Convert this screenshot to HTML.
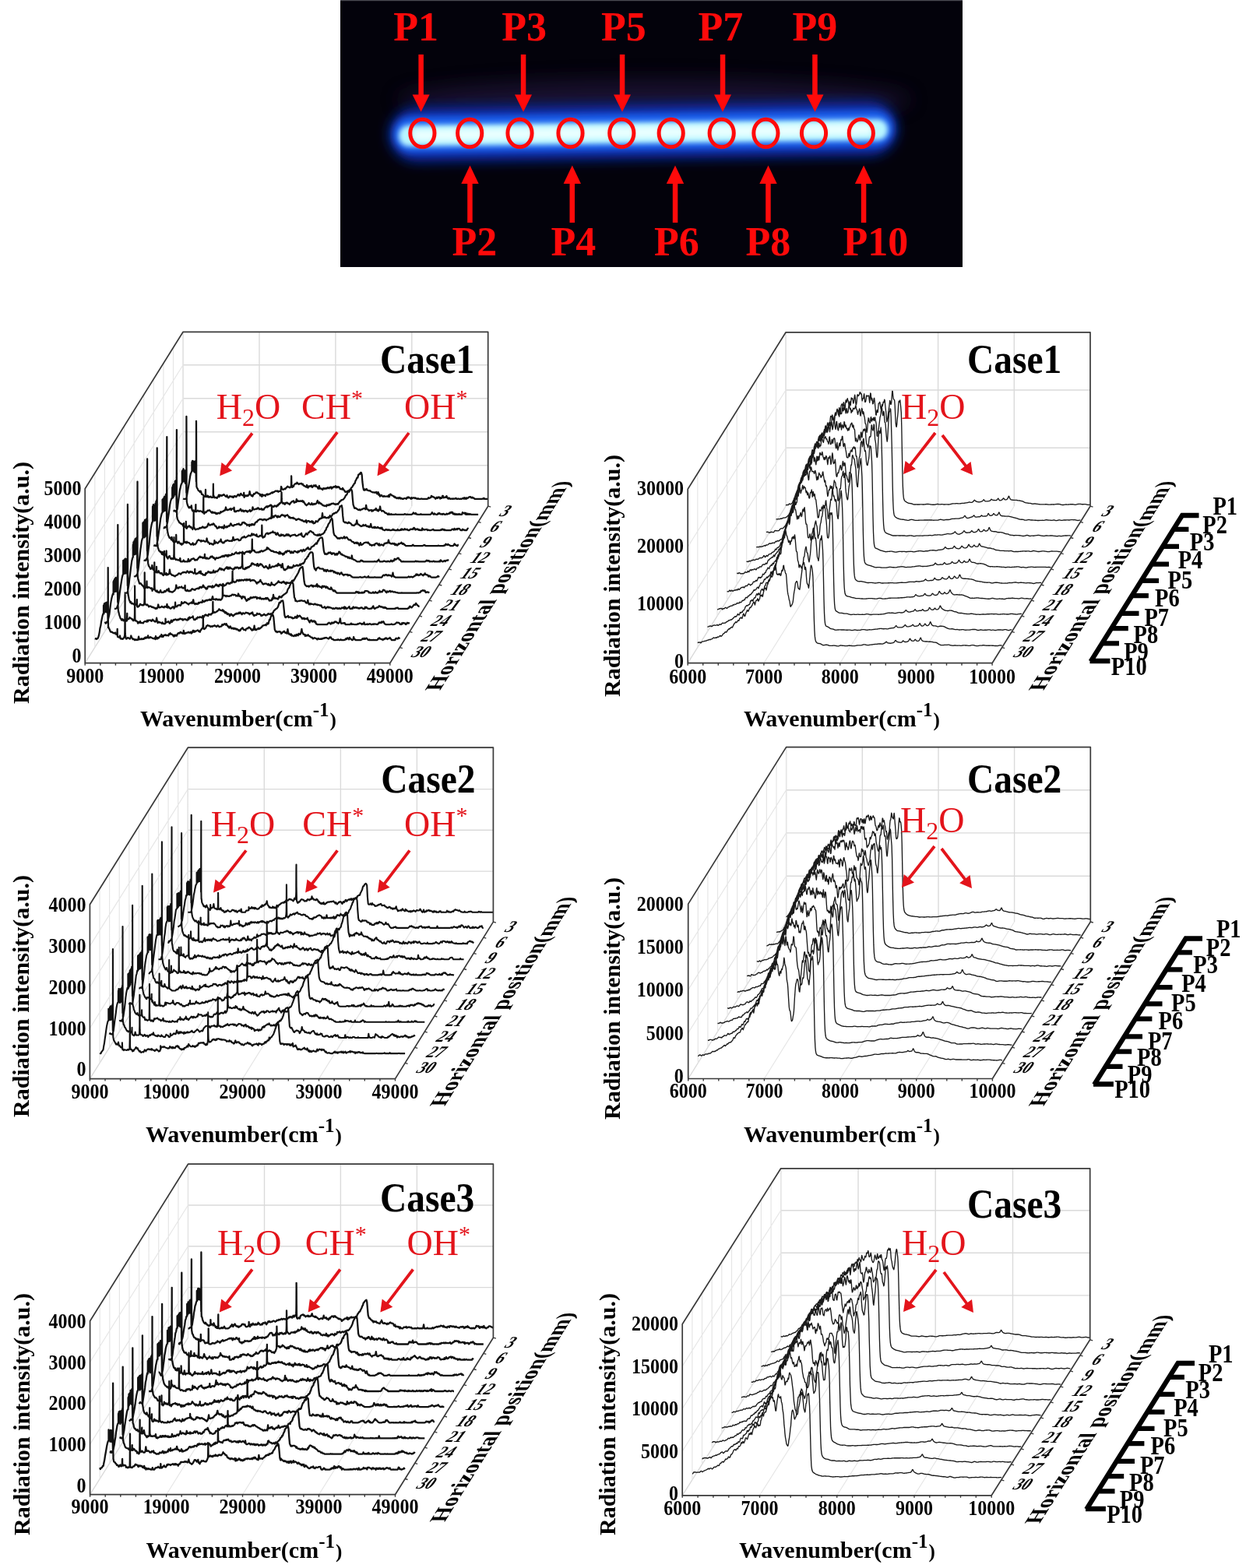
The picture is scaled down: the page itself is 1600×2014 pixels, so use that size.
<!DOCTYPE html><html><head><meta charset="utf-8"><title>Flame spectra</title>
<style>html,body{margin:0;padding:0;background:#fff;}svg{display:block;}text{font-family:"Liberation Serif", "Times New Roman", serif;}</style></head><body>
<svg xmlns="http://www.w3.org/2000/svg" width="1600" height="2014" viewBox="0 0 1600 2014">
<defs><filter id="blur3" x="-20%" y="-50%" width="140%" height="200%"><feGaussianBlur stdDeviation="3"/></filter><filter id="blur5" x="-20%" y="-80%" width="140%" height="260%"><feGaussianBlur stdDeviation="5"/></filter><filter id="blur8" x="-20%" y="-80%" width="140%" height="260%"><feGaussianBlur stdDeviation="8"/></filter><filter id="blur12" x="-30%" y="-200%" width="160%" height="500%"><feGaussianBlur stdDeviation="12"/></filter></defs>
<rect width="1600" height="2014" fill="#fff"/>
<rect x="437" y="0" width="799" height="343" fill="#03020b"/>
<rect x="437" y="0" width="799" height="1.2" fill="#4a4a52"/>
<ellipse cx="840" cy="128" rx="330" ry="26" fill="#2a1a4a" opacity="0.55" filter="url(#blur12)"/>
<g transform="rotate(-0.75 826 170)">
<rect x="500" y="134" width="652" height="70" rx="35" fill="#0c2aa8" filter="url(#blur8)"/>
<rect x="505" y="146" width="642" height="46" rx="23" fill="#1f63f0" filter="url(#blur5)"/>
<rect x="512" y="157" width="628" height="27" rx="13" fill="#b8f6ff" filter="url(#blur3)"/>
<rect x="530" y="163" width="590" height="14" rx="7" fill="#e8ffff" filter="url(#blur3)"/>
</g>
<ellipse cx="542.4" cy="171" rx="15.6" ry="17.8" fill="none" stroke="#ff0a0a" stroke-width="5"/>
<ellipse cx="603.2" cy="171" rx="15.6" ry="17.8" fill="none" stroke="#ff0a0a" stroke-width="5"/>
<ellipse cx="667.5" cy="171" rx="15.6" ry="17.8" fill="none" stroke="#ff0a0a" stroke-width="5"/>
<ellipse cx="732.5" cy="171" rx="15.6" ry="17.8" fill="none" stroke="#ff0a0a" stroke-width="5"/>
<ellipse cx="798.3" cy="171" rx="15.6" ry="17.8" fill="none" stroke="#ff0a0a" stroke-width="5"/>
<ellipse cx="861.7" cy="171" rx="15.6" ry="17.8" fill="none" stroke="#ff0a0a" stroke-width="5"/>
<ellipse cx="926.7" cy="171" rx="15.6" ry="17.8" fill="none" stroke="#ff0a0a" stroke-width="5"/>
<ellipse cx="983.4" cy="171" rx="15.6" ry="17.8" fill="none" stroke="#ff0a0a" stroke-width="5"/>
<ellipse cx="1045" cy="171" rx="15.6" ry="17.8" fill="none" stroke="#ff0a0a" stroke-width="5"/>
<ellipse cx="1105.8" cy="171" rx="15.6" ry="17.8" fill="none" stroke="#ff0a0a" stroke-width="5"/>
<rect x="537.4" y="70" width="6.5" height="54" fill="#ff0a0a"/>
<polygon points="529.6,121.5 551.6,121.5 540.6,143.8" fill="#ff0a0a"/>
<rect x="668.8" y="70" width="6.5" height="54" fill="#ff0a0a"/>
<polygon points="661,121.5 683,121.5 672,143.8" fill="#ff0a0a"/>
<rect x="795.8" y="70" width="6.5" height="54" fill="#ff0a0a"/>
<polygon points="788,121.5 810,121.5 799,143.8" fill="#ff0a0a"/>
<rect x="924.8" y="70" width="6.5" height="54" fill="#ff0a0a"/>
<polygon points="917,121.5 939,121.5 928,143.8" fill="#ff0a0a"/>
<rect x="1043.2" y="70" width="6.5" height="54" fill="#ff0a0a"/>
<polygon points="1035.5,121.5 1057.5,121.5 1046.5,143.8" fill="#ff0a0a"/>
<rect x="600.2" y="232" width="6.5" height="54" fill="#ff0a0a"/>
<polygon points="592.3,236 614.7,236 603.5,212.5" fill="#ff0a0a"/>
<rect x="731.5" y="232" width="6.5" height="54" fill="#ff0a0a"/>
<polygon points="723.6,236 746,236 734.8,212.5" fill="#ff0a0a"/>
<rect x="863.8" y="232" width="6.5" height="54" fill="#ff0a0a"/>
<polygon points="855.8,236 878.2,236 867,212.5" fill="#ff0a0a"/>
<rect x="983.2" y="232" width="6.5" height="54" fill="#ff0a0a"/>
<polygon points="975.3,236 997.7,236 986.5,212.5" fill="#ff0a0a"/>
<rect x="1105.8" y="232" width="6.5" height="54" fill="#ff0a0a"/>
<polygon points="1097.9,236 1120.3,236 1109.1,212.5" fill="#ff0a0a"/>
<text x="534.2" y="51.5" text-anchor="middle" font-size="52" font-weight="bold" fill="#ff0a0a">P1</text>
<text x="673.2" y="51.5" text-anchor="middle" font-size="52" font-weight="bold" fill="#ff0a0a">P3</text>
<text x="800.8" y="51.5" text-anchor="middle" font-size="52" font-weight="bold" fill="#ff0a0a">P5</text>
<text x="925.5" y="51.5" text-anchor="middle" font-size="52" font-weight="bold" fill="#ff0a0a">P7</text>
<text x="1046.5" y="51.5" text-anchor="middle" font-size="52" font-weight="bold" fill="#ff0a0a">P9</text>
<text x="609.5" y="328" text-anchor="middle" font-size="52" font-weight="bold" fill="#ff0a0a">P2</text>
<text x="736.3" y="328" text-anchor="middle" font-size="52" font-weight="bold" fill="#ff0a0a">P4</text>
<text x="869" y="328" text-anchor="middle" font-size="52" font-weight="bold" fill="#ff0a0a">P6</text>
<text x="986.5" y="328" text-anchor="middle" font-size="52" font-weight="bold" fill="#ff0a0a">P8</text>
<text x="1124.3" y="328" text-anchor="middle" font-size="52" font-weight="bold" fill="#ff0a0a">P10</text>
<g>
<path d="M333 650.2V426.3M430.9 650.2V426.3M528.8 650.2V426.3M235.1 597.8H626.7M235.1 554.8H626.7M235.1 511.8H626.7M235.1 468.8H626.7M109.2 851.7l125.9 -201.5M235.1 650.2V426.3" stroke="#dadada" stroke-width="1.4" fill="none"/>
<path d="M235.1 650.2V426.3M222.5 670.4V446.5M209.9 690.5V466.6M197.3 710.7V486.8M184.7 730.8V506.9M172.2 751V527.1M159.6 771.1V547.2M147 791.2V567.4M134.4 811.4V587.5M121.8 831.6V607.7M109.2 799.3l125.9 -201.5M109.2 756.3l125.9 -201.5M109.2 713.3l125.9 -201.5M109.2 670.3l125.9 -201.5M207.1 851.7l125.9 -201.5M305 851.7l125.9 -201.5M402.9 851.7l125.9 -201.5" stroke="#e6e6e6" stroke-width="1.2" fill="none"/>
<path d="M235.1 640.4l0.8 0.4l0.7 0l0.8 0l0.7 0l0.8 0l0.7-1.8l0.8-4.8l0.7-3.9l0.8-4.4l0.7-4.1l0.8-5.2l0.7-4.6l0.8-3.8l0.7-1.4l0.8-1.7l0-11.5l0.3 10.7l0.2-11.8l0.2 11.4l0.1-12l0.3 12.8l0.3-12l0.1 11.4l0.2-10.6l0.3 10.6l0.2-10.1l0.1 10l0.3-11.5l0.3 13.8l0.1-12.3l0.2 12.2l0.3-11.1l0.2 9.5l0.1-10.4l0.3 12.6l0.3-13.7l0.1 13.4l0.2-14.4l0.3 14l0.2-11.9l0 11.7l0.3 12.8l0.1-49.8l0-28.1l0.1 28.1l0.1 49.8l0.2 4.5l0 1.9l0.7 1.8l0.8 1.1l0.7 2l0.8 0.4l0.7 0.3l0.8 1.4l0.7-1.5l0.8 1.6l0.7 2.7l0.8 0.3l0.7 0.1l0.8 1.6l0.7 0.3l0.8 0.5l0.7 0.5l0-0.9l0.2-1.9l0.1-3.6l0.1-2.9l0 1.1l0.1 3.9l0.3 3l0-0.3l0.7 0.5l0.8 1.2l0.7-1.7l0.8 0.5l0.7 1.7l0.8-0.6l0.7 0.3l0.8-0.9l0.7 0.9l0.8 0.5l0.7-0.1l0.8 0.1l0.1-0.3l0.2-3.3l0.1-8.1l0.1-5.6l0 4.2l0.1 8.6l0.1 2.3l0.2-0.5l0.6 1.7l0.7 1.3l0.8-0.1l0.7-0.4l0.8 0.3l0.7 0.8l0.8-1.5l0.7-0.6l0.8-2.1l0.7 2.5l0.8-2.5l0.7 0.9l0.8-0.5l0.7 0.8l0.8-0.4l0.7-0.9l0.8 0.3l0.7-0.8l0.8 1l0.7 0.9l0.8 0.7l0.7 0.3l0.8-1.9l0.7 1.7l0.8 1.5l0.7 0.1l0.8-1.2l0.7-1l0.8 0.6l0.7-0.1l0.8-0.1l0.7 0.9l0.8-0.9l0.7 1.5l0.8-1.3l0.7-0.8l0.8 0.1l0.7 1l0.8 0.1l0.7-1.1l0.8-0.8l0.7-1.2l0.8 0.3l0.7 1.3l0.8 0l0.7-2l0.8-0.8l0.7 1.8l0.8 0l0.7 0.6l0.8 0.1l0.4-0.2l0.3-1.6l0-0.9l0.1-0.3l0-0.5l0.1 0.8l0.1 4.2l0.2 1l0.3-1.1l0.7-1.3l0.8 0.6l0.7-0.7l0.8 0.8l0.7-0.9l0.8 0.7l0.7-1.2l0.8-0.5l0.7-4.1l0.8 3.7l0.7 0.7l0.8 1.2l0.7-0.7l0.8 1.6l0.7-1.9l0.8-1.6l0.7 0.6l0.8-0.9l0.7-0.5l0.8-1.1l0.7 0.6l0.8-0.5l0.7 1l0.8 0.6l0.7 0.2l0.8 0.7l0.7 1.7l0.8-1.6l0.7 1.6l0.8 1.2l0.7-2.7l0.8 1.4l0.7-0.1l0.8-0.6l0.7 0.6l0.8 0.8l0.7-1.9l0.8-0.4l0.7-0.5l0.8 1.1l0.7-0.4l0.8-0.6l0.7 0.2l0.8-0.2l0.7-1.2l0.8 0l0.7-0.9l0.8 1l0.7-1.2l0.8-0.1l0.7 0l0.8-0.9l0.7-0.4l0.8-0.3l0.7 0.3l0.8 0.4l0.7-0.8l0.8 1.4l0.7-0.6l0.8-0.2l0.7-0.3l0.8 0.1l0.7-5.8l0.8 2.2l0.7 1.2l0.8 0.4l0.7-0.1l0.8-0.5l0.7-0.6l0.8 0.6l0.7-1.4l0.8-0.4l0.7-1l0.8-0.7l0.7 0.9l0.8-0.1l0.7 0.7l0.8 0.2l0.7-1l0.6-0.1l0.2-2.2l0.1-2.1l0.1-7.4l0-2.2l0.1 0.9l0.1 7.1l0.2 4.3l0.1-0.7l0.8 2.9l0.7-1.4l0.8 0.4l0.7-2.1l0.8-0.8l0.7-0.7l0.8-0.2l0.7 0.3l0.8-1.7l0.7 1l0.8 0.6l0.7 0.8l0.8-0.9l0.7 0.3l0.8-0.2l0.7-0.5l0.8 0.4l0.7 1.2l0.8-0.7l0.7 1.8l0.8 0.7l0.7-0.2l0.8 0.8l0.7 0.5l0.8 0.4l0.7-2.7l0.8 3.1l0.7 0.4l0.8-2l0.7 0.5l0.8-0.7l0.7-0.3l0.8 0.9l0.7-1.3l0.8 2.4l0.7-0.7l0.8-0.9l0.7-1.1l0.8 0.7l0.7 0.5l0.8-1.4l0.7 1.7l0.8 0.4l0.7 0.4l0.8 1.9l0.7 0.2l0.8-3.7l0.7 3.5l0.8-0.4l0.7 0.7l0.8-0.2l0.7 0.9l0.8 0.5l0.7-1.9l0.8 0.6l0.7-0.5l0.8 0.8l0.7-0.8l0.8-0.1l0.7 0.5l0.8-1.4l0.7 0.6l0.8-0.4l0.7 1l0.8-1.3l0.7-0.2l0.8-0.5l0.7 2.3l0.8-0.4l0.7-1.6l0.8 0.4l0.7-0.9l0.8-0.2l0.7 0.6l0.8-1.4l0.8 2.2l0.7-1.3l0.8 0.1l0.7 0.9l0.8-1l0.7 0.5l0.8 1.1l0.7 1.5l0.8-0.1l0.7 0l0.8 0.6l0.7-1.8l0.8 1.1l0.7 1.4l0.8 0.3l0.7 1.8l0.8 0.4l0.7-0.3l0.8 0.1l0.7-0.8l0.8-0.2l0.7 0l0.8-0.8l0.7-0.5l0.8-0.7l0.7-0.7l0.8-1.7l0.7-0.3l0.8-1.2l0.7-1.5l0.8-0.7l0.7-1.5l0.8-0.3l0.7-3.1l0.8-1.1l0.7-1.8l0.8-1.4l0.7 0.1l0.8-3.8l0.7 0l0.8-1.2l0.7 0.3l0.8-1.9l0.7 0.1l0.8 3.1l0.7 8.9l0.8 6.4l0.7 3.5l0.8 0.9l0.7-1.3l0.8 0.6l0.7 0.2l0.8-1.4l0.7 1.4l0.8 0.5l0.7 0l0.8 0.6l0.7-0.3l0.8 0.1l0.7 0.9l0.8 0.4l0.7 0.3l0.8 0.5l0.7 0.1l0.8 0l0.7 0.2l0.8-0.2l0.7 0.5l0.8-0.7l0.7-0.3l0.8 2.6l0.7-1.1l0.8-1.3l0.7 3.7l0.8-1.1l0.7 2.9l0.8-0.7l0.7-0.7l0.8-0.1l0.7 1.3l0.8 0.3l0.7 0.2l0.8-1l0.7 0.8l0.8-0.1l0.7 0l0.8 0l0.7-0.1l0.8 0l0.7 0.6l0.8-2.2l0.7 2.2l0.8-2.8l0.7-0.6l0.8 0.6l0.7 0.9l0.8 0.3l0.7 0.2l0.8 0.5l0.7 1l0.8-0.5l0.7 1.5l0.8-0.6l0.7 1.2l0.8 0.4l0.7-0.7l0.8-0.3l0.7 1.1l0.8-0.3l0.7-1l0.8 1.6l0.7-0.1l0.8-0.6l0.7 0.9l0.8 0l0.7 0l0.8-0.7l0.7 0l0.8 0.1l0.7 0l0.8 0.6l0.7-1.5l0.8-0.6l0.7 0.9l0.8-1.1l0.7 0.9l0.8 0l0.7 0.4l0.8 1l0.7-1.7l0.8 1.1l0.7-0.7l0.8 0.2l0.7-0.5l0.8 0.3l0.7 0.5l0.8-0.5l0.7 0.8l0.8 0.3l0.7 0.2l0.8-0.7l0.7 0.7l0.8 0l0.7 0l0.8 0l0.7 0l0.8-0.4l0.7 0.4l0.8 0l0.7 0l0.8 0l0.7 0l0.8 0l0.7 0l0.8 0l0.7 0l0.8 0l0.7-0.3l0.8-1.4l0.7 1l0.8-0.6l0.7-0.1l0.8-0.4l0.7-2.1l0.8 1.2l0.7-0.4l0.8 0.6l0.7 0l0.8 0.9l0.7 0.1l0.8 1.4l0.7-0.7l0.8-1.2l0.7 1.1l0.8-0.3l0.7-1.2l0.8 0.6l0.7-0.4l0.8 2l0.7-1.4l0.8 0.7l0.7-0.3l0.8-2.7l0.7 0l0.8 2.5l0.7-0.2l0.8-0.4l0.7-0.5l0.8 0.7l0.7-1.9l0.8 1.6l0.7 1.2l0.8 0.8l0.7-1.2l0.8 0.3l0.7 1l0.8 0l0.7-0.3l0.8 0.3l0.7 0l0.8-0.5l0.7 0.5l0.8-0.3l0.7 0.2l0.8-0.4l0.7-0.5l0.8 1l0.7 0l0.8 0l0.7-0.4l0.8 0.4l0.7 0l0.8 0l0.7-0.1l0.8 0.1l0.7 0l0.8-0.6l0.7 0.1l0.8-0.8l0.7 1.2l0.8-1.4l0.7 1l0.8 0.5l0.7-1.5l0.8 1l0.7-0.7l0.8 0l0.7-1l0.8-0.2l0.7-0.3l0.8 0l0.7 1.2l0.8 0.2l0.7-0.8l0.8 1l0.7-0.4l0.8 0.6l0.7 0.9l0.8 0l0.7 0l0.8 0l0.7 0l0.8 0l0.7 0l0.8 0l0.7 0l0.8 0l0.7 0l0.8 0l0.7 0l0.8 0l0.7-0.3l0.8 0.3l0.7-1l0.8 1l0.7 0l0.8 0l0.7 0l0.8 0l0.7 0l0.8 0M222.5 656.7l0.8-0.3l0.7-0.8l0.8 0.7l0.7-0.1l0.8 1.4l0.7-2.1l0.8-1.8l0.7-6.2l0.8-6l0.7-4.9l0.8-6.7l0.7-2.5l0.8-4l0.7-2.1l0.8-1.2l0-15.1l0.3 14.5l0.3-14l0.1 13.7l0.1-15.4l0.3 12.3l0.3-12.8l0.1 13.7l0.2-14.8l0.3 15.7l0.2-14.7l0.1 13.3l0.3-11.9l0.3 12.5l0.1-11.7l0.2 13.4l0.3-13.6l0.2 13.9l0.1-13.5l0.3 15.3l0.3-16.1l0.1 15.3l0.2-16.2l0.3 17.8l0.2-17.6l0.1 17.5l0.2 11.4l0.1-62.7l0-35.4l0.1 35.4l0.1 62.7l0.2 10.7l0 0.4l0.7 3.5l0.8 2.2l0.7 1.3l0.8 1.3l0.7-1.1l0.8 0.9l0.7-0.5l0.8-2.4l0.7 5.3l0.8 1.8l0.7-0.5l0.8 1.1l0.7-0.2l0.8-0.6l0.7 0.9l0-0.4l0.2-3.5l0.1-4.1l0.1-1l0 2.3l0.1 5.1l0.3 1.5l0 0.3l0.7-0.4l0.8-0.6l0.7-0.7l0.8 0.6l0.7 0.6l0.8-0.2l0.7-0.5l0.8 0.5l0.7 0.1l0.8 0.3l0.7 1.1l0.8 0l0.1 0l0.2-3.8l0.1-9.8l0.1-6.1l0 7.6l0.1 9.4l0.1 3.5l0.2 0.1l0.6 0.9l0.7-2.1l0.8-0.2l0.7 0.7l0.8-1.2l0.7-0.6l0.8-0.9l0.7 0.3l0.8-0.4l0.7-0.3l0.8 1.1l0.7 0.7l0.8 0.9l0.7 0.7l0.8-1.2l0.7 1.3l0.8-0.1l0.7-0.5l0.8 0.8l0.7-0.5l0.8 1.6l0.7-1.1l0.8 1.2l0.7-0.6l0.8-0.8l0.7 0.5l0.8 0.3l0.7-0.1l0.8-2.2l0.7 0.9l0.8-0.7l0.7-0.4l0.8 0.1l0.7-0.9l0.8-0.5l0.7 0.1l0.8-1.3l0.7-3l0.8 3.3l0.7-0.3l0.8 0.8l0.7-0.7l0.8 0.1l0.7-0.2l0.8-1l0.7-0.3l0.8 2l0.7-1.5l0.8-0.2l0.7-0.2l0.8 0.6l0.4 0.3l0.3-1.6l0-0.7l0.1 0.6l0-0.7l0.1 0.8l0.1 3.8l0.2 0.3l0.3-0.5l0.7 1.2l0.8-0.9l0.7 0.5l0.8-0.8l0.7-0.1l0.8-0.3l0.7 0.6l0.8-0.9l0.7 0l0.8-1.8l0.7 1l0.8 1.9l0.7-0.1l0.8-1.1l0.7 1l0.8 0.8l0.7-1.2l0.8 0.1l0.7-0.4l0.8 1l0.7-0.5l0.8 1.4l0.7-1l0.8-0.1l0.7-0.5l0.8-1l0.7 2l0.8-0.6l0.7-0.4l0.8-0.7l0.7-4l0.8 2.8l0.7 0.2l0.8 0.1l0.7-0.4l0.8-0.2l0.7-0.4l0.8 0.5l0.7-1.2l0.8-0.4l0.7 0.4l0.8 1.5l0.7-0.6l0.8 0.3l0.7 0.3l0.8-1.1l0.7 1.7l0.8-0.7l0.7 0.5l0.8 0l0.7-1.8l0.8-0.6l0.7-0.5l0.8-1.1l0.7-0.2l0.8 1.1l0.7-1.4l0.8 0.6l0.7-0.5l0.8-1l0.7 0.3l0.8-1.1l0.7 0.8l0.8 1.3l0.7 0.5l0.8-0.5l0.7 0.6l0.8-1.4l0.7-0.2l0.8 0.1l0.7 1.1l0.8-0.1l0.7-1.7l0.8 0.7l0.7-2l0.8 0.4l0.7-1.7l0.8 0.3l0.7-0.8l0.6-1.1l0.2-1.7l0.1-3.1l0.1-6.5l0-1l0.1 1.1l0.1 6.9l0.2 4.9l0.1-0.1l0.8 0.2l0.7 1.5l0.8-0.7l0.7 0.1l0.8 1.6l0.7-1.9l0.8-0.3l0.7 0.6l0.8-0.8l0.7 1.1l0.8 0l0.7 0.6l0.8 0.9l0.7-1.2l0.8-0.8l0.7-1.1l0.8-0.5l0.7-0.7l0.8 0.4l0.7-0.9l0.8 2.5l0.7-1l0.8 0.3l0.8-0.1l0.7-3.8l0.8 2.9l0.7-1.1l0.8 0.8l0.7-0.2l0.8 0.3l0.7-0.4l0.8-0.3l0.7 0.7l0.8-0.1l0.7-0.8l0.8 1.8l0.7-1l0.8 1.9l0.7 0.7l0.8 1.5l0.7 0.3l0.8 1l0.7-0.6l0.8-1.1l0.7-0.1l0.8-1.4l0.7 1.5l0.8 0.2l0.7 0.5l0.8-0.1l0.7-1.9l0.8 1.2l0.7 0.9l0.8-0.8l0.7-0.6l0.8 1l0.7-0.8l0.8 0l0.7-0.4l0.8-2.3l0.7-1.4l0.8 2.6l0.7 0.9l0.8-1.4l0.7 0.9l0.8 1l0.7-0.3l0.8 0.8l0.7 1.1l0.8 0l0.7 0.9l0.8-0.2l0.7 0.7l0.8-0.4l0.7 0l0.8 0.8l0.7-1.9l0.8 0.5l0.7-0.4l0.8 0.5l0.7-1.3l0.8 0.7l0.7-0.1l0.8-1.3l0.7-0.2l0.8 0.2l0.7-0.5l0.8-0.1l0.7 0.9l0.8 0.2l0.7-0.5l0.8 1l0.7-0.3l0.8-0.6l0.7 0l0.8 0.5l0.7-1.6l0.8-0.6l0.7-1.6l0.8 0l0.7-0.9l0.8-0.9l0.7 0l0.8-0.3l0.7-0.4l0.8-0.9l0.7-0.9l0.8-1.2l0.7-1.8l0.8-0.7l0.7-0.6l0.8-2l0.7-2l0.8-0.7l0.7 1.2l0.8-1.4l0.7-1.5l0.8 0.1l0.7-0.2l0.8 2.6l0.7 9l0.8 7.9l0.7 1.8l0.8 2.6l0.7 0.2l0.8-0.5l0.7 0.5l0.8 0.8l0.7 0.2l0.8 0.7l0.7 0.3l0.8 0.2l0.7-0.8l0.8 1.1l0.7-0.7l0.8-0.3l0.7-0.3l0.8 0l0.7-1l0.8 0.1l0.7-0.2l0.8 0.3l0.7 0.9l0.8-5.4l0.7 3.9l0.8 1.6l0.7 0.2l0.8 0.2l0.7 1.3l0.8-0.6l0.7 0l0.8-0.2l0.7-0.2l0.8 1.8l0.7-1.3l0.8 0.8l0.7-1l0.8-0.4l0.7-0.3l0.8 0.2l0.7-1.8l0.8 1.9l0.7 0.8l0.8-0.9l0.7 1.7l0.8-1.8l0.7 0.4l0.8-4.6l0.7 4.3l0.8 0.7l0.7 1.1l0.8-0.3l0.7-0.3l0.8 0.8l0.7 0.2l0.8 1.3l0.7 0.7l0.8-0.1l0.7 0.1l0.8 0.9l0.7 0.9l0.8 0.1l0.7-1.5l0.8 1.5l0.7 0l0.8 0l0.7-0.8l0.8 0.8l0.7 0l0.8 0l0.7 0l0.8 0l0.7 0l0.8-0.2l0.7-0.3l0.8 0.5l0.7 0l0.8 0l0.7 0l0.8 0l0.7 0l0.8 0l0.7 0l0.8 0l0.7 0l0.8 0l0.7 0l0.8 0l0.7-0.1l0.8-0.6l0.7 0.1l0.8 0.4l0.7 0.2l0.8 0l0.7-0.2l0.8 0.2l0.7 0l0.8 0l0.7 0l0.8 0l0.7-0.1l0.8 0.1l0.7-0.7l0.8-0.3l0.7-1.5l0.8 0.7l0.7 0.7l0.8 0.3l0.7-1.1l0.8 1.5l0.7-0.2l0.8 0.6l0.7-0.1l0.8 0.1l0.7 0l0.8 0l0.7-0.4l0.8-0.3l0.7 0.7l0.8 0l0.7 0l0.8 0l0.7 0l0.8 0l0.7 0l0.8 0l0.7 0l0.8 0l0.7 0l0.8 0l0.7 0l0.8 0l0.7 0l0.8 0l0.7-0.6l0.8-0.5l0.7-1.7l0.8 1.4l0.7 0.4l0.8 0.9l0.7-1.3l0.8 0.6l0.7 0.4l0.8 0.4l0.7 0l0.8-0.1l0.7-1.3l0.8 0.6l0.7-1.1l0.8 0.3l0.7 0.9l0.8 0.4l0.7-0.3l0.8-0.4l0.7 0.9l0.8-0.9l0.7 0l0.8 0.7l0.7 0.3l0.8 0l0.7-0.6l0.8-0.6l0.7 0.9l0.8-0.8l0.8 0.2l0.7-0.1l0.8-1.4l0.7 0.7l0.8-1l0.7-0.5l0.8 1.2l0.7-0.9l0.8 2.3l0.7-0.7l0.8 1.1l0.7-1l0.8 1.2l0.7 0l0.8-0.7l0.7 0.7l0.8-0.4l0.7 0.4l0.8-0.9l0.7 0.9l0.8-0.3l0.7 0.3l0.8 0l0.7 0l0.8-2.7l0.7 0.5l0.8 0.6l0.7-0.3l0.8-0.4l0.7 2.1l0.8-1.7l0.7 1.8l0.8 0l0.7-1.1l0.8 0.5l0.7 0.7l0.8-0.9l0.7 0.6l0.8-0.3l0.7 0.6l0.8 0l0.7 0l0.8 0l0.7 0l0.8 0l0.7 0l0.8 0l0.7 0l0.8 0l0.7 0l0.8 0l0.7 0M209.9 677.9l0.8 0.4l0.7-1.4l0.8 0.8l0.7-0.5l0.8-0.9l0.7-2.5l0.8-3.6l0.7-5.2l0.8-5.1l0.7-5.1l0.8-6.4l0.7-3.9l0.8-2.5l0.7-1.8l0.8-0.1l0-14.1l0.3 13l0.3-14.3l0.1 14.1l0.2-15.7l0.3 16.1l0.2-15.2l0.1 13l0.2-15l0.3 13l0.2-12.9l0.1 15.2l0.3-14.8l0.3 12.6l0.1-13l0.2 11.7l0.3-15.1l0.2 15l0.1-15.9l0.3 16.7l0.3-17.2l0.1 18.1l0.2-15.4l0.3 14.3l0.2-16.7l0.1 19.2l0.2 15.7l0.1-64.2l0.1-36.2l0 36.2l0.1 64.2l0.2 11.3l0-1.1l0.7 4.1l0.8 1.5l0.7 1l0.8 1.8l0.7 0.6l0.8 0l0.7 1.1l0.8 0.3l0.7-0.1l0.8 1.7l0.7 1.2l0.8-0.2l0.7 0.9l0.8 0.3l0.7-1.1l0 1l0.3-1.9l0.1-4.7l0-0.4l0 0.7l0.1 5.3l0.3 2.7l0-1.1l0.7 1.3l0.8-2.4l0.7 0.6l0.8-0.5l0.7-1.2l0.8 1.2l0.7 1l0.8-0.8l0.7 1.3l0.8 0.9l0.7 1.2l0.8-2.3l0.1 0.5l0.2-4.2l0.1-10.3l0.1-8.3l0 6.6l0.1 10.3l0.1 3.6l0.2 2l0.6 0.2l0.7 1.8l0.8 0.4l0.7-0.5l0.8-0.3l0.7-0.2l0.8 0.4l0.7-0.3l0.8-0.6l0.7-0.9l0.8 0.6l0.7-0.7l0.8 0.2l0.7-0.5l0.8-1.1l0.7 0.7l0.8 0.8l0.7-0.4l0.8 0.6l0.7-0.9l0.8 0.2l0.7-0.8l0.8-0.3l0.7-2.3l0.8-1.7l0.7 1.8l0.8 0.5l0.7-0.2l0.8 0l0.7-0.9l0.8 0.1l0.7 0.2l0.8-1.3l0.7 0.2l0.8 1l0.7 1.4l0.8 1l0.7-0.5l0.8 2l0.7 1.1l0.8-0.6l0.7 0.1l0.8-1.8l0.7 1.1l0.8-0.3l0.7 0l0.8-0.2l0.7 1.1l0.8-1.5l0.7 0.5l0.8 1.7l0.5-1.6l0.2-0.8l0 0.8l0.1-1.8l0-0.8l0.1 1l0.1 1.2l0.2 0.3l0.3 0.3l0.7-0.6l0.8 0.5l0.7-1.1l0.8 1l0.7-0.9l0.8-0.7l0.7-0.3l0.8 0.4l0.7-1.4l0.8-1.9l0.7 0.7l0.8 1.7l0.7 0.5l0.8-0.3l0.7 0.6l0.8-1.4l0.7 0l0.8-0.1l0.7-0.1l0.8-0.3l0.7-0.7l0.8 0.5l0.7 0l0.8-1l0.7 1.2l0.8 0.5l0.7 0.3l0.8-1l0.7 0.1l0.8-2.5l0.7 0.4l0.8-0.4l0.7-0.3l0.8 1.5l0.7-0.3l0.8 1.1l0.7 0l0.8 1.7l0.7-0.4l0.8-0.5l0.7 0.5l0.8 1.4l0.7-2.1l0.8 0.4l0.7 0.5l0.8-1.5l0.7 1.2l0.8-1.1l0.7 0.5l0.8 0.7l0.7-0.8l0.8-2.1l0.8-0.6l0.7-0.7l0.8 0.2l0.7-1.5l0.8-0.9l0.7 0l0.8-0.8l0.7-0.4l0.8 0.1l0.7 0.4l0.8-0.2l0.7 0.4l0.8 0.7l0.7-0.7l0.8-0.7l0.7 0.6l0.8-0.5l0.7 0.8l0.8 0.7l0.7-0.9l0.8-0.4l0.7 0.1l0.8-0.6l0.7-0.9l0.8 0.2l0.7-0.7l0.8 0.8l0.5-2.5l0.2-1l0.1-3.4l0.1-5.8l0-3.8l0.1 2.6l0.1 5.7l0.2 6.8l0.2 0.5l0.7-1.3l0.8-0.5l0.7 1.1l0.8-1.7l0.7-0.4l0.8-0.4l0.7 0.9l0.8 1.2l0.7 0.6l0.8-2l0.7 1.4l0.8-0.3l0.7 0.5l0.8-0.9l0.7-1.1l0.8-0.5l0.7-0.7l0.8 0.8l0.7 0.2l0.8-0.3l0.7 1.3l0.8 0.7l0.7-1.5l0.8 0l0.7-0.3l0.8-0.6l0.7 1.1l0.8 0.7l0.7 1.7l0.8-0.9l0.7 1.5l0.8-0.3l0.7 0.3l0.8-0.3l0.7 0.4l0.8-0.7l0.7 1.3l0.8-0.2l0.7 0.6l0.8 0.3l0.7 1.2l0.8-0.1l0.7-0.9l0.8 0l0.7-0.7l0.8 0.2l0.7 0.9l0.8 0l0.7 0.3l0.8 0.8l0.7-0.4l0.8 0.3l0.7 0.9l0.8 0.6l0.7-0.4l0.8 0.5l0.7-1.2l0.8-0.6l0.7 3.1l0.8-1.9l0.7-0.1l0.8-0.3l0.7 0.2l0.8 1.1l0.7-0.4l0.8 0.6l0.7-0.1l0.8-1.3l0.7 2.3l0.8-1.4l0.7 2.4l0.8-0.6l0.7 0.2l0.8-1.2l0.7-1.6l0.8 0.6l0.7 0.3l0.8 0l0.7-1.8l0.8-0.1l0.7-1.8l0.8 0.1l0.7-0.5l0.8-0.6l0.7 0.3l0.8-6.6l0.7 5.8l0.8-0.3l0.7 0.1l0.8-1l0.7 1.2l0.8-0.2l0.7 0.7l0.8-0.3l0.7-0.1l0.8-0.7l0.7 1.1l0.8-1.1l0.7-2.1l0.8 1.7l0.7-0.1l0.8-1.4l0.7-0.8l0.8-1.7l0.7 0.3l0.8-1.1l0.7 0.5l0.8-1l0.7-0.5l0.8 0.5l0.7-1l0.8-0.5l0.7-1.5l0.8-0.6l0.7-1.2l0.8-3.4l0.7-0.1l0.8-0.1l0.7-1.1l0.8 3.9l0.7 9.4l0.8 7l0.7 1.1l0.8 0.2l0.7 0.6l0.8-0.6l0.7 0.7l0.8 0.1l0.7 0.7l0.8-0.3l0.7-1.3l0.8 0.6l0.7 0.7l0.8 0l0.7 0.8l0.8 1.2l0.7 0.7l0.8-0.1l0.7 0.3l0.8 0.3l0.7-0.6l0.8-1.2l0.7 0.3l0.8-1.5l0.7-3.8l0.8 4.3l0.7 1.1l0.8-0.2l0.7 0.6l0.8 1l0.7 0l0.8 1l0.7-0.1l0.8-0.6l0.7 0.1l0.8-1.6l0.7 1.2l0.8 0.1l0.7-0.3l0.8-0.9l0.7 1.5l0.8 0.7l0.7-0.4l0.8-0.1l0.7 1.1l0.8-0.6l0.7 1l0.8-1.6l0.7-2.7l0.8 4.1l0.7 0.4l0.8 0.4l0.7-0.4l0.8-0.4l0.7 1.1l0.8-1.4l0.7 1.1l0.8-0.1l0.7 0.5l0.8-0.6l0.7-0.7l0.8 1.2l0.7 0l0.8 0.3l0.7 0.4l0.8-1l0.7 1l0.8-1.1l0.7 2.4l0.8 0.2l0.7 0.3l0.8 0.5l0.7 0l0.8-0.6l0.7-0.5l0.8 0.7l0.7-0.5l0.8 0.9l0.7-0.4l0.8-0.6l0.7 1l0.8 0l0.7 0l0.8 0l0.7-0.4l0.8 0.1l0.7-1l0.8 1l0.7-0.3l0.8 0.6l0.7 0l0.8 0l0.7 0l0.8 0l0.7-1.2l0.8 1.2l0.7 0l0.8 0l0.7 0l0.8-1.1l0.7 0.9l0.8-1.6l0.7 0.7l0.8 0.6l0.7-0.4l0.8 0.1l0.7-1.1l0.8 0.7l0.7 0.4l0.8-0.2l0.7-0.4l0.8 1.3l0.8 0.1l0.7-0.2l0.8 0.2l0.7-0.9l0.8-0.6l0.7 0.2l0.8 0.1l0.7-0.6l0.8 0.7l0.7-1.8l0.8-0.4l0.7 1.5l0.8 1.2l0.7-1l0.8 0.3l0.7 0.3l0.8-0.7l0.7 0.6l0.8 0.9l0.7-0.7l0.8 0.9l0.7 0l0.8-0.4l0.7 0.4l0.8-2.6l0.7 2l0.8-0.6l0.7 0.4l0.8 0.3l0.7-0.5l0.8-0.1l0.7 0.2l0.8-0.4l0.7 1.3l0.8-0.3l0.7-0.2l0.8 0.5l0.7 0l0.8 0l0.7 0l0.8-0.4l0.7-0.3l0.8-0.3l0.7-0.2l0.8 1.2l0.7 0l0.8 0l0.7 0l0.8 0l0.7 0l0.8 0l0.7 0l0.8 0l0.7 0l0.8 0l0.7 0l0.8-0.9l0.7 0.6l0.8-1.1l0.7-0.1l0.8 1.1l0.7-0.7l0.8 1.1l0.7-0.6l0.8 0.6l0.7 0l0.8 0l0.7 0l0.8 0l0.7 0l0.8 0l0.7 0l0.8-0.1l0.7 0.1l0.8-0.5l0.7-0.9l0.8 0l0.7 0.4l0.8 0.6l0.7-1.8l0.8 0.9l0.7 0.5l0.8-0.7l0.7-0.5l0.8 1.1l0.7-1.3l0.8 0.1l0.7-0.1l0.8 0.6l0.7 1.1l0.8 0.5l0.7-0.2l0.8 0.2l0.7-1.3l0.8 0.9l0.7-0.4l0.8 0.6l0.7 0.2l0.8-0.2l0.7 0.2l0.8 0l0.7-1.4l0.8-1l0.7 0.5M197.3 700.4l0.8 0.5l0.7-0.7l0.8 1l0.7-0.1l0.8 0.1l0.7-4.3l0.8-3.1l0.7-5.8l0.8-5.6l0.7-4.9l0.8-6.6l0.7-5.2l0.8-3.5l0.7-2.9l0.8-1.1l0-16.4l0.3 13.2l0.3-13.8l0.1 16.4l0.2-16.5l0.3 15.2l0.3-15.2l0 15.6l0.3-17.2l0.2 16.8l0.2-15.2l0.1 13.2l0.3-16.4l0.3 15l0.1-13.2l0.2 16.4l0.3-18.4l0.2 14l0.1-13.3l0.3 15.4l0.3-18.9l0.1 17.2l0.2-16.5l0.3 15.8l0.2-14.6l0.1 15.5l0.2 17.9l0.1-69.6l0.1-39.4l0 39.4l0.1 69.6l0.2 10.4l0.1-0.4l0.6 3.2l0.8 4l0.7 1.4l0.8 2.1l0.7-0.1l0.8-0.1l0.7 2.4l0.8-3.2l0.7 4.2l0.8 1l0.7 0.8l0.8 0.1l0.7 0.7l0.8-0.7l0.7-1l0-0.3l0.3-0.6l0.1-6l0-1.3l0.1 1.3l0.1 5.2l0.2 2.1l0-0.3l0.7 0.5l0.8 2.1l0.7-0.6l0.8-1.5l0.7 1.9l0.8 0.3l0.7 0.9l0.8-0.8l0.7 1.9l0.8-1.2l0.7 0.1l0.8-1.3l0.1-0.4l0.3-3.7l0-15.1l0.1-6.2l0 7.5l0.1 12.9l0.1 2.7l0.2 1.4l0.6 0.2l0.7-0.8l0.8 1.3l0.7 0.2l0.8-1.7l0.7 1.3l0.8-0.2l0.7 0.2l0.8 0.5l0.7 0.8l0.8 0.6l0.7 0.7l0.8-0.3l0.7-0.8l0.8-1.1l0.7 2.4l0.8-0.7l0.7-0.2l0.8 0.4l0.7-1l0.8-0.7l0.7-1.7l0.8-1.6l0.7-0.3l0.8-0.8l0.7 0.8l0.8 0.3l0.7 0.1l0.8 1.2l0.7-1.3l0.8 0.7l0.7-0.2l0.8-0.4l0.7 0.2l0.8 0.9l0.7 0.2l0.8-0.1l0.7-0.3l0.8-3.8l0.7 3.4l0.8 2l0.7-0.4l0.8 1l0.7 1.4l0.8-1l0.7 0.1l0.8 0.3l0.7 0.9l0.8-0.6l0.7 1l0.8-1.4l0.5 0l0.2-0.5l0-0.6l0.1-2.9l0.1 0.8l0-0.6l0.1 2.3l0.2 0l0.3 1.5l0.8-1.2l0.7-0.7l0.8 0.7l0.7 0.6l0.8 0l0.7-1l0.8-1.1l0.7-0.3l0.8 0.3l0.7-2.8l0.8 3l0.7 0.6l0.8 1.1l0.7-0.8l0.8 0.8l0.7-1.2l0.8-1l0.7-0.7l0.8 0.6l0.7-0.9l0.8-0.3l0.7 0.2l0.8 0.5l0.7-0.1l0.8 0.4l0.7 0.1l0.8-0.3l0.7-0.3l0.8 0.6l0.7-0.8l0.8-4.4l0.7 3.8l0.8 0.5l0.7-1l0.8 0.2l0.7-0.2l0.8-0.5l0.7 0l0.8-0.1l0.7 0.8l0.8 1l0.7-0.4l0.8-0.1l0.7-0.5l0.8-2l0.7-0.2l0.8-1.2l0.7 0.4l0.8-0.1l0.7-1.4l0.8 1.2l0.7 0.4l0.8-0.3l0.7-0.4l0.8-0.7l0.7-0.1l0.8-1.3l0.7 0l0.8 0.7l0.7-0.3l0.8 0.4l0.7-1.1l0.8-1.9l0.7 1.9l0.8-0.2l0.7-1.1l0.8 0.4l0.7 1l0.8 0.1l0.7 0.6l0.8-1.8l0.7 2.6l0.8 0.3l0.7 0.2l0.8-0.1l0.7-0.6l0.8-0.9l0.7 0.5l0.8-0.2l0.6-0.9l0.1-1.7l0.1-1.8l0.1-7.5l0-1.5l0.1 2.4l0.1 7.1l0.2 4.7l0.2 0.4l0.7 1.3l0.8-1.1l0.7 0.5l0.8-0.7l0.7-2.1l0.8-1.4l0.7-0.6l0.8-0.2l0.7-0.4l0.8 1.5l0.7-0.9l0.8-0.3l0.7 0.2l0.8-0.7l0.7-0.3l0.8-0.2l0.7-0.1l0.8-1.3l0.7 1.5l0.8 0.3l0.7-0.3l0.8 0.2l0.7 2.1l0.8 0.6l0.7-1.1l0.8-1.4l0.7 1.3l0.8 1.9l0.7-0.3l0.8 1.2l0.7-0.3l0.8-1.8l0.7 1.5l0.8-0.7l0.7-0.4l0.8 0.5l0.7 1.2l0.8-0.1l0.7-0.7l0.8 0.3l0.7-1.6l0.8 0.9l0.7-1l0.8 1.4l0.7-1.3l0.8 0.9l0.7 1l0.8 0.8l0.7-1.3l0.8 0l0.7-0.5l0.8 0l0.7-0.1l0.8-0.1l0.7-0.3l0.8-0.1l0.7 1.1l0.8 0.6l0.7-0.3l0.8-0.1l0.7-0.2l0.8-1.1l0.7 0l0.8 0l0.7-0.8l0.8 1l0.7-2l0.8 3.6l0.7 0.4l0.8 0.6l0.7 0.2l0.8-0.9l0.7-1.4l0.8-1l0.7-1.3l0.8 1.1l0.7 0.4l0.8-1.4l0.7-1.4l0.8 0.1l0.7-1.1l0.8-0.9l0.7 0.4l0.8 0.3l0.7 1l0.8 0.4l0.7-0.1l0.8 1.7l0.7 0.9l0.8 0.1l0.7 0.5l0.8 0.2l0.7 0.1l0.8 0.5l0.7-1.3l0.8 1.2l0.7-0.5l0.8-1.1l0.7 1.7l0.8-0.6l0.7-0.9l0.8 0l0.7-0.5l0.8-0.2l0.7-1.1l0.8-0.3l0.7-2l0.8-1l0.7-1l0.8-2.6l0.7-0.5l0.8-1.6l0.7-2.3l0.8-1.1l0.7-0.7l0.8-1.8l0.7-1.9l0.8-1l0.7-1.2l0.8 2.5l0.7 8.7l0.8 7.3l0.7 2.5l0.8 1.4l0.7 0.2l0.8 0.9l0.7 0.7l0.8 1l0.7 0.9l0.8 0l0.7-0.8l0.8 0.9l0.7-0.2l0.8-1l0.7 0.4l0.8-0.3l0.7 0.7l0.8-0.1l0.7-0.8l0.8-1.2l0.7 2.1l0.8-0.1l0.7-1.1l0.8 0l0.7 0l0.8 1.5l0.7 1l0.8 0.6l0.7 0l0.8 0.4l0.7-0.3l0.8 1l0.7 0.9l0.8 0.6l0.7 0.1l0.8 0.2l0.7 1.3l0.8 0.4l0.7-0.7l0.8-0.4l0.7 0.9l0.8-1l0.7 1.5l0.8-0.8l0.7 1.1l0.8 2l0.7-1l0.8-2.4l0.7 2.4l0.8 0.5l0.7-0.9l0.8 0l0.7-0.8l0.8-0.8l0.7-0.4l0.8-0.1l0.7-0.3l0.8-0.1l0.7 0.2l0.8 0.6l0.8-0.9l0.7 1.4l0.8 0.3l0.7 1.7l0.8-0.3l0.7 0l0.8 1.2l0.7-0.6l0.8 0.2l0.7-0.6l0.8-0.1l0.7 0.8l0.8-2l0.7-0.3l0.8-0.1l0.7-0.5l0.8 0.8l0.7 0.8l0.8 1.1l0.7-1.9l0.8 2.3l0.7-0.8l0.8 0.1l0.7-0.7l0.8 0.6l0.7-0.1l0.8 1.1l0.7-1.3l0.8-1.7l0.7 0.2l0.8 0.1l0.7-1l0.8 0.5l0.7-0.3l0.8-0.7l0.7-3.1l0.8 3.8l0.7-0.4l0.8 1.2l0.7 0.1l0.8 0.3l0.7-0.6l0.8-0.2l0.7 0.9l0.8-0.2l0.7-0.5l0.8 2.2l0.7-1.4l0.8 0.1l0.7 1.5l0.8 0.1l0.7-0.8l0.8-1.5l0.7 0.8l0.8-0.8l0.7-0.3l0.8 0l0.7-1.1l0.8 1l0.7 1l0.8-0.7l0.7 0.2l0.8 1.5l0.7-0.1l0.8 1.1l0.7 0.4l0.8 0l0.7 0l0.8 0l0.7 0l0.8 0l0.7 0l0.8 0l0.7 0l0.8 0l0.7 0l0.8-1.2l0.7-0.3l0.8 1.1l0.7 0.4l0.8 0l0.7 0l0.8 0l0.7-0.2l0.8 0.2l0.7 0l0.8 0l0.7 0l0.8 0l0.7 0l0.8 0l0.7-0.1l0.8 0.1l0.7 0l0.8-0.4l0.7-0.4l0.8-0.2l0.7-0.1l0.8 0.9l0.7 0.2l0.8 0l0.7 0l0.8 0l0.7 0l0.8 0l0.7 0l0.8 0l0.7 0l0.8 0l0.7 0l0.8 0l0.7 0l0.8 0l0.7 0l0.8 0l0.7 0l0.8 0l0.7 0l0.8 0l0.7 0l0.8-0.5l0.7 0.1l0.8 0.4l0.7 0l0.8 0l0.7 0l0.8 0l0.7 0l0.8 0l0.7 0l0.8-0.7l0.7 0.3l0.8-0.5l0.7-1.6l0.8 1l0.7-0.4l0.8 0.7l0.7-1.1l0.8 1l0.7 0.1l0.8 0.4l0.7 0.8l0.8 0l0.7 0l0.8 0l0.7 0l0.8-0.4l0.7-1.1l0.8-1.3l0.7 1.6l0.8-0.1l0.7 0.7l0.8 0.2l0.7 0.4l0.8-1.4l0.7-0.3M184.7 719.4l0.8 0.5l0.7-0.3l0.8 0.3l0.7-1.4l0.8-1.1l0.7-1.6l0.8-4.5l0.7-6.1l0.8-5.8l0.7-7.8l0.8-7l0.7-5.7l0.8-4.3l0.7-3.2l0.8-1.5l0-19.2l0.3 14.7l0.3-15.8l0.1 15.8l0.2-17.2l0.3 18l0.3-15l0 17.2l0.3-17.4l0.3 16.2l0.1-16.4l0.1 18.1l0.3-19.9l0.3 18.5l0.1-18.8l0.2 17.6l0.3-19.7l0.2 21.7l0.1-20.9l0.3 19.7l0.3-23.1l0.1 19.1l0.2-17.1l0.3 15.8l0.2-19.7l0.1 20l0.2 27l0.1-72.7l0.1-41l0 41l0.1 72.7l0.2 6.8l0.1 1.8l0.6 4.8l0.8 2.7l0.7 2.2l0.8 0.3l0.7 1.2l0.8-0.5l0.7 1.9l0.8 1.6l0.7-2.9l0.8 3.6l0.7-1.2l0.8 1.1l0.7-0.8l0.8 1.5l0.7-1.1l0 1.3l0.3-1.6l0.1-3.7l0-0.3l0.1-0.3l0.1 6.2l0.2 1.9l0-1.1l0.7 1.1l0.8 1.9l0.7-1.9l0.8-0.9l0.7-0.6l0.8 2.1l0.7 1.2l0.8 0.6l0.7-1.1l0.8 0.4l0.7 0.9l0.8-0.5l0.1-1.7l0.3-4.7l0.1-13.2l0-7.9l0.1 8.7l0.1 13.3l0 3l0.2 0.2l0.6 1.8l0.8 1.3l0.7 0.5l0.8-0.7l0.7 0.6l0.8 0.6l0.7 0l0.8-0.4l0.7 0.9l0.8-3l0.7 4.4l0.8 0l0.7 0l0.8 0l0.7-0.5l0.8-1.5l0.7 2l0.8-0.3l0.7 0.3l0.8 0l0.7 0l0.8 0l0.7 0l0.8-3.5l0.7 3l0.8 0.3l0.7-1.5l0.8 0.3l0.7-1.7l0.8-0.3l0.7 0.1l0.8-0.6l0.7-0.3l0.8 0.5l0.7 1.7l0.8 0.3l0.7-0.6l0.8-0.2l0.7 0.4l0.8-1.2l0.7-0.7l0.8-1.4l0.7-0.2l0.8-1.2l0.7 1.3l0.8 0l0.7-0.4l0.8 0.3l0.7 1.2l0.8-0.4l0.7-0.9l0.5 0.1l0.2-0.5l0.1-1.1l0-1.6l0.1-0.7l0 0.8l0.1 2.2l0.3 2.2l0.2-1.4l0.8 1.5l0.7 0.4l0.8-1.2l0.7 0.8l0.8 0.5l0.7 0l0.8-0.6l0.7-0.4l0.8-1.6l0.7-0.5l0.8 1l0.7-1.1l0.8 0.9l0.7 1.3l0.8-0.5l0.7 1.2l0.8 1.3l0.7-1.3l0.8-1.1l0.7 0.6l0.8 0.1l0.7-0.6l0.8 0.4l0.7-0.8l0.8 0l0.7 0l0.8-0.9l0.7-0.6l0.8 0.8l0.7-1.2l0.8-0.4l0.7 1.4l0.8-0.6l0.7-1.3l0.8 0.3l0.7-0.6l0.8 1.5l0.7-1.3l0.8 1.7l0.7-2.1l0.8 0.9l0.7-0.6l0.8 0.5l0.7-0.7l0.8 0.2l0.7-1.9l0.8 0.8l0.7 0.3l0.8-0.2l0.7-0.4l0.8-1.3l0.7-0.2l0.8-0.8l0.7 1.3l0.8 0.5l0.7-0.4l0.8-0.5l0.7 0.9l0.8-1.6l0.7 0.5l0.8-0.2l0.7 0.4l0.8 0.5l0.7-2l0.8 2.2l0.7-0.6l0.8 1.3l0.7-1.7l0.8-0.6l0.7-0.4l0.8-0.4l0.7 0l0.8 0.4l0.7-0.7l0.8 1l0.7-1.5l0.8 2.4l0.7-2.3l0.8 0.8l0.6-0.8l0.1-2.2l0.1-3.2l0.1-7.5l0.1-2.3l0 1.1l0.1 7.4l0.2 4.6l0.2 0.7l0.7 0.2l0.8 0.7l0.7-0.4l0.8 1.8l0.7 0.5l0.8 0.3l0.7 0.2l0.8-0.4l0.7 0l0.8 0.4l0.7-0.6l0.8-0.7l0.7 0.8l0.8-1.1l0.7-0.8l0.8 0l0.7 1.1l0.8-0.2l0.7-0.7l0.8 0l0.7-0.9l0.8 0l0.7-0.5l0.8-0.7l0.7-2.2l0.8 2.1l0.7-1.3l0.8 1.2l0.7 0.5l0.8 0.5l0.7 0.7l0.8 0.9l0.7-0.2l0.8 0.2l0.7-0.1l0.8 1.1l0.7-0.1l0.8 0.4l0.7 0.2l0.8-0.4l0.7 0.2l0.8 0.7l0.7 0.2l0.8 0.1l0.7 1.1l0.8-2.5l0.7 2.6l0.8-1.8l0.7 1.7l0.8-0.1l0.7 0.1l0.8 1.4l0.7-1.9l0.8 1l0.7-1.6l0.8-1.1l0.7-0.7l0.8 1.3l0.7-1.7l0.8-0.6l0.7 0.7l0.8-0.2l0.7-0.3l0.8 1l0.7 1.6l0.8 0.2l0.7-1.9l0.8 1.4l0.7 0.4l0.8-0.1l0.7-1.9l0.8-0.4l0.7 0.2l0.8 0.4l0.7 0.9l0.8-0.3l0.7 0.8l0.8-1.9l0.7 1.1l0.8-0.7l0.7-0.8l0.8-0.3l0.7-0.8l0.8 0.7l0.7 1.3l0.8-0.7l0.7-1.9l0.8 0.4l0.7 1.5l0.8-1.2l0.7-0.2l0.8-1.2l0.7-0.8l0.8 0.3l0.7-1.5l0.8 2.2l0.7-0.3l0.8 0.7l0.7-0.1l0.8-1.6l0.7-1.4l0.8-0.3l0.7-0.5l0.8-0.7l0.7 0.1l0.8-1.6l0.7-0.6l0.8-0.3l0.7-1.3l0.8 1.2l0.7-1.7l0.8-2.5l0.7 0.1l0.8-2.2l0.7-0.6l0.8-0.6l0.7-0.5l0.8 0l0.7-0.2l0.8 2.2l0.7 7.5l0.8 7.2l0.7 2.7l0.8 1.9l0.7-0.2l0.8-0.6l0.7 0.9l0.8-0.6l0.8-0.3l0.7-1.5l0.8 0.7l0.7-0.4l0.8-0.6l0.7 1.6l0.8-0.5l0.7 1.5l0.8-1.5l0.7 0.4l0.8-0.3l0.7 0.3l0.8 1.9l0.7-1l0.8 0.9l0.7-1.6l0.8 1.5l0.7-1.5l0.8-0.2l0.7-2.2l0.8 0.4l0.7 0.9l0.8 1.6l0.7 0.9l0.8-0.6l0.7 1.1l0.8 0.2l0.7 0.4l0.8 0.1l0.7 0.5l0.8 0.9l0.7-0.3l0.8 0.4l0.7-0.1l0.8 1.6l0.7-0.4l0.8-0.7l0.7 1.7l0.8-0.2l0.7-0.3l0.8 0.9l0.7-4.1l0.8 4.4l0.7 0.3l0.8 0.6l0.7 0l0.8 0.7l0.7 0.1l0.8 0.7l0.7 0.6l0.8 0.4l0.7 0.1l0.8 0l0.7 0l0.8 0l0.7 0l0.8-1.2l0.7-0.6l0.8 1l0.7-0.5l0.8 0.9l0.7 0.4l0.8 0l0.7 0l0.8 0l0.7 0l0.8 0l0.7 0l0.8 0l0.7 0l0.8 0l0.7 0l0.8 0l0.7 0l0.8 0l0.7 0l0.8 0l0.7 0l0.8 0l0.7 0l0.8-0.5l0.7 0.5l0.8 0l0.7 0l0.8 0l0.7-1.3l0.8 0l0.7-1.4l0.8 1.5l0.7 1.2l0.8 0l0.7 0l0.8 0l0.7 0l0.8 0l0.7-0.6l0.8-0.4l0.7 0.4l0.8 0l0.7 0.6l0.8 0l0.7-0.2l0.8 0.1l0.7-0.7l0.8 0.5l0.7 0.3l0.8 0l0.7-0.4l0.8-1.3l0.7 1.2l0.8 0.5l0.7-1.3l0.8 0.2l0.7 0.2l0.8-2.6l0.7-0.1l0.8 1.1l0.7-0.5l0.8-0.5l0.7-1.1l0.8-0.1l0.7 0.1l0.8 1.9l0.7 0.3l0.8 0.3l0.7 1.3l0.8 0.8l0.7 0l0.8 0l0.7-0.3l0.8 0.3l0.7 0l0.8-0.1l0.7 0.1l0.8 0l0.7 0l0.8 0l0.7 0l0.8 0l0.7 0l0.8 0l0.7 0l0.8 0l0.7 0l0.8 0l0.7 0l0.8 0l0.7 0l0.8 0l0.7 0l0.8-0.7l0.7 0l0.8 0.7l0.7-0.2l0.8-0.3l0.7 0.5l0.8 0l0.7 0l0.8 0l0.7 0l0.8 0l0.7 0l0.8 0l0.7 0l0.8 0l0.7 0l0.8 0l0.7-0.4l0.8-0.5l0.7-0.9l0.8 1l0.7-0.6l0.8 0.7l0.7-0.6l0.8 1.3l0.7 0l0.8-0.4l0.7 0.2l0.8 0.1l0.7 0.1l0.8-0.6l0.7-0.2l0.8 0.8l0.7-0.2l0.8 0.2l0.7 0l0.8 0l0.7 0l0.8 0l0.7 0l0.8 0l0.7-0.8l0.8 0.8l0.7-2l0.8 0.7l0.7 0.8l0.8 0.5l0.7 0l0.8-0.7l0.7-0.3l0.8-0.3l0.7 1l0.8-0.9l0.7-0.4l0.8-0.1l0.7 0.1l0.8-0.5l0.7-0.2M172.2 740.9l0.7-0.5l0.8 0l0.7-0.5l0.8-1.3l0.7 0.8l0.8-3.8l0.7-3.4l0.8-6.5l0.7-6.3l0.8-7l0.7-6.7l0.8-5.4l0.7-5l0.8-3.3l0.7-1.2l0-19.1l0.3 16.4l0.3-15.4l0.2 14.1l0.1-16.1l0.3 19.5l0.3-18.5l0 18.6l0.3-19.2l0.3 19.2l0.2-21.2l0.1 16.8l0.3-18.2l0.2 21.5l0.1-19.7l0.2 17.8l0.3-18.3l0.3 18.6l0-16.5l0.3 17l0.3-19.7l0.1 19.5l0.2-21.6l0.3 21.2l0.3-19.7l0 19.2l0.2 20.9l0.1-75.7l0.1-42.7l0 42.7l0.1 75.7l0.2 9.3l0.1 0.4l0.7 5.9l0.7 3.3l0.8 1.1l0.7 0.9l0.8 2.1l0.7-0.9l0.8 0.4l0.7-4.4l0.8 4.6l0.7 1.1l0.8 0.5l0.7 1.3l0.8 0.2l0.7 0.2l0.7 1.4l0.1-1.2l0.2-1.3l0.1-3.3l0-1.7l0.1 2.7l0.1 2.6l0.2 1.8l0-0.4l0.8 0.9l0.7-0.3l0.8-1.9l0.7 2.1l0.8 0.2l0.7 1.1l0.8-0.3l0.7-0.4l0.8 1.5l0.7 0.8l0.8 0.9l0.7-1.1l0.1-1.5l0.3-5.5l0.1-15.4l0-7.7l0.1 8.7l0.1 14.8l0.1 4.5l0.1 0.4l0.6 1.2l0.8 0.5l0.7-1.9l0.8 2.5l0.7-1.3l0.8 0.7l0.7-0.5l0.8-0.6l0.7-5.2l0.8 5.1l0.7 0.8l0.8 0l0.7 1.3l0.8 0l0.7 0l0.8 0.8l0.7 0l0.8 0.7l0.7-1.1l0.8-0.2l0.7-0.4l0.8-0.4l0.7-0.2l0.8-1.6l0.7-0.1l0.8 0.1l0.7 0.8l0.8 0.3l0.7-1.2l0.8-0.5l0.7-0.6l0.8-0.3l0.7 0.4l0.8-0.5l0.7 0.2l0.8 0l0.7 0.7l0.8-0.9l0.7-1.4l0.8 0.5l0.7 0.6l0.8 1.2l0.7-0.8l0.8-1.1l0.7 1l0.8 0.1l0.7-0.7l0.8 1l0.7 0.5l0.8 0.8l0.7-0.6l0.5-0.2l0.2-1.4l0.1 0.7l0-3.2l0.1-1.1l0 1.9l0.1 2.8l0.3 0.2l0.2 0.3l0.8 1.3l0.7-0.5l0.8-0.4l0.7 0.3l0.8-0.8l0.7-1l0.8-0.8l0.7 2.3l0.8-2.8l0.7 3.1l0.8 0.5l0.7-0.2l0.8 1.5l0.7-0.4l0.8 0.6l0.7-0.8l0.8 0.8l0.7-2.9l0.8 0.9l0.7-1l0.8-0.1l0.7-1.6l0.8 0.8l0.7 0.5l0.8-0.7l0.7 1.5l0.8-0.4l0.7-0.8l0.8 0.7l0.7-0.5l0.8-2.5l0.7 2.8l0.8-0.5l0.7 0.4l0.8-1.7l0.7 0.2l0.8 0.2l0.7-0.5l0.8-1.1l0.7-0.6l0.8-1.1l0.7-1l0.8 0.8l0.7 1.3l0.8-1.3l0.7 0.8l0.8 0.4l0.7 0.2l0.8 0.6l0.7-1.4l0.8-0.8l0.7-0.3l0.8-1.4l0.7-0.2l0.8 2.3l0.7-2.1l0.8 2.1l0.7-0.2l0.8-1.9l0.7 0.9l0.8 0.6l0.7 0.4l0.8 0.3l0.7 0.1l0.8 0.6l0.7-1.4l0.8 0.5l0.7-2l0.8 0.6l0.7 0.5l0.8-1.2l0.7 0.6l0.8-0.3l0.7 1.6l0.8-0.6l0.7-0.6l0.8 0.6l0.7-1.4l0.8-0.5l0.6-1.2l0.1-2.1l0.1-1.9l0.1-7.9l0.1-2.4l0 4.3l0.1 7.3l0.3 4.4l0.1 1.6l0.7 0.7l0.8 0l0.7 0.5l0.8-0.1l0.7-1.9l0.8 1l0.7-1.4l0.8 0.7l0.7-1.3l0.8 0.2l0.7 0.2l0.8-1.6l0.7-0.1l0.8-0.3l0.7-2.6l0.8-0.7l0.7 1.3l0.8-0.7l0.7 0.7l0.8 0.9l0.7-0.2l0.8 0.2l0.7 0l0.8 1.1l0.7-2.5l0.8 0.2l0.7 2.9l0.8-1.1l0.7-0.3l0.8-1.6l0.7 1l0.8-0.6l0.7 0.9l0.8 1.4l0.7 0.4l0.8 1.5l0.7 0l0.8-0.2l0.7-1.2l0.8-0.3l0.7 1.3l0.8 0.6l0.7 1.2l0.8 0.3l0.7-1.2l0.8-3.9l0.7 4l0.8-0.1l0.7-0.4l0.8-1l0.7-0.6l0.8 0.6l0.7 0l0.8-0.6l0.7 0.3l0.8-0.5l0.7-0.9l0.8 0.1l0.7 0.9l0.8-2.4l0.7-0.9l0.8 2.4l0.7-0.6l0.8-0.2l0.7 0.5l0.8 2.8l0.7-1.6l0.8-3.1l0.7 5.1l0.8 1.2l0.7 1.8l0.8-0.7l0.7 0.7l0.8-1.2l0.8-0.3l0.7-0.3l0.8-2.6l0.7-0.6l0.8 2.4l0.7-1.1l0.8 0.9l0.7-1l0.8 1.2l0.7-0.9l0.8 0.4l0.7-1.2l0.8-1.9l0.7 1.3l0.8 0l0.7-0.5l0.8-0.1l0.7-0.9l0.8-0.1l0.7 1l0.8-0.5l0.7 0.3l0.8-0.3l0.7-1.6l0.8 1.5l0.7-1.3l0.8-0.7l0.7 0.1l0.8-0.9l0.7 0.4l0.8-1.3l0.7-1l0.8-2.8l0.7-0.4l0.8-0.6l0.7-1.3l0.8-1.6l0.7 0.2l0.8-2.6l0.7-0.9l0.8-0.9l0.7-1.2l0.8 0.1l0.7-0.1l0.8 0.3l0.7 1.5l0.8 10.2l0.7 6.5l0.8 2.9l0.7-0.2l0.8 2.2l0.7-1.7l0.8-1l0.7-0.8l0.8-0.1l0.7-0.4l0.8 1l0.7 0.7l0.8 0l0.7 0.1l0.8 0.1l0.7 0l0.8-0.1l0.7 0.4l0.8 2.2l0.7 0.3l0.8-1.6l0.7 1.4l0.8 0.9l0.7-2.1l0.8-0.1l0.7 1l0.8 0.8l0.7 0l0.8 0l0.7-1l0.8 1.2l0.7-1.1l0.8 0l0.7 0.6l0.8 0.1l0.7 1.9l0.8-1.2l0.7 0.3l0.8 1.4l0.7-0.3l0.8 0.1l0.7 1.3l0.8-1.3l0.7 0.6l0.8 0.4l0.7 1.2l0.8-1.1l0.7-1.1l0.8-0.4l0.7 1.8l0.8 0.9l0.7-0.2l0.8 1.3l0.7-0.8l0.8-0.4l0.7-0.1l0.8 0.4l0.7-0.1l0.8-0.3l0.7 1.6l0.8-1l0.7 0.5l0.8-0.3l0.7 0.4l0.8 0.4l0.7 1.2l0.8 0.1l0.7 0.7l0.8 0.1l0.7 0l0.8 0l0.7 0l0.8 0l0.7 0l0.8 0l0.7 0l0.8 0l0.7 0l0.8 0l0.7-0.1l0.8-0.5l0.7 0.6l0.8 0l0.7 0l0.8 0l0.7 0l0.8-0.3l0.7 0l0.8-0.7l0.7 0.7l0.8 0.3l0.7 0l0.8-0.2l0.7 0.2l0.8-1.4l0.7 1.4l0.8 0l0.7 0l0.8 0l0.7 0l0.8 0l0.7 0l0.8 0l0.7 0l0.8 0l0.7-0.3l0.8 0.3l0.7 0l0.8 0l0.7 0l0.8 0l0.7 0l0.8 0l0.7 0l0.8 0l0.7 0l0.8 0l0.7 0l0.8-1l0.7-1.3l0.8-0.5l0.7-0.1l0.8 0.7l0.7-0.8l0.8-0.4l0.7 0.1l0.8 1l0.7 0.2l0.8-1l0.7 0.8l0.8-0.5l0.7 0.5l0.8-0.2l0.7 0.8l0.8 0.9l0.7-1.1l0.8-3.9l0.7 4.1l0.8 1l0.7-0.1l0.8 0.8l0.7 0l0.8 0l0.7 0l0.8 0l0.7 0l0.8 0l0.7 0l0.8 0l0.7 0l0.8 0l0.7 0l0.8 0l0.7 0l0.8 0l0.7 0l0.8 0l0.7 0l0.8 0l0.7 0l0.8 0l0.7 0l0.8-0.2l0.7-0.9l0.8 0.4l0.7 0.7l0.8-0.4l0.7-0.5l0.8 0.6l0.7-0.3l0.8 0.6l0.7-0.7l0.8-0.2l0.7-0.9l0.8-0.1l0.7-0.6l0.8-1.6l0.7 1.3l0.8-1.1l0.7 0.8l0.8 0.7l0.7-0.6l0.8 0.2l0.7-1.1l0.8-0.7l0.7 0.8l0.8 0.7l0.7 0.3l0.8 0.5l0.7-1.3l0.8 0.2l0.7-1.7l0.8 1.6l0.7 0.1l0.8 0.3l0.7-0.1l0.8 0.8l0.7 1.4l0.8-1.1l0.7 0.9l0.8-0.3l0.7 1.2l0.8 0.3l0.7 0l0.8 0l0.7 0l0.8 0l0.7 0l0.8 0l0.7 0l0.8 0l0.7-0.3l0.8-0.3l0.7-1l0.8 0.1l0.8 1.5M159.6 761.7l0.7 0l0.8 0l0.7 0l0.8 0l0.7-0.2l0.8-2.5l0.7-4l0.8-5.1l0.7-6.6l0.8-6l0.7-5.9l0.8-6.2l0.7-5l0.8-3.3l0.7-1.5l0-15.8l0.3 13l0.3-16.2l0.2 15.9l0.1-15.5l0.3 15.1l0.3-14.7l0 13.2l0.3-16.1l0.3 18l0.2-16.5l0.1 16.5l0.3-19.8l0.3 18.9l0-19.4l0.2 18.2l0.3-15.9l0.3 17.2l0-20.1l0.3 18.8l0.3-16.7l0.1 17.4l0.2-18.9l0.3 18l0.3-20.3l0 22.6l0.2 17.7l0.1-71.1l0.1-40.2l0 40.2l0.1 71.1l0.2 11.2l0.1 0.2l0.7 3.3l0.7 2.2l0.8 2.8l0.7-0.1l0.8-0.5l0.7 0.9l0.8 1.4l0.7 0.2l0.8 1.3l0.7 0.5l0.8 2.1l0.7 0.4l0.8-0.8l0.7-0.2l0.7-0.5l0.1 0.1l0.2-2.9l0.1-3.3l0-0.9l0.1-0.9l0.1 5.3l0.2 2.5l0-1l0.8 1.8l0.7-1l0.8 0.2l0.7 0.2l0.8 0.4l0.7 1l0.8 0l0.7-0.6l0.8 3.6l0.7-1.9l0.8 0.2l0.7-1.8l0.1 0.6l0.3-6.3l0.1-16.8l0-10.6l0.1 10.6l0.1 18.2l0.1 3.4l0.1 1.7l0.6 2.2l0.8 0.8l0.7 0.6l0.8-1.4l0.7 2.2l0.8-0.4l0.7 0.9l0.8 0l0.7-1.2l0.8-1.8l0.7 2.2l0.8 0.8l0.7-0.3l0.8 0.2l0.7-0.5l0.8 0l0.7-1.5l0.8 1.1l0.7-0.4l0.8-1.3l0.7-1.2l0.8 1.2l0.7 0.2l0.8-2.8l0.7 4.1l0.8-0.5l0.7 0.8l0.8-0.2l0.7 0.4l0.8 0.3l0.7-0.3l0.8-0.8l0.7-0.3l0.8-0.5l0.7-1.2l0.8-1.3l0.7-4.8l0.8 3.2l0.7 0.9l0.8-0.6l0.7 0.6l0.8-1.6l0.7 0.4l0.8 0.1l0.7-0.2l0.8-0.9l0.7 1.3l0.8 0.7l0.7-0.4l0.8 0.5l0.7-0.8l0.5-0.6l0.2-1.9l0.1 0l0-0.4l0.1 1.4l0 1l0.1 3.4l0.3 0.9l0.2 0l0.8 0.2l0.7 0.5l0.8-1.6l0.7 0.8l0.8 0.9l0.7-0.4l0.8 0.3l0.7-0.9l0.8 0.3l0.7-1.3l0.8-1l0.7 0.1l0.8 0.6l0.7 0.4l0.8 0l0.7 0.5l0.8-1.3l0.7-0.1l0.8-0.4l0.7-0.3l0.8-0.4l0.7 0.9l0.8-0.3l0.7-1.9l0.8 0.5l0.7-0.8l0.8 1.2l0.7-1l0.8 0.1l0.7-2.5l0.8 0.9l0.7 2l0.8 0.2l0.7 0l0.8 1.9l0.7-0.9l0.8 0.5l0.7-2.5l0.8-0.5l0.7 0l0.8 0.4l0.7-0.5l0.8 0.4l0.7 0l0.8 1.1l0.7-2.3l0.8 2l0.7-0.1l0.8-0.6l0.7-1.3l0.8-0.1l0.7-1.5l0.8 0.2l0.7 1.4l0.8-0.6l0.7 1.5l0.8-0.1l0.7-2.2l0.8 0.4l0.7-0.7l0.8 1.2l0.7 0.2l0.8-0.5l0.7-1.6l0.8 1.2l0.7 1.4l0.8-0.6l0.7-0.4l0.8-0.1l0.7-1.9l0.8 0.1l0.7-1l0.8 0l0.7 1.2l0.8-0.5l0.7 0.4l0.8-1.4l0.7 0l0.8 0.4l0.6-2.1l0.1-1.9l0.1-0.5l0.1-6.6l0.1-4l0 1.6l0.1 8l0.3 4.1l0.1 0.2l0.7-0.4l0.8 0.1l0.7 0.8l0.8-0.5l0.7-0.1l0.8-0.9l0.7-1.4l0.8 0.2l0.7 0.2l0.8 0.9l0.7-1.7l0.8 1l0.7 0.1l0.8-1.1l0.7 0.8l0.8-0.7l0.7 0.2l0.8 0.7l0.7-0.7l0.8-0.6l0.7 0.2l0.8 0.8l0.8-1.3l0.7 1.3l0.8-1.1l0.7 0.8l0.8-0.7l0.7 0.5l0.8-0.8l0.7 2.3l0.8-0.6l0.7-0.5l0.8-0.2l0.7 0.4l0.8-0.3l0.7 0l0.8 0.6l0.7 0.6l0.8 0.9l0.7 1.3l0.8 1.1l0.7-1.6l0.8-0.3l0.7 0.4l0.8-1.3l0.7-0.4l0.8-1.7l0.7 2.3l0.8 0.5l0.7 1.1l0.8 1.4l0.7 0.4l0.8-0.6l0.7 0.1l0.8-0.5l0.7 0.1l0.8 0l0.7 0.2l0.8 1.2l0.7 0.3l0.8-1.3l0.7 1.5l0.8-0.3l0.7 0.9l0.8-0.8l0.7-3.1l0.8 2.1l0.7 0.5l0.8 0l0.7 0.6l0.8 0.4l0.7-0.7l0.8-0.8l0.7-0.8l0.8-0.2l0.7-1l0.8-0.6l0.7-1.4l0.8 1.7l0.7-0.2l0.8 0.4l0.7 0.2l0.8 0.5l0.7-1.2l0.8 0.4l0.7-1l0.8-0.3l0.7 1.8l0.8-0.4l0.7 1.6l0.8 0.4l0.7-2.2l0.8 0.8l0.7-0.5l0.8 0.7l0.7-0.1l0.8 0.1l0.7-0.6l0.8-0.5l0.7 0l0.8-2.1l0.7 1.1l0.8-1.6l0.7 0.6l0.8-1.7l0.7-0.7l0.8-1.7l0.7-1.4l0.8-0.9l0.7-1.4l0.8-1.4l0.7-1.2l0.8-2.2l0.7-1.6l0.8-1.8l0.7-0.5l0.8-0.3l0.7-0.8l0.8-0.3l0.7 3l0.8 8.9l0.7 6.9l0.8 3.6l0.7 1.2l0.8 0.6l0.7 1l0.8 0l0.7-0.5l0.8-0.1l0.7 1.1l0.8-1.1l0.7 0l0.8-0.3l0.7-0.7l0.8 0.2l0.7 1.6l0.8-1.2l0.7 1.3l0.8-1l0.7 0.2l0.8 0l0.7 0.5l0.8-1.9l0.7-1.2l0.8 3.6l0.7-1.6l0.8 1.1l0.7-0.3l0.8 1.1l0.7-0.2l0.8 0l0.7 1.6l0.8-2.7l0.7 0.6l0.8 0.5l0.7-1.1l0.8 0.4l0.7 0.3l0.8 1.7l0.7-1.7l0.8 1.2l0.7-0.5l0.8 1.9l0.7-0.1l0.8 0.7l0.7 0.1l0.8 0.2l0.7-2.4l0.8 1.4l0.7 1.5l0.8 0.5l0.7 1.3l0.8-1l0.7 1.1l0.8-0.6l0.7 1.7l0.8 0.4l0.7 0.9l0.8 0l0.7 0l0.8 0l0.7 0l0.8 0l0.7 0l0.8 0l0.7 0l0.8 0l0.7 0l0.8 0l0.7 0l0.8 0l0.7 0l0.8 0l0.7 0l0.8 0l0.7 0l0.8 0l0.7 0l0.8 0l0.7 0l0.8 0l0.7 0l0.8 0l0.7 0l0.8 0l0.7 0l0.8 0l0.7 0l0.8-0.1l0.7-0.2l0.8-1.5l0.7 0.2l0.8 0.9l0.7-0.7l0.8 1.4l0.7-1l0.8 1l0.7-0.4l0.8 0.1l0.7 0.3l0.8-1l0.7 1l0.8 0l0.7-1l0.8 0.3l0.7-1.8l0.8 0l0.7-0.2l0.8 0.1l0.7 0l0.8 0.5l0.7 0.3l0.8 1.5l0.7-0.6l0.8 0.7l0.7 0l0.8 0.2l0.7 0l0.8-0.4l0.7-0.9l0.8 1.3l0.7 0l0.8-0.3l0.7-1.1l0.8 0.7l0.7 0.7l0.8-0.5l0.7 0.4l0.8-1.1l0.7-0.1l0.8-1.7l0.7 1.9l0.8-0.6l0.7 0.2l0.8 0.2l0.7-0.7l0.8-1.9l0.7-0.2l0.8 0.5l0.7 0.2l0.8 1.4l0.7 0.7l0.8 0.8l0.7-1.9l0.8 0.8l0.7 0.2l0.8-0.7l0.7-0.5l0.8-0.2l0.7 1.3l0.8-0.5l0.7 0.2l0.8-0.4l0.7 0.7l0.8 0.1l0.7 0.3l0.8-0.4l0.7 0.3l0.8 0.4l0.7 0.2l0.8 0.1l0.7 0l0.8 0.5l0.8 0l0.7 0l0.8 0l0.7 0l0.8 0l0.7-0.4l0.8 0.4l0.7 0l0.8 0l0.7 0l0.8 0l0.7 0l0.8 0l0.7 0l0.8 0l0.7 0l0.8 0l0.7 0l0.8 0l0.7 0l0.8 0l0.7 0l0.8 0l0.7 0l0.8 0l0.7 0l0.8 0l0.7 0l0.8 0l0.7 0l0.8 0l0.7-0.4l0.8 0.1l0.7 0.1l0.8 0.1l0.7-0.8l0.8 0.2l0.7-0.4l0.8-1.7l0.7 0.3l0.8-0.4l0.7-0.7l0.8 0.4l0.7 0.5l0.8-0.6l0.7 0.6l0.8 2l0.7-0.1l0.8-0.2l0.7-0.4l0.8 0.4l0.7 0.2l0.8 0.7M147 781.8l0.7 0l0.8 0l0.7-0.3l0.8-0.4l0.7-2.4l0.8-1.7l0.7-3.9l0.8-5.3l0.7-6.1l0.8-5.4l0.7-4.6l0.8-5.3l0.7-4.3l0.8-3.4l0.7-1.4l0-17.4l0.3 14.4l0.3-13.1l0.2 15.9l0.1-17.8l0.3 15l0.3-15.2l0 14.9l0.3-14.6l0.3 15.3l0.2-16.9l0.1 18.9l0.3-18.1l0.3 15.3l0-16.4l0.3 18.4l0.3-15.1l0.2 13.2l0-15.4l0.3 17.8l0.3-18.3l0.1 17.1l0.2-14.8l0.3 13.8l0.3-15.2l0 14.3l0.3 18.9l0.1-66.7l0-37.7l0.1 37.7l0.1 66.7l0.1 8.5l0.1 1.5l0.7 3.6l0.7 4l0.8 2.1l0.7 2l0.8-1l0.7 2.2l0.8 0.3l0.7-0.5l0.8 0.7l0.7 0.2l0.8 1l0.7 0.3l0.8-0.5l0.7-0.5l0.8 0.8l0 0.3l0.2-2.2l0.1-3.6l0.1-1.2l0 2.3l0.1 4.1l0.2 2.6l0-0.2l0.8 0.7l0.7-1.1l0.8 0.1l0.7-1.1l0.8-1.8l0.7 0.3l0.8 1l0.7 0l0.8 0.4l0.7-0.8l0.8 0.5l0.7-1.3l0.1-0.9l0.3-6.4l0.1-21.4l0-11.7l0.1 12.7l0.1 18.6l0.1 4.8l0.1 3.1l0.6 1.7l0.8 0.1l0.7 0.8l0.8-0.9l0.7 0.9l0.8 0.6l0.7 1.5l0.8-0.8l0.7 0.1l0.8-0.2l0.7 0.6l0.8 0.8l0.7 0.1l0.8-0.4l0.7 1l0.8 0.1l0.7 0l0.8 1.1l0.7-0.9l0.8 0.9l0.7-0.4l0.8-1.5l0.7-3.4l0.8 3.5l0.7 0.4l0.8-0.4l0.7 0.2l0.8-0.6l0.7-0.7l0.8 0.3l0.7 0.8l0.8-0.1l0.7 0.5l0.8-1.6l0.7 0.3l0.8 0.2l0.7 0.5l0.8-3.8l0.7 4.6l0.8-1.6l0.7 0.4l0.8 1.7l0.7-0.1l0.8 0.8l0.7-0.6l0.8-0.2l0.7-1.2l0.8-0.4l0.7-0.1l0.8 2.3l0.7-1.5l0.5-0.3l0.2-2.3l0.1-0.3l0-1.6l0.1-1.3l0-0.6l0.1 4l0.3 0.4l0.2 1.1l0.8-0.4l0.7 0.4l0.8-1.5l0.7 0l0.8-0.3l0.7-0.2l0.8 0.2l0.7 0.5l0.8-1.2l0.7-3.5l0.8 1.5l0.7 0.4l0.8-0.8l0.7 0l0.8-1.1l0.7 0.6l0.8-0.2l0.7 0.6l0.8 0.5l0.7 0.8l0.8 0.2l0.7 0.8l0.8-1.4l0.7-0.1l0.8-0.5l0.7-0.2l0.8-0.9l0.7 1.6l0.8-1.7l0.7-3l0.8 4.6l0.7 0.6l0.8 0.7l0.7-1.2l0.8 0.3l0.7 0.6l0.8-0.5l0.7 0.4l0.8-2l0.7 1l0.8-0.8l0.7-0.3l0.8-0.3l0.7 0.5l0.8 0l0.7-2.8l0.8 1.2l0.7 0.6l0.8 0l0.7-1.4l0.8 0.4l0.8-0.8l0.7-0.4l0.8 0.8l0.7-0.8l0.8-0.2l0.7 0.1l0.8-0.8l0.7 1l0.8-0.6l0.7 0.5l0.8-1.9l0.7-2.7l0.8 3.7l0.7 0.1l0.8-0.1l0.7-0.1l0.8 0.8l0.7-1.3l0.8 0.9l0.7-0.5l0.8 1l0.7-0.7l0.8 0.5l0.7-0.7l0.8 1l0.7-0.1l0.8-0.8l0.7-0.8l0.6-1.6l0.2-2.4l0-3.7l0.1-7.4l0.1-2.8l0 2.9l0.1 7.2l0.3 2.8l0.1 1.2l0.8-0.3l0.7 0.2l0.8-0.3l0.7 0.7l0.8 0.7l0.7-1.1l0.8 0.2l0.7 0.5l0.8-0.1l0.7 0.1l0.8 0l0.7-0.6l0.8-0.1l0.7 0l0.8-1.2l0.7-0.3l0.8 0.3l0.7 0.6l0.8-0.8l0.7 0.3l0.8 0.1l0.7 1.5l0.8-0.4l0.7 0.1l0.8 0.3l0.7-3.1l0.8 1.9l0.7 1.5l0.8-0.5l0.7 1.2l0.8-0.2l0.7 2.5l0.8-1.6l0.7-1.3l0.8 0.8l0.7 0.6l0.8-0.9l0.7 2.7l0.8 0.8l0.7 2l0.8-1.4l0.7 0.4l0.8-2l0.7 0.8l0.8 0.1l0.7-1.7l0.8-1.1l0.7 1.3l0.8-1l0.7 0.5l0.8-0.4l0.7-0.7l0.8 0.7l0.7-0.7l0.8 0.4l0.7-0.6l0.8 0.5l0.7 2l0.8-1.6l0.7 0.4l0.8 0.1l0.7 0.9l0.8-1.6l0.7 1.6l0.8-0.3l0.7 1l0.8-0.7l0.7 0.2l0.8 0.5l0.7-0.7l0.8 0.4l0.7-0.1l0.8-1.3l0.7 1.6l0.8-1.5l0.7-0.1l0.8 1.7l0.7 0.1l0.8 1.9l0.7-0.2l0.8-0.4l0.7 0.4l0.8-0.2l0.7-2.7l0.8 1l0.7-5.6l0.8 4.4l0.7 0.3l0.8-0.8l0.7 0.9l0.8 0.1l0.7-0.2l0.8 0.3l0.7 0.7l0.8-1.8l0.7-1.7l0.8 1.2l0.7-0.9l0.8 0.6l0.7 0.4l0.8-2l0.7-0.1l0.8-1l0.7-0.6l0.8-0.5l0.7-0.5l0.8-0.3l0.7-1.1l0.8-0.2l0.7-2.4l0.8-2.1l0.7-1.1l0.8-0.7l0.7-2.3l0.8-1.6l0.7-2.2l0.8 0.1l0.7-1.2l0.8 0.8l0.7 2l0.8 10l0.7 7l0.8 1.2l0.7 3.3l0.8-0.5l0.7 0.9l0.8 0.2l0.7-0.2l0.8-0.3l0.7-0.3l0.8 0.3l0.7-0.5l0.8 0.1l0.7-0.4l0.8 0.4l0.7 0l0.8 0.6l0.7-0.1l0.8-0.5l0.7 0.6l0.8 1.3l0.7 0.8l0.8 0.3l0.7-0.6l0.8-3.1l0.7 3.9l0.8 1.4l0.7-0.9l0.8 1l0.7-1.2l0.8 0.7l0.7 0.1l0.8 0.1l0.7 0.1l0.8 0.5l0.7-0.3l0.8-0.8l0.7 0.5l0.8 0.7l0.7-0.2l0.8 0l0.7 0.8l0.8-0.5l0.7 0.2l0.8 0.3l0.7 0.8l0.8-0.6l0.7 0l0.8 2.1l0.7 0.7l0.8 0l0.7 0l0.8-0.3l0.7-0.7l0.8 1.7l0.7 0.5l0.8-0.9l0.7-0.7l0.8-0.5l0.7 0.9l0.8-0.7l0.7 0.9l0.8-0.3l0.7 0.5l0.8 0l0.7 0.3l0.8 0.8l0.7 0l0.8-0.6l0.7 0.6l0.8 0l0.7-0.5l0.8-0.6l0.7 0.2l0.8 0.9l0.7-0.7l0.8 0.7l0.7 0l0.8-0.8l0.7 0.8l0.8 0l0.7-0.1l0.8-1.2l0.7 0.6l0.8-0.4l0.7-0.5l0.8 1.6l0.7-2.4l0.8 2.2l0.7-1.4l0.8 1.6l0.7-0.2l0.8-0.5l0.7-0.6l0.8-0.7l0.7-0.7l0.8 2.7l0.7 0l0.8 0l0.7 0l0.8-1.1l0.7 1l0.8-2.2l0.7 0.9l0.8 0.5l0.7-0.6l0.8-0.3l0.7 0.8l0.8-0.5l0.7 0.3l0.8 0.8l0.8-0.4l0.7 0.6l0.8-0.8l0.7 0.4l0.8-0.9l0.7 0.1l0.8 0.2l0.7 1l0.8 0.2l0.7 0l0.8 0l0.7-2.1l0.8 1.3l0.7-1.3l0.8 0.6l0.7 1.1l0.8 0.3l0.7 0.1l0.8 0l0.7 0l0.8 0l0.7-0.4l0.8 0.2l0.7-0.7l0.8-1.7l0.7-0.8l0.8 2.6l0.7 0.8l0.8 0l0.7-1l0.8-0.2l0.7 0l0.8-0.6l0.7 0.2l0.8-0.6l0.7-1.4l0.8 0.4l0.7 0.7l0.8 0.3l0.7-0.4l0.8 0.5l0.7 0l0.8 1l0.7-0.8l0.8 0.9l0.7-0.8l0.8 0.9l0.7-0.3l0.8 1.2l0.7 0l0.8 0l0.7 0l0.8 0l0.7 0l0.8 0l0.7 0l0.8 0l0.7 0l0.8 0l0.7 0l0.8 0l0.7 0l0.8-0.2l0.7 0.2l0.8-1.1l0.7 0.4l0.8-0.3l0.7-0.3l0.8 1.3l0.7 0l0.8 0l0.7 0l0.8 0l0.7 0l0.8 0l0.7 0l0.8 0l0.7 0l0.8 0l0.7 0l0.8 0l0.7 0l0.8 0l0.7 0l0.8 0l0.7-1l0.8 0.2l0.7-1.8l0.8-0.6l0.7 1.2l0.8 0.6l0.7-0.1l0.8-1.1l0.7-0.7l0.8-1.1l0.7-0.8l0.8 0.3l0.7 0.1l0.8-2.2l0.7 1.6l0.8 0.2l0.7 1.2l0.8 0.2l0.7 1l0.8 0M134.4 800.3l0.7-0.6l0.8 1l0.7-1.4l0.8-0.7l0.7-0.1l0.8-3l0.7-3l0.8-3.4l0.7-5.5l0.8-6.5l0.7-4.7l0.8-4.2l0.7-2.7l0.8-2.8l0.7 0.7l0-16.2l0.3 13.8l0.3-15.3l0.2 13.2l0.1-12.8l0.3 14.3l0.3-16.5l0 15.3l0.3-15.3l0.3 15.5l0.2-13.5l0.1 13.9l0.3-17.2l0.3 16.7l0-17.4l0.3 14.9l0.3-14.5l0.2 17.4l0.1-17.1l0.3 14l0.2-13.4l0.1 14l0.2-13.7l0.3 14.4l0.3-17.8l0 18.8l0.3 14.8l0.1-63.7l0-36l0.1 36l0.1 63.7l0.1 7.9l0.1 1l0.7 4l0.7 3l0.8 2.2l0.7 2.4l0.8 0.7l0.7 1.8l0.8-1.5l0.7 0.1l0.8 2l0.7-1l0.8-0.2l0.7 0.1l0.8 1.2l0.7 0.2l0.8-0.2l0-1.5l0.2-2.8l0.1-3l0.1-2.2l0 1.2l0.1 5l0.2 1.2l0.1-0.5l0.7 0.5l0.7-0.2l0.8-0.5l0.7-1.6l0.8 1.2l0.7-0.1l0.8 0.5l0.7 1.2l0.8-0.4l0.7 1.9l0.8-0.5l0.7-1l0.2-1.1l0.2-7.4l0.1-23l0-11.6l0.1 12.9l0.1 23.6l0.1 5.1l0.1 1.9l0.6 1.3l0.8-0.1l0.7 0.5l0.8 0.5l0.7 2.3l0.8-1.8l0.7 0.7l0.8 0.2l0.7-1.8l0.8 2.1l0.7 0l0.8 0l0.7-0.1l0.8 0.4l0.7-1.5l0.8-0.6l0.7-0.1l0.8-0.1l0.7 0.2l0.8 0.4l0.7-2l0.8 1.5l0.7-1.5l0.8 0l0.7 0l0.8-0.2l0.7 0.1l0.8 1.2l0.7-0.5l0.8-1.6l0.7 0.6l0.8 1.2l0.7 0l0.8 1l0.7 0l0.8-0.5l0.7-4.4l0.8 4.1l0.7 2.5l0.8-1.6l0.7 0.2l0.8 0.8l0.7-0.2l0.8 0.4l0.7 0l0.8 1.2l0.7-1.6l0.8 1.2l0.7 0.6l0.8 0.2l0.7-0.5l0.5 0.2l0.3-1l0-1.1l0.1-2.4l0-2l0.1 1.5l0.1 2.4l0.2 0.5l0.3-0.5l0.7 0.9l0.8-0.3l0.7-0.2l0.8-0.8l0.7 1.2l0.8 1.4l0.7-0.3l0.8-2.1l0.7-1.7l0.8 2.4l0.7-0.8l0.8-1.5l0.7-0.7l0.8 0.6l0.7-0.8l0.8-0.4l0.7 0.2l0.8 1l0.7-0.6l0.8 0.4l0.7-1l0.8 0.6l0.7-0.7l0.8-0.9l0.7 0.7l0.8 0.1l0.7 0.4l0.8-0.4l0.7 1.5l0.8-1.2l0.7-0.2l0.8 0.3l0.7-0.5l0.8 0.6l0.7 0.6l0.8 0.3l0.7-0.1l0.8-2.6l0.7 1.6l0.8-2.9l0.7 1.6l0.8-0.9l0.7 0l0.8-0.3l0.7-0.1l0.8-1.4l0.7 2.6l0.8 1.9l0.7 0.1l0.8-0.1l0.7-1l0.8-0.9l0.7 0.6l0.8-2l0.7 0.2l0.8 0.4l0.7-0.1l0.8-1l0.7 0.5l0.8 0.2l0.7 0.5l0.8-1.4l0.7-1.1l0.8 2.3l0.7-1l0.8-1.6l0.7-0.8l0.8-0.4l0.7 1.1l0.8-0.1l0.7 0.2l0.8 0.5l0.7-2.3l0.8 0l0.7 0.6l0.8-0.4l0.7 0.5l0.8-1.3l0.7 0l0.6-1.3l0.2-1.1l0.1-2.7l0-7.4l0.1-2.9l0 2.9l0.1 6l0.3 5.1l0.1 0.4l0.8-1.2l0.7 0.8l0.8-0.2l0.7-0.1l0.8-0.6l0.7-0.7l0.8 0l0.7-1.1l0.8-0.5l0.7-1.3l0.8 1.2l0.7 0l0.8 0.4l0.7 0.3l0.8 0.2l0.7-1.1l0.8 2.1l0.7-1l0.8 1.4l0.7 1.6l0.8-1.4l0.7 1.5l0.8-0.4l0.7 2.1l0.8-0.9l0.7 0l0.8 0.9l0.7 2l0.8-0.8l0.7-1.8l0.8 0.2l0.7 1.3l0.8 0l0.7 1.3l0.8-1.5l0.7 0l0.8-0.7l0.7-0.9l0.8 0.4l0.7-1l0.8 0.8l0.7-0.9l0.8 0.5l0.7-1.3l0.8 1l0.7-1.3l0.8 0.7l0.7 1.1l0.8 0.9l0.7-1.5l0.8-0.4l0.7 0.4l0.8 0.7l0.7-0.4l0.8-0.7l0.7-0.6l0.8 0.4l0.7 0.3l0.8-0.2l0.7 0.9l0.8-0.2l0.7 1.3l0.8-1.1l0.7 0.2l0.8-1.1l0.7 0.6l0.8-1.4l0.7 3.2l0.8 0.1l0.7 1.5l0.8-1.1l0.7-0.2l0.8 0.3l0.7-0.2l0.8-2.3l0.7 0.9l0.8 0.1l0.7 0.1l0.8-0.6l0.7 0.7l0.8 0.6l0.7 1.6l0.8-1l0.7 0.6l0.8-0.7l0.7-0.5l0.8-0.7l0.7 0.9l0.8 0.3l0.7 0.5l0.8-0.8l0.7-0.2l0.8 0.1l0.7-1.5l0.8 0.6l0.7 0l0.8 0.5l0.7-0.9l0.8 0.9l0.7-0.2l0.8-1.7l0.7 0.2l0.8-2l0.7-1.3l0.8-0.5l0.7-0.8l0.8-0.7l0.7-0.3l0.8-0.6l0.7-0.9l0.8-1.5l0.7-2.3l0.8-2.8l0.7 0.5l0.8-0.5l0.7-1.7l0.8-0.5l0.7 0.2l0.8-0.4l0.7 3.7l0.8 8l0.7 7l0.8 2.7l0.7 0.3l0.8-0.8l0.7-0.5l0.8 0.4l0.7-1.2l0.8 2.1l0.7-0.5l0.8 0.1l0.7 0l0.8-0.1l0.7 1l0.8-0.4l0.7 1.1l0.8-0.2l0.7-0.1l0.8-0.5l0.7-1.3l0.8 1.2l0.7-1.1l0.8 1.5l0.7-3.3l0.8 1.9l0.7-1l0.8-0.1l0.7-0.6l0.8 1l0.7 0.8l0.8 0.7l0.7 1.7l0.8-0.7l0.7 0.5l0.8-0.9l0.7 1.6l0.8-1l0.7 0.4l0.8 0.1l0.7 0.1l0.8-1.4l0.7 2.4l0.8 0.7l0.7 1.6l0.8 1.2l0.7-2l0.8-0.8l0.7-0.1l0.8 1.9l0.7 0.1l0.8-1.1l0.7 0.8l0.8-0.9l0.7 1.9l0.8-0.8l0.7 2.8l0.8 0.2l0.7 0.5l0.8 0l0.8 0l0.7 0l0.8 0l0.7 0l0.8 0l0.7 0l0.8 0l0.7 0l0.8 0l0.7 0l0.8 0l0.7 0l0.8 0l0.7 0l0.8 0l0.7 0l0.8-1.4l0.7 0.1l0.8-1.1l0.7 0.9l0.8 0.2l0.7 0.9l0.8-1.3l0.7-0.8l0.8 1l0.7 0l0.8-1.2l0.7 0.4l0.8-1.3l0.7 0.5l0.8-0.4l0.7 0.7l0.8 0.9l0.7-0.2l0.8 1l0.7-1.2l0.8-0.3l0.7-5.1l0.8 4.5l0.7 2.1l0.8-0.4l0.7 0l0.8-0.2l0.7 0.4l0.8-0.6l0.7 0.1l0.8 1.8l0.7 0l0.8 0l0.7 0l0.8 0l0.7 0l0.8 0l0.7 0l0.8 0l0.7-0.5l0.8-0.9l0.7 1.4l0.8-0.1l0.7-0.2l0.8 0.2l0.7 0.1l0.8 0l0.7 0l0.8 0l0.7 0l0.8 0l0.7-0.8l0.8 0.5l0.7-0.5l0.8-0.6l0.7-0.2l0.8 0.4l0.7 0l0.8 1.2l0.7-0.8l0.8 0.5l0.7-0.6l0.8-1.7l0.7 2.6l0.8 0l0.7 0l0.8-0.3l0.7 0.3l0.8-0.5l0.7 0.5l0.8-0.2l0.7-0.4l0.8-0.2l0.7 0.3l0.8 0.5l0.7 0l0.8 0l0.7-0.4l0.8-0.1l0.7 0.5l0.8-0.7l0.7 0.2l0.8 0.1l0.7 0.4l0.8-0.1l0.7 0.1l0.8-0.6l0.7-1.2l0.8-0.8l0.7 0.7l0.8-0.5l0.7 0.5l0.8-1.7l0.7 1.2l0.8-0.4l0.7-1l0.8 1.2l0.7 1.7l0.8 0.5l0.7 0.4l0.8 0l0.7 0l0.8 0l0.7 0l0.8 0l0.7 0l0.8 0l0.7 0l0.8-0.1l0.7-0.6l0.8 0.7l0.7 0l0.8 0l0.7 0l0.8-0.1l0.7-0.5l0.8-0.3l0.7-1l0.8-0.6l0.7 0.1l0.8 0.5l0.7-0.4l0.8 0.4l0.7 0.8l0.8 1.1l0.7-0.3l0.8 0.3l0.7-1.8l0.8 1l0.7-1.2l0.8 0.2l0.7 0.3l0.8-0.1l0.7 1.4l0.8 0.2l0.7-1.2l0.8-1l0.7 0.9l0.8-0.5l0.7 0.2l0.8 0.3M121.8 820.1l0.7 0.3l0.8-0.2l0.7 0.8l0.8-0.9l0.7 0l0.8-1.9l0.7-2.3l0.8-4.3l0.7-5l0.8-2.8l0.7-5l0.8-3.7l0.7-3.7l0.8-2.8l0.7-0.7l0-10.1l0.3 10.6l0.3-11.8l0.2 9.2l0.1-10.3l0.3 11.1l0.3-11.7l0 10.5l0.3-9l0.3 8.9l0.2-10.3l0.1 9.3l0.3-8.7l0.3 9.2l0-10.7l0.3 12.1l0.3-12.2l0.2 12.4l0.1-11.2l0.3 8.7l0.3-9.4l0 10.3l0.2-11.5l0.3 10.9l0.3-11l0 12.5l0.3 14.8l0.1-45.2l0-26.2l0.1 26.2l0.1 46.3l0.1 4.6l0.1-1.5l0.7 2.2l0.7 1.1l0.8 2l0.7 1.6l0.8-0.1l0.7 0.5l0.8-0.1l0.7 1l0.8-0.1l0.7 0.7l0.8-0.4l0.7-0.6l0.8 2l0.7 0.4l0.8 0.4l0-1.4l0.2-0.6l0.1-3.7l0.1-1.8l0 1.8l0.1 5l0.2 3.3l0.1-0.4l0.7 0.8l0.7 0.2l0.8 0.3l0.7-2.3l0.8 3.9l0.7-0.4l0.8 0.8l0.7-0.5l0.8 0.5l0.7-0.9l0.8-1.1l0.7-1.8l0.2-1.5l0.2-9l0.1-27.2l0.1-15.5l0 15.2l0.1 28.1l0.1 6.8l0.2 2l0.6 4l0.7 0.7l0.8-0.6l0.7-0.8l0.8-0.1l0.7 0.7l0.8 0.3l0.7 0.5l0.8-1.5l0.7-2.6l0.8 2.4l0.7 0.9l0.8 1.3l0.7-0.5l0.8 0.2l0.7 1.3l0.8 0l0.7-0.8l0.8 0.8l0.7-0.4l0.8 0.3l0.7-0.5l0.8-3.9l0.7 3.7l0.8-0.4l0.7 0l0.8 0.3l0.7-1.1l0.8 1.1l0.7-0.2l0.8-0.8l0.7 0.6l0.8-1.3l0.7-0.8l0.8 1.1l0.7-1.3l0.8 0.8l0.7-0.1l0.8-2.8l0.7 2.9l0.8 0.2l0.7-0.6l0.8-0.7l0.7 0.6l0.8 0.1l0.7 0.6l0.8 0.4l0.7 0.1l0.8 0.4l0.7-1l0.8 0.6l0.4 1.2l0.3-1.4l0-0.2l0.1-1.2l0-1.2l0.1 0l0.1 1.8l0.2 1.7l0.3-0.4l0.7-1.3l0.8 1.5l0.7-1.5l0.8 0.6l0.7-0.7l0.8-1.4l0.7-0.4l0.8 0.5l0.7-2.6l0.8 2.9l0.7-1.6l0.8 1.6l0.7-1.7l0.8-0.5l0.7 0.2l0.8-0.6l0.7 1l0.8-0.4l0.7 0.3l0.8-0.2l0.7 0.6l0.8-2.4l0.7 0.4l0.8-1.3l0.7 1.3l0.8-0.1l0.7 0.3l0.8 0.7l0.7 1.1l0.8 1l0.7-1.9l0.8 1.3l0.7-1.4l0.8 0.3l0.7 0.8l0.8-1.7l0.7-1.1l0.8-0.8l0.7 0.1l0.8 0.3l0.7-1.5l0.8-0.1l0.7 0.7l0.8 0.8l0.7-0.2l0.8 0.7l0.7-4l0.8 3.8l0.7 0.4l0.8-1.2l0.7 0.4l0.8-0.7l0.7 0l0.8 0l0.7-0.9l0.8 0.8l0.7 0.3l0.8-0.5l0.7-0.6l0.8 1.9l0.7-2l0.8 0.9l0.7-2.6l0.8-0.1l0.7 2.1l0.8-1.4l0.7 0.9l0.8-0.8l0.7-0.2l0.8-0.5l0.7-0.5l0.8 0.4l0.7 1.3l0.8-0.5l0.7 1.1l0.8-2.2l0.7-0.5l0.8-1.7l0.7 0.1l0.6-1.3l0.2-1.4l0.1-2.5l0.1-7.4l0-3l0.1 2.7l0.1 6.4l0.2 5.5l0.1 0.6l0.8 1.1l0.7-0.3l0.8-1l0.7-0.3l0.8-2.4l0.7-0.2l0.8-1l0.7 0.8l0.8 0l0.7 0.3l0.8 0l0.7 1.1l0.8-0.5l0.7-0.3l0.8 0.7l0.7-1l0.8 0.1l0.7-0.2l0.8-0.7l0.7 0.7l0.8 0.1l0.7 1l0.8-0.3l0.7-1.2l0.8 0l0.7 0.9l0.8 0.9l0.7-0.4l0.8-0.1l0.7-0.4l0.8 0.1l0.7-2.3l0.8 0.1l0.7 0.5l0.8-1l0.7-0.6l0.8 0.4l0.7 0.9l0.8-1.4l0.7 1.9l0.8 0.5l0.7 1.4l0.8-0.3l0.7 2l0.8-1.1l0.7-1.1l0.8 2l0.7 1l0.8-0.8l0.7 0.3l0.8 0.8l0.7-1l0.8 1.2l0.7-0.7l0.8 0.1l0.7 1.2l0.8-0.8l0.7 0.9l0.8 0.1l0.7 1.3l0.8-0.8l0.7 1.1l0.8-0.5l0.7-1.8l0.8-0.2l0.7-1.2l0.8-0.2l0.7 1.6l0.8 1l0.7 0l0.8 0l0.7 0.7l0.8-1.9l0.7-0.3l0.8-0.7l0.7 0.5l0.8-1.3l0.7-0.4l0.8 0.9l0.7 0.1l0.8 1.5l0.7 0.3l0.8 1.4l0.7-1.3l0.8 0.8l0.7-1.2l0.8-4.5l0.7 5.3l0.8-1.1l0.7 1.5l0.8-0.6l0.7-0.5l0.8-0.5l0.7-1l0.8 1.3l0.7-1l0.8 0.2l0.7-0.9l0.8-0.3l0.7-1l0.8-1l0.7-0.7l0.8 0.1l0.7-0.2l0.8-0.2l0.7-0.7l0.8 1l0.7-1.3l0.8-1.8l0.7 1.3l0.8-0.3l0.7-2.8l0.8-2.8l0.7 0.4l0.8-3.2l0.7-1.6l0.8-0.3l0.7-0.9l0.8 0.1l0.7 2.6l0.8 8.5l0.7 7.4l0.8 1.7l0.7 1.1l0.8-0.5l0.7 1.2l0.8-0.3l0.8-0.5l0.7 0.2l0.8-0.4l0.7 0.7l0.8-0.1l0.7 2.2l0.8-0.6l0.7-0.6l0.8-1.2l0.7 0.2l0.8-1l0.7 1.6l0.8 0.5l0.7-0.5l0.8 1.1l0.7 0.3l0.8-5.6l0.7 3.4l0.8 3l0.7 0.2l0.8-0.4l0.7 1.4l0.8-1.2l0.7 2.1l0.8-0.6l0.7 0.7l0.8 0.4l0.7 0.1l0.8-1.4l0.7 0.5l0.8 0.5l0.7-1.8l0.8 1l0.7-1l0.8 1.2l0.7-2.3l0.8 0.4l0.7 0.6l0.8-0.5l0.7-2.2l0.8-4.3l0.7 4.1l0.8 1.2l0.7 1.5l0.8 0.1l0.7 0.1l0.8 2.1l0.7-1.5l0.8 1.1l0.7 0l0.8-0.7l0.7-0.6l0.8 1.3l0.7 0.3l0.8 0.2l0.7 1l0.8 0.5l0.7 0l0.8 0.2l0.7 1.5l0.8 0l0.7-0.7l0.8-0.5l0.7 0.5l0.8 0.4l0.7 0.1l0.8 1l0.7 0.3l0.8-1.4l0.7 0.2l0.8 0.8l0.7 0l0.8-0.5l0.7 0.5l0.8 0l0.7-1l0.8 0.4l0.7-0.4l0.8-0.5l0.7 0.3l0.8-0.7l0.7 0.2l0.8-0.3l0.7 0.5l0.8 0.2l0.7 0.5l0.8 0.3l0.7-0.4l0.8-1.6l0.7 0.6l0.8-0.7l0.7 1.6l0.8 1l0.7 0.1l0.8-0.1l0.7 1.1l0.8 0l0.7 0l0.8 0l0.7 0l0.8-0.4l0.7 0.4l0.8-0.6l0.7 0l0.8 0.6l0.7 0l0.8 0l0.7-0.8l0.8 0.8l0.7 0l0.8 0l0.7-0.1l0.8 0.1l0.7-0.1l0.8 0l0.7-1.1l0.8-0.7l0.7 1l0.8-1.6l0.7-0.3l0.8 1.1l0.7 1l0.8-2.6l0.7 1.5l0.8 0.4l0.7 0.5l0.8 0.9l0.7 0l0.8-0.5l0.7-3.5l0.8 2.4l0.7 0.6l0.8 1l0.7-0.2l0.8 0.2l0.7 0l0.8 0l0.7 0l0.8 0l0.7 0l0.8 0l0.7 0l0.8-0.3l0.7-0.3l0.8-1.2l0.7 0.5l0.8 0l0.7-1.2l0.8 1.2l0.7 0l0.8-0.9l0.7-0.3l0.8 0.8l0.7 0.9l0.8 0.7l0.7 0.1l0.8-0.7l0.7 0.7l0.8 0l0.7 0l0.8 0l0.7 0l0.8 0l0.7-0.3l0.8 0.3l0.7 0l0.8 0l0.7 0l0.8 0l0.7 0l0.8-0.6l0.7-1.3l0.8 0.3l0.7-1.3l0.8 1.3l0.7 0l0.8 0.6l0.7-0.1l0.8 0.1l0.7 1l0.8-1.1l0.7 0.2l0.8-1l0.7 0.5l0.8-1.4l0.7 0.3l0.8 1.1l0.7 0.4l0.8-1l0.7-0.1l0.8 0.1l0.7-1.1l0.8 1l0.7 0.9l0.8 1.2l0.7 0l0.8 0l0.7 0l0.8 0l0.7-0.2l0.8 0.2l0.7-1.9l0.8-0.4l0.7 0.4l0.8 0.4l0.7-0.3l0.8-1.4l0.7 0.6l0.8 1.2" stroke="#111" stroke-width="2.25" fill="none" stroke-linejoin="round"/>
<polyline points="500.8,851.7 109.2,851.7 109.2,627.8 235.1,426.3 626.7,426.3 626.7,650.2 500.8,851.7" stroke="#3a3a3a" stroke-width="1.7" fill="none" stroke-linejoin="round"/>
<path d="M109.2 851.7v3M128.8 851.7v3M148.4 851.7v3M167.9 851.7v3M187.5 851.7v3M207.1 851.7v3M226.7 851.7v3M246.3 851.7v3M265.8 851.7v3M285.4 851.7v3M305 851.7v3M324.6 851.7v3M344.2 851.7v3M363.7 851.7v3M383.3 851.7v3M402.9 851.7v3M422.5 851.7v3M442.1 851.7v3M461.6 851.7v3M481.2 851.7v3M500.8 851.7v3M626.7 650.2l3.5 1M614.1 670.4l3.5 1M601.5 690.5l3.5 1M588.9 710.7l3.5 1M576.3 730.8l3.5 1M563.8 751l3.5 1M551.2 771.1l3.5 1M538.6 791.2l3.5 1M526 811.4l3.5 1M513.4 831.6l3.5 1" stroke="#3a3a3a" stroke-width="1.4" fill="none"/>
<text transform="translate(104.5 851.3) scale(1 1.14)" text-anchor="end" font-size="24" font-weight="bold">0</text>
<text transform="translate(104.5 808.3) scale(1 1.14)" text-anchor="end" font-size="24" font-weight="bold">1000</text>
<text transform="translate(104.5 765.3) scale(1 1.14)" text-anchor="end" font-size="24" font-weight="bold">2000</text>
<text transform="translate(104.5 722.3) scale(1 1.14)" text-anchor="end" font-size="24" font-weight="bold">3000</text>
<text transform="translate(104.5 679.3) scale(1 1.14)" text-anchor="end" font-size="24" font-weight="bold">4000</text>
<text transform="translate(104.5 636.3) scale(1 1.14)" text-anchor="end" font-size="24" font-weight="bold">5000</text>
<text transform="translate(109.2 876.5) scale(1 1.14)" text-anchor="middle" font-size="24" font-weight="bold">9000</text>
<text transform="translate(207.1 876.5) scale(1 1.14)" text-anchor="middle" font-size="24" font-weight="bold">19000</text>
<text transform="translate(305 876.5) scale(1 1.14)" text-anchor="middle" font-size="24" font-weight="bold">29000</text>
<text transform="translate(402.9 876.5) scale(1 1.14)" text-anchor="middle" font-size="24" font-weight="bold">39000</text>
<text transform="translate(500.8 876.5) scale(1 1.14)" text-anchor="middle" font-size="24" font-weight="bold">49000</text>
<text transform="matrix(0.95 0 -0.720 0.950 639.2 662.7)" font-size="22" font-weight="bold">3</text>
<text transform="matrix(0.95 0 -0.720 0.950 626.6 682.9)" font-size="22" font-weight="bold">6</text>
<text transform="matrix(0.95 0 -0.720 0.950 614 703)" font-size="22" font-weight="bold">9</text>
<text transform="matrix(0.95 0 -0.720 0.950 601.4 723.2)" font-size="22" font-weight="bold">12</text>
<text transform="matrix(0.95 0 -0.720 0.950 588.8 743.3)" font-size="22" font-weight="bold">15</text>
<text transform="matrix(0.95 0 -0.720 0.950 576.2 763.5)" font-size="22" font-weight="bold">18</text>
<text transform="matrix(0.95 0 -0.720 0.950 563.7 783.6)" font-size="22" font-weight="bold">21</text>
<text transform="matrix(0.95 0 -0.720 0.950 551.1 803.8)" font-size="22" font-weight="bold">24</text>
<text transform="matrix(0.95 0 -0.720 0.950 538.5 823.9)" font-size="22" font-weight="bold">27</text>
<text transform="matrix(0.95 0 -0.720 0.950 525.9 844.1)" font-size="22" font-weight="bold">30</text>
<text x="180" y="933" font-size="30" font-weight="bold">Wavenumber(cm<tspan dy="-13" font-size="25">-1</tspan><tspan dy="13" dx="1" font-size="25">)</tspan></text>
<text transform="translate(37 904) rotate(-90)" font-size="30" font-weight="bold">Radiation intensity(a.u.)</text>
<text transform="matrix(0.530 -0.848 1 0 565 887)" font-size="30" font-weight="bold">Horizontal position(mm)</text>
<text transform="translate(488 479) scale(1 1.09)" font-size="47.5" font-weight="bold">Case1</text>
<text x="277.8" y="537.6" font-size="46" fill="#e3141b">H<tspan font-size="32" dy="9">2</tspan><tspan dy="-9">O</tspan></text>
<text x="387" y="537.6" font-size="46" fill="#e3141b">CH<tspan font-size="30" dy="-17">*</tspan></text>
<text x="519" y="537.6" font-size="46" fill="#e3141b">OH<tspan font-size="30" dy="-17">*</tspan></text>
<line x1="323.9" y1="556.5" x2="290.1" y2="600.9" stroke="#e3141b" stroke-width="3.8"/><polygon points="282.2,611.2 284.5,594.1 298.1,604.4" fill="#e3141b"/>
<line x1="433.1" y1="555.1" x2="399.3" y2="600" stroke="#e3141b" stroke-width="3.8"/><polygon points="391.5,610.4 393.7,593.3 407.3,603.5" fill="#e3141b"/>
<line x1="525" y1="556" x2="492.2" y2="600.7" stroke="#e3141b" stroke-width="3.8"/><polygon points="484.5,611.2 486.5,594.1 500.2,604.1" fill="#e3141b"/>

</g>
<g>
<path d="M339.3 1184.1V960.2M437.4 1184.1V960.2M535.4 1184.1V960.2M241.3 1119.1H633.4M241.3 1066.3H633.4M241.3 1013.6H633.4M241.3 960.9H633.4M115.4 1385.6l125.9 -201.5M241.3 1184.1V960.2" stroke="#dadada" stroke-width="1.4" fill="none"/>
<path d="M241.3 1184.1V960.2M228.7 1204.2V980.3M216.1 1224.4V1000.5M203.5 1244.5V1020.6M190.9 1264.7V1040.8M178.4 1284.8V1060.9M165.8 1305V1081.1M153.2 1325.1V1101.2M140.6 1345.3V1121.4M128 1365.4V1141.5M115.4 1320.6l125.9 -201.5M115.4 1267.8l125.9 -201.5M115.4 1215.1l125.9 -201.5M115.4 1162.4l125.9 -201.5M213.4 1385.6l125.9 -201.5M311.5 1385.6l125.9 -201.5M409.5 1385.6l125.9 -201.5" stroke="#e6e6e6" stroke-width="1.2" fill="none"/>
<path d="M241.3 1171.8l0.8 0l0.7 0l0.8 0l0.7 0l0.8-0.3l0.7-1.6l0.8-4.1l0.7-4l0.8-6.3l0.7-6l0.8-3.6l0.7-3.8l0.8-3.9l0.7-2.1l0.8-1.1l0-14.2l0.3 13.2l0.3-13.5l0.1 10.8l0.2-11.1l0.2 13.3l0.3-12.6l0.1 11.5l0.2-13.6l0.3 13.8l0.2-14.7l0.1 14.2l0.3-14.4l0.3 14l0.1-13.7l0.2 14l0.3-12.9l0.2 11.5l0.1-14.5l0.3 14.1l0.3-13.3l0.1 15.2l0.2-14.7l0.3 12.8l0.2-14.9l0.1 16.8l0.2 13.8l0.1-58.2l0.1-32.9l0 32.9l0.1 58.2l0.2 9l0.1-0.7l0.6 4.9l0.8 1.8l0.7 1.2l0.8 2.1l0.7-0.7l0.8 0.3l0.7 1.7l0.8-0.6l0.7-2.3l0.8 2.4l0.7 0.5l0.8 2.3l0.7-0.1l0.8-0.2l0.7 1.6l0-0.1l0.3-2.4l0.1-3.8l0-0.7l0.1 1.1l0.1 3l0.2 1.2l0-1.7l0.7 0.4l0.8 0l0.7-0.1l0.8-1.2l0.8-3.7l0.7 4.9l0.8 0.7l0.7 0.6l0.8-0.4l0.7 0.9l0.8 0.4l0.7-1.3l0.1-0.6l0.3-4.9l0.1-10.4l0-4.3l0.1 6l0.1 9.5l0.1 3.7l0.1 1.7l0.6 0l0.8 0.7l0.7-1.3l0.8-0.9l0.7 2.5l0.8-0.1l0.7 1.5l0.8-0.2l0.7-0.2l0.8 2.2l0.7-0.4l0.8 0.2l0.7-1.4l0.8 0.7l0.7-1l0.8-0.9l0.7 0.7l0.8 0.6l0.7 0.5l0.8 0.3l0.7-0.4l0.8-0.2l0.7-1.1l0.8-0.8l0.7 0.3l0.8 0.5l0.7-0.3l0.8 1.3l0.7 0.4l0.8-1.3l0.7 0.8l0.8 1.5l0.7-0.7l0.8-0.7l0.8-0.5l0.7-0.6l0.8 0.9l0.7 0.4l0.8-3l0.7 4.2l0.8 0l0.7 0l0.8 0l0.7 0l0.8 0l0.7 0l0.8-1.6l0.7-0.8l0.8 0.3l0.7-0.2l0.8-0.3l0.4-0.5l0.3 0.4l0-1.2l0.1-1.1l0-1.8l0.1 0.2l0.1 2.1l0.2-0.3l0.3 0.3l0.7-0.4l0.8-0.3l0.7 0.3l0.8-1.9l0.7 0.8l0.8 1.1l0.7-1.2l0.8 0.1l0.7 1.6l0.8-1.5l0.7 0.5l0.8 0.9l0.7 0.4l0.8 0l0.7-0.5l0.8 0.2l0.7-1l0.8-1l0.7-0.3l0.8-1.3l0.7 1.3l0.8-2.7l0.7 1.2l0.8 0l0.7-0.6l0.8-1l0.8 0.2l0.7-1.4l0.8-0.3l0.7-3.2l0.8 4.5l0.7 1.2l0.8 0.8l0.7 1.8l0.8-0.8l0.7 1.2l0.8 0l0.7 0.3l0.8-0.4l0.7-1.5l0.8 1.8l0.7-1.1l0.8 0.6l0.7 0.7l0.8-1.1l0.7 0.8l0.8-3.4l0.7 1.7l0.8 0.3l0.7-2.1l0.8-0.1l0.7-0.9l0.8-0.2l0.7-0.9l0.8-0.5l0.7-0.4l0.8-0.4l0.7 0.2l0.8 0.3l0.7-1.5l0.8 0.6l0.7-1.4l0.8-1.4l0.7 0.9l0.8-0.1l0.7-0.1l0.8-0.9l0.7-0.8l0.8-0.4l0.8 0.9l0.7-0.4l0.8 0.3l0.7 0.9l0.8 0l0.7 1.2l0.8-1.3l0.7-2.4l0.8 1.4l0.7-1.5l0.6-3.5l0.2-5.2l0-8l0.1-20.8l0.1-5.7l0 5.6l0.1 22.7l0.3 14.2l0.1 3.7l0.8 2.6l0.7 0.6l0.8-1.5l0.7 0.4l0.8-0.6l0.7-1.2l0.8-1l0.7-0.9l0.8 0.1l0.7 0.4l0.8 0l0.7 0.3l0.8 1.5l0.7-0.1l0.8 0.2l0.7-0.7l0.8 0.6l0.7-2l0.8-0.3l0.7 0.7l0.8-0.2l0.7 0.7l0.8-1.5l0.7 0.4l0.8-0.4l0.7-3.5l0.8 3.1l0.7-0.5l0.8 1.7l0.7 0l0.8-0.2l0.8 0.8l0.7 0l0.8-1.6l0.7 0.8l0.8 0.9l0.7 2.2l0.8-0.7l0.7 1.7l0.8 0.9l0.7-0.9l0.8 1.6l0.7-0.5l0.8-0.8l0.7 1.1l0.8-1.9l0.7 2.5l0.8-0.5l0.7 0.3l0.8-1.4l0.7 0.1l0.8-1l0.7-0.5l0.8 0.2l0.7-0.3l0.8 0.3l0.7-0.4l0.8-0.2l0.7 0.3l0.8-0.7l0.7 0.4l0.8-0.2l0.7-0.5l0.8 1.4l0.7-0.1l0.8 1.8l0.7-1.5l0.8 1.3l0.7 1.2l0.8-0.9l0.7-0.7l0.8-1.3l0.7 0.3l0.8-0.8l0.8 0.3l0.7 0.1l0.8 1.8l0.7 0.5l0.8-1.9l0.7-1.1l0.8 1.3l0.7-0.9l0.8-1.8l0.7-0.6l0.8 1.9l0.7-0.2l0.8-1.4l0.7-0.5l0.8 0.1l0.7-0.8l0.8 0.8l0.7-0.3l0.8-1.3l0.7 2l0.8-1.5l0.7 0.7l0.8-1.3l0.7 0.6l0.8-0.1l0.7-1.1l0.8 0.1l0.7-0.8l0.8 0.5l0.7-2.4l0.8 0l0.7-1.1l0.8 0.3l0.7-0.4l0.8-2.8l0.7-0.9l0.8-1.8l0.7-1.3l0.8-3.5l0.7-1.3l0.8-0.1l0.7-1.9l0.8-0.4l0.7-0.8l0.8 0.6l0.8 1.9l0.7 14.6l0.8 8.6l0.7 1.3l0.8 0l0.7 0l0.8-1.4l0.7 0.8l0.8 0.9l0.7-2l0.8 1.1l0.7 0.8l0.8 0l0.7 0.7l0.8 1.2l0.7-0.4l0.8 0.2l0.7-0.2l0.8-0.9l0.7 0.3l0.8-1.1l0.7-0.1l0.8 0.2l0.7-0.8l0.8-0.2l0.7 1.4l0.8 1l0.7-0.6l0.8 0.2l0.7 0.1l0.8-0.3l0.7 1.6l0.8 0.3l0.7-0.1l0.8 1.1l0.7 0.7l0.8-0.4l0.7-0.1l0.8-1.1l0.7 0.4l0.8 0.1l0.7 1.5l0.8 0.1l0.8-0.4l0.7 1.3l0.8-0.3l0.7-0.9l0.8 0.8l0.7-0.1l0.8-1.3l0.7-1.6l0.8 3.4l0.7 0.7l0.8 1.9l0.7-1l0.8 0.5l0.7-0.2l0.8-0.2l0.7-0.7l0.8 0.9l0.7-1.4l0.8-0.9l0.7 1.5l0.8 0.6l0.7 0.3l0.8 0.6l0.7-2.5l0.8 1.6l0.7-0.5l0.8 1.3l0.7 0.1l0.8 0.3l0.7 0.4l0.8-0.4l0.7-0.7l0.8 1.5l0.7-0.7l0.8-0.6l0.7 0.6l0.8-0.9l0.7-0.5l0.8 0.8l0.7 0l0.8 0.8l0.7-0.8l0.8-1.1l0.8 0.4l0.7 0l0.8 0.1l0.7 0l0.8-0.4l0.7-1.6l0.8 1.1l0.7 1.4l0.8 1.2l0.7 0.6l0.8-1.2l0.7-2.1l0.8 3.1l0.7 0l0.8-1.1l0.7 0.4l0.8-1.5l0.7 0.7l0.8-0.7l0.7 0l0.8-0.6l0.7 1.3l0.8 0.1l0.7-0.7l0.8 0.7l0.7 0.5l0.8-0.1l0.7 1.2l0.8-0.2l0.7-1.7l0.8 1.2l0.7 0.1l0.8-0.8l0.7 1.4l0.8-0.4l0.7 0.4l0.8-0.2l0.7 0l0.8-1.3l0.7 0.4l0.8-0.4l0.7 1.5l0.8 0l0.7 0l0.8-0.2l0.8 0.2l0.7 0l0.8 0l0.7-0.1l0.8 0.1l0.7-0.2l0.8-2l0.7 1.1l0.8 0.8l0.7-0.9l0.8 0.9l0.7 0.3l0.8-0.4l0.7 0.4l0.8-0.7l0.7-0.4l0.8-0.4l0.7 0.6l0.8-1.6l0.7-0.3l0.8-0.8l0.7 0.5l0.8 0.2l0.7 0l0.8 0.4l0.7 0.4l0.8 0.2l0.7-0.8l0.8 1l0.7 0.4l0.8 0.8l0.7 0.1l0.8 0.1l0.7 0.2l0.8 0.1l0.7 0l0.8-1.2l0.7 1l0.8 0.1l0.7 0.1l0.8 0l0.7 0l0.8-0.4l0.8-0.5l0.7 0.3l0.8-0.4l0.7-0.2l0.8 0.4l0.7-0.1l0.8 0.9l0.7 0l0.8 0l0.7 0l0.8 0l0.7 0l0.8 0l0.7 0l0.8 0l0.7 0l0.8-0.1l0.7-0.8l0.8 0l0.7 0.7l0.8 0.2l0.7-0.8l0.8 0.5l0.7 0.2l0.8 0.1l0.7 0l0.8 0l0.7 0l0.8 0l0.7 0l0.8 0l0.7 0l0.8 0l0.7 0l0.8 0l0.7 0l0.8 0l0.7 0l0.8 0l0.7 0l0.8 0l0.7 0l0.8 0M228.7 1190.7l0.8-0.9l0.7-0.4l0.8-0.5l0.7-0.4l0.8-1.5l0.7-2.9l0.8-2.2l0.7-5.4l0.8-5.7l0.7-4.7l0.8-4.6l0.7-5.1l0.8-2.7l0.7-3.8l0.8 0.2l0-15.7l0.3 11l0.3-12.1l0.1 15.4l0.2-15.8l0.3 15.4l0.3-16.3l0 14.7l0.2-13.2l0.3 15.3l0.2-16.3l0.1 14.5l0.3-13.4l0.3 15.7l0.1-16.8l0.2 17l0.3-16.8l0.2 15.9l0.1-15.9l0.3 15.4l0.3-18.2l0.1 16.6l0.2-15.2l0.3 13.9l0.2-16.2l0.1 16.2l0.2 14.6l0.1-72.1l0.1-40.8l0 40.8l0.1 72.1l0.2 10.7l0.1 0.3l0.6 5.2l0.8 2.8l0.7 1.2l0.8 1.7l0.7 0.2l0.8 1.5l0.7-0.8l0.8 0l0.7 1.6l0.8 0.9l0.7-0.1l0.8-1.3l0.8 1l0.7 0.2l0.7 0.6l0.1 1.7l0.2-2.9l0.1-5.8l0 0.4l0.1 2l0.1 4l0.2 1.1l0-0.5l0.8 2.3l0.7-1.2l0.8 0.3l0.7 0.9l0.8-2.2l0.7 2.5l0.8 0l0.7-0.5l0.8-0.3l0.7 1.1l0.8 0.4l0.7-0.9l0.1 0.8l0.3-4.4l0.1-12.3l0-4.8l0.1 5.6l0.1 10.9l0.1 1.9l0.1 1.1l0.6 0.3l0.8 0.3l0.7-1.3l0.8-0.2l0.7 0.6l0.8-0.4l0.7-0.1l0.8 0.5l0.7-0.7l0.8 0.8l0.7 0.7l0.8 1l0.7 1.4l0.8 0.9l0.7-0.3l0.8 1.3l0.7-0.6l0.8-0.2l0.7 0.6l0.8-0.4l0.7-2.3l0.8 0.5l0.7-0.2l0.8-0.3l0.7 0.6l0.8 1.5l0.8-1.4l0.7 2l0.8-1l0.7-0.7l0.8-0.5l0.7 0l0.8 1.2l0.7-1l0.8-0.1l0.7 0.8l0.8-1.1l0.7-6.3l0.8 5.7l0.7-0.3l0.8 0.4l0.7-0.9l0.8-0.9l0.7 0.2l0.8 0.3l0.7-0.6l0.8-0.3l0.7 0.1l0.8 0.2l0.7-0.6l0.8 0.8l0.4-0.4l0.3-1.3l0-0.9l0.1-0.9l0-0.4l0.1 1.2l0.1 2.1l0.2 1.7l0.3 1.2l0.7-1.6l0.8 1.1l0.7-0.5l0.8 1.6l0.7-0.7l0.8 1.3l0.7-0.8l0.8-0.3l0.7-0.1l0.8-1l0.7-2.5l0.8 1.5l0.7 0.9l0.8-0.6l0.7-1.8l0.8 1.7l0.8 0l0.7-2.4l0.8 0.6l0.7-1.5l0.8 1.4l0.7-0.6l0.8-0.3l0.7 0.2l0.8 0.7l0.7-1l0.8 0.2l0.7 0.2l0.8 0.7l0.7-0.1l0.8-1.3l0.7 1.5l0.8-0.2l0.7-1.2l0.8 0.1l0.7-0.5l0.8-0.7l0.7 1.3l0.8-1.5l0.7 1.3l0.8-0.6l0.7 0.5l0.8 1l0.7-0.5l0.8 1.1l0.7-0.4l0.8-1.5l0.7 1l0.8 0.6l0.7-1.5l0.8-0.2l0.7-0.3l0.8-0.6l0.7 0.1l0.8 0.7l0.7-1.3l0.8-0.1l0.7-0.7l0.8 0.5l0.7-1.4l0.8-0.7l0.8 0.1l0.7-1.5l0.8 0.7l0.7 1.1l0.8-1.7l0.7 0l0.8 1.5l0.7-1l0.8 1l0.7 0.4l0.8-0.8l0.7 0.1l0.8 0.7l0.7-1.1l0.8-0.3l0.7 0.5l0.8-0.9l0.7-0.8l0.6-3.3l0.2-4.3l0.1-9.1l0.1-19l0-5.7l0.1 6.4l0.1 19.5l0.2 12.7l0.1 2l0.8 0.9l0.7 0.8l0.8-1.6l0.7 0.1l0.8-1.3l0.7-1.5l0.8 0.8l0.7 0.3l0.8-0.8l0.7-0.6l0.8-0.3l0.7-0.5l0.8 1.4l0.7-1.3l0.8 0.1l0.7-1.1l0.8 0l0.7-0.7l0.8 1.9l0.7 0.1l0.8 0.2l0.7 0l0.8 0.3l0.8 1l0.7-0.1l0.8 0.4l0.7-0.2l0.8-0.9l0.7 0.3l0.8 0.2l0.7-0.1l0.8 1.6l0.7 0.5l0.8-0.3l0.7 0.5l0.8 0.5l0.7 1.1l0.8 0.6l0.7 0.6l0.8 0.1l0.7 0.1l0.8 0l0.7 0.8l0.8-1.5l0.7 0.8l0.8-1.9l0.7-0.1l0.8 0.4l0.7-0.5l0.8-0.1l0.7-0.9l0.8-0.7l0.7 0l0.8-0.5l0.7-0.6l0.8 0.3l0.7 0.4l0.8 0.3l0.7 0.5l0.8 2.4l0.7-1l0.8 0.3l0.7 1.4l0.8-1.8l0.7 0.9l0.8 0.5l0.8-0.7l0.7-3.5l0.8 3.9l0.7-0.4l0.8 0.5l0.7-0.2l0.8-0.3l0.7 0.5l0.8-0.8l0.7 0.9l0.8-1l0.7 0.5l0.8 0.4l0.7-2.1l0.8 2.5l0.7 0.1l0.8-2.1l0.7 0.9l0.8-2.1l0.7-1.3l0.8 0.7l0.7-0.6l0.8 0.5l0.7 0.5l0.8-1.4l0.7-1.2l0.8 1.5l0.7-0.1l0.8 0.9l0.7-0.9l0.8 1.7l0.7 0l0.8-2.3l0.7 1.3l0.8-0.4l0.7-3.1l0.8 1l0.7-0.3l0.8-0.5l0.7-2.2l0.8-1.7l0.7-0.5l0.8-1.7l0.8-2.9l0.7-1l0.8-2.9l0.7-0.7l0.8-2.9l0.7-0.7l0.8-0.3l0.7-1.7l0.8 0.3l0.7 0.1l0.8 3.1l0.7 12.1l0.8 10.1l0.7 3.1l0.8 0.2l0.7 0.6l0.8 0.9l0.7-0.4l0.8 0.3l0.7-1.9l0.8 1l0.7 0l0.8-0.6l0.7 0.2l0.8 0.3l0.7-0.4l0.8 0.5l0.7 1.5l0.8 0.5l0.7-0.3l0.8 0.5l0.7 0.6l0.8 1.6l0.7-1.4l0.8 0.7l0.7 1.4l0.8 0.3l0.7-0.5l0.8 0.3l0.7 0.2l0.8-1.9l0.7 0.2l0.8-0.1l0.7-1.3l0.8 1.3l0.8-1.4l0.7 1.2l0.8-1l0.7-1.4l0.8 0.7l0.7 0.4l0.8 0l0.7 0.1l0.8 1.2l0.7 0.1l0.8 1.1l0.7 0.4l0.8-0.6l0.7-0.4l0.8-2l0.7 1.3l0.8 1.2l0.7-0.3l0.8-0.3l0.7 1.4l0.8 1.1l0.7 1.4l0.8 0.7l0.7 0.6l0.8 0l0.7 0l0.8-0.3l0.7 0.3l0.8-1.1l0.7-0.1l0.8 0.3l0.7-0.7l0.8 1.6l0.7-0.3l0.8 0.3l0.7 0l0.8 0l0.7 0l0.8 0l0.7 0l0.8 0l0.7 0l0.8 0l0.8 0l0.7 0l0.8 0l0.7 0l0.8 0l0.7 0l0.8 0l0.7 0l0.8 0l0.7 0l0.8-0.5l0.7-0.6l0.8-1.3l0.7 0.2l0.8 0.5l0.7-1l0.8 1.2l0.7-0.2l0.8 0.1l0.7 1.1l0.8-0.4l0.7 0.6l0.8 0.3l0.7-0.2l0.8-0.6l0.7 0.8l0.8-0.6l0.7 0.6l0.8-1.7l0.7-0.3l0.8-0.2l0.7-0.1l0.8-0.1l0.7 1.6l0.8 0.5l0.7-0.6l0.8 0.4l0.7-0.7l0.8 1.2l0.7-0.1l0.8-1.1l0.7 0l0.8 0.7l0.8-1l0.7 0.8l0.8-1.1l0.7 1.3l0.8 0.5l0.7 0l0.8 0l0.7 0l0.8 0l0.7 0l0.8 0l0.7 0l0.8 0l0.7 0l0.8 0l0.7 0l0.8-2.4l0.7 2.4l0.8 0l0.7 0l0.8 0l0.7 0l0.8 0l0.7 0l0.8 0l0.7 0l0.8-0.2l0.7 0.2l0.8 0l0.7 0l0.8 0l0.7 0l0.8 0l0.7 0l0.8 0l0.7 0l0.8 0l0.7 0l0.8 0l0.7-0.3l0.8-0.6l0.7 0.9l0.8-0.5l0.8 0l0.7-1.1l0.8-0.1l0.7 0.5l0.8 0.5l0.7 0.1l0.8-0.4l0.7 1l0.8-1l0.7 0.2l0.8-1.4l0.7-0.3l0.8 1.4l0.7-0.6l0.8-1.9l0.7 0.1l0.8 0.2l0.7 0.8l0.8 1.4l0.7 0.7l0.8-0.8l0.7-0.3l0.8-0.3l0.7 1l0.8 0.5l0.7-1.1l0.8-1.1l0.7 0.4l0.8 1.6l0.7 0.5l0.8-0.1l0.7 0.1l0.8-0.5l0.7 0.5l0.8-1.5l0.7 1.4l0.8-0.4l0.7 0.3l0.8-0.9l0.7 0l0.8 0.5l0.7 0.6l0.8 0l0.7 0l0.8-0.8l0.8 0l0.7-1.5l0.8 0.5l0.7-0.2l0.8-0.7l0.7 2.1l0.8 0.6l0.7 0M216.1 1211.7l0.8-2.9l0.7 0.7l0.8-1.3l0.7-0.6l0.8-1.1l0.7-1.4l0.8-4.6l0.7-4.4l0.8-5.3l0.7-7.2l0.8-4.1l0.7-4.7l0.8-5.9l0.7-1.3l0.8-1.1l0-18.4l0.3 14.1l0.3-12.7l0.1 16.5l0.2-17.4l0.3 15.2l0.3-16.7l0 17.8l0.3-17.5l0.3 15.5l0.1-12.9l0.1 13.5l0.3-14.9l0.3 14.2l0.1-16l0.2 16.3l0.3-15.4l0.2 15.4l0.1-15.4l0.3 14l0.3-17.2l0.1 17.7l0.2-16.3l0.3 17.5l0.2-19l0.1 17.1l0.2 19.2l0.1-70.7l0.1-39.9l0 39.9l0.1 70.7l0.2 10.5l0.1-0.4l0.6 4.8l0.8 2.2l0.7 2l0.8 1.9l0.8-0.9l0.7 1.3l0.8-0.1l0.7 1.4l0.8-0.5l0.7 0.9l0.8 0.8l0.7-0.2l0.8 1.4l0.7-0.9l0.7-0.2l0.1-0.8l0.2-0.8l0.1-4.9l0-1.8l0.1 1.4l0.1 4.2l0.2 2.5l0-0.5l0.8 1.8l0.7 1.4l0.8 0.5l0.7-3l0.8 3l0.7 0.3l0.8-0.8l0.7 1.3l0.8-1l0.7 0.1l0.8 0.4l0.7 0.2l0.1-1.1l0.3-3.7l0.1-13.1l0-7.3l0.1 7.5l0.1 12.8l0.1 3.6l0.1 1.8l0.6 1.3l0.8-0.3l0.7 0.1l0.8-0.6l0.7 1.1l0.8 0l0.7-0.8l0.8-1.7l0.7 0l0.8-3l0.7 4.4l0.8-1.1l0.7-0.9l0.8-0.3l0.7 1.1l0.8-1.3l0.7 0.9l0.8-0.9l0.8 1.3l0.7-1.2l0.8-0.3l0.7 2.1l0.8-1.6l0.7-1.2l0.8-0.6l0.7 1.2l0.8 0.4l0.7-0.2l0.8 0.6l0.7 0.1l0.8 1.2l0.7 0.2l0.8-0.1l0.7-0.4l0.8 0l0.7-0.1l0.8-0.7l0.7-0.5l0.8 0.1l0.7-0.3l0.8-0.3l0.7-0.5l0.8 1.2l0.7 0.2l0.8 0l0.7-0.9l0.8 1.1l0.7-0.8l0.8-0.2l0.7 0.4l0.8 0.2l0.5 0l0.2 0.1l0-1.2l0.1-1.2l0-0.4l0.1 1l0.1 3l0.2 1.9l0.3-1.2l0.7-1l0.8-0.1l0.7-1.2l0.8-0.2l0.7 0.4l0.8 0.6l0.7-0.6l0.8 0.9l0.8-0.2l0.7-0.8l0.8-1.3l0.7 1.7l0.8 0.1l0.7-0.1l0.8 0.7l0.7 0.3l0.8-0.1l0.7-0.1l0.8-1.6l0.7 1.3l0.8-1.1l0.7-1.8l0.8 0.8l0.7-1.3l0.8 0.2l0.7 1.9l0.8-0.2l0.7 1.9l0.8-0.9l0.7 0.1l0.8-4.9l0.7 4.5l0.8-1l0.7 1.5l0.8-1l0.7 0.2l0.8 1.4l0.7-1.7l0.8-0.5l0.7-0.4l0.8-0.5l0.7-1.4l0.8 0.9l0.7 0.2l0.8-0.4l0.7-0.8l0.8-3.3l0.7 3l0.8-0.9l0.7-0.1l0.8-0.6l0.8 0.1l0.7-0.2l0.8-1.6l0.7-0.1l0.8 0.2l0.7-0.5l0.8 0.3l0.7-0.3l0.8 0.5l0.7 0.7l0.8 0.5l0.7-0.6l0.8-4.3l0.7 2.4l0.8 0.9l0.7-1.4l0.8 1l0.7-1.2l0.8 0.9l0.7-0.8l0.8 1.5l0.7-0.7l0.8 0.9l0.7-0.6l0.8 0.4l0.7-0.4l0.8 0l0.7-1.6l0.6-1.9l0.2-5.9l0.1-4.4l0.1-14.1l0-5l0.1 5.8l0.1 14.9l0.2 10.1l0.1-0.5l0.8 1.9l0.7-0.5l0.8 1.6l0.7 0.4l0.8-1.5l0.7-1l0.8 0.5l0.7 0l0.8-0.1l0.7 0.2l0.8-0.6l0.7-0.5l0.8-0.1l0.7-0.5l0.8 0.3l0.8-0.7l0.7-0.7l0.8 1.1l0.7-0.4l0.8 1.4l0.7 0l0.8 1.3l0.7-1.8l0.8 1.6l0.7-0.4l0.8 0.9l0.7 1.4l0.8-0.7l0.7-1l0.8-0.1l0.7-0.3l0.8-0.5l0.7 0.1l0.8-1l0.7 0.2l0.8 1.6l0.7-1.4l0.8 0.2l0.7 0.3l0.8-0.5l0.7 3.1l0.8-2.7l0.7 2.3l0.8-0.7l0.7 1.2l0.8-1.4l0.7-1.7l0.8 2.3l0.7 0.1l0.8 0.2l0.7 0.6l0.8-0.3l0.7 0.6l0.8-0.2l0.7 2l0.8-1.1l0.7 0.7l0.8-0.5l0.8-0.3l0.7 0.5l0.8-0.4l0.7-0.4l0.8 0.1l0.7-0.2l0.8-0.9l0.7 0.6l0.8-0.1l0.7-0.6l0.8-1.4l0.7 0.6l0.8 0.1l0.7-0.4l0.8-0.6l0.7 0.2l0.8 1.8l0.7 0.1l0.8-1.1l0.7 0.1l0.8-0.7l0.7 0.6l0.8-0.2l0.7 0l0.8 1.4l0.7-0.8l0.8 0l0.7-1.1l0.8 1.8l0.7-0.2l0.8-0.3l0.7-0.9l0.8 2.1l0.7 0.9l0.8-0.6l0.7 0.2l0.8-0.5l0.7 0.3l0.8-0.1l0.7 2l0.8-3.2l0.7-2.3l0.8-0.3l0.8-0.7l0.7-1.6l0.8-1.3l0.7-1.1l0.8 1.3l0.7-1.8l0.8-1l0.7-0.6l0.8-3.8l0.7-1.5l0.8-2.9l0.7-3.1l0.8-3.8l0.7-0.6l0.8-1.8l0.7-0.8l0.8-0.8l0.7 0.6l0.8 1.6l0.7 13.1l0.8 10l0.7 2.9l0.8 3.1l0.7-2.6l0.8 1.3l0.7 0.1l0.8-0.6l0.7 0.6l0.8-0.7l0.7-0.9l0.8 1.6l0.7-2.5l0.8-0.8l0.7 0.7l0.8-1.3l0.7 1.3l0.8-0.1l0.7 0.3l0.8 1.7l0.7-1.3l0.8 0.7l0.7-0.3l0.8-2.8l0.8 2.6l0.7 1.2l0.8 0.5l0.7 1.1l0.8 0l0.7-0.1l0.8-0.1l0.7 0.5l0.8 0.3l0.7-0.6l0.8 1.5l0.7-0.2l0.8 1.3l0.7-0.3l0.8 1l0.7-0.4l0.8 1l0.7 1.6l0.8-1.6l0.7 1.3l0.8 0.3l0.7-0.4l0.8-1.9l0.7-0.3l0.8-1.4l0.7 0l0.8 2.7l0.7-0.1l0.8 0.5l0.7 1l0.8 0.2l0.7 0.9l0.8-0.6l0.7 1.3l0.8 1l0.7 0.1l0.8 0.5l0.7-0.7l0.8-1l0.7 1.6l0.8 0.4l0.7 0l0.8-0.7l0.7-1.8l0.8-0.7l0.8 0.3l0.7-0.1l0.8 1.3l0.7-0.7l0.8-1.3l0.7 0.5l0.8 0.3l0.7-1.6l0.8 0.4l0.7 1l0.8 1.3l0.7-0.5l0.8 0.2l0.7-0.9l0.8 0.7l0.7 0.2l0.8-0.5l0.7 0.4l0.8 0l0.7 0.9l0.8 1l0.7-1l0.8 0.8l0.7 0.4l0.8 0.1l0.7-1.2l0.8-1.5l0.7 2l0.8 0.7l0.7-1.2l0.8-0.2l0.7 0.9l0.8-0.1l0.7 0.6l0.8-1.4l0.7-1.2l0.8 0.9l0.7-0.1l0.8 0.2l0.7 1.3l0.8-1.6l0.7 0.2l0.8 0.4l0.8-1.7l0.7 2l0.8-1.7l0.7 0l0.8 0l0.7 1l0.8-0.5l0.7 1.2l0.8-0.2l0.7-0.8l0.8-0.7l0.7 1.1l0.8 0.9l0.7 0.7l0.8 0l0.7 0l0.8 0l0.7-0.3l0.8-0.3l0.7 0l0.8 0.1l0.7 0.3l0.8 0.2l0.7-0.1l0.8-1.4l0.7 1.5l0.8 0l0.7 0l0.8 0l0.7 0l0.8-0.1l0.7 0.1l0.8 0l0.7 0l0.8-0.7l0.7 0.3l0.8-0.1l0.7-0.4l0.8-0.9l0.7-0.3l0.8 0.9l0.7 0.5l0.8 0.1l0.8 0.6l0.7 0l0.8-1l0.7-0.4l0.8-1.3l0.7 0.7l0.8 0.5l0.7-1.7l0.8-0.1l0.7-0.1l0.8 0.2l0.7 0.5l0.8 0.9l0.7-0.7l0.8 0.7l0.7-1.1l0.8 0.9l0.7-0.6l0.8 1.4l0.7-1.2l0.8 0.9l0.7 0.3l0.8-1.8l0.7 0.5l0.8 1.2l0.7 0.4l0.8 0.3l0.7 0l0.8 0.4l0.7 0.2l0.8-0.9l0.7 0.8l0.8 0.1l0.7 0l0.8 0l0.7 0l0.8 0l0.7 0l0.8 0l0.7 0l0.8 0l0.7 0l0.8-0.9l0.8 0.9l0.7-0.2l0.8-0.1l0.7 0.3l0.8 0l0.7-0.5l0.8 0.5l0.7-2l0.8-0.4l0.7-0.3l0.8-0.5l0.7-0.4l0.8 1.1l0.7-0.2l0.8 0.6l0.7-0.4l0.8 1.2l0.7 0.7M203.5 1232.2l0.8 0l0.7 0l0.8 0l0.7 0l0.8-2.6l0.7-2.1l0.8-4.8l0.7-5l0.8-7.4l0.7-6.6l0.8-5.2l0.7-7.1l0.8-5.3l0.7-2l0.8-1.3l0-17.8l0.3 17.1l0.3-15.3l0.1 15.2l0.2-18.3l0.3 15.9l0.3-15.4l0 16l0.3-13.4l0.3 16.6l0.2-17.9l0.1 15.2l0.2-16.3l0.3 15.4l0.1-15.9l0.2 18.8l0.3-18.1l0.3 18.5l0-17.9l0.3 16.7l0.3-20.8l0.1 17.5l0.2-14.5l0.3 16.7l0.3-19.9l0 16.6l0.2 17.1l0.1-84.6l0.1-47.8l0 47.8l0.1 84.6l0.2 16.4l0.1 0.5l0.7 4.2l0.7 4.2l0.8 1.7l0.7 0.6l0.8 0l0.7 1l0.8 0.8l0.7 0.8l0.8-5.2l0.7 4.9l0.8 1.2l0.7 0.4l0.8 0.5l0.7 0.8l0.8-0.9l0 0.3l0.2-2.8l0.1-4l0-3.4l0.1 3.1l0.1 3.2l0.2 2.8l0 1.4l0.8-0.7l0.7 0.7l0.8 0.7l0.7-2.4l0.8 3.4l0.7 0.2l0.8 0.9l0.7-1.5l0.8-0.4l0.7-0.6l0.8 0.2l0.7-0.1l0.2-0.8l0.2-5l0.1-13.4l0-7.6l0.1 7.8l0.1 14.1l0.1 4l0.1 3.6l0.6 0l0.8 1.6l0.7-0.5l0.8-0.6l0.7 0.7l0.8 0.1l0.7-0.4l0.8-1.9l0.8 0.8l0.7-3.2l0.8 1.5l0.7 1.5l0.8-1.1l0.7-0.6l0.8-0.6l0.7-0.7l0.8 1.5l0.7-0.6l0.8 0.2l0.7 0l0.8 0.6l0.7 0.3l0.8-1.3l0.7 0.8l0.8 0.8l0.7 0.2l0.8-0.9l0.7 0.8l0.8 0.8l0.7-0.4l0.8 1.3l0.7-1.4l0.8 0.5l0.7 0.6l0.8 0.9l0.7-1.2l0.8 0.2l0.7 1.2l0.8-0.9l0.7 0.7l0.8-1.7l0.7-0.2l0.8-0.3l0.7 0.6l0.8-0.3l0.7 0.4l0.8-0.2l0.7-0.1l0.8-0.5l0.7 0.9l0.8-0.7l0.5 0.7l0.2-1.1l0 0.4l0.1-0.4l0.1-1.9l0 1.8l0.1-1.9l0.2 1.6l0.3 0.9l0.8-0.3l0.7-0.5l0.8-0.9l0.7-0.7l0.8 0.2l0.7-1.2l0.8 1.2l0.7-1.1l0.8-0.8l0.7 0.4l0.8 0.4l0.7 1.4l0.8-1.3l0.7 0.1l0.8-0.8l0.7 0.2l0.8-0.8l0.7-0.3l0.8 0.9l0.7 0.5l0.8-0.3l0.7-0.1l0.8-1.1l0.7-0.5l0.8-0.2l0.7 0.5l0.8-0.6l0.7-0.8l0.8 0.2l0.7 1l0.8-5.8l0.7 5l0.8-0.5l0.7 0.3l0.8-0.8l0.7 1.2l0.8 0.3l0.7-1.2l0.8-0.1l0.7-1.6l0.8 1.7l0.7-0.7l0.8 0.8l0.8-1.7l0.7 1.1l0.8-0.4l0.7-2.6l0.8 2.1l0.7-1.3l0.8 0l0.7-0.9l0.8-0.7l0.7 0l0.8-1l0.7 0.3l0.8 1.1l0.7 0.9l0.8-0.2l0.7 0.1l0.8-0.4l0.7-0.1l0.8-1.7l0.7-0.3l0.8-1.8l0.7 1.8l0.8 0.1l0.7 0.8l0.8 0.6l0.7 0.5l0.8-1.3l0.7-1.7l0.8 0.2l0.7-0.3l0.8-1l0.7 0.5l0.8 0.5l0.7-1.5l0.8 0.3l0.7-2.2l0.6-1l0.2-3.7l0.1-5.6l0.1-12.1l0-4.5l0.1 5.3l0.1 15l0.2 8.4l0.1 1.3l0.8 0.9l0.7 0.6l0.8 1.6l0.7 1.4l0.8 0.2l0.8-1.1l0.7 1.7l0.8-1.5l0.7 0l0.8-0.6l0.7-1.8l0.8 0.5l0.7-2.3l0.8 0.2l0.7-0.8l0.8-1.1l0.7 0.5l0.8-1.7l0.7 2l0.8-0.6l0.7 0.5l0.8 1.5l0.7 0.1l0.8 0.5l0.7-1.9l0.8 2.4l0.7 1.6l0.8-0.5l0.7-0.1l0.8 0.3l0.7-1.5l0.8 0.2l0.7 0.4l0.8-1l0.7 1l0.8-1.4l0.7 0.9l0.8-0.2l0.7 0.3l0.8-2.2l0.7 0.8l0.8 0.3l0.7 0.6l0.8 1.2l0.7-2.6l0.8-2.8l0.7 3.5l0.8 0.2l0.8 0.1l0.7-1.1l0.8 2.1l0.7 0.2l0.8 0.4l0.7 0.3l0.8 1.5l0.7-0.3l0.8 0.7l0.7-0.8l0.8-0.6l0.7 0.1l0.8-1.4l0.7 1.1l0.8 0.9l0.7 1.4l0.8-1.4l0.7 0.5l0.8-1.3l0.7 1.1l0.8 1.3l0.7-0.4l0.8-1.8l0.7 0.1l0.8-0.2l0.7-0.8l0.8 1.5l0.7 1.2l0.8 0.1l0.7 0l0.8-1l0.7-0.6l0.8 0.7l0.7-0.3l0.8 0.6l0.7 0l0.8 0.4l0.7-0.7l0.8 0.2l0.7 1.7l0.8-0.3l0.7 0.9l0.8 0.8l0.7 0.4l0.8-2.2l0.8 0.6l0.7-0.7l0.8-0.3l0.7-0.7l0.8 0.2l0.7-1.8l0.8 0l0.7-0.6l0.8-1l0.7-0.7l0.8-0.9l0.7-0.6l0.8-0.4l0.7-1.2l0.8-1.1l0.7 0.1l0.8-2l0.7-1.2l0.8-1.6l0.7-3l0.8-3.1l0.7-2.3l0.8-3l0.7-0.4l0.8-2.6l0.7-0.2l0.8 3.1l0.7 12.9l0.8 9.5l0.7 3.3l0.8 2.5l0.7-1.4l0.8-0.1l0.7 0.6l0.8-0.7l0.7-0.9l0.8 2.6l0.7-0.4l0.8-0.8l0.7 0.5l0.8-0.1l0.7 1.2l0.8-1.6l0.8-0.8l0.7 1.2l0.8 0.5l0.7 0l0.8 1.1l0.7-0.4l0.8 1.3l0.7 0.3l0.8-3.3l0.7 2.3l0.8-0.3l0.7 0.4l0.8-0.8l0.7-0.2l0.8-0.1l0.7-0.3l0.8-0.5l0.7-0.3l0.8 0.3l0.7-1.3l0.8 2.6l0.7 0.1l0.8 0.1l0.7 1.6l0.8-1l0.7 1.4l0.8 0l0.7-1.1l0.8-0.4l0.7 1.7l0.8-1l0.7-2.1l0.8 1.9l0.7 1.7l0.8 1.1l0.7-1.7l0.8 1.3l0.7 0.5l0.8 0.8l0.7-0.4l0.8 0.5l0.7 1.7l0.8 0.2l0.8-0.1l0.7-0.2l0.8-0.1l0.7 0.6l0.8-1.2l0.7-0.6l0.8-0.9l0.7 2l0.8-1l0.7 1.3l0.8-0.2l0.7 0.3l0.8-0.2l0.7-0.4l0.8 1.6l0.7 0l0.8 0l0.7 0l0.8 0l0.7 0l0.8 0l0.7 0l0.8-0.3l0.7 0l0.8 0.2l0.7-1.1l0.8 0.8l0.7-0.9l0.8-0.3l0.7-1l0.8-0.5l0.7-0.2l0.8 1l0.7-0.6l0.8 0.4l0.7-1.4l0.8-1.1l0.7 2.2l0.8 0.2l0.7 0l0.8-0.3l0.7-1.2l0.8 1.5l0.8-1.8l0.7-0.1l0.8-0.1l0.7-0.1l0.8 0.6l0.7 0.9l0.8-0.9l0.7 1.2l0.8-1.1l0.7 1.5l0.8-0.5l0.7-0.9l0.8 0.9l0.7 1.3l0.8 0.2l0.7 0.9l0.8-0.9l0.7 0.6l0.8-0.6l0.7-0.1l0.8 1.2l0.7-0.7l0.8 1.1l0.7-2.1l0.8 0.5l0.7 0.9l0.8-0.2l0.7 0.9l0.8-1l0.7 0.4l0.8 0.2l0.7 0l0.8 0.4l0.7-0.4l0.8-0.1l0.7-4.9l0.8 4.2l0.7-0.3l0.8 0.1l0.7 1.4l0.8 0l0.7 0l0.8 0l0.7-0.4l0.8 0l0.8-1.7l0.7-0.6l0.8 1.2l0.7-0.4l0.8-1.6l0.7 0.9l0.8 1.4l0.7-0.1l0.8-0.1l0.7 1.4l0.8 0l0.7 0l0.8 0l0.7-0.5l0.8 0.3l0.7-0.9l0.8 0.4l0.7-0.2l0.8 0.6l0.7-0.2l0.8 0.5l0.7 0l0.8-0.1l0.7-0.5l0.8 0.6l0.7 0l0.8 0l0.7 0l0.8 0l0.7 0l0.8-1l0.7 0.8l0.8-0.3l0.7-0.1l0.8 0.6l0.7 0l0.8 0l0.7 0l0.8 0l0.7 0l0.8 0l0.7 0l0.8 0l0.8-0.5l0.7-1.1l0.8-0.3l0.7-0.2l0.8-0.4l0.7 0.3l0.8 0.9l0.7 1.3l0.8 0l0.7 0l0.8 0l0.7 0l0.8 0l0.7 0l0.8 0l0.7 0l0.8 0l0.7 0l0.8 0l0.7-1.2l0.8 1.2l0.7 0l0.8 0l0.7 0l0.8 0l0.7 0M190.9 1249.8l0.8 0.5l0.7-1.1l0.8-0.7l0.7-0.2l0.8-1.4l0.7-2.8l0.8-5.3l0.7-6.7l0.8-6.2l0.8-6.5l0.7-5.6l0.8-6.2l0.7-3.5l0.8-3.3l0.7 0.1l0-18.5l0.3 18.5l0.3-19.1l0.2 16.8l0.1-13.2l0.3 13.6l0.3-16.8l0 18.2l0.3-15.1l0.3 15.3l0.2-15.8l0.1 15.5l0.3-16.5l0.3 15.5l0-18.5l0.2 17.9l0.3-15.5l0.3 16.5l0-20.3l0.3 20l0.3-20.7l0.1 22.3l0.2-22.2l0.3 19.5l0.3-20l0 16.9l0.3 19.3l0-85.1l0.1-48l0 48l0.1 85.1l0.2 14.4l0.1 1l0.7 5.9l0.7 2.8l0.8 2.5l0.7 1.5l0.8 1.3l0.7 1.6l0.8-1.7l0.7-0.8l0.8 3.6l0.7 1.1l0.8 0.4l0.7-0.6l0.8 1.5l0.7 0.9l0.8-0.4l0-1.3l0.2-2l0.1-3.5l0.1-2.1l0 1.4l0.1 3l0.2 2.7l0 0.4l0.8 0.9l0.7-0.4l0.8-1l0.7-2.1l0.8 1.5l0.7-0.2l0.8 1l0.7 0l0.8 1.4l0.7 0.9l0.8-0.6l0.7 0.2l0.2-2.6l0.2-3.8l0.1-17.1l0.1-9.4l0 9.4l0.1 15.5l0.1 2.6l0.2 1.6l0.6 2.4l0.7-0.5l0.8 1.6l0.7-0.7l0.8 0.3l0.7 0.1l0.8 0.1l0.7-2.3l0.8 0.9l0.7 2.2l0.8-1.2l0.7 1l0.8-1.2l0.7 0.6l0.8-1.4l0.7 0.8l0.8 0.1l0.7 1.2l0.8 0.1l0.7 0.6l0.8 0.4l0.7-0.8l0.8 1.3l0.7-3l0.8 1.3l0.7 0.9l0.8-0.4l0.7-0.3l0.8 0.5l0.7-0.3l0.8-0.3l0.7 0.1l0.8-0.3l0.7 0.7l0.8-0.5l0.7 1.1l0.8-0.1l0.7-0.6l0.8 1.6l0.7 0.3l0.8-0.2l0.7-0.4l0.8 0.8l0.8 0l0.7 0l0.8 0l0.7-0.2l0.8 0l0.7-1.6l0.8-0.4l0.7-2.5l0.5 1.1l0.2-1.3l0.1-0.2l0-2.9l0.1-0.5l0 0.3l0.1 0.9l0.3 2.3l0.2 0.2l0.8-0.7l0.7 0.8l0.8-0.2l0.7-0.4l0.8-0.6l0.7-0.2l0.8-1.5l0.7 0l0.8-1.8l0.7-1.1l0.8 2.5l0.7-1l0.8 0.8l0.7 0.5l0.8 0.5l0.7-0.8l0.8-0.7l0.7-0.1l0.8-0.1l0.7 0.4l0.8-1.6l0.7-0.8l0.8 0.4l0.7-0.1l0.8 1.5l0.7-1.4l0.8 0.4l0.7 0.8l0.8 0.7l0.7 0.5l0.8 0.6l0.7 0.9l0.8 0l0.7 0.7l0.8 2l0.8-1.6l0.7 1.7l0.8-0.9l0.7-0.2l0.8-0.3l0.7 1.2l0.8-0.9l0.7-0.7l0.8-0.5l0.7-1.3l0.8-5l0.7 2l0.8-1l0.7-0.2l0.8 0.1l0.7-0.6l0.8-1l0.7-0.5l0.8-1l0.7-0.3l0.8 1.3l0.7 0.3l0.8 1.1l0.7-1.1l0.8 0.1l0.7 1.2l0.8-3l0.7-1.8l0.8 2.9l0.7-0.7l0.8-0.7l0.7 0.6l0.8 0.6l0.7-1l0.8 1.2l0.7 0.3l0.8 1.3l0.7-1.9l0.8 1.8l0.7-1.2l0.8-2.3l0.7 0.8l0.8-0.7l0.8-0.2l0.5-1.9l0.2-2l0.1-6.8l0.1-15l0-4l0.1 4.8l0.1 14.6l0.2 9.7l0.2-1l0.7 1.5l0.8-1.2l0.7-0.5l0.8-0.2l0.7-0.4l0.8 0.7l0.7-0.1l0.8 0.1l0.7 0.6l0.8-0.2l0.7-0.3l0.8-0.2l0.7 1.7l0.8 0l0.7 2.4l0.8-2.6l0.7 0.7l0.8-1.5l0.7-1l0.8 0.9l0.7 0.3l0.8-1.9l0.7 0.5l0.8-0.6l0.7-2.4l0.8 0.7l0.7 0.4l0.8 0l0.7 0.9l0.8 1.4l0.7 0.3l0.8 1.9l0.7 0.3l0.8-0.1l0.7 1.7l0.8-1.2l0.7-0.3l0.8-0.4l0.7 0.2l0.8 1.2l0.8 0.5l0.7-1.6l0.8 1.4l0.7 0.3l0.8-0.1l0.7-1.7l0.8-0.2l0.7 1.2l0.8-1.2l0.7 0.6l0.8-0.9l0.7 0.4l0.8-0.6l0.7 0.1l0.8 1.3l0.7-1.7l0.8 0.8l0.7 0.2l0.8 0.5l0.7 0.7l0.8 1.4l0.7 0.5l0.8-0.9l0.7 0.8l0.8 0.4l0.7-0.6l0.8 0l0.7 0.8l0.8-0.2l0.7 0.4l0.8 0l0.7-0.8l0.8 0.5l0.7-0.7l0.8-1.2l0.7-0.1l0.8-1.4l0.7 1.7l0.8-1.2l0.7-0.2l0.8 0.5l0.7-0.2l0.8 0.2l0.8 1.3l0.7-0.3l0.8 1.1l0.7-1.7l0.8-0.4l0.7 1.3l0.8 0.4l0.7 0.4l0.8-1.2l0.7 0.9l0.8-0.1l0.7-0.1l0.8-1.3l0.7-1.1l0.8-0.5l0.7 1l0.8-0.4l0.7-0.5l0.8-0.8l0.7-0.2l0.8-1.2l0.7-1.7l0.8-0.6l0.7-1.8l0.8 0.2l0.7-2.3l0.8-2.4l0.7-1.6l0.8-1.2l0.7-1.3l0.8-2l0.7-2.7l0.8-0.9l0.7 0.7l0.8-1.4l0.7-0.7l0.8 3.2l0.7 11.8l0.8 9.8l0.7 3.5l0.8 1.1l0.7-1.2l0.8-0.1l0.7 0.6l0.8-1.6l0.8-0.8l0.7 2.2l0.8 0.6l0.7 1.1l0.8-0.5l0.7 0.1l0.8 0.6l0.7-0.6l0.8 0.1l0.7-0.7l0.8 1.1l0.7 1.1l0.8-0.1l0.7-1.7l0.8-1.9l0.7 0.1l0.8 0.2l0.7 0.1l0.8 0.2l0.7 0.5l0.8-0.5l0.7-0.2l0.8-0.4l0.7-0.2l0.8 0.3l0.7 0.8l0.8 0.6l0.7 0.2l0.8 1.8l0.7-1.1l0.8 2l0.7-0.7l0.8-0.9l0.7 1.8l0.8-0.4l0.7 0.5l0.8 0.9l0.7 0.6l0.8-1.1l0.7-1.8l0.8 1.5l0.7 0.7l0.8 1.6l0.8 0.6l0.7-0.3l0.8 0.1l0.7-0.5l0.8 1l0.7 0.7l0.8-1.4l0.7 0.7l0.8 0.2l0.7 0.8l0.8-0.6l0.7 1.6l0.8-1.2l0.7 0.1l0.8 0.3l0.7-0.8l0.8 1.3l0.7 0.1l0.8 0.2l0.7-1l0.8-0.2l0.7-0.3l0.8 0.7l0.7-0.3l0.8 1.1l0.7 0l0.8 0l0.7 0l0.8 0l0.7 0l0.8 0l0.7 0l0.8 0l0.7 0l0.8 0l0.7-0.6l0.8 0.3l0.7-0.6l0.8 0.5l0.7-0.8l0.8 1.2l0.7-0.8l0.8-0.2l0.8-4.8l0.7 4.5l0.8 1l0.7 0.3l0.8 0l0.7 0l0.8 0l0.7 0l0.8 0l0.7 0l0.8 0l0.7 0l0.8-0.6l0.7 0.4l0.8 0l0.7-2.6l0.8 0.3l0.7-1.8l0.8 0.9l0.7 0.6l0.8 0.5l0.7 0.5l0.8-0.1l0.7-0.2l0.8 0l0.7 0.1l0.8-0.1l0.7-2l0.8 2.3l0.7-1.2l0.8 1.9l0.7 0.1l0.8-0.3l0.7 0.9l0.8-0.3l0.7-0.6l0.8-0.4l0.7-0.3l0.8 0.6l0.7 0.1l0.8-0.4l0.7 0.9l0.8-1.4l0.8-0.9l0.7 1.6l0.8 0.7l0.7-0.4l0.8 0.7l0.7 0.5l0.8-0.6l0.7-0.1l0.8 0.7l0.7-1.1l0.8 1.1l0.7 0l0.8 0l0.7-1l0.8 1l0.7 0l0.8 0l0.7 0l0.8 0l0.7 0l0.8 0l0.7 0l0.8 0l0.7 0l0.8-0.8l0.7 0.4l0.8-0.1l0.7-0.6l0.8 0.8l0.7 0l0.8-0.5l0.7-1.7l0.8 0.1l0.7 0.1l0.8 0.8l0.7-0.3l0.8 0.7l0.7 0.7l0.8 0.4l0.7 0l0.8 0l0.7 0l0.8 0l0.7 0l0.8 0l0.8 0l0.7-1l0.8 0l0.7 0.1l0.8 0.3l0.7 0.3l0.8-0.1l0.7-0.3l0.8-0.9l0.7 1.2l0.8 0.1l0.7 0.3l0.8-1.8l0.7 1.2l0.8-1.7l0.7-0.5l0.8-0.3l0.7 0.9l0.8-0.9l0.7 1l0.8 0.9l0.7 0.4l0.8 0.8l0.7-0.2l0.8-0.1l0.7 0.3l0.8-1.2l0.7 0.3l0.8 0.6l0.7 0l0.8-0.1l0.7 0.4l0.8-0.2l0.7 0.2M178.4 1269.7l0.7-0.2l0.8-0.9l0.7-0.2l0.8 0.5l0.7-0.6l0.8-2.3l0.7-4.1l0.8-6.3l0.7-5.7l0.8-8.3l0.7-5.6l0.8-4.4l0.7-4.1l0.8-2.3l0.7-1.9l0-19.7l0.3 17.4l0.3-17.4l0.2 19.3l0.1-18.7l0.3 15.2l0.3-16.4l0 15.6l0.3-18l0.3 17.5l0.2-14.3l0.1 14.8l0.3-17.2l0.3 18.9l0-20.3l0.3 16.2l0.3-15.4l0.2 18.6l0-17.1l0.3 17.7l0.3-19.2l0.1 16.8l0.2-16.4l0.3 17.4l0.3-19.2l0 19.5l0.3 20.4l0.1-74.6l0-42.2l0.1 42.2l0.1 74.6l0.1 7.9l0.1 0.5l0.7 5.1l0.7 3.2l0.8 0.8l0.7 0.7l0.8 2.6l0.7 1.5l0.8 0.8l0.7-1.2l0.8 0.3l0.7 1.4l0.8-0.9l0.7 1.5l0.8-0.2l0.7-1.1l0.8 2l0 1.8l0.2-2.7l0.1-3l0.1-0.6l0 1.5l0.1 4.2l0.2 1.2l0.1-1.1l0.7 0.4l0.7 1.5l0.8-0.1l0.7 0.1l0.8-3.5l0.8 3.2l0.7 0.2l0.8 1.2l0.7-0.1l0.8 1.3l0.7-0.3l0.8-0.6l0.1-1.1l0.2-5.6l0.1-19l0.1-10.1l0 10.2l0.1 18.5l0.1 5.5l0.2 2.7l0.6 0.2l0.7 0.8l0.8 0.4l0.7 0.7l0.8 0.5l0.7 0l0.8 0l0.7 0l0.8 0l0.7 0l0.8-0.2l0.7-1.4l0.8-0.1l0.7 0.3l0.8-0.7l0.7-1.3l0.8-0.9l0.7 0.5l0.8-2.1l0.7 0.8l0.8 2.4l0.7-1.3l0.8-2.9l0.7 2.5l0.8 0.5l0.7 0.7l0.8-1.5l0.7 0.9l0.8-1.5l0.7 2.3l0.8-0.9l0.7 0.8l0.8-0.5l0.7-0.2l0.8-0.2l0.8 1.3l0.7 0.4l0.8 0.1l0.7-3.5l0.8 3.9l0.7-1.2l0.8 1l0.7 0.7l0.8-0.5l0.7 1.6l0.8-1.1l0.7 0.2l0.8-1l0.7 0.1l0.8 1.2l0.7-0.9l0.5 0.1l0.2-1.8l0.1 0l0-1.9l0.1-1.1l0 0.4l0.1 1l0.3 1.6l0.2-1.4l0.8 0.9l0.7-0.6l0.8-0.2l0.7-0.7l0.8-0.4l0.7-0.9l0.8-0.7l0.7 1.8l0.8-2.3l0.7 2.3l0.8 0.3l0.7-0.2l0.8 0.3l0.7 0.5l0.8-0.5l0.7-0.2l0.8-0.9l0.7 0.2l0.8-0.3l0.7-0.2l0.8-0.1l0.7-2l0.8 0.2l0.7-0.3l0.8 0.8l0.8-0.6l0.7 0.3l0.8 1.5l0.7 0.5l0.8 0.4l0.7-1.3l0.8-0.4l0.7 0.2l0.8-0.3l0.7 0.6l0.8 0.6l0.7-1l0.8 0.5l0.7-1.5l0.8-0.2l0.7 0.7l0.8-1.8l0.7-0.4l0.8 0.5l0.7 1.1l0.8-0.8l0.7-3l0.8 1l0.7-0.7l0.8 1.4l0.7 0.5l0.8-0.7l0.7-1.5l0.8 0.5l0.7 0.6l0.8 0.2l0.7 1.3l0.8-2.2l0.7 0.7l0.8 0.2l0.7-0.4l0.8 0.7l0.7-2.7l0.8 1.7l0.7 0.7l0.8-1.5l0.7 1.1l0.8-0.3l0.8-0.9l0.7 1.2l0.8-1.1l0.7 0.3l0.8-0.7l0.7-1l0.8 1.5l0.7-1.9l0.8 0.7l0.7 0l0.8 1l0.6-4l0.1-3.6l0.1-5.4l0.1-15l0-6.1l0.1 4l0.1 14.6l0.2 9.4l0.2-0.2l0.7 1.1l0.8-0.5l0.7-0.1l0.8 0l0.7 0.5l0.8 2l0.7-1.2l0.8 0.6l0.7-1.3l0.8-0.8l0.7 0.7l0.8 1.4l0.7-1.2l0.8 0.9l0.7 0.2l0.8-1.3l0.7 1.3l0.8 0.5l0.7-0.5l0.8-0.5l0.7 0.6l0.8 0.1l0.7 0l0.8 1.8l0.7-0.9l0.8-3.2l0.7 3.4l0.8-1l0.7 0.7l0.8-0.7l0.7 0l0.8-0.5l0.8 0.2l0.7 0.7l0.8 0.3l0.7 0.6l0.8-0.3l0.7 0.8l0.8-0.3l0.7 1.8l0.8 0.9l0.7 0.4l0.8 0.6l0.7-0.8l0.8-1.3l0.7-0.5l0.8-1.9l0.7 2.9l0.8 0.8l0.7-0.3l0.8 0.4l0.7-1.5l0.8 1.6l0.7-0.3l0.8-0.6l0.7-0.1l0.8-0.6l0.7-0.3l0.8 0l0.7-0.1l0.8-0.8l0.7 0.1l0.8-2.9l0.7 2.6l0.8 0.6l0.7 2l0.8-1.3l0.7 1.5l0.8 2l0.7-0.9l0.8 1.8l0.7-2.3l0.8-0.9l0.7-0.1l0.8 1.3l0.8-1l0.7 1.6l0.8-0.4l0.7-1.2l0.8-1.3l0.7 0.8l0.8-0.6l0.7-1l0.8-1.1l0.7-1.2l0.8-1.3l0.7 0.9l0.8-0.9l0.7 1.7l0.8-0.5l0.7-0.4l0.8 0.1l0.7 0.5l0.8-1.1l0.7 1.8l0.8 0.6l0.7-0.5l0.8 0.4l0.7-1.8l0.8 0.5l0.7-1.2l0.8-1.8l0.7 0.4l0.8-1.7l0.7-0.3l0.8-0.2l0.7-2.1l0.8-1.5l0.7-1.6l0.8-2l0.7-1.8l0.8-1.5l0.7-2.3l0.8-1.9l0.7-0.8l0.8-2l0.7 0.2l0.8-0.1l0.8-1.3l0.7 1.2l0.8 13.5l0.7 7.7l0.8 2.8l0.7 1.3l0.8 1.2l0.7 0.4l0.8 0.1l0.7 0.2l0.8 0.6l0.7-0.1l0.8 0.3l0.7 1.3l0.8 0.4l0.7 0.5l0.8-0.9l0.7 0.3l0.8 1.1l0.7-0.7l0.8 0.2l0.7 0l0.8-0.5l0.7 1l0.8-3.1l0.7 3.1l0.8 0.5l0.7 0.3l0.8 0.4l0.7 0l0.8 0.5l0.7-1l0.8-0.1l0.7 1.1l0.8 0.1l0.7-0.7l0.8-0.6l0.7 1l0.8-2.1l0.7 1l0.8-0.2l0.7 1.1l0.8 0.9l0.8 0.2l0.7 0.8l0.8 0.7l0.7 0.2l0.8 0.3l0.7 0l0.8-0.1l0.7 0.2l0.8-0.5l0.7 0.3l0.8 0.2l0.7 0.1l0.8 0.1l0.7 0.9l0.8 0.6l0.7 0.7l0.8-0.7l0.7 1l0.8-0.1l0.7-1.6l0.8-0.1l0.7-0.1l0.8-0.8l0.7-0.4l0.8-0.1l0.7 0.2l0.8 0.5l0.7 0.4l0.8-0.8l0.7 0.4l0.8-0.7l0.7 0.3l0.8 0.3l0.7-1l0.8 0l0.7 0.9l0.8 0.6l0.7 2.1l0.8 0l0.7-1.2l0.8 0.3l0.7-0.8l0.8 0.7l0.7-0.4l0.8-0.4l0.8-0.5l0.7 1.2l0.8 0.1l0.7 0.2l0.8 0.5l0.7 1.1l0.8 0.1l0.7 0l0.8 0l0.7 0l0.8-1.9l0.7 1.8l0.8-0.8l0.7-0.5l0.8 0.1l0.7 1.3l0.8-0.1l0.7-0.9l0.8-1.1l0.7 0.4l0.8 0l0.7-0.8l0.8 0.4l0.7-1.3l0.8-0.6l0.7 0.8l0.8 0.5l0.7-0.2l0.8 0l0.7 1.2l0.8-0.2l0.7 1.6l0.8 0.3l0.7 0l0.8-0.8l0.7 0.4l0.8-0.3l0.7-0.7l0.8-0.5l0.7 0.3l0.8 0.9l0.7 0.1l0.8-0.6l0.8 0.7l0.7-0.8l0.8 0.1l0.7 0l0.8-0.9l0.7 2.1l0.8 0l0.7 0l0.8-0.2l0.7-0.1l0.8 0.3l0.7-0.3l0.8 0.3l0.7 0l0.8 0l0.7-0.4l0.8 0.2l0.7 0.1l0.8 0.1l0.7 0l0.8 0l0.7 0l0.8 0l0.7 0l0.8 0l0.7 0l0.8-1l0.7 0.2l0.8-0.9l0.7 0l0.8 0.5l0.7-1.4l0.8-0.1l0.7 0.1l0.8 0.9l0.7 0.4l0.8 0.1l0.7 0.7l0.8 0.4l0.7 0l0.8 0.1l0.7-0.2l0.8 0.2l0.8-0.2l0.7-0.2l0.8 0.2l0.7 0.2l0.8 0l0.7 0l0.8 0l0.7-0.2l0.8-0.4l0.7 0.2l0.8-0.6l0.7-0.6l0.8-0.3l0.7-0.5l0.8 0.2l0.7 2.2l0.8-0.8l0.7 0l0.8 0.6l0.7 0.2l0.8 0l0.7 0l0.8 0l0.7-0.2l0.8-0.3l0.7 0.1l0.8-0.3l0.7-0.8l0.8-0.6l0.7 0.9l0.8 0.7l0.7-0.1l0.8 0.6l0.7 0l0.8-0.5l0.7-0.1l0.8 0.6l0.7 0l0.8-0.6l0.7 0.6l0.8-0.5l0.7-1.2l0.8-0.2l0.7 1.2M165.8 1290.4l0.7-2.1l0.8 0.1l0.7-0.2l0.8 1.4l0.7 0.1l0.8-0.9l0.7-4.9l0.8-5.3l0.7-6l0.8-7.3l0.7-5.3l0.8-7l0.7-2l0.8-4.5l0.7 0.3l0-18.9l0.3 15.8l0.3-16.7l0.2 18.4l0.1-16l0.3 15.9l0.3-18.6l0 18.3l0.3-17.7l0.3 15l0.2-17l0.1 18.4l0.3-15.2l0.3 15.8l0-16.6l0.3 16l0.3-20.2l0.2 18.2l0.1-16l0.2 14.6l0.3-16.9l0.1 16.6l0.2-16.1l0.3 19.2l0.3-22.3l0 19.4l0.3 18.2l0.1-77.2l0-43.5l0.1 43.5l0.1 77.2l0.1 10.3l0.1 1.1l0.7 4l0.7 3.1l0.8 1.6l0.7 2.3l0.8 0.1l0.7 1.7l0.8 0.5l0.7-2l0.8 0.1l0.7-0.1l0.8 1.1l0.8 0.3l0.7-0.2l0.8 0.7l0.7 0.8l0 0.1l0.2-2l0.1-4.3l0.1-0.8l0 2l0.1 4.1l0.3 1.9l0 1.8l0.7-1.4l0.8 3l0.7 0.1l0.8 2.4l0.7-3.7l0.8 4.6l0.7-1.3l0.8 1.5l0.7-0.4l0.8 0.1l0.7 0l0.8 0l0.1-0.5l0.2-7.3l0.1-21.5l0.1-11.7l0 10.3l0.1 20.7l0.1 5.6l0.2 1.3l0.6 3.6l0.7-0.1l0.8-0.3l0.7 0l0.8 0.3l0.7 0.8l0.8-0.6l0.7-0.1l0.8-1.5l0.7-3l0.8 3.2l0.7-2.8l0.8 0.2l0.7 0.3l0.8 0.1l0.7 0.4l0.8 0.2l0.7 0.3l0.8-0.7l0.7-0.2l0.8-0.4l0.7 0.1l0.8-3.1l0.7 2.9l0.8 1.6l0.7 0l0.8 0.8l0.8-1.3l0.7-0.8l0.8-0.3l0.7 0.1l0.8 0.4l0.7-0.3l0.8 1.1l0.7 0.6l0.8 0.7l0.7-1l0.8 1l0.7 1.1l0.8 1l0.7-0.9l0.8 0.3l0.7 0.6l0.8-0.7l0.7-0.5l0.8-0.5l0.7-0.2l0.8 0.3l0.7 0.3l0.8-2.6l0.7 0.4l0.5-0.7l0.2 0.5l0.1-3.5l0.1-0.4l0 1.6l0.1 0.9l0.3 0.8l0.2 1.4l0.8-0.3l0.7-0.3l0.8 0.5l0.7-0.8l0.8-0.1l0.7 0.8l0.8-0.1l0.7-0.6l0.8-1.9l0.7-0.9l0.8 2l0.7 0.4l0.8-0.6l0.7 0.8l0.8 0.6l0.7-0.1l0.8-0.7l0.8 0.2l0.7-0.3l0.8-1.2l0.7 1l0.8-0.3l0.7 0.4l0.8-0.8l0.7 0.3l0.8-1.6l0.7 0.7l0.8-0.6l0.7 1.1l0.8-1l0.7-1.1l0.8 0.7l0.7-0.4l0.8-0.8l0.7 0.7l0.8-0.5l0.7-0.2l0.8-1.5l0.7 0.6l0.8-0.2l0.7 0.2l0.8 0.2l0.7 1.3l0.8-1l0.7-1.2l0.8-0.7l0.7-1.6l0.8 2.4l0.7-1.5l0.8 0.1l0.7 0.5l0.8 1.2l0.7 0.2l0.8 1.7l0.7-1l0.8 0.5l0.7-0.6l0.8-1.3l0.7-2.1l0.8 0.2l0.8 0.6l0.7-1.4l0.8-4.8l0.7 5l0.8-0.7l0.7 0.9l0.8-0.4l0.7 0.8l0.8 1.1l0.7-1.1l0.8-0.6l0.7 0.4l0.8-1.9l0.7 0.3l0.8-1.9l0.7 0.7l0.8-0.3l0.7-1.5l0.8-1.2l0.6-0.5l0.1-5.2l0.1-5.2l0.1-17.4l0.1-5.7l0 6.4l0.1 16.1l0.2 11.6l0.2-0.2l0.7 2.4l0.8-0.2l0.7-0.5l0.8-0.1l0.7-0.2l0.8-0.4l0.7-0.7l0.8-0.1l0.7 0.7l0.8 0.1l0.7-1.4l0.8 3.5l0.7-2.1l0.8-0.2l0.7 0.7l0.8-0.8l0.7 0.1l0.8-0.9l0.7 0.4l0.8-0.4l0.7 1.4l0.8-0.6l0.8 1.7l0.7-0.8l0.8-0.2l0.7-0.7l0.8 2.6l0.7-1.1l0.8 0.7l0.7-0.1l0.8 1.1l0.7-1.9l0.8 2.6l0.7-0.2l0.8 0.1l0.7 0.3l0.8 0.3l0.7-1.5l0.8-1.1l0.7 0.4l0.8-0.9l0.7 1.6l0.8-0.5l0.7-0.2l0.8-0.1l0.7-1.1l0.8-3.4l0.7 3l0.8 0.3l0.7-0.4l0.8 0l0.7 0.1l0.8 0.6l0.7 0.7l0.8 1.5l0.7-0.9l0.8 1.5l0.7-0.6l0.8 0.7l0.7-0.2l0.8 1l0.7-0.5l0.8 0.2l0.7-0.1l0.8-0.7l0.7-1l0.8-0.6l0.8 1.3l0.7 0.1l0.8-0.7l0.7 0l0.8-0.7l0.7-0.1l0.8 0.2l0.7-0.6l0.8 0.3l0.7-0.5l0.8 0.1l0.7-0.4l0.8 0.5l0.7-0.6l0.8 1l0.7-1l0.8 1.3l0.7 0.4l0.8-2.7l0.7 0.2l0.8 2.9l0.7-0.6l0.8 0.9l0.7 0.3l0.8 0.5l0.7 0.8l0.8 0.4l0.7-1.3l0.8-0.3l0.7-0.7l0.8-1.1l0.7 0.8l0.8-0.4l0.7 0.2l0.8-0.8l0.7-0.7l0.8-2.5l0.7-0.6l0.8-0.5l0.7-1.5l0.8-2.1l0.7-1.3l0.8-1.1l0.8-2.1l0.7-2.6l0.8-2.2l0.7-1.6l0.8-2.1l0.7-2.7l0.8-0.4l0.7-0.2l0.8-1.2l0.7 4.5l0.8 13.5l0.7 8.5l0.8 3.5l0.7 0.4l0.8 0.4l0.7-1.3l0.8 0.4l0.7 0.5l0.8 1.5l0.7 0.1l0.8 0l0.7 0l0.8 0.9l0.7 0.9l0.8-1.1l0.7 0.6l0.8 0.5l0.7-0.2l0.8 0.3l0.7 1.4l0.8-1.6l0.7 0.1l0.8-1.1l0.7-1.5l0.8-1l0.7 0.6l0.8 0.8l0.7-0.9l0.8 0.5l0.7-0.6l0.8 2.1l0.7-0.9l0.8 0.8l0.8 1.4l0.7-0.9l0.8 0.2l0.7 2.8l0.8-0.6l0.7 0.6l0.8-0.6l0.7-1.6l0.8 2.1l0.7 0.3l0.8 0.4l0.7 0.8l0.8-0.4l0.7-0.9l0.8-0.7l0.7 0.6l0.8-1.4l0.7 3l0.8 1.9l0.7 0.3l0.8 0.2l0.7 0.3l0.8 0l0.7 0l0.8 0l0.7 0l0.8 0l0.7 0l0.8 0l0.7 0l0.8 0l0.7-0.1l0.8-0.5l0.7-0.2l0.8 0.2l0.7 0.6l0.8-0.6l0.7 0.5l0.8-0.3l0.7 0l0.8 0l0.7-1.4l0.8 0.7l0.8 1.1l0.7-1.9l0.8 1.2l0.7 0.7l0.8 0l0.7 0l0.8 0l0.7 0l0.8-1l0.7 0.8l0.8-1l0.7 0.3l0.8-0.6l0.7 1.4l0.8-2.3l0.7 0.8l0.8-0.8l0.7 0l0.8-1.7l0.7 1.1l0.8 1.9l0.7 0l0.8 1.1l0.7-0.9l0.8 0.9l0.7 0l0.8 0l0.7 0l0.8 0l0.7-0.2l0.8 0.2l0.7-1.6l0.8 1.5l0.7-0.4l0.8 0.4l0.7-0.6l0.8 0.7l0.7 0l0.8 0l0.7 0l0.8 0l0.7 0l0.8 0l0.7 0l0.8 0l0.8 0l0.7 0l0.8 0l0.7 0l0.8 0l0.7 0l0.8 0l0.7-0.1l0.8-1.1l0.7 0l0.8 1.2l0.7 0l0.8-1.1l0.7-0.9l0.8 1.2l0.7-0.9l0.8-4.2l0.7 5.8l0.8 0.1l0.7-0.7l0.8 0.6l0.7-0.8l0.8-1.9l0.7 0.4l0.8 1.7l0.7 0.7l0.8 0l0.7 0l0.8 0l0.7 0l0.8-0.1l0.7 0.1l0.8-0.1l0.7 0.1l0.8-1l0.7 1l0.8-1.2l0.7 0.8l0.8 0.4l0.7-0.6l0.8 0.6l0.7 0l0.8 0l0.8 0l0.7 0l0.8 0l0.7 0l0.8-0.9l0.7 0.2l0.8 0l0.7-0.7l0.8 1.4l0.7-0.6l0.8-1.5l0.7 0.4l0.8-0.1l0.7-0.4l0.8 1l0.7 0l0.8 0.4l0.7-1.7l0.8 0.6l0.7-0.5l0.8-0.9l0.7-0.4l0.8 0.5l0.7-1.4l0.8 0.9l0.7-0.4l0.8 0.8l0.7 0l0.8-0.4l0.7 1.4l0.8 0.2l0.7-0.6l0.8 1.5l0.7-0.4l0.8 1.1l0.7 0.5l0.8 0l0.7 0l0.8-0.3l0.7 0.3l0.8-0.6l0.7-1l0.8 0.9l0.8-0.5l0.7-0.5l0.8 1.6l0.7 0.1l0.8-0.7l0.7-0.2l0.8-0.3l0.7-1.5l0.8 0.5M153.2 1311.4l0.7-0.4l0.8 0.5l0.7-0.8l0.8 0.9l0.7-1.4l0.8-2.1l0.7-2.6l0.8-5.6l0.7-4.8l0.8-6.9l0.7-7l0.8-5.8l0.7-3.6l0.8-3.3l0.7 1.7l0-19.2l0.3 17.2l0.3-17.7l0.2 18.3l0.1-16.7l0.3 13.1l0.3-15.7l0 15.8l0.3-14.7l0.3 16.1l0.2-19.8l0.1 18.5l0.3-19.2l0.3 18.5l0-18.9l0.3 16.6l0.3-17.3l0.2 15.9l0.1-16.7l0.3 17.6l0.3-17.9l0 14.6l0.2-16.9l0.3 19.6l0.3-20l0 21l0.3 17.3l0.1-74.6l0-42.2l0.1 42.2l0.1 74.6l0.1 9.9l0.1 1l0.7 2.8l0.7 3.3l0.8 1.8l0.8 2.5l0.7 0.4l0.8 1.4l0.7 0l0.8-1.7l0.7 2.5l0.8 0.8l0.7-0.9l0.8 0.3l0.7 0.3l0.8 0.3l0.7 0.2l0.2-1.6l0.1-4.4l0.1-1.1l0 0.7l0.1 4l0.3 1.9l0 0.8l0.7 0.8l0.8 1.2l0.7 0.1l0.8-0.6l0.7 3.7l0.8 0.2l0.7-0.9l0.8 0.7l0.7 0.9l0.8-0.5l0.7-0.1l0.8-0.8l0.1-1l0.2-9.8l0.1-21.5l0.1-13.2l0 14.2l0.1 22.5l0.1 5.5l0.2 3.5l0.6 0.6l0.7 1.2l0.8-1.1l0.7 1l0.8-0.8l0.7 1.5l0.8-1.8l0.7-2.1l0.8 0.9l0.7-0.9l0.8-0.1l0.7 0.3l0.8-1l0.7 1.1l0.8 0.3l0.7 1l0.8-0.2l0.8 0.2l0.7 1.5l0.8-0.9l0.7 0.3l0.8-0.6l0.7-2.2l0.8 3.7l0.7-0.4l0.8 0.3l0.7-0.2l0.8 1l0.7-0.5l0.8-0.1l0.7 0.6l0.8 0.1l0.7 0.4l0.8-1.1l0.7 1l0.8 0.1l0.7 0l0.8-1.3l0.7-0.5l0.8 1l0.7 0.1l0.8 0.1l0.7 0.5l0.8-0.6l0.7-0.1l0.8-0.4l0.7 1.1l0.8-2.6l0.7-0.9l0.8-0.1l0.7 0l0.5-0.3l0.2-1.1l0.1-0.2l0-1.1l0.1 0.4l0 2.1l0.1 0l0.3 1l0.2 0l0.8-1.2l0.7-0.2l0.8 1.3l0.7-0.3l0.8 0.6l0.7-0.8l0.8-1.2l0.7 0.2l0.8-2.6l0.8 3.4l0.7-0.8l0.8 0.4l0.7 1.4l0.8-0.5l0.7-1.3l0.8-0.9l0.7-0.3l0.8-1.4l0.7 0.7l0.8-0.6l0.7 1.7l0.8-1.7l0.7 0l0.8 1l0.7 0.1l0.8-0.2l0.7-0.7l0.8-0.9l0.7 0.5l0.8-3.3l0.7 0.8l0.8 0.4l0.7 0l0.8-0.3l0.7 0.3l0.8 0.1l0.7 1.7l0.8-0.3l0.7-0.1l0.8-0.7l0.7-0.1l0.8 0.8l0.7-0.3l0.8-1.8l0.7 1.5l0.8-0.4l0.7 0.9l0.8 0.3l0.7 0.7l0.8-0.1l0.7 0.8l0.8-0.8l0.8 0.7l0.7-0.2l0.8-0.4l0.7-1.7l0.8-1.2l0.7-0.4l0.8 0.5l0.7-0.7l0.8-0.5l0.7-1.5l0.8 2l0.7 1l0.8-1.9l0.7 1.3l0.8-0.5l0.7-1l0.8-0.4l0.7 0.3l0.8-0.5l0.7 1.1l0.8-0.2l0.7-0.4l0.8-1.5l0.7-1l0.8 2.4l0.7-1.3l0.8-0.9l0.6-3.5l0.1-5l0.1-6.1l0.1-16l0.1-5.4l0 3.6l0.1 16.6l0.3 10l0.1-1.7l0.7 2.4l0.8 0.9l0.7-0.3l0.8-0.5l0.7 1.1l0.8 0.1l0.7 0.2l0.8-0.5l0.7-0.4l0.8-0.4l0.7 0.9l0.8-0.1l0.7-2.6l0.8 2.1l0.8-1.1l0.7 1.9l0.8 0.6l0.7 0.5l0.8 0.6l0.7-1.1l0.8 1.9l0.7-0.9l0.8 0.8l0.7-1.1l0.8-0.7l0.7-2.7l0.8 3.8l0.7-0.6l0.8 0.9l0.7 0.4l0.8 0.6l0.7 0.3l0.8 0.6l0.7-0.1l0.8 1.5l0.7-0.3l0.8 0.9l0.7-0.3l0.8 0.5l0.7 0.7l0.8-1.7l0.7-0.2l0.8 1.2l0.7 1l0.8-1l0.7-1.5l0.8 2.2l0.7 1.1l0.8 0.3l0.7 1.5l0.8-0.5l0.7-0.7l0.8-0.9l0.7-1.3l0.8-0.2l0.7-0.6l0.8-1.1l0.8 0.2l0.7-0.4l0.8 0.6l0.7-1l0.8 2.3l0.7-1.1l0.8-0.4l0.7 0.4l0.8-1.7l0.7 0.1l0.8 0.2l0.7 0.4l0.8 1.2l0.7 0.1l0.8-0.4l0.7-0.8l0.8 0.1l0.7-0.1l0.8-0.7l0.7 1.1l0.8-0.5l0.7 0.3l0.8-0.2l0.7 0.1l0.8 1.4l0.7-2.5l0.8 0l0.7-1.5l0.8-0.7l0.7-1.2l0.8 3.2l0.7 0.6l0.8 0.9l0.7 1.2l0.8-1.6l0.7-1.2l0.8 1.4l0.7-2l0.8 0.1l0.7 1.8l0.8 0.4l0.7-0.3l0.8 0.5l0.7-0.2l0.8-1.3l0.8-2.1l0.7-1.1l0.8-1.5l0.7 0.3l0.8-0.3l0.7-1.2l0.8-1.7l0.7-2.1l0.8-1.8l0.7-2l0.8-2.4l0.7-2l0.8-1.8l0.7-3.3l0.8-0.7l0.7-1.3l0.8-0.1l0.7 3.8l0.8 12.6l0.7 9.3l0.8 2.8l0.7 0.2l0.8 0.9l0.7 0.1l0.8 1.4l0.7-0.6l0.8-1.1l0.7-0.3l0.8-0.1l0.7 0.7l0.8-1.3l0.7-0.7l0.8 0.4l0.7-0.3l0.8 1l0.7 1.2l0.8 1l0.7 1.1l0.8-0.5l0.7-0.2l0.8 1.1l0.7-0.8l0.8 0.4l0.8 0.2l0.7-1.5l0.8 1.6l0.7-1.3l0.8-1l0.7 1.6l0.8-0.7l0.7 1.4l0.8 0.6l0.7 1.3l0.8-0.5l0.7 1l0.8-1.4l0.7 1.1l0.8-0.1l0.7-0.2l0.8-0.3l0.7 1.4l0.8-1.6l0.7 0.6l0.8 1l0.7-0.7l0.8 0.3l0.7-0.7l0.8-1.9l0.7 1.9l0.8 0.6l0.7 1.3l0.8-0.3l0.7-0.2l0.8-0.1l0.7 1l0.8 0.1l0.7 0.3l0.8 0.6l0.7 0.8l0.8 0.6l0.7-0.5l0.8 1.3l0.7 0l0.8 0l0.7 0l0.8 0l0.8 0l0.7 0l0.8-0.8l0.7 0.8l0.8-0.3l0.7 0.3l0.8-0.2l0.7-0.3l0.8 0.3l0.7-0.4l0.8-0.1l0.7-1.7l0.8 1.5l0.7-0.8l0.8 0l0.7 0.4l0.8-0.3l0.7 0.2l0.8 0.9l0.7 0l0.8-0.6l0.7-0.6l0.8 1.7l0.7 0l0.8 0l0.7 0l0.8 0l0.7 0l0.8-2.2l0.7 2.2l0.8 0l0.7 0l0.8-0.3l0.7 0.3l0.8 0l0.7 0l0.8 0l0.7 0l0.8-1.2l0.7 0.3l0.8-0.8l0.7-0.7l0.8 0.1l0.8 0.7l0.7 1.6l0.8-1l0.7 0.7l0.8 0.3l0.7-0.1l0.8 0.1l0.7 0l0.8 0l0.7 0l0.8 0l0.7 0l0.8 0l0.7 0l0.8 0l0.7 0l0.8 0l0.7 0l0.8 0l0.7 0l0.8 0l0.7 0l0.8 0l0.7 0l0.8 0l0.7 0l0.8 0l0.7 0l0.8 0l0.7 0l0.8 0l0.7 0l0.8 0l0.7 0l0.8 0l0.7 0l0.8 0l0.7 0l0.8-0.6l0.7 0.6l0.8 0l0.7 0l0.8 0l0.7-0.2l0.8 0.2l0.8 0l0.7 0l0.8 0l0.7-0.1l0.8 0.1l0.7 0l0.8 0l0.7 0l0.8 0l0.7 0l0.8-0.4l0.7 0.1l0.8 0.3l0.7-1.2l0.8-1.1l0.7 2.3l0.8-0.3l0.7 0.3l0.8-0.8l0.7 0.8l0.8 0l0.7 0l0.8 0l0.7 0l0.8 0l0.7 0l0.8 0l0.7 0l0.8 0l0.7-0.4l0.8 0.4l0.7-1.1l0.8 1.1l0.7 0l0.8 0l0.7 0l0.8 0l0.7-1.2l0.8 0.9l0.7 0.3l0.8-0.2l0.7-0.1l0.8-1.2l0.8-0.1l0.7 1.2l0.8-0.7l0.7 1.1l0.8 0l0.7 0l0.8 0l0.7 0l0.8 0l0.7 0l0.8 0l0.7 0l0.8 0l0.7 0l0.8 0l0.7 0l0.8 0M140.6 1328.6l0.7-1.4l0.8 0.5l0.7 0.8l0.8-0.2l0.7 0.4l0.8-2.3l0.7-2.7l0.8-6.3l0.7-6.1l0.8-5.2l0.7-5.1l0.8-6.8l0.7-3.8l0.8-2.7l0.7-0.3l0.1-14.9l0.2 13.3l0.3-15.8l0.2 14.7l0.1-11.6l0.3 14.4l0.3-17.2l0 17.2l0.3-14.7l0.3 13l0.2-13.6l0.1 15.9l0.3-17.9l0.3 15.1l0.1-14.7l0.2 14.4l0.3-14.5l0.2 16.3l0.1-17.1l0.3 15.9l0.3-17l0.1 15.3l0.2-15.6l0.3 13.2l0.2-15.6l0 19.1l0.3 16.3l0.1-71.1l0-40.2l0.1 40.2l0.1 71.1l0.2 9.8l0 0.2l0.7 4.7l0.8 0.6l0.7 2.8l0.8 0.5l0.7 1.7l0.8 1.4l0.7 1.2l0.8-0.2l0.7 1.3l0.8-0.8l0.7 0.3l0.8-1.7l0.7 1.9l0.8 0.2l0.7 1.5l0-0.2l0.3 0.2l0-4l0.1-3l0 2.2l0.1 4.7l0.3 1.9l0 0.5l0.7 0.1l0.8 0.4l0.7 0.8l0.8-1.2l0.7-3.5l0.8 3.5l0.7 0.6l0.8-0.3l0.7 0.2l0.8 0.2l0.7-0.4l0.8-1.1l0.1-1.9l0.3-9.1l0-25l0.1-14.4l0 14.5l0.1 24.1l0.1 5.9l0.2 3.5l0.6 2.8l0.7 0.6l0.8 0l0.7-0.1l0.8 1.7l0.7-0.1l0.8-0.8l0.7-1.2l0.8 0.9l0.8 1.2l0.7-0.6l0.8 0.1l0.7-0.4l0.8 2l0.7-0.8l0.8-1.2l0.7-0.8l0.8 0.8l0.7-1l0.8-0.8l0.7 0.1l0.8 0.8l0.7-2.8l0.8 2.8l0.7 0.4l0.8 0.7l0.7 0.4l0.8-0.4l0.7 0.8l0.8 0.2l0.7-1.7l0.8 0.9l0.7-0.2l0.8 0.7l0.7 0.4l0.8-0.1l0.7-1.8l0.8 1.4l0.7 0.2l0.8 0.6l0.7 0.4l0.8-0.3l0.7 0.2l0.8-1.5l0.7-1.6l0.8 0.5l0.7 0.4l0.8 0.2l0.7 1.7l0.8 0.4l0.7 0l0.5-0.8l0.3-1l0-1.3l0.1-1.3l0 0.2l0.1-0.2l0.1 1.6l0.2 1.1l0.3-1l0.7 0.6l0.8-0.3l0.7-0.7l0.8-0.9l0.7-0.6l0.8 0.6l0.7-0.4l0.8 0.7l0.7-1.5l0.8-3.3l0.7 1.8l0.8 1.9l0.7 0.3l0.8-2.2l0.7 1.8l0.8-0.6l0.7-1.4l0.8 1.3l0.7-0.2l0.8 0.6l0.7-0.5l0.8 1.6l0.7-2.2l0.8 1.5l0.7 0l0.8-1.2l0.7 0.5l0.8-1.2l0.7 1.2l0.8-0.8l0.7 0.6l0.8-0.5l0.7-0.1l0.8-0.8l0.7-0.4l0.8-0.7l0.7 1.7l0.8 0.2l0.7 0.4l0.8-0.2l0.7-1l0.8-0.6l0.8-0.7l0.7-0.4l0.8-1l0.7 0.7l0.8 0.5l0.7 0.9l0.8 1.2l0.7-0.6l0.8-0.5l0.7-0.1l0.8-0.8l0.7 1l0.8-1.8l0.7-1.7l0.8-1.1l0.7-0.5l0.8-1.1l0.7-0.5l0.8 0l0.7-0.1l0.8 0.6l0.7-0.5l0.8 1.1l0.7-0.7l0.8 1.6l0.7-0.5l0.8-1.4l0.7-0.2l0.8 0.1l0.7-0.1l0.8 0.1l0.7-0.9l0.8 1.4l0.7-0.3l0.8 0.9l0.7-1l0.8 1.1l0.6-3.9l0.1-3.8l0.1-5.9l0.1-15.9l0.1-6.5l0 6.4l0.1 15.9l0.3 10.7l0.1 1.5l0.7 0.3l0.8 0.1l0.7-0.3l0.8 1.8l0.7-0.6l0.8-0.2l0.8 0.4l0.7 0.2l0.8-1l0.7-0.6l0.8 0.4l0.7-1.1l0.8-0.6l0.7 0.6l0.8-1.2l0.7-0.6l0.8 1.6l0.7 0.5l0.8-0.3l0.7-0.9l0.8-0.2l0.7 0l0.8 0l0.7 0.1l0.8-0.6l0.7 0.8l0.8 0.8l0.7-1.3l0.8 0.7l0.7 0.3l0.8 1.3l0.7-1.3l0.8 0.1l0.7-0.9l0.8-0.9l0.7 0.2l0.8 0.1l0.7 0.2l0.8 0.2l0.7 1.7l0.8-0.6l0.7 0.2l0.8 0.9l0.7 0.5l0.8-1.8l0.7 0.3l0.8-0.9l0.7 2.8l0.8-0.9l0.8 0l0.7 0.2l0.8 1.7l0.7-0.7l0.8 1.5l0.7-0.2l0.8-0.7l0.7 2.3l0.8-1.7l0.7 0.6l0.8 0.8l0.7 0l0.8 2.7l0.7-0.8l0.8-0.5l0.7 0.3l0.8-0.5l0.7-0.6l0.8 1.4l0.7 0.4l0.8-1.7l0.7 0.9l0.8 0.2l0.7-1l0.8 0.2l0.7-2.6l0.8-1.2l0.7 0.9l0.8-1.6l0.7 1.3l0.8-2l0.7-0.2l0.8-0.7l0.7-0.1l0.8-1l0.7 0.5l0.8-0.3l0.7-1.2l0.8 1.8l0.7 0.4l0.8 1l0.7-0.9l0.8 0.5l0.8 0.2l0.7-0.4l0.8-0.8l0.7 1.1l0.8-0.8l0.7 1.1l0.8-2.6l0.7-0.1l0.8-1.3l0.7-1l0.8 0.3l0.7-0.6l0.8-1.4l0.7 0.5l0.8-0.6l0.7-1.9l0.8-0.2l0.7-2.2l0.8-1.6l0.7-3l0.8-2.7l0.7-1.8l0.8-2l0.7-0.4l0.8-0.2l0.7-0.7l0.8 0.4l0.7 2.8l0.8 11.5l0.7 9.5l0.8 1.6l0.7 0.7l0.8-0.8l0.7 0.8l0.8 2.1l0.7 1l0.8 1.8l0.7 0.5l0.8-1l0.7-0.6l0.8-0.6l0.7-0.4l0.8 0.5l0.8 0l0.7 0.5l0.8 0.6l0.7 2.2l0.8-1l0.7-1.8l0.8-1l0.7-4.4l0.8 3.5l0.7 0.7l0.8 0.6l0.7 0l0.8 2.1l0.7 0.1l0.8-0.5l0.7 0.9l0.8 0.1l0.7 0.2l0.8-0.1l0.7-0.6l0.8 1.3l0.7 0.2l0.8-0.8l0.7-1l0.8-0.7l0.7-0.5l0.8-0.4l0.7-0.1l0.8 1.5l0.7 1.4l0.8 1.3l0.7-0.6l0.8 1.4l0.7-1.7l0.8 1.9l0.7 0l0.8-0.3l0.7 0l0.8-0.2l0.7-1.3l0.8 0.8l0.7-0.3l0.8 2.6l0.7 0.4l0.8 0.3l0.8 0.3l0.7 0l0.8-0.5l0.7-0.8l0.8 0.4l0.7-0.3l0.8 0.2l0.7 0.7l0.8 0.8l0.7 0l0.8-0.3l0.7-0.1l0.8-0.9l0.7 0.9l0.8 0.6l0.7-0.7l0.8-1.3l0.7 0l0.8-0.7l0.7-0.4l0.8 2l0.7-0.9l0.8 0.4l0.7-1.1l0.8 1.4l0.7 1.8l0.8-0.3l0.7 0.1l0.8 0.4l0.7 0.1l0.8 0l0.7 0l0.8 0l0.7 0l0.8 0l0.7 0l0.8-3.7l0.7 3.7l0.8 0l0.7-1.1l0.8-0.2l0.7 0.4l0.8 0.9l0.8-0.5l0.7 0.5l0.8-0.6l0.7 0.6l0.8 0l0.7 0l0.8-1.1l0.7 0.1l0.8 0l0.7 0.3l0.8 0.6l0.7 0.1l0.8 0l0.7 0l0.8 0l0.7-0.9l0.8 0.9l0.7 0l0.8 0l0.7 0l0.8 0l0.7 0l0.8 0l0.7 0l0.8 0l0.7 0l0.8 0l0.7 0l0.8 0l0.7 0l0.8 0l0.7 0l0.8 0l0.7-5.1l0.8 4.4l0.7 0.2l0.8 0.5l0.7 0l0.8 0l0.7 0l0.8-0.7l0.7 0l0.8 0l0.8 0.4l0.7-2.3l0.8-2.2l0.7 0.9l0.8 0.1l0.7 0.8l0.8 0.5l0.7 1.2l0.8 0.1l0.7 0.5l0.8 0.3l0.7-0.6l0.8 1l0.7-1.9l0.8 0.9l0.7-0.1l0.8 0.5l0.7 0.3l0.8 0.3l0.7 0l0.8 0l0.7 0l0.8 0l0.7-1.3l0.8 0.5l0.7-1.1l0.8-0.2l0.7-0.8l0.8-0.7l0.7-0.5l0.8-0.7l0.7-0.2l0.8 0.7l0.7 1.5l0.8-1.2l0.7 1.8l0.8 0.2l0.7-1.2l0.8 1.7l0.7 1.1l0.8-1.7l0.7 0.7l0.8 0.7l0.8 0l0.7-0.7l0.8 0l0.7-0.4l0.8 0l0.7 0.7l0.8-0.7l0.7 0.2l0.8-0.7l0.7-0.8l0.8-0.1l0.7 1.8l0.8-0.8l0.7 0.8l0.8 0.1l0.7 1.3l0.8-1.1l0.7 0.4l0.8 0.4l0.7-0.9l0.8 0.3l0.7-0.8l0.8 0.2l0.7-0.7l0.8 0l0.7-1l0.8 1.3M128 1352.9l0.7 0.2l0.8 0l0.7-1.7l0.8-1.1l0.7-0.9l0.8-1.1l0.7-4.4l0.8-4.1l0.8-6.1l0.7-4.6l0.8-6l0.7-4.7l0.8-3.9l0.7-2.7l0.8-1.2l0-14.7l0.3 11.5l0.3-10.9l0.1 12.5l0.1-12.7l0.3 12.1l0.3-12.9l0.1 12.9l0.2-14.7l0.3 16.6l0.2-16.8l0.1 14.9l0.3-16.1l0.3 17.6l0.1-15.1l0.2 14.9l0.3-16.9l0.2 16l0.1-15.7l0.3 16.4l0.3-17.9l0.1 16l0.2-14.9l0.3 14.1l0.2-16.9l0.1 16.5l0.2 17.1l0.1-66.7l0-37.7l0.1 37.7l0.1 66.7l0.2 8.8l0-0.4l0.7 4l0.8 1.2l0.7 1.4l0.8 1.6l0.7 1.3l0.8-0.9l0.7 1.3l0.8-0.4l0.7-2.8l0.8 4.6l0.7-0.3l0.8 1.1l0.7 1.3l0.8 0.2l0.7 0.1l0 0.5l0.3-2.7l0.1-1.4l0-2.8l0.1 2.8l0.1 2.8l0.2 3.4l0-1.6l0.7 1.6l0.8 1l0.7-1.1l0.8 0.4l0.7 0l0.8 0.2l0.7 0.2l0.8-0.2l0.7-0.9l0.8 0.9l0.7-0.3l0.8-1.4l0.1 0.1l0.3-12.4l0.1-29.4l0-17l0.1 18l0.1 29.6l0 7.5l0.2 2.2l0.6 2.4l0.8 0.1l0.7 0.2l0.8 2.2l0.7-1.3l0.8 0.6l0.7-1.7l0.8-0.3l0.7-1.2l0.8-1.5l0.7 0.3l0.8 1.6l0.7-0.7l0.8 2.3l0.7 0.8l0.8 1.3l0.7-0.8l0.8 1.6l0.7 0.4l0.8-0.5l0.7-0.1l0.8-0.4l0.7 0.6l0.8-1.5l0.7-1.6l0.8 0.8l0.7 1.1l0.8-1.4l0.7-0.7l0.8-0.4l0.7-0.5l0.8 0.4l0.7 0.5l0.8-0.6l0.7 0.1l0.8 0.9l0.7-1.6l0.8 1.1l0.7 0.7l0.8-0.1l0.7 0l0.8 1.2l0.7-0.4l0.8-0.8l0.8-1.2l0.7 0.9l0.8 0.7l0.7 0.4l0.8 1.1l0.7-1.1l0.8 0.3l0.4-1.1l0.3-1.2l0 0.7l0.1-3.3l0-1.6l0.1 1l0.1 2l0.2 0.6l0.3-1.2l0.7-0.5l0.8-0.7l0.7 0.3l0.8 0.4l0.7-1l0.8 0.4l0.7 0.8l0.8 0.2l0.7 0.3l0.8 0.2l0.7 0.4l0.8 0.3l0.7-0.8l0.8 0.3l0.7-2.3l0.8 1l0.7 0.7l0.8-0.6l0.7 1.3l0.8-1.6l0.7 1.4l0.8-0.6l0.7 0.6l0.8-0.2l0.7-1.6l0.8-0.9l0.7 0.6l0.8-1l0.7 1.8l0.8-0.9l0.7 2.1l0.8 0.7l0.7 0.7l0.8-0.3l0.8 1.2l0.7-1.1l0.8 0.7l0.7-1l0.8 0.8l0.7-2.1l0.8 0l0.7 0.1l0.8-0.7l0.7-1l0.8-0.8l0.7 1.3l0.8-3.6l0.7 1.1l0.8 1l0.7 0.7l0.8 0.5l0.7-0.1l0.8 0l0.7-1.2l0.8 1l0.7 0.1l0.8-0.5l0.7 1.4l0.8-1.5l0.7-0.1l0.8 0.3l0.7-1.7l0.8 0.6l0.7-2.8l0.8 0.6l0.7-0.9l0.8 0.3l0.7-0.5l0.8-0.1l0.7 0.2l0.8 0.4l0.7-0.8l0.8 0.3l0.7 1.7l0.8 0.2l0.7 1.1l0.8-1.5l0.8 1.4l0.7-0.9l0.6-3.1l0.2-4.5l0-8.1l0.1-17.3l0.1-7.9l0 6.4l0.1 16.9l0.3 10.4l0.1 1l0.8 2.9l0.7 0.6l0.8-0.5l0.7 0l0.8-0.8l0.7-1.2l0.8-1l0.7 0.5l0.8-1l0.7 0.6l0.8 0.8l0.7 0.2l0.8-1.5l0.7 0.9l0.8-1.3l0.7 0.2l0.8-0.4l0.7 0.3l0.8 0.5l0.7-0.3l0.8 0.9l0.7-0.7l0.8 0.9l0.7-0.1l0.8-0.3l0.7 0.3l0.8 0.2l0.7-0.2l0.8 0.6l0.7 0.1l0.8 1.5l0.7-0.6l0.8 0.2l0.7 0l0.8 0.4l0.7-1.7l0.8 1.1l0.7 0.6l0.8-0.5l0.7 1.7l0.8 0.3l0.8 0.3l0.7 1l0.8-0.3l0.7-2l0.8-1.9l0.7 2.5l0.8 0.6l0.7-0.9l0.8-0.3l0.7 0.4l0.8-0.3l0.7 1.6l0.8 0.2l0.7 0l0.8 1.7l0.7-0.4l0.8-0.4l0.7 1.1l0.8 0.2l0.7-0.1l0.8-1.4l0.7-0.4l0.8 0l0.7 0.1l0.8-0.9l0.7-0.9l0.8 1.6l0.7 0.3l0.8-0.9l0.7 1.4l0.8-0.5l0.7 0.9l0.8 0.9l0.7 0.9l0.8-1.6l0.7 0.5l0.8-0.8l0.7-0.3l0.8 0.1l0.7 0l0.8-1l0.7 0.6l0.8 1.3l0.8 0.5l0.7-2.7l0.8 0.4l0.7 0.5l0.8-0.3l0.7 0.3l0.8 1.2l0.7-1.1l0.8 0.2l0.7-0.5l0.8-0.2l0.7-1.6l0.8-0.7l0.7 1.3l0.8-1.8l0.7 0.1l0.8-1.6l0.7 0.2l0.8 0l0.7-3.9l0.8 2l0.7-1.4l0.8-0.9l0.7-0.2l0.8-1.4l0.7-1.1l0.8-0.9l0.7-2.1l0.8-2l0.7-2.2l0.8-2.2l0.7-2.5l0.8-1l0.7-1.1l0.8-1.2l0.7 2.1l0.8 11.6l0.7 9.5l0.8 3.2l0.7 0.5l0.8-0.9l0.7 0.1l0.8 0.3l0.8-0.2l0.7 1.7l0.8-1.2l0.7 0.1l0.8-0.1l0.7 0.1l0.8 1l0.7-1.3l0.8 0.8l0.7-0.1l0.8-0.6l0.7 1.6l0.8 0.5l0.7-1.7l0.8 0.3l0.7 1l0.8-2.7l0.7 4.6l0.8-0.4l0.7-0.5l0.8 0.1l0.7-1.2l0.8 1.9l0.7 1.2l0.8 2.2l0.7 0.4l0.8-1l0.7 0.8l0.8-0.6l0.7 0.4l0.8 0.8l0.7-0.9l0.8 0.1l0.7-0.4l0.8-0.9l0.7-0.2l0.8-0.7l0.7 2l0.8-0.4l0.7 0.4l0.8 0.9l0.7-2.1l0.8 2l0.8 2l0.7-1.4l0.8 2l0.7-0.1l0.8-1.3l0.7 1.6l0.8-0.8l0.7-0.2l0.8-0.8l0.7 0.5l0.8 0.5l0.7 0.2l0.8-0.3l0.7 0.5l0.8-1.1l0.7-2l0.8 2l0.7-1.2l0.8-0.1l0.7-0.9l0.8 0.4l0.7 0.2l0.8 1l0.7-1.4l0.8 0.9l0.7 0.2l0.8-0.8l0.7 1.1l0.8 1.2l0.7 1.1l0.8-0.8l0.7 1.6l0.8 0.5l0.7-0.2l0.8 0l0.7-0.4l0.8 0.6l0.7 0l0.8 0.4l0.7 0l0.8 0l0.7 0l0.8-0.6l0.7-0.9l0.8 0.3l0.8-1.4l0.7 0.7l0.8 1.1l0.7-0.8l0.8-0.1l0.7 1.4l0.8-1.1l0.7-0.4l0.8 0.2l0.7 0.2l0.8-0.6l0.7-0.6l0.8 1.5l0.7 0l0.8-1.3l0.7 1.8l0.8-0.7l0.7-0.5l0.8-0.7l0.7 1.9l0.8 0.1l0.7-0.8l0.8-0.3l0.7 0l0.8-0.5l0.7 0.3l0.8-1.4l0.7 1.7l0.8-1.1l0.7 0l0.8 0.5l0.7 0.1l0.8 0.6l0.7-0.3l0.8-0.2l0.7 1.9l0.8-1.6l0.7 0.1l0.8 0.8l0.7-0.8l0.8-0.6l0.7 0.7l0.8-0.7l0.8 1l0.7 0.5l0.8-0.7l0.7 0.2l0.8 0.6l0.7-1.2l0.8 1.4l0.7 0.2l0.8 0.1l0.7 0l0.8 0l0.7 0l0.8 0l0.7 0l0.8 0l0.7 0l0.8 0l0.7 0l0.8 0l0.7 0l0.8 0l0.7 0l0.8 0l0.7 0l0.8 0l0.7 0l0.8 0l0.7 0l0.8-0.2l0.7 0l0.8 0.2l0.7 0l0.8 0l0.7 0l0.8 0l0.7 0l0.8 0l0.7 0l0.8 0l0.7 0l0.8-0.2l0.7 0.2l0.8-0.8l0.8 0.8l0.7 0l0.8 0l0.7 0l0.8 0l0.7 0l0.8 0l0.7 0l0.8-1.1l0.7 1.1l0.8 0l0.7 0l0.8 0l0.7 0l0.8 0l0.7 0l0.8 0l0.7 0l0.8 0l0.7 0l0.8 0l0.7 0l0.8 0l0.7-0.2l0.8 0l0.7 0.2l0.8 0l0.7 0l0.8 0l0.7 0l0.8 0l0.7 0l0.8 0l0.7 0l0.8 0" stroke="#111" stroke-width="2.1" fill="none" stroke-linejoin="round"/>
<polyline points="507.5,1385.6 115.4,1385.6 115.4,1161.7 241.3,960.2 633.4,960.2 633.4,1184.1 507.5,1385.6" stroke="#3a3a3a" stroke-width="1.7" fill="none" stroke-linejoin="round"/>
<path d="M115.4 1385.6v3M135 1385.6v3M154.6 1385.6v3M174.2 1385.6v3M193.8 1385.6v3M213.4 1385.6v3M233 1385.6v3M252.6 1385.6v3M272.2 1385.6v3M291.8 1385.6v3M311.5 1385.6v3M331.1 1385.6v3M350.7 1385.6v3M370.3 1385.6v3M389.9 1385.6v3M409.5 1385.6v3M429.1 1385.6v3M448.7 1385.6v3M468.3 1385.6v3M487.9 1385.6v3M507.5 1385.6v3M633.4 1184.1l3.5 1M620.8 1204.2l3.5 1M608.2 1224.4l3.5 1M595.6 1244.5l3.5 1M583 1264.7l3.5 1M570.5 1284.8l3.5 1M557.9 1305l3.5 1M545.3 1325.1l3.5 1M532.7 1345.3l3.5 1M520.1 1365.4l3.5 1" stroke="#3a3a3a" stroke-width="1.4" fill="none"/>
<text transform="translate(110.4 1382.3) scale(1 1.14)" text-anchor="end" font-size="24" font-weight="bold">0</text>
<text transform="translate(110.4 1329.6) scale(1 1.14)" text-anchor="end" font-size="24" font-weight="bold">1000</text>
<text transform="translate(110.4 1276.8) scale(1 1.14)" text-anchor="end" font-size="24" font-weight="bold">2000</text>
<text transform="translate(110.4 1224.1) scale(1 1.14)" text-anchor="end" font-size="24" font-weight="bold">3000</text>
<text transform="translate(110.4 1171.4) scale(1 1.14)" text-anchor="end" font-size="24" font-weight="bold">4000</text>
<text transform="translate(115.4 1410.6) scale(1 1.14)" text-anchor="middle" font-size="24" font-weight="bold">9000</text>
<text transform="translate(213.4 1410.6) scale(1 1.14)" text-anchor="middle" font-size="24" font-weight="bold">19000</text>
<text transform="translate(311.5 1410.6) scale(1 1.14)" text-anchor="middle" font-size="24" font-weight="bold">29000</text>
<text transform="translate(409.5 1410.6) scale(1 1.14)" text-anchor="middle" font-size="24" font-weight="bold">39000</text>
<text transform="translate(507.5 1410.6) scale(1 1.14)" text-anchor="middle" font-size="24" font-weight="bold">49000</text>
<text transform="matrix(0.95 0 -0.720 0.950 645.9 1196.6)" font-size="22" font-weight="bold">3</text>
<text transform="matrix(0.95 0 -0.720 0.950 633.3 1216.8)" font-size="22" font-weight="bold">6</text>
<text transform="matrix(0.95 0 -0.720 0.950 620.7 1236.9)" font-size="22" font-weight="bold">9</text>
<text transform="matrix(0.95 0 -0.720 0.950 608.1 1257)" font-size="22" font-weight="bold">12</text>
<text transform="matrix(0.95 0 -0.720 0.950 595.5 1277.2)" font-size="22" font-weight="bold">15</text>
<text transform="matrix(0.95 0 -0.720 0.950 583 1297.3)" font-size="22" font-weight="bold">18</text>
<text transform="matrix(0.95 0 -0.720 0.950 570.4 1317.5)" font-size="22" font-weight="bold">21</text>
<text transform="matrix(0.95 0 -0.720 0.950 557.8 1337.6)" font-size="22" font-weight="bold">24</text>
<text transform="matrix(0.95 0 -0.720 0.950 545.2 1357.8)" font-size="22" font-weight="bold">27</text>
<text transform="matrix(0.95 0 -0.720 0.950 532.6 1377.9)" font-size="22" font-weight="bold">30</text>
<text x="187" y="1466.5" font-size="30" font-weight="bold">Wavenumber(cm<tspan dy="-13" font-size="25">-1</tspan><tspan dy="13" dx="1" font-size="25">)</tspan></text>
<text transform="translate(37 1435) rotate(-90)" font-size="30" font-weight="bold">Radiation intensity(a.u.)</text>
<text transform="matrix(0.530 -0.848 1 0 571 1421)" font-size="30" font-weight="bold">Horizontal position(mm)</text>
<text transform="translate(489.2 1017.5) scale(1 1.09)" font-size="47.5" font-weight="bold">Case2</text>
<text x="270.7" y="1074" font-size="46" fill="#e3141b">H<tspan font-size="32" dy="9">2</tspan><tspan dy="-9">O</tspan></text>
<text x="388.3" y="1074" font-size="46" fill="#e3141b">CH<tspan font-size="30" dy="-17">*</tspan></text>
<text x="519" y="1074" font-size="46" fill="#e3141b">OH<tspan font-size="30" dy="-17">*</tspan></text>
<line x1="316" y1="1092.3" x2="282" y2="1136.2" stroke="#e3141b" stroke-width="3.8"/><polygon points="274,1146.5 276.5,1129.4 289.9,1139.8" fill="#e3141b"/>
<line x1="433.3" y1="1092.3" x2="400" y2="1136.2" stroke="#e3141b" stroke-width="3.8"/><polygon points="392.1,1146.5 394.4,1129.4 407.9,1139.7" fill="#e3141b"/>
<line x1="526" y1="1092.3" x2="492.8" y2="1136.1" stroke="#e3141b" stroke-width="3.8"/><polygon points="484.9,1146.5 487.2,1129.4 500.7,1139.7" fill="#e3141b"/>

</g>
<g>
<path d="M339.5 1718.2V1495.2M437.4 1718.2V1495.2M535.4 1718.2V1495.2M241.5 1653.6H633.4M241.5 1600.8H633.4M241.5 1548H633.4M241.5 1495.2H633.4M115.6 1919.7l125.9 -201.5M241.5 1718.2V1495.2" stroke="#dadada" stroke-width="1.4" fill="none"/>
<path d="M241.5 1718.2V1495.2M228.9 1738.4V1515.4M216.3 1758.5V1535.5M203.7 1778.7V1555.7M191.1 1798.8V1575.8M178.6 1819V1596M166 1839.1V1616.1M153.4 1859.2V1636.2M140.8 1879.4V1656.4M128.2 1899.5V1676.5M115.6 1855.1l125.9 -201.5M115.6 1802.3l125.9 -201.5M115.6 1749.5l125.9 -201.5M115.6 1696.7l125.9 -201.5M213.6 1919.7l125.9 -201.5M311.5 1919.7l125.9 -201.5M409.5 1919.7l125.9 -201.5" stroke="#e6e6e6" stroke-width="1.2" fill="none"/>
<path d="M241.5 1706.4l0.8 0l0.7 0l0.8-1l0.7-0.7l0.8 0.7l0.7-1.4l0.8-2.7l0.7-4.7l0.8-4.4l0.7-5.8l0.8-4.1l0.7-4.9l0.8-1.9l0.7-2.9l0.8-1.9l0-12.7l0.3 13l0.3-13.2l0.1 11.4l0.1-11.7l0.3 12.2l0.3-14.5l0.1 13.6l0.2-13.8l0.3 13.3l0.2-11.4l0.1 12l0.3-12.1l0.3 10.6l0.1-12.2l0.2 12.5l0.3-10.7l0.2 12.5l0.1-13.1l0.3 12.1l0.3-12.7l0.1 12.6l0.2-12.6l0.3 13.8l0.2-13.7l0.1 13l0.2 15.8l0.1-48.8l0-27.5l0.1 27.5l0.1 48.8l0.2 6.5l0-0.8l0.7 1.8l0.8 3.5l0.7 1.4l0.8 1.8l0.7 0.4l0.8 0.9l0.7-1.5l0.8 1.8l0.7 0.1l0.8 1.4l0.7 0.1l0.8 0.9l0.7 0.2l0.8-1.4l0.7-0.2l0 0.4l0.3-1.6l0.1-4.1l0-1.2l0.1 0.6l0 3.1l0.3 3.1l0-2.1l0.7 1.6l0.8-0.7l0.7 0.7l0.8 1.1l0.7-3.2l0.8 2.6l0.7 1l0.8 1.9l0.7-1.1l0.8 2.1l0.7-1.6l0.8 1.8l0.1-0.7l0.3-2.9l0-8.9l0.1-5.1l0 5.1l0.1 8.9l0.1 2.3l0.2 1l0.6 0.6l0.7 0.1l0.8 0l0.7-0.7l0.8-0.6l0.7 1l0.8-1l0.7 0.9l0.8-0.9l0.7-1.4l0.8 1.9l0.7 0.8l0.8 0l0.8 0l0.7 0l0.8 0l0.7-0.4l0.8-0.4l0.7-0.5l0.8-0.8l0.7-1.3l0.8 0.4l0.7-2.2l0.8 0.8l0.7 2l0.8-2.3l0.7 0.5l0.8-1.7l0.7 1.3l0.8 1.5l0.7-0.1l0.8 0.6l0.7-0.3l0.8 1.2l0.7-0.9l0.8 0.5l0.7-0.7l0.8-0.7l0.7 0l0.8-1.9l0.7 0.2l0.8-0.7l0.7 0.7l0.8 0.4l0.7-0.6l0.8 2.2l0.7 1l0.8 0.1l0.7-0.4l0.8-0.1l0.7-0.4l0.5-1.4l0.2 0l0.1-1.3l0-2.8l0.1 0.4l0 0.6l0.1 3.1l0.3-0.1l0.2 1l0.8 1.1l0.7-2.6l0.8-0.6l0.7 1.5l0.8-1.3l0.7-1.2l0.8 1.5l0.7 0.2l0.8 0.1l0.7-1.1l0.8 1.1l0.7-0.1l0.8-1l0.7 0.5l0.8-2.2l0.7 1.2l0.8 0.2l0.7 1.3l0.8 0.1l0.7 0l0.8-1.1l0.7 0.9l0.8-1.9l0.7-0.4l0.8 0.5l0.8-0.5l0.7-0.7l0.8 1.8l0.7 1l0.8-1.2l0.7-1.4l0.8-1.4l0.7 1l0.8-1.2l0.7 0.8l0.8 0.5l0.7-0.5l0.8-0.2l0.7 0.1l0.8-0.9l0.7-0.3l0.8 0.2l0.7 0.3l0.8 0.8l0.7-0.7l0.8-0.3l0.7-1.2l0.8 0.2l0.7 0.2l0.8-1l0.7-0.1l0.8 0.5l0.7-0.6l0.8-0.4l0.7-0.7l0.8 1.1l0.7-0.2l0.8-0.6l0.7 0l0.8 0.5l0.7-0.3l0.8 0.4l0.7-0.8l0.8 0.5l0.7-0.2l0.8-1l0.7-0.6l0.8-1l0.7 0.9l0.8-1l0.7-0.2l0.8 0.7l0.7 0.7l0.8-1.7l0.7-1.1l0.8 1.8l0.7-0.9l0.8-1.3l0.7 0.8l0.6-2.8l0.2-4.6l0.1-8.7l0.1-20.2l0-6.1l0.1 7.8l0.1 19.9l0.2 15.4l0.1 1.6l0.8 1.2l0.7-0.3l0.8-0.9l0.7 0.4l0.8 0.7l0.7-2.7l0.8-1.4l0.7-0.2l0.8-0.4l0.8-0.3l0.7-0.2l0.8 1.4l0.7-0.4l0.8 0.8l0.7 1.1l0.8-0.8l0.7 0l0.8-0.7l0.7 1l0.8-1l0.7 1.4l0.8-0.2l0.7-0.7l0.8 0.3l0.7-1.6l0.8-1.7l0.7 2.9l0.8 0.5l0.7-0.1l0.8 0.8l0.7 0.4l0.8-1.2l0.7 1.2l0.8 0l0.7 1l0.8 0.4l0.7 0.9l0.8 0.5l0.7-0.6l0.8-0.2l0.7-0.3l0.8-0.1l0.7-0.1l0.8 0.9l0.7-1.4l0.8-3.1l0.7 3l0.8 0.1l0.7 0l0.8-0.7l0.7 2.1l0.8-0.3l0.7-0.2l0.8 1.5l0.7-0.7l0.8-1.8l0.7 0.9l0.8-1.8l0.7-0.4l0.8-1l0.7 0.4l0.8-0.2l0.7 1.2l0.8-1.6l0.7 0.9l0.8-0.7l0.7 1.5l0.8 0.2l0.7 0.6l0.8 0.1l0.7 1.1l0.8 0.4l0.7-0.6l0.8 0.6l0.7 0.1l0.8 0.8l0.8 1.7l0.7-1.3l0.8-0.3l0.7 0l0.8-1l0.7-0.7l0.8 0l0.7-0.3l0.8 0.4l0.7-1.7l0.8 2.8l0.7-0.1l0.8-1.9l0.7 1.1l0.8-1.6l0.7 0l0.8-0.9l0.7 1.1l0.8-0.1l0.7-0.5l0.8 0.1l0.7 0.6l0.8 0.4l0.7-0.4l0.8-0.7l0.7 0.9l0.8-3.3l0.7-1.5l0.8-1l0.7-1.1l0.8-1.3l0.7 0l0.8-2.1l0.7-1.2l0.8-1.6l0.7-2.2l0.8-1l0.7-3l0.8-0.7l0.7-1.1l0.8-0.9l0.7-0.6l0.8-0.6l0.7 2.6l0.8 9.4l0.7 7.8l0.8 2.3l0.7 1.5l0.8-0.1l0.7 1.3l0.8 0.8l0.7 0.3l0.8 1.2l0.7-0.3l0.8 2.1l0.7-1.3l0.8 0.2l0.7 0.6l0.8-0.5l0.7 0l0.8 1.6l0.7 0.1l0.8 0l0.7 0.4l0.8 0.2l0.8 0.3l0.7-1.7l0.8-0.8l0.7-1.8l0.8 2.3l0.7 1.5l0.8 0l0.7 0.4l0.8-0.9l0.7 0.7l0.8 0.1l0.7 0.5l0.8 0.6l0.7-1.3l0.8 0.8l0.7-0.1l0.8-0.8l0.7-0.8l0.8-0.3l0.7 0.8l0.8 0.3l0.7 0l0.8 0.2l0.7 0.6l0.8 2l0.7 0.7l0.8-1.6l0.7 2.5l0.8 0l0.7-0.3l0.8 0.1l0.7 0.7l0.8-0.6l0.7 1.1l0.8 1.4l0.7-1.9l0.8 1.6l0.7-0.3l0.8 0.6l0.7 0l0.8-0.9l0.7-0.9l0.8 0.1l0.7 0.1l0.8 0.1l0.7-1l0.8 1.7l0.7-0.7l0.8 0.3l0.7-0.6l0.8-0.1l0.7 0.2l0.8 0.6l0.7-0.3l0.8-0.1l0.7 1.5l0.8 0l0.7 0l0.8 0l0.7 0l0.8-0.5l0.7 0.5l0.8-0.3l0.7 0.3l0.8-0.4l0.8-0.5l0.7 0.7l0.8 0.2l0.7-0.3l0.8 0.2l0.7-0.2l0.8 0.3l0.7-0.2l0.8 0.2l0.7-0.9l0.8-4.1l0.7 4.6l0.8 0.4l0.7 0l0.8 0l0.7 0l0.8-1l0.7 1l0.8 0l0.7 0l0.8 0l0.7 0l0.8 0l0.7 0l0.8 0l0.7-1.1l0.8 0.4l0.7 0.6l0.8-1.1l0.7 0l0.8-0.4l0.7-0.2l0.8-0.8l0.7 0.2l0.8 0.6l0.7-0.9l0.8 0l0.7 0.2l0.8-0.4l0.7-0.9l0.8 0.4l0.7 0.1l0.8 0l0.7 1.1l0.8-1.4l0.7 1.6l0.8-0.2l0.7 0.5l0.8 0.2l0.7-0.4l0.8 0.9l0.7-1.2l0.8-0.6l0.7 0.2l0.8 1l0.7-1.6l0.8 0.1l0.7-0.2l0.8 0.7l0.7 0.3l0.8-0.6l0.7 0.5l0.8-0.3l0.7 0.8l0.8 0.3l0.8-1l0.7 0.5l0.8 0.5l0.7 0.2l0.8 0.3l0.7 0.1l0.8 0.2l0.7-1l0.8-0.2l0.7-0.2l0.8 0.5l0.7-0.5l0.8-0.3l0.7 0.4l0.8 1.7l0.7-1.3l0.8 0.7l0.7-1.3l0.8 0.3l0.7 0.2l0.8-1.4l0.7 1.7l0.8-0.5l0.7 0.9l0.8 0.4l0.7 0.3l0.8 0.3l0.7-0.5l0.8 0.6l0.7-0.5l0.8-0.3l0.7 0.8l0.8 0l0.7-0.8l0.8-0.5l0.7-2l0.8-0.3l0.7 0.7l0.8 0.2l0.7-0.5l0.8 2.1l0.7 0.5l0.8-1.6l0.7 0.1l0.8 0.6l0.7-0.9l0.8 1.2l0.7-1.4l0.8-0.8l0.7 2.4l0.8-0.3l0.7 0.6l0.8 0.5l0.7-0.7l0.8-0.3l0.7-0.1l0.8-1.3l0.7-0.4l0.8-0.1l0.7 0.4l0.8 0.3l0.7 0.4l0.8 0.4l0.7 0.5l0.8-1.1M228.9 1725.6l0.8 0.1l0.7 0.8l0.8-2l0.7-0.2l0.8 0.5l0.7-3.6l0.8-2.1l0.7-3.2l0.8-5.3l0.7-4.6l0.8-4.1l0.7-5.7l0.8-2.4l0.7-3l0.8-0.3l0-15.6l0.3 14.5l0.3-14.9l0.1 13.9l0.2-14.1l0.3 12.6l0.2-14.4l0.1 15.1l0.2-13.7l0.3 11.4l0.2-11.1l0.1 12.2l0.3-14.3l0.3 13.6l0.1-12.6l0.2 11.4l0.3-14.4l0.2 16.5l0.1-14.7l0.3 13.9l0.3-14.4l0.1 12.4l0.2-12.4l0.3 15l0.2-17.9l0.1 17.5l0.2 16.4l0.1-54.2l0.1-30.7l0 30.7l0.1 54.2l0.2 6.4l0.1 0.4l0.6 3.8l0.8 1l0.7 2l0.8 1.7l0.7 0.5l0.8 0.1l0.7 1.4l0.8 0.5l0.7-0.8l0.8 1.3l0.7-0.6l0.8 0.5l0.7 0.3l0.8 0.6l0.7 0.7l0 0.7l0.3-3.5l0.1-2.8l0-2.7l0.1 3.4l0.1 1.4l0.2 3.5l0-1.9l0.7 1.2l0.8-0.2l0.7 0.2l0.8 0l0.7 0.5l0.8 2.2l0.7 1.1l0.8-0.2l0.7-0.6l0.8 0.3l0.7-0.2l0.8-0.1l0.1 0.3l0.3-4.1l0.1-8.5l0-5.7l0.1 4.6l0.1 10.7l0 2.8l0.2 0.6l0.6 1.2l0.8-0.1l0.7 0.2l0.8-0.1l0.7-0.7l0.8-0.3l0.7-0.6l0.8 0.7l0.7-0.2l0.8 0.4l0.7-0.3l0.8-1.1l0.7 0l0.8-0.2l0.7-1.7l0.8 0.9l0.7 0l0.8 0.3l0.7 1.1l0.8-0.4l0.7-1.6l0.8 0l0.7-0.9l0.8-0.7l0.7 1.3l0.8 0.1l0.7-0.7l0.8-0.1l0.7-0.3l0.8-0.4l0.7-0.2l0.8-0.3l0.7-0.7l0.8-0.3l0.7 0l0.8-0.8l0.7 0.8l0.8-0.7l0.7-0.1l0.8 1.6l0.7 1l0.8-2.4l0.7 1.1l0.8-0.1l0.7 0.4l0.8-0.6l0.7-1.5l0.8-0.1l0.7 1.5l0.8 0.4l0.7 0.8l0.5-0.4l0.2 0.5l0.1-0.9l0-0.9l0.1-0.1l0 0.9l0.1 1.5l0.3 2l0.2 0l0.8 0.8l0.7 0.4l0.8-0.7l0.7 1.6l0.8-1.7l0.7 0.2l0.8 0.3l0.7-1.5l0.8-0.9l0.7 0.9l0.8-0.1l0.7-0.2l0.8-0.3l0.8 0.7l0.7 0.1l0.8-0.5l0.7 0.4l0.8-0.6l0.7 0.2l0.8-0.9l0.7-0.7l0.8-1.1l0.7-0.7l0.8 0.8l0.7-2.7l0.8 0.4l0.7 2.4l0.8-1.6l0.7 0.8l0.8 0.1l0.7-2.6l0.8 2.1l0.7-0.4l0.8-0.2l0.7 0.1l0.8-0.3l0.7-0.2l0.8 1l0.7-1.1l0.8 0.3l0.7 0.1l0.8 0.2l0.7 0.7l0.8-1.5l0.7-0.2l0.8 0.4l0.7-1l0.8-0.1l0.7-1.2l0.8-1.2l0.7-0.9l0.8-1.1l0.7-0.2l0.8 0l0.7-0.1l0.8 1.8l0.7 1.8l0.8-0.3l0.7-0.9l0.8 1l0.7-1.5l0.8-1.2l0.7-1.6l0.8 1.4l0.7 0.1l0.8 1l0.7 0.5l0.8 0l0.7-2.1l0.8 0.7l0.7-0.3l0.8-0.6l0.7 1.5l0.8-0.3l0.7 0.7l0.8-0.7l0.7-0.7l0.8 1.1l0.8-0.5l0.5-3.5l0.2-2.3l0.1-5.2l0.1-14.4l0-4l0.1 4.1l0.1 12.7l0.2 9.3l0.2 0.3l0.7 1.9l0.8 0.1l0.7 1.3l0.8 0.3l0.7-0.2l0.8-0.7l0.7-1.2l0.8 0.1l0.7 0l0.8 0.2l0.7-0.5l0.8 0.6l0.7-1.2l0.8 1.2l0.7-0.6l0.8-1.1l0.7 0.3l0.8-1.1l0.7-1.4l0.8 1.6l0.7-0.8l0.8-0.3l0.7-0.3l0.8-0.5l0.7-3.2l0.8 2.4l0.7 0.2l0.8-0.8l0.7 1.8l0.8 0l0.7-1.6l0.8 1.7l0.7 1.4l0.8-1l0.7 1.9l0.8 0.6l0.7 0l0.8 0.4l0.7 0.5l0.8-0.5l0.7-1l0.8 0.4l0.7 1.8l0.8-0.9l0.7 1.2l0.8-0.5l0.7-1.4l0.8-0.1l0.7 0.6l0.8 1.1l0.7-1.3l0.8 0.5l0.7-1l0.8 0.7l0.7 1.1l0.8 0l0.7 0.1l0.8 2l0.7-0.1l0.8 0.4l0.7 0.5l0.8-1.1l0.8 0l0.7 0.7l0.8-0.3l0.7 0.7l0.8-2.6l0.7 1.9l0.8 1.6l0.7-1.6l0.8 1.8l0.7-0.7l0.8-0.9l0.7-0.1l0.8-1.1l0.7 0.4l0.8-0.8l0.7 0.2l0.8 0.9l0.7 0.1l0.8 0.9l0.7-2.4l0.8 1l0.7-0.3l0.8-0.4l0.7-2.5l0.8 0.2l0.7 0.4l0.8-0.3l0.7-0.8l0.8 1l0.7 0.6l0.8-0.6l0.7-0.5l0.8-0.4l0.7 0.2l0.8 0.8l0.7-0.9l0.8-0.1l0.7-1l0.8 0.9l0.7-0.9l0.8-0.9l0.7 0.4l0.8 0l0.7-1l0.8-0.6l0.7-1.4l0.8-1l0.7-1.1l0.8-1.7l0.7-1.7l0.8-2.9l0.7-1.6l0.8-1.4l0.7-2.3l0.8-1.1l0.7 0.4l0.8-0.7l0.7 3.2l0.8 9.7l0.7 8.9l0.8 2.9l0.7 0.5l0.8 0.9l0.7 0.2l0.8-0.4l0.8 0.2l0.7 0.9l0.8 0.4l0.7 0.7l0.8 0l0.7-0.5l0.8 2.2l0.7-0.8l0.8-0.5l0.7-1.2l0.8 0.6l0.7-1.5l0.8-0.1l0.7 1.4l0.8 1.4l0.7 0.6l0.8-1.4l0.7-2.3l0.8 3.3l0.7-1.4l0.8 0.3l0.7 1.8l0.8-0.1l0.7-0.7l0.8 0l0.7-0.5l0.8 1.4l0.7-0.6l0.8-0.6l0.7-1l0.8 0.4l0.7 0l0.8 1.2l0.7-0.6l0.8 0.8l0.7 0.8l0.8-0.7l0.7-1.7l0.8 1.2l0.7 1.3l0.8-0.3l0.7-0.4l0.8-0.2l0.7 0.6l0.8 1l0.7 3l0.8-1.4l0.7 0.7l0.8 0.7l0.7-0.4l0.8-0.9l0.7-0.2l0.8 0.2l0.7-0.4l0.8 1.5l0.7 0.5l0.8 0.2l0.7 0.5l0.8 0.1l0.7-1l0.8 1.3l0.7 0l0.8 0l0.7 0l0.8 0l0.8 0l0.7 0l0.8 0l0.7 0l0.8 0l0.7 0l0.8 0l0.7 0l0.8 0l0.7 0l0.8 0l0.7 0l0.8 0l0.7 0l0.8 0l0.7-1.1l0.8-1.9l0.7 0.5l0.8-0.6l0.7 1.1l0.8-0.2l0.7-0.4l0.8-2.2l0.7 3.2l0.8-0.8l0.7-0.2l0.8 0.2l0.7-0.4l0.8 0l0.7 0.6l0.8 1.2l0.7 0.6l0.8 0.4l0.7 0l0.8 0l0.7 0l0.8 0l0.7 0l0.8 0l0.7 0l0.8 0l0.7 0l0.8 0l0.7 0l0.8 0l0.7 0l0.8 0l0.7-1l0.8 0.8l0.7-0.2l0.8-1.2l0.7 0.6l0.8-0.6l0.7 1.5l0.8-1.1l0.7 0.2l0.8 1l0.7 0l0.8 0l0.7 0l0.8 0l0.7-0.2l0.8 0.2l0.7 0l0.8 0l0.8 0l0.7-0.1l0.8 0.1l0.7-0.8l0.8-0.2l0.7 0.7l0.8-1.3l0.7-0.1l0.8 0.2l0.7 0.3l0.8-0.8l0.7 0.4l0.8 0.5l0.7-0.9l0.8 0.6l0.7-0.2l0.8 0.3l0.7-0.1l0.8 0l0.7 0.1l0.8-0.4l0.7-0.7l0.8 1.8l0.7-0.1l0.8-0.3l0.7-1l0.8-0.7l0.7 0.3l0.8-1.2l0.7-0.8l0.8 0.8l0.7-0.2l0.8-0.5l0.7 0.4l0.8 0.4l0.7-0.5l0.8 2l0.7-1.3l0.8 1.1l0.7 0.2l0.8-0.1l0.7-0.1l0.8-0.4l0.7 0l0.8 0.8l0.7-0.8l0.8 2.2l0.7-1.6l0.8 0.7l0.7 0.1l0.8-0.4l0.7-0.1l0.8 0.3l0.7 1.3l0.8-0.4l0.7-1.1l0.8-0.4l0.7-0.5l0.8 0.6l0.7-0.6l0.8-0.7l0.7 1.4l0.8 0l0.7 1.8l0.8-0.7l0.8 0.2l0.7 0.5l0.8 0l0.7 0l0.8 0l0.7 0l0.8 0l0.7 0l0.8 0l0.7 0l0.8 0l0.7 0l0.8 0l0.7 0M216.3 1746.3l0.8-0.3l0.7 0l0.8 0.6l0.7 0.1l0.8-1.6l0.7-1.1l0.8-4.5l0.7-6l0.8-4.5l0.7-6l0.8-5.1l0.7-5.5l0.8-2.1l0.7-3.9l0.8-0.8l0-15.1l0.3 12.4l0.3-12.9l0.1 13.5l0.2-12.5l0.3 11.8l0.3-14.1l0 14.3l0.3-11.7l0.2 11.5l0.2-14.6l0.1 14l0.3-14.9l0.3 14.1l0.1-15.1l0.2 16.2l0.3-14.2l0.2 16l0.1-18.4l0.3 16.3l0.3-15.9l0.1 17.6l0.2-17.5l0.3 16.4l0.2-16.5l0.1 18.1l0.2 17.5l0.1-55.7l0.1-31.5l0 31.5l0.1 55.7l0.2 5.3l0.1 0.5l0.6 3.9l0.8 2.7l0.7 1l0.8 2l0.7-0.1l0.8 0.6l0.7-0.7l0.8 1.8l0.7 1.2l0.8 0.2l0.7 0.3l0.8 1.8l0.7-0.6l0.8 0.5l0.7-1.4l0 0.8l0.3-2.2l0.1-2.7l0-1.5l0.1 0.2l0.1 5.5l0.2 0.8l0-1.3l0.8 0.9l0.7-0.1l0.8 0.6l0.7-0.1l0.8-3.9l0.7 4.2l0.8-1.1l0.7 0.1l0.8 0.3l0.7 0.6l0.8 1.6l0.7-1.1l0.1-1.3l0.3-4.7l0.1-10.9l0-5.4l0.1 6l0.1 12l0.1 2.8l0.1 1.4l0.6 2.1l0.8-0.7l0.7-0.9l0.8 0.6l0.7 0.7l0.8 0.3l0.7-1l0.8-1.4l0.7-2.9l0.8 2.5l0.7 1.5l0.8 0.1l0.7 1.2l0.8 1.3l0.7-1.5l0.8 0l0.7-0.4l0.8-1.8l0.7 1.4l0.8 0.3l0.7 0.8l0.8 0.4l0.7-1.8l0.8 2.2l0.7-1.7l0.8-0.5l0.7 0l0.8-0.1l0.7 1.1l0.8-0.7l0.7 0.1l0.8 0.6l0.7-0.8l0.8-0.9l0.7-0.7l0.8-0.4l0.7-3.6l0.8 2.1l0.7 0.9l0.8 0.2l0.7 1.4l0.8-0.4l0.7 0.5l0.8-0.3l0.7 0.8l0.8-0.3l0.7-0.2l0.8 0.6l0.7 0l0.8 0.2l0.7 0.8l0.5 0.1l0.3-0.8l0 0.1l0.1-1.3l0-0.2l0.1 0.7l0.1 2l0.2 1.8l0.3 0l0.7 0.2l0.8 0l0.7-0.4l0.8-0.8l0.7-0.8l0.8 1.2l0.7-0.2l0.8-2.5l0.7 0.5l0.8-0.8l0.7 0.3l0.8-0.7l0.7 0.8l0.8 0.6l0.7-1.3l0.8 0l0.7 0.2l0.8-2.4l0.7 2l0.8-2.3l0.7 0.2l0.8-0.7l0.7-0.3l0.8 0.9l0.7-0.6l0.8 0.7l0.7 0.3l0.8-0.1l0.7 0.5l0.8-1l0.7-1.1l0.8 0.8l0.7 0.8l0.8 0.6l0.7-0.5l0.8 1.5l0.7-0.4l0.8-0.1l0.7 0.2l0.8-1.3l0.7 0.1l0.8-1.4l0.7-0.3l0.8 0.2l0.7-2.1l0.8 1.1l0.7 0.6l0.8 0.1l0.7-0.6l0.8-0.4l0.7-1.5l0.8-0.7l0.7-0.7l0.8 0.4l0.7-0.7l0.8 0.6l0.7 0.7l0.8-0.7l0.7-0.5l0.8 0.1l0.7-1.4l0.8 1.5l0.7-2.8l0.8 2.4l0.8 1l0.7 0.1l0.8-1.1l0.7-0.1l0.8 1l0.7-0.3l0.8 1.4l0.7 0.6l0.8 0l0.7-0.6l0.8 0.8l0.7 0.7l0.8-1.8l0.7-0.5l0.8-2.3l0.6-1.5l0.1-3.1l0.1-6.2l0.1-12.7l0-6.3l0.1 4l0.1 13.2l0.2 8l0.2 0.1l0.7 0.3l0.8 0.2l0.7-0.5l0.8 1.3l0.7 0.6l0.8-1.3l0.7 0.2l0.8-0.1l0.7-1.9l0.8 0.8l0.7 0.1l0.8 1l0.7 1l0.8 0.5l0.7-0.2l0.8 1.3l0.7-1.4l0.8 1l0.7-1.5l0.8 1.6l0.7-2.4l0.8-0.2l0.7-0.8l0.8 1.1l0.7-0.6l0.8 0l0.7 0.7l0.8 0.4l0.7 0.9l0.8-0.6l0.7 1.2l0.8 0.1l0.7 0.5l0.8-0.6l0.7 0.4l0.8-0.3l0.7 0.6l0.8 0.9l0.7 0.9l0.8-1.7l0.7 0.9l0.8 1.8l0.7 0l0.8-0.7l0.7 1.7l0.8-0.4l0.7-1.3l0.8 2.1l0.8-0.3l0.7-0.1l0.8 0.4l0.7-0.1l0.8-0.7l0.7-1.6l0.8 1.2l0.7-2l0.8 1.7l0.7-0.7l0.8-0.2l0.7 0.6l0.8-1.3l0.7 0.6l0.8 0.3l0.7 0.9l0.8-0.6l0.7-0.7l0.8-0.4l0.7 0.5l0.8-0.7l0.7 0.9l0.8-1.3l0.7-0.3l0.8-0.7l0.7-0.3l0.8-0.5l0.7 0.1l0.8 1.1l0.7-1l0.8 1.2l0.7 0.8l0.8-1.1l0.7 2.3l0.8-1.7l0.7-0.9l0.8-0.2l0.7-3.4l0.8 3.6l0.7 0.2l0.8-1.1l0.7-0.3l0.8-1.1l0.7-0.9l0.8 0l0.7 0.2l0.8-0.7l0.7 1l0.8 1.2l0.7-0.2l0.8-0.1l0.7-0.2l0.8-0.9l0.7-1.8l0.8-0.3l0.7 1.4l0.8-1.2l0.7-0.4l0.8-0.4l0.7-0.6l0.8-1.2l0.7-1.7l0.8-2.7l0.7-1.6l0.8 0.5l0.7-2.8l0.8-1.5l0.8-0.5l0.7-0.5l0.8-2.4l0.7 0.5l0.8 2.1l0.7 10.7l0.8 6.8l0.7 3.2l0.8 0l0.7 1.2l0.8-0.2l0.7 1.4l0.8-0.6l0.7 0.1l0.8-0.3l0.7 0.4l0.8-0.5l0.7 0.4l0.8 0.2l0.7 1.5l0.8-0.8l0.7-0.2l0.8 2.6l0.7-0.8l0.8 1.8l0.7-0.9l0.8 0.5l0.7-0.3l0.8 0.1l0.7 0.5l0.8-1.6l0.7 1.4l0.8-1l0.7-0.2l0.8-0.6l0.7 0.4l0.8 0.4l0.7-0.7l0.8 0l0.7-0.5l0.8 1.3l0.7-0.5l0.8-0.7l0.7 2l0.8 0.7l0.7 0.5l0.8 1l0.7-1.1l0.8-0.4l0.7 0.1l0.8-0.6l0.7 0.1l0.8-0.4l0.7-4.1l0.8 4.5l0.7 1.3l0.8-0.1l0.7 0.2l0.8-0.5l0.7-0.8l0.8 0.1l0.7-0.3l0.8-0.3l0.7 1l0.8 0.7l0.8 0l0.7 1.9l0.8 1.3l0.7-0.8l0.8 0.8l0.7 0.2l0.8-0.7l0.7 0.8l0.8-0.7l0.7 1.3l0.8-1.2l0.7 1.5l0.8-0.5l0.7-0.3l0.8-0.3l0.7 1.2l0.8 0.1l0.7 0.1l0.8 0l0.7 0l0.8 0l0.7 0l0.8 0l0.7 0l0.8 0l0.7-0.4l0.8-1l0.7-0.1l0.8 0.3l0.7 0.6l0.8 0.4l0.7 0l0.8-1.1l0.7 1l0.8-0.3l0.7-2.1l0.8 2.1l0.7 0.6l0.8-0.6l0.7 0.6l0.8-1l0.7-0.9l0.8-0.4l0.7 1.5l0.8-0.2l0.7 0l0.8 0.8l0.7-0.3l0.8-2.6l0.7 0.8l0.8-0.7l0.7-0.8l0.8-0.6l0.7-0.1l0.8-1.1l0.7 0.9l0.8 1.1l0.7 0.4l0.8 0.9l0.7 0.6l0.8-0.5l0.7-0.6l0.8-0.8l0.7-0.4l0.8 0.7l0.8 1.3l0.7-0.2l0.8 0.8l0.7-0.7l0.8 0.4l0.7 0.5l0.8 0l0.7 0.8l0.8 0.4l0.7-0.8l0.8 0.5l0.7-0.1l0.8-1.5l0.7 1.2l0.8-0.9l0.7-1.8l0.8 1.1l0.7-1.3l0.8 2.1l0.7-0.2l0.8-1.3l0.7-0.1l0.8 0.4l0.7 0.8l0.8-0.7l0.7 0.6l0.8-0.2l0.7 0l0.8-1.2l0.7-0.2l0.8 0.6l0.7 0l0.8 1.1l0.7 1.3l0.8 0.3l0.7-0.4l0.8 0l0.7-0.2l0.8 0.2l0.7-0.1l0.8-1.6l0.7 1.5l0.8-0.8l0.7-1.9l0.8 1.5l0.7 0.6l0.8-0.8l0.7 0.2l0.8-1.4l0.7 0l0.8-0.4l0.7-0.3l0.8 1.7l0.7-1.4l0.8 0l0.7 0.7l0.8 1.1l0.7-0.8l0.8 1l0.7 0.6l0.8-0.1l0.7 0.4l0.8-0.3l0.7 1.3l0.8-0.6l0.8-0.6l0.7 0.9l0.8-0.7l0.7 1l0.8 0l0.7 0l0.8-0.4l0.7 0.4l0.8 0l0.7-0.9l0.8 0.9l0.7 0l0.8-0.7l0.7 0.1l0.8 0.6l0.7 0l0.8-0.2l0.7 0.1l0.8 0.1l0.7 0l0.8 0l0.7 0l0.8 0l0.7-1.6l0.8 0.2l0.7-0.3M203.7 1762.9l0.8-0.3l0.7 1l0.8 1.6l0.7 1.6l0.8-0.4l0.7-3.3l0.8-3.3l0.7-6.1l0.8-5.5l0.7-6.9l0.8-4l0.7-4.8l0.8-3.4l0.7-2.3l0.8-1.2l0-16.7l0.3 15.1l0.3-14.5l0.1 14.1l0.2-15.2l0.3 14.6l0.3-17.6l0 16l0.3-15.6l0.3 13.6l0.1-13.2l0.1 13.9l0.3-15l0.3 17.7l0.1-17l0.2 15.6l0.3-16.2l0.2 16.1l0.1-17.6l0.3 16.1l0.3-15.9l0.1 17.7l0.2-15.6l0.3 14.4l0.2-15.5l0.1 13.6l0.2 23.3l0.1-56.2l0.1-31.8l0 31.8l0.1 56.2l0.2 5.1l0.1 0.8l0.6 2.9l0.8 3.8l0.7 2.2l0.8 0.9l0.8-0.6l0.7 2.9l0.8-0.7l0.7 1.3l0.8-2.9l0.7 2.3l0.8 1l0.7 0.7l0.8 0.2l0.7 2l0.7-0.9l0.1 0.4l0.2-2.7l0.1-2.6l0-3.5l0.1 1.9l0.1 2.4l0.2 3.8l0 0.5l0.8 0.4l0.7 1.2l0.8 0.7l0.7-0.5l0.8-4.3l0.7 4l0.8 1.1l0.7-1.5l0.8-0.2l0.7 0.4l0.8-0.1l0.7-0.7l0.1 0.5l0.3-6l0.1-12.1l0-8.2l0.1 8.2l0.1 12.7l0.1 3.4l0.1 1l0.6 1.8l0.8-1.1l0.7 1.3l0.8 0.9l0.7 0.7l0.8 0.2l0.7-1.4l0.8-0.2l0.7-1.7l0.8-1.5l0.7 2.4l0.8-0.3l0.7 0l0.8-0.1l0.7 1.1l0.8-1.1l0.7 0.1l0.8 0.5l0.7 0.2l0.8-0.4l0.7 0.4l0.8-0.2l0.7-2.4l0.8 3l0.7-0.1l0.8-0.2l0.7-1l0.8 0.5l0.7-1.1l0.8 1.6l0.7-1.7l0.8-0.2l0.7-1l0.8 2.3l0.7 1.1l0.8-1.6l0.7 0.2l0.8-4.5l0.7 3.8l0.8 1.4l0.8-0.5l0.7-0.6l0.8 0.1l0.7 0.5l0.8-0.1l0.7-0.4l0.8 1l0.7 0.6l0.8-0.2l0.7 0.5l0.8 0l0.4 0.8l0.3-1.1l0-0.8l0.1-1.4l0-1.4l0.1 0.5l0.1 2.7l0.2 1.5l0.3-0.3l0.7-0.4l0.8-0.6l0.7-0.2l0.8-1.3l0.7 0.2l0.8-0.7l0.7-0.1l0.8 1.1l0.7-1l0.8-0.3l0.7-1.1l0.8-1.3l0.7 0.6l0.8-1l0.7 1.2l0.8-1.2l0.7 2.3l0.8-1.5l0.7 1.6l0.8-1.7l0.7 0.9l0.8-0.9l0.7 0.1l0.8 0.4l0.7 0.7l0.8 0.8l0.7 0.4l0.8 0.9l0.7-1.9l0.8-0.2l0.7 0.1l0.8 0l0.7 0l0.8-0.8l0.7-0.5l0.8 2.1l0.7-1.1l0.8-0.1l0.7-0.6l0.8 0.4l0.7-0.4l0.8 0.9l0.7-1.4l0.8 0.2l0.7-0.5l0.8-1.9l0.7-2.6l0.8 1.6l0.7 0.4l0.8-0.9l0.7 0.4l0.8-0.9l0.8-0.7l0.7 0.6l0.8 0.7l0.7-0.2l0.8 1.5l0.7-2.1l0.8 1.8l0.7-0.8l0.8 1.7l0.7 0.1l0.8-2.7l0.7 1.4l0.8 1.3l0.7-1.2l0.8-1l0.7-0.3l0.8-1.2l0.7 0l0.8 1.6l0.7-1.1l0.8 0.4l0.7-0.3l0.8-2.2l0.7 0l0.8 0.8l0.7-0.7l0.8-0.7l0.6-1.8l0.1-3.2l0.1-4.6l0.1-12.5l0.1-3.9l0 3.4l0.1 11.8l0.2 6.8l0.2 0l0.7 2.2l0.8 0.8l0.7-1.1l0.8 1.3l0.7-0.1l0.8-0.2l0.7-0.8l0.8-0.8l0.7 0.3l0.8 0.4l0.7-0.4l0.8-0.7l0.7 0.8l0.8-1.1l0.7 1.2l0.8-0.6l0.7-0.5l0.8 0.1l0.7-1.2l0.8 1.2l0.7 0l0.8-0.3l0.7 0.8l0.8-0.8l0.7-0.1l0.8 1.5l0.7 0.1l0.8 0.7l0.7-0.8l0.8 1l0.7 0.7l0.8 0.2l0.7-0.2l0.8-0.3l0.7-0.4l0.8-0.4l0.8 1.9l0.7-2.5l0.8 1.6l0.7 0.1l0.8 1.1l0.7-1l0.8 0.2l0.7 2.3l0.8-2.5l0.7 0.4l0.8-2.3l0.7 2.3l0.8-1l0.7 1.1l0.8 0.2l0.7-0.1l0.8-1.4l0.7 1.4l0.8-1.5l0.7 2l0.8-0.9l0.7 0.7l0.8-0.4l0.7-0.7l0.8 0.3l0.7 0.2l0.8 0.5l0.7 1.7l0.8-0.1l0.7 0.3l0.8-2.2l0.7 2.7l0.8 0.1l0.7-1.1l0.8 0.2l0.7 0.9l0.8 0.3l0.7 0.4l0.8 0.4l0.7 0.4l0.8 1l0.7-0.7l0.8 0.5l0.7-0.5l0.8-0.6l0.7-1.4l0.8 0.2l0.7 0.6l0.8-0.7l0.7-1.9l0.8 0.1l0.7 1.1l0.8-0.6l0.7 0.3l0.8-0.5l0.7-0.3l0.8 0.2l0.7-0.5l0.8-0.8l0.7-0.7l0.8-0.2l0.7 0.6l0.8 0.4l0.7-0.6l0.8 0.2l0.8 0.1l0.7-0.7l0.8-1.9l0.7-0.6l0.8-0.5l0.7-2.3l0.8-1.2l0.7-1.5l0.8-2.3l0.7-0.9l0.8-0.7l0.7-1.7l0.8-2.7l0.7-1.5l0.8-2.4l0.7-0.8l0.8-0.2l0.7-0.7l0.8 3.4l0.7 10.2l0.8 8.9l0.7 3.4l0.8-0.1l0.7 1.3l0.8-0.9l0.7 0.4l0.8-1.7l0.7-0.3l0.8 0.2l0.7 0.7l0.8 0.2l0.7-1l0.8 1l0.7-2.5l0.8 1.7l0.7 0.4l0.8 0.4l0.7 0.3l0.8 0.5l0.7 0.2l0.8 1.2l0.7-0.1l0.8-0.6l0.7-2.7l0.8 3.7l0.7 0.2l0.8 0.4l0.7-0.5l0.8 1l0.7-0.2l0.8-0.5l0.7 1.1l0.8 0.1l0.7-0.7l0.8 0.5l0.7-1.2l0.8-0.2l0.7-0.3l0.8 0.6l0.7 0.8l0.8 0.2l0.7 1.1l0.8-0.4l0.7-0.4l0.8 0.5l0.8 1.6l0.7 1.7l0.8-1.1l0.7-1.5l0.8 3.3l0.7 0.8l0.8 1.1l0.7-0.6l0.8 1l0.7 0l0.8 0l0.7 0l0.8 0l0.7 0l0.8-0.1l0.7 0.1l0.8 0l0.7 0l0.8-0.9l0.7 0l0.8-0.1l0.7-1l0.8-0.7l0.7 0.6l0.8-1.2l0.7 0.4l0.8-0.2l0.7-0.2l0.8 1l0.7 0.2l0.8 0.4l0.7 0.6l0.8 1.1l0.7 0l0.8 0l0.7 0l0.8 0l0.7 0l0.8-0.2l0.7-0.4l0.8 0.1l0.7-0.7l0.8 0.4l0.7 0.8l0.8 0l0.7 0l0.8 0l0.7 0l0.8 0l0.7 0l0.8 0l0.7 0l0.8 0l0.7 0l0.8 0l0.7 0l0.8 0l0.7 0l0.8 0l0.7 0l0.8 0l0.7 0l0.8 0l0.7 0l0.8 0l0.8 0l0.7 0l0.8 0l0.7 0l0.8 0l0.7 0l0.8 0l0.7 0l0.8 0l0.7 0l0.8-0.6l0.7 0.6l0.8 0l0.7 0l0.8 0l0.7 0l0.8 0l0.7 0l0.8 0l0.7 0l0.8 0l0.7 0l0.8 0l0.7 0l0.8 0l0.7 0l0.8-1.2l0.7 0l0.8 1.2l0.7 0l0.8-0.6l0.7 0.6l0.8-0.7l0.7 0.2l0.8 0.1l0.7-0.8l0.8 0.4l0.7-0.1l0.8-1l0.7-0.5l0.8 0.4l0.7-1.1l0.8 1.6l0.7-1.9l0.8 0.7l0.7 0.1l0.8 0.6l0.7-0.3l0.8 0.6l0.7-1.1l0.8 0l0.7 0.5l0.8 1.1l0.7-1.1l0.8-2.4l0.7 1l0.8 0.1l0.7-1.1l0.8 1.2l0.7 0.8l0.8-0.2l0.7 0.9l0.8-0.2l0.7 1.2l0.8 0.6l0.8 0.4l0.7-0.7l0.8 0.3l0.7 0.4l0.8 0l0.7 0l0.8 0l0.7 0l0.8 0l0.7 0l0.8 0l0.7 0l0.8 0l0.7 0l0.8 0l0.7 0l0.8 0l0.7 0l0.8 0l0.7 0l0.8 0l0.7-0.7l0.8 0.7l0.7-1.3l0.8 0.3l0.7 0.4l0.8-0.8l0.7 0.9l0.8 0l0.7-0.4l0.8-0.6l0.7 0.1l0.8-0.4l0.7-0.1l0.8-0.6l0.7 0.3l0.8 1.5l0.7-0.7l0.8 0.9l0.7-0.5M191.1 1787l0.8 0l0.7 0l0.8 0l0.7 0l0.8-1.7l0.7-2.4l0.8-3.7l0.7-4.4l0.8-5.2l0.7-5.6l0.8-5l0.7-5l0.8-3.7l0.8-3.9l0.7-0.4l0-19.6l0.3 14.2l0.3-14.6l0.2 14.6l0.1-13.3l0.3 14.4l0.3-17l0 14.9l0.3-12.9l0.3 14.1l0.2-14l0.1 14.6l0.3-15.2l0.2 13.4l0.1-15.5l0.2 13.7l0.3-15.7l0.3 17.1l0-15.5l0.3 14.3l0.3-14.5l0.1 13.4l0.2-14.1l0.3 16.1l0.3-18l0 18.7l0.2 22.6l0.1-55.7l0.1-31.5l0 31.5l0.1 55.7l0.2 4.3l0.1-0.6l0.7 5.4l0.7 2.9l0.8 3.1l0.7 0.9l0.8 1.5l0.7 0.2l0.8 1l0.7 0.7l0.8-0.4l0.7 0.9l0.8 1.2l0.7-0.5l0.8 1.2l0.7-0.6l0.8-1.6l0.2-2.2l0.1-4.5l0-1.8l0.1-0.2l0.1 4.8l0.2 1.4l0-0.6l0.8-0.2l0.7 1.6l0.8 0.8l0.7-0.1l0.8-1l0.7 1.6l0.8 0.8l0.7 0.2l0.8 0.6l0.7 0l0.8 0.2l0.7 0l0.1 0.3l0.3-5.2l0.1-13.8l0-7.1l0.1 7.2l0.1 14.1l0.1 2.6l0.1 2.7l0.6 0.3l0.8 1.5l0.7-0.2l0.8-0.5l0.7 0.4l0.8 0.4l0.7 0.7l0.8 0l0.7-0.3l0.8 0.1l0.7 0.6l0.8-2.3l0.7 0.6l0.8-1.1l0.7 0.6l0.8-0.9l0.7 0.2l0.8 0.3l0.7 1.3l0.8-0.7l0.7-0.2l0.8 0.2l0.7-5.3l0.8 3.1l0.7 0l0.8-1.9l0.8 0.5l0.7 1.1l0.8 0.5l0.7 0.6l0.8 0.9l0.7-1.4l0.8-1.6l0.7-0.4l0.8-0.3l0.7-0.7l0.8-0.4l0.7-0.2l0.8 2.3l0.7 0.1l0.8 1.1l0.7-0.6l0.8 1.1l0.7-1.3l0.8 0l0.7 0.5l0.8-0.9l0.7-0.4l0.8 0.5l0.7-1.2l0.8-0.1l0.4-0.2l0.3-0.6l0-0.2l0.1-2.5l0 0.2l0.1 1.1l0.1 2.7l0.2 0.6l0.3 0.2l0.7 0l0.8-1.3l0.7 0.1l0.8-0.6l0.7 0.1l0.8 0.4l0.7 0.4l0.8-1.3l0.7-1.6l0.8-5.1l0.7 5.1l0.8-2.2l0.7 1.6l0.8 1.1l0.7-0.8l0.8-0.1l0.7 0l0.8-1.1l0.7 1.1l0.8-0.3l0.7 1.2l0.8-0.8l0.7 1.1l0.8-0.3l0.7-1l0.8 2l0.7-1.7l0.8 0.3l0.7-0.6l0.8-0.3l0.7 0.7l0.8 0.6l0.7 0.4l0.8 1l0.7 2.1l0.8 0l0.7-0.5l0.8 1.1l0.8-0.6l0.7-0.1l0.8-0.9l0.7-0.5l0.8 0.5l0.7 0l0.8-1.7l0.7-1l0.8 0.9l0.7-0.5l0.8-1l0.7 0l0.8-0.9l0.7 0.8l0.8 0.5l0.7 0.2l0.8-0.9l0.7-0.2l0.8 0.2l0.7 0.1l0.8-2.2l0.7 1.4l0.8-0.6l0.7-1.8l0.8-2.3l0.7 1l0.8 2.2l0.7-2.3l0.8 0.3l0.7-0.3l0.8 0.1l0.7 0.1l0.8-1.5l0.7 0.4l0.8 1.4l0.7-0.7l0.8-0.5l0.7 0l0.8 0.1l0.7-1.8l0.8 0.2l0.6-1.4l0.1-2.6l0.1-4.7l0.1-9.1l0.1-3.8l0 3.5l0.1 9.4l0.3 7.3l0.1-0.5l0.7 2.9l0.8-0.5l0.7-1.5l0.8 1.1l0.7-0.2l0.8 0.7l0.7 0.2l0.8 0l0.7-0.2l0.8-1.1l0.7 1.4l0.8 1.1l0.7-0.6l0.8 0.8l0.7 0.1l0.8 0.8l0.7-1.4l0.8 0.1l0.7-0.7l0.8-0.3l0.7-0.2l0.8-0.2l0.8 0.4l0.7-1.3l0.8-0.4l0.7-1.3l0.8 1.9l0.7-0.6l0.8 0.7l0.7 0l0.8 1.1l0.7-1.2l0.8 0.3l0.7-0.3l0.8 0.6l0.7 0l0.8 0.4l0.7 0.1l0.8 1.4l0.7 0.1l0.8 0.2l0.7 0.9l0.8-0.4l0.7-0.7l0.8-0.3l0.7-0.6l0.8-5.4l0.7 5.7l0.8-2.4l0.7 1.7l0.8 1.1l0.7 0.9l0.8-1.2l0.7 0l0.8 0.6l0.7-1.1l0.8 1.1l0.7 0.4l0.8-1.3l0.7 0.2l0.8 1.2l0.7 0.3l0.8 0.5l0.7-0.1l0.8 0.5l0.7 0.3l0.8-1.6l0.7 0.9l0.8-0.6l0.7 0.4l0.8-0.6l0.7-0.6l0.8-0.5l0.7-1.1l0.8 1.4l0.7-0.4l0.8-1.6l0.7 1.3l0.8 0.3l0.7-0.7l0.8 0.1l0.7 0.8l0.8-0.1l0.7 1.2l0.8-1.5l0.7-2.1l0.8 2.8l0.7-0.5l0.8 1.5l0.8-2.1l0.7 1.3l0.8-0.7l0.7 0.4l0.8 0.4l0.7-1l0.8-0.9l0.7-1.2l0.8 0l0.7 0.2l0.8-0.9l0.7-0.2l0.8 0.3l0.7 0.1l0.8-1.3l0.7-0.4l0.8 0.1l0.7-0.6l0.8-0.3l0.7-1.6l0.8-1.7l0.7-0.3l0.8-2.4l0.7-1.4l0.8-3l0.7-1.6l0.8-0.3l0.7-1.4l0.8-1.3l0.7 0.2l0.8 1.4l0.7 9.8l0.8 7.3l0.7 1.9l0.8 1.7l0.7-0.8l0.8-1.7l0.7 1.5l0.8-0.6l0.7 1.5l0.8 0.4l0.7-0.2l0.8-0.9l0.7 2.2l0.8 1.6l0.7-0.6l0.8-0.5l0.7-0.1l0.8-0.2l0.7-0.1l0.8 1.1l0.7 0.6l0.8 0.1l0.7-1l0.8 2.1l0.7 1.4l0.8-1.5l0.7 0.9l0.8-1.6l0.7 2.3l0.8-1.1l0.7 1.1l0.8-0.7l0.7 2.2l0.8 0.8l0.8 0.6l0.7 2.1l0.8-1.4l0.7 0.8l0.8-0.3l0.7 0.9l0.8-0.5l0.7-1.1l0.8-1.4l0.7 0.1l0.8-0.3l0.7 0.3l0.8-1.2l0.7-2.2l0.8 2.2l0.7 0.9l0.8 0.4l0.7 1.8l0.8 0.6l0.7 0l0.8-0.2l0.7 0.4l0.8-0.4l0.7 0.4l0.8 0.9l0.7-1l0.8 0.6l0.7 0.3l0.8 0.9l0.7-1.1l0.8 1.2l0.7-0.9l0.8 0.9l0.7 0l0.8 0l0.7 0l0.8 0l0.7 0l0.8 0l0.7 0l0.8 0l0.7 0l0.8 0l0.7 0l0.8 0l0.7 0l0.8 0l0.7 0l0.8 0l0.7 0l0.8 0l0.7 0l0.8 0l0.7 0l0.8-0.2l0.7 0.2l0.8-0.6l0.7-0.3l0.8-2.2l0.7-0.4l0.8-0.8l0.7-0.2l0.8 1.2l0.7 0.3l0.8 0.7l0.8 0.6l0.7 0.3l0.8 0l0.7 1.4l0.8 0l0.7 0l0.8 0l0.7 0l0.8 0l0.7 0l0.8 0l0.7 0l0.8 0l0.7 0l0.8 0l0.7 0l0.8 0l0.7 0l0.8 0l0.7 0l0.8 0l0.7 0l0.8 0l0.7-0.9l0.8-0.7l0.7 1l0.8-0.7l0.7 0.5l0.8 0.2l0.7-0.4l0.8 0.4l0.7 0.6l0.8-1.2l0.7 0.9l0.8 0.1l0.7-0.3l0.8 0.5l0.7 0l0.8-1.1l0.7 1.1l0.8-0.7l0.7 0.3l0.8 0.4l0.7 0l0.8-0.3l0.7-0.8l0.8 1.1l0.7-0.5l0.8 0.5l0.7 0l0.8 0l0.7 0l0.8-1l0.7 0.6l0.8 0.4l0.7-0.6l0.8 0.2l0.7-0.6l0.8 1l0.7 0l0.8-0.9l0.7 0.9l0.8 0l0.7-0.9l0.8 0.9l0.8-0.8l0.7-0.4l0.8 0.2l0.7 0.8l0.8 0.2l0.7-1.1l0.8 1.1l0.7-0.2l0.8-0.5l0.7-0.1l0.8-1.1l0.7 0.9l0.8-1.7l0.7 2.6l0.8-0.8l0.7-1.1l0.8 0.7l0.7 0.2l0.8 1.1l0.7 0l0.8-0.1l0.7 0.1l0.8 0l0.7 0l0.8 0l0.7 0l0.8 0l0.7 0l0.8 0l0.7 0l0.8-0.1l0.7 0.1l0.8 0l0.7 0l0.8-0.3l0.7-0.6l0.8 0.5l0.7-0.2l0.8 0.6l0.7 0l0.8 0l0.7 0l0.8-0.8l0.7 0.5l0.8 0l0.7 0.3l0.8 0l0.7-0.5l0.8-0.2l0.7 0.2l0.8 0.5l0.7 0M178.6 1803.1l0.7-1l0.8-1.1l0.7 0.7l0.8 0.7l0.7 0.5l0.8-0.7l0.7-4.8l0.8-5.2l0.7-4.4l0.8-5.1l0.7-6.9l0.8-3.5l0.7-4.5l0.8-4.1l0.7 0.8l0-16.4l0.3 13.7l0.3-14.2l0.2 14l0.1-15.1l0.3 15.2l0.3-16.1l0 14.3l0.3-14.7l0.3 15.6l0.2-14.9l0.1 14.9l0.3-16l0.3 18.5l0-16.9l0.3 15.7l0.2-15.8l0.3 13.6l0-15.8l0.3 15.6l0.3-17.7l0.1 16.9l0.2-15.4l0.3 17.2l0.3-20.5l0 16.9l0.3 23.4l0.1-56.8l0-32.6l0 32.6l0.1 57.8l0.2 5.2l0.1-0.7l0.7 4.6l0.7 1.8l0.8 1.2l0.7 1.3l0.8 0.5l0.7-0.2l0.8 1.2l0.7 0.6l0.8 2.2l0.7 0l0.8 0.1l0.7 0.4l0.8 0.1l0.7-0.6l0.8-1.3l0 1.7l0.2-2.8l0.1-2.7l0.1-1.7l0 2.2l0.1 4.8l0.2 2.5l0 2.5l0.8-0.2l0.7 1l0.8-0.7l0.7-3.9l0.8 1.8l0.7 0.8l0.8-1.1l0.7 1.4l0.8-0.1l0.7 0.6l0.8-1.9l0.7 0.5l0.2-1.1l0.2-4.9l0.1-14.1l0-8.3l0.1 8.8l0.1 15.6l0.1 3.5l0.1 3l0.6 0l0.8-0.6l0.7 1.9l0.8-2.2l0.7 0.1l0.8-1.2l0.7 0.1l0.8-0.4l0.7 0l0.8-0.8l0.7 1.5l0.8 0l0.7-0.5l0.8 1.7l0.8-0.1l0.7-1.1l0.8 0.2l0.7 0.8l0.8 1l0.7 1.6l0.8-2.4l0.7 1.4l0.8 0.5l0.7-1.5l0.8 0.9l0.7 0l0.8-1.7l0.7 0.1l0.8-1l0.7 0.6l0.8-0.7l0.7-0.9l0.8 1.9l0.7-1.3l0.8 0.6l0.7 0l0.8-0.4l0.7-1.2l0.8-1.7l0.7 0.9l0.8 1l0.7 0.7l0.8 1.2l0.7-0.3l0.8 1.6l0.7-1.6l0.8 0.7l0.7 0.6l0.8 0.4l0.7-1.4l0.8 0.5l0.4-1.1l0.3-1.1l0 0.5l0.1-2.2l0 0.6l0.1-1.1l0.1 2.9l0.2 1.4l0.3-0.2l0.7 1l0.8 0.3l0.7-1.2l0.8 0.4l0.7 0.4l0.8-1.2l0.7-0.1l0.8-1.8l0.7 0.2l0.8 1.1l0.7 0.9l0.8-1.1l0.7 1l0.8-0.5l0.7-0.3l0.8-1.1l0.7 0.8l0.8-0.7l0.7 0.9l0.8-1.2l0.7-0.8l0.8 0.3l0.7-1.5l0.8-1.9l0.7 2.6l0.8-0.8l0.8-0.5l0.7 1.4l0.8-0.3l0.7-1.5l0.8-0.1l0.7 2.3l0.8-1.5l0.7 0.1l0.8-1.8l0.7 1l0.8 0l0.7 0.7l0.8-0.7l0.7 0.1l0.8-0.7l0.7-1.7l0.8 0.4l0.7-1.1l0.8 1.3l0.7-2.7l0.8 1.9l0.7 0.3l0.8 0.1l0.7 0.6l0.8 0.6l0.7-1.6l0.8 1.2l0.7-0.3l0.8 1.5l0.7-0.2l0.8 0.5l0.7-0.4l0.8-0.8l0.7-1.1l0.8-1.7l0.7 0.9l0.8-0.6l0.7-3.6l0.8 5.1l0.7-0.6l0.8 1.2l0.7-1.7l0.8-1.2l0.7 1.2l0.8-2l0.7-0.5l0.8-0.5l0.7 2.3l0.8-1.7l0.7-0.7l0.8-0.1l0.7 2l0.8-0.9l0.6-1.6l0.1-1.3l0.1-4.6l0.1-8.7l0.1-3.7l0 3.5l0.1 9.1l0.3 7l0.1 0.1l0.7 0.7l0.8 1.2l0.7-1.9l0.8-0.4l0.7-1l0.8 1.4l0.7-1.5l0.8-1.3l0.7-0.1l0.8 0.2l0.8-2.1l0.7-2l0.8 0.4l0.7 0.4l0.8 0.9l0.7-0.2l0.8 0.9l0.7 0.7l0.8-1.1l0.7 1.2l0.8-0.5l0.7-0.1l0.8 1l0.7-0.6l0.8-0.2l0.7-1.5l0.8-0.3l0.7 0.9l0.8 0.7l0.7 0.2l0.8 1.5l0.7-0.7l0.8 1.6l0.7 0.7l0.8-0.3l0.7 0.9l0.8-1.1l0.7 1.2l0.8-0.9l0.7 0.1l0.8-0.2l0.7 1.3l0.8 1.3l0.7-2.2l0.8 0.4l0.7 1l0.8 0l0.7 2.3l0.8-0.8l0.7 0l0.8-1.2l0.7 0.7l0.8-1.2l0.7-0.9l0.8 0.7l0.7 0.1l0.8-0.4l0.7-0.4l0.8 1.4l0.7-0.3l0.8 0.7l0.7-0.2l0.8-1.5l0.7-0.5l0.8 0.8l0.7-0.6l0.8-0.8l0.7 1.3l0.8 0.9l0.7-0.5l0.8 0.9l0.7-0.3l0.8 0.2l0.7-0.8l0.8 1.7l0.8-1.7l0.7 2l0.8-2.3l0.7 0.5l0.8 0l0.7 0.3l0.8 1.6l0.7 0.3l0.8-0.6l0.7 0l0.8 0.5l0.7 0.7l0.8-0.8l0.7-0.6l0.8 0.6l0.7-1.5l0.8 0.8l0.7-0.7l0.8 0l0.7 0.6l0.8-0.5l0.7-0.3l0.8 1.1l0.7 0l0.8-2.5l0.7 0.4l0.8-1.1l0.7-0.6l0.8-1.4l0.7 0.2l0.8-1.2l0.7-2.3l0.8-1.5l0.7-2.9l0.8-1.2l0.7-1.4l0.8-0.5l0.7-3.3l0.8-0.5l0.7-2l0.8-1.5l0.7-1.1l0.8-1.7l0.7 0.4l0.8 4.1l0.7 8.6l0.8 7.5l0.7 3.1l0.8-0.1l0.7 1.4l0.8 0.3l0.7 1l0.8 0.5l0.7-0.1l0.8 1.2l0.7 0.7l0.8-0.4l0.7-0.8l0.8-0.4l0.7-1.3l0.8 0.6l0.7 0l0.8 0.6l0.7 0.9l0.8 1.4l0.8 0.9l0.7 0.3l0.8-0.3l0.7 0l0.8-2.6l0.7 1.1l0.8 1.8l0.7 0.5l0.8 0.1l0.7 0l0.8 0l0.7 3l0.8-1.8l0.7 1.6l0.8-1l0.7 0.9l0.8-0.6l0.7-0.8l0.8-0.5l0.7 0.4l0.8 0.4l0.7-0.5l0.8 0.9l0.7 0.1l0.8 0.7l0.7-0.3l0.8 1.1l0.7-0.3l0.8 0.2l0.7-3.9l0.8 2.8l0.7-1l0.8 1.3l0.7-1l0.8-0.8l0.7 0.5l0.8-1.4l0.7 1.6l0.8-0.2l0.7-0.3l0.8 0.5l0.7-1.9l0.8 0.5l0.7 0l0.8 0.2l0.7 2l0.8-0.5l0.7 2.7l0.8-1.3l0.7 0.7l0.8-0.2l0.7 1l0.8-1.3l0.7-0.1l0.8 0.9l0.7 0.4l0.8 0.8l0.7-0.1l0.8 1l0.7 0.2l0.8 0l0.7 0l0.8 0l0.7 0l0.8 0l0.8 0l0.7 0l0.8 0l0.7-0.1l0.8-0.3l0.7 0l0.8-0.2l0.7-0.5l0.8-0.1l0.7-1.6l0.8-2.3l0.7 1.9l0.8 0.8l0.7 0.8l0.8-1.7l0.7-0.2l0.8 1.5l0.7-1.6l0.8 1.8l0.7-0.6l0.8 0.9l0.7-1.6l0.8 0.4l0.7 1.1l0.8-0.8l0.7-0.5l0.8 0.8l0.7-1.5l0.8 0.2l0.7 0.8l0.8 1.1l0.7-1.3l0.8 1.1l0.7 1.4l0.8-0.2l0.7 0.4l0.8 0.1l0.7 0l0.8 0l0.7 0l0.8 0l0.7 0l0.8 0l0.7 0l0.8-0.5l0.7 0.5l0.8-0.1l0.7 0.1l0.8-0.2l0.7 0.2l0.8-0.5l0.7-0.1l0.8-0.6l0.7 0.7l0.8 0.5l0.7 0l0.8-0.1l0.7-0.2l0.8 0l0.7-0.1l0.8 0.3l0.7-0.8l0.8 0.1l0.7-0.1l0.8-0.7l0.8 0.5l0.7-0.2l0.8-1.1l0.7 1.8l0.8 0.6l0.7-0.6l0.8-0.8l0.7 0.3l0.8-1.2l0.7 1.8l0.8 0.5l0.7-0.8l0.8 0l0.7 0.3l0.8-0.3l0.7-0.5l0.8 0.4l0.7 0l0.8 0.9l0.7-1.3l0.8-0.7l0.7 1.6l0.8 0.1l0.7 0.3l0.8 0l0.7 0l0.8 0l0.7 0l0.8 0l0.7 0l0.8 0l0.7 0l0.8 0l0.7 0l0.8 0l0.7 0l0.8 0l0.7 0l0.8 0l0.7-0.8l0.8 0l0.7 0l0.8-0.7l0.7 0.2l0.8-1l0.7 0.5l0.8 0.2l0.7 0.9l0.8 0.2l0.7-0.7l0.8-0.3l0.7 0.2l0.8-0.4l0.7-0.1l0.8-0.7l0.7-0.2l0.8 1.6l0.7 0.3l0.8 0.7l0.7 0l0.8 0.1l0.7-0.6l0.8 0.5l0.7-0.3l0.8 0.4l0.7 0M166 1825.5l0.7-1l0.8-0.5l0.7-1.1l0.8 1l0.7 0l0.8-2.6l0.7-4.2l0.8-4l0.7-3.9l0.8-4.9l0.7-5.2l0.8-5.5l0.7-3.5l0.8-3.5l0.7-0.8l0-16.1l0.3 13.5l0.3-14.2l0.2 14.1l0.1-14l0.3 14l0.3-15l0 16.2l0.3-16.8l0.3 17.2l0.2-17l0.1 17.8l0.3-17.9l0.3 14.5l0-15.4l0.3 17.6l0.3-16.3l0.2 14.7l0-16.4l0.3 14.4l0.3-13.9l0.1 14.1l0.2-15.3l0.3 15.2l0.3-16.2l0 16.7l0.3 21.2l0.1-55.7l0-31.5l0.1 31.5l0.1 55.7l0.1 2.6l0.1 0l0.7 4.8l0.7 3l0.8 2l0.7 0.6l0.8 0l0.7 1.3l0.8-2.4l0.7 2.2l0.8 1.3l0.7 1.6l0.8-0.8l0.7 2.2l0.8-0.5l0.7 0.8l0.8 1l0-0.5l0.2-1.7l0.1-2.8l0.1-0.7l0 0.9l0.1 5l0.2 1.2l0.1 1.2l0.7 1l0.7 0.2l0.8-1.6l0.7-1.6l0.8 1.9l0.7-0.8l0.8 1.4l0.7-0.7l0.8 0.3l0.7 0.4l0.8 1.1l0.7-1.6l0.2-0.3l0.2-5.5l0.1-15.9l0.1-9.5l0 8.6l0.1 14.7l0.1 4.8l0.2 3.9l0.6-0.5l0.7 1l0.8 0.9l0.7-0.5l0.8-0.4l0.7 0.6l0.8 0.6l0.7 0l0.8-0.3l0.7 0.3l0.8 0l0.7 0l0.8 0l0.7-1.5l0.8 0.8l0.7 0.4l0.8 0.2l0.7-1.1l0.8-0.2l0.7 0.1l0.8 0.2l0.7-0.4l0.8-1.1l0.7-1.3l0.8-0.4l0.7-1.3l0.8 2.7l0.7 0.3l0.8 0.4l0.7-1.3l0.8 0.6l0.7-0.2l0.8 0.3l0.7-1l0.8 1.4l0.7 0.2l0.8 1l0.7-0.7l0.8-2.7l0.7 2.1l0.8-0.8l0.7 0.7l0.8-1.8l0.7 0.4l0.8-1.1l0.7-0.3l0.8 0.2l0.7-0.8l0.8 0l0.7-0.1l0.8 0l0.5-0.8l0.2 0.6l0-3l0.1-1.4l0-0.8l0.1 1.2l0.1 2.5l0.2 0.7l0.3 1.2l0.7-0.9l0.8 2l0.7 0.1l0.8-0.1l0.7 1.2l0.8-0.4l0.7 0l0.8-0.3l0.7-0.9l0.8-1.8l0.7 1.1l0.8-1.1l0.8 0.4l0.7 0.8l0.8-0.3l0.7 1l0.8-0.7l0.7 0.2l0.8-0.7l0.7 0.6l0.8 0.7l0.7 0.5l0.8-0.1l0.7 0.9l0.8 0.7l0.7-0.2l0.8 1.4l0.7 0l0.8-1.5l0.7-1.9l0.8-4.7l0.7 4.3l0.8 0.2l0.7 0.1l0.8-0.5l0.7-0.2l0.8 0.1l0.7-0.8l0.8-0.2l0.7-1.1l0.8-0.8l0.7-0.6l0.8-1l0.7 0.3l0.8-2.5l0.7-2.8l0.8 4l0.7-0.4l0.8 1.5l0.7-0.3l0.8-0.5l0.7 0.9l0.8-0.8l0.7 2.2l0.8 0.8l0.7-1.7l0.8 2.3l0.7 0l0.8 0.9l0.7-1.8l0.8 0.4l0.7-0.9l0.8-0.3l0.7-1.9l0.8 2.1l0.7 0.9l0.8-0.3l0.7 0.2l0.8-0.8l0.7-0.2l0.8-0.4l0.7 0.5l0.8-1.1l0.7-0.6l0.8-0.3l0.7-0.5l0.8 0.1l0.8-0.8l0.7-0.4l0.6-1.5l0.2-3l0-3.2l0.1-9.7l0.1-2.4l0 3.2l0.1 8.4l0.3 4l0.1 1.2l0.8 0.6l0.7-1.2l0.8 0l0.7-1.7l0.8 0.5l0.7-1.2l0.8-0.7l0.7-1.1l0.8 0.2l0.7-0.2l0.8-0.2l0.7 0.5l0.8-0.4l0.7-0.5l0.8 0.6l0.7-1.5l0.8 0.8l0.7-0.1l0.8 0l0.7 1l0.8-0.9l0.7 1l0.8 0.9l0.7 0.8l0.8-2.2l0.7 1.9l0.8 2l0.7 0l0.8 0l0.7 1.3l0.8 0.2l0.7-0.2l0.8 0.9l0.7-1l0.8 0.7l0.7-0.1l0.8 0.2l0.7-0.2l0.8 0.7l0.7 0.2l0.8 0.2l0.7 0.5l0.8 0l0.7-1l0.8-0.5l0.7 0.4l0.8-0.5l0.7 1.1l0.8 1.1l0.7 0.5l0.8 0.5l0.7-0.1l0.8-0.2l0.7-1.3l0.8 0l0.7 0.5l0.8 2.8l0.7-0.7l0.8-1.2l0.7 0.8l0.8 0l0.8-0.9l0.7 2.1l0.8 0.4l0.7 0.4l0.8-1.4l0.7-0.2l0.8 0.3l0.7-1.5l0.8 1.9l0.7 1.4l0.8-0.6l0.7 0.5l0.8-1.6l0.7 0.8l0.8-1.4l0.7-1.2l0.8-1.2l0.7-0.6l0.8 0.4l0.7-0.5l0.8 0.5l0.7 0.4l0.8-1.1l0.7 1.6l0.8-1.5l0.7-1.2l0.8 1.1l0.7-0.1l0.8 1.3l0.7-0.5l0.8-0.3l0.7-0.4l0.8-0.4l0.7 0.4l0.8-0.2l0.7 0.2l0.8 1.3l0.7-1.2l0.8 0l0.7-0.4l0.8-0.4l0.7-1.1l0.8-1.8l0.7 0.7l0.8-1l0.7 0.7l0.8-0.9l0.7-2.7l0.8-2.1l0.7-2.1l0.8-0.4l0.7-1.2l0.8-2.4l0.7 0.4l0.8-0.1l0.7-1.3l0.8-1.8l0.7 0l0.8 1.3l0.7 9.7l0.8 8.1l0.7 3.6l0.8-0.1l0.7 0.3l0.8 0.3l0.7-1l0.8-1.1l0.8 1.1l0.7 0.3l0.8-0.1l0.7 0.7l0.8-0.3l0.7-1l0.8 1.1l0.7-1l0.8 0.1l0.7 0.2l0.8 0.7l0.7 0.9l0.8-0.8l0.7 1.4l0.8 0l0.7-1.7l0.8-2.2l0.7 3.9l0.8-1l0.7 0.3l0.8 0l0.7-0.1l0.8 0.1l0.7-0.6l0.8 1.4l0.7-1.2l0.8 0.6l0.7 0.2l0.8 1.7l0.7 0.8l0.8 0.7l0.7-1.7l0.8 1.1l0.7 0.1l0.8 0l0.7 0.3l0.8 0.3l0.7 0.2l0.8 1.3l0.7-0.1l0.8-1.8l0.7 1.9l0.8-1.5l0.7-1.1l0.8-0.6l0.7-0.3l0.8 1l0.7-1l0.8 1.8l0.7 1.2l0.8-0.3l0.7 1.6l0.8 1.6l0.7-0.8l0.8-0.3l0.7-0.2l0.8 1.4l0.7-0.5l0.8 0.5l0.7-1l0.8 0.8l0.7 0.8l0.8-0.3l0.7 0l0.8-1.6l0.8 0.1l0.7-0.1l0.8 1.9l0.7 0l0.8 0l0.7 0l0.8 0l0.7 0l0.8 0l0.7 0l0.8 0l0.7 0l0.8-0.1l0.7-0.7l0.8 0.2l0.7-0.7l0.8-0.7l0.7 0.2l0.8-0.3l0.7-0.5l0.8 0.8l0.7-0.7l0.8 1.6l0.7 0.9l0.8 0l0.7 0l0.8-1.2l0.7 0l0.8-0.7l0.7-0.8l0.8 0.2l0.7 2.1l0.8-0.8l0.7 1.2l0.8 0l0.7 0l0.8 0l0.7-0.9l0.8-1l0.7-0.9l0.8-1.7l0.7-0.2l0.8 1.6l0.7 0l0.8 0.8l0.7 1l0.8 0.7l0.7 0.3l0.8 0.3l0.7 0l0.8 0l0.7 0l0.8 0l0.7-0.3l0.8-0.3l0.7 0.1l0.8-0.5l0.7 0.5l0.8-0.8l0.7-1.8l0.8 0.6l0.7-0.8l0.8 1l0.7 0.9l0.8 0.8l0.8 0.6l0.7 0l0.8 0l0.7 0l0.8-0.2l0.7 0.1l0.8 0.1l0.7-0.1l0.8 0.1l0.7 0l0.8 0l0.7-0.2l0.8 0.2l0.7 0l0.8 0l0.7 0l0.8 0l0.7-0.1l0.8-0.8l0.7 0.9l0.8 0l0.7 0l0.8 0l0.7 0l0.8 0l0.7-1.2l0.8 1.2l0.7 0l0.8-0.4l0.7 0.4l0.8 0l0.7 0l0.8 0l0.7 0l0.8 0l0.7 0l0.8 0l0.7 0l0.8-1l0.7 0.9l0.8-1.1l0.7-0.4l0.8-0.1l0.7 0.2l0.8-1.2l0.7 2l0.8-0.1l0.7 0.4l0.8 0.4l0.7 0l0.8 0l0.7 0l0.8 0l0.7 0l0.8 0l0.7 0l0.8 0l0.7 0l0.8 0l0.7 0l0.8 0l0.7-0.1l0.8-0.6l0.7-1l0.8 0.4l0.8 0.3l0.7-0.5l0.8 0.4l0.7 1.1l0.8-1.4l0.7 0.4l0.8-1.1l0.7-0.8l0.8 0.4l0.7-0.6l0.8 0.9l0.7 1.1l0.8-0.2M153.4 1846.9l0.7-0.1l0.8-0.5l0.7 1.1l0.8 0l0.7 0l0.8-2.2l0.7-3.8l0.8-4.1l0.7-5.7l0.8-5.3l0.7-4.6l0.8-4.5l0.7-4.3l0.8-2.3l0.7-0.7l0-14.8l0.3 12.7l0.3-14.1l0.2 11.1l0.1-14.2l0.3 14.4l0.3-14.7l0 13l0.3-13.6l0.3 12.8l0.2-12l0.1 11.7l0.3-12.8l0.3 12.6l0-16.2l0.3 15l0.3-12.5l0.2 15.2l0.1-18.1l0.3 17.3l0.2-15.3l0.1 13.5l0.2-16.7l0.3 16l0.3-13.1l0 15.3l0.3 19.1l0.1-57.5l0-32.6l0.1 32.6l0.1 57.8l0.1 5.9l0.1 0.1l0.7 2l0.7 3.4l0.8 1.8l0.7-0.2l0.8 1.3l0.7 1.1l0.8-0.1l0.7-0.9l0.8 2.3l0.7-0.2l0.8 0.4l0.7 0.5l0.8 1.7l0.7-0.3l0.8 0.8l0-1.2l0.2-2.2l0.1-3.8l0.1-0.5l0 0.8l0.1 4.7l0.2 0.5l0.1 1.7l0.7-0.3l0.8-0.9l0.7-3l0.8 4.8l0.7 1.2l0.8 0.6l0.7 1.5l0.8 0.9l0.7-1.7l0.8 0l0.7 0.6l0.8-1.4l0.1-0.8l0.2-7.1l0.1-15.6l0.1-11.9l0 10.1l0.1 18.2l0.1 4l0.2 1.6l0.6 1.5l0.7 1.2l0.8-0.2l0.7-0.2l0.8 0.5l0.7-0.4l0.8-0.5l0.7 0.5l0.8 0.4l0.7-2.8l0.8 4.7l0.7-0.8l0.8 1.3l0.7-1l0.8 0.1l0.7-0.6l0.8 0l0.7-1.6l0.8 1.2l0.7 0.4l0.8-1.8l0.7 1.2l0.8-1.2l0.7 1.2l0.8-1.1l0.7 1.2l0.8-1.5l0.7 1.2l0.8-0.2l0.7 0.7l0.8-1.2l0.7 1.5l0.8 0.2l0.7-0.8l0.8 0.6l0.7-0.8l0.8 0.5l0.7-3.7l0.8 2l0.7 1.4l0.8-0.2l0.7-1.2l0.8-0.1l0.7 1l0.8-0.5l0.7-1.2l0.8-0.6l0.7 0.4l0.8 1l0.7-1.7l0.8-0.9l0.5 0.1l0.2-0.4l0-0.9l0.1-1.6l0.1-0.3l0 0.3l0.1 0.9l0.2 0.7l0.3 1l0.8 0.6l0.7-0.9l0.8-0.4l0.7 0.2l0.8 0.7l0.7 0.4l0.8-0.3l0.7 1l0.8-0.3l0.7-4.1l0.8 2.9l0.7-0.1l0.8-0.3l0.7 0.3l0.8 0.7l0.7-2l0.8 1.9l0.7-0.8l0.8 0.1l0.7 0.1l0.8 0.1l0.7-1.3l0.8-1l0.7-0.1l0.8 1.7l0.7-1.5l0.8-0.2l0.7 0.2l0.8 1.5l0.7 1.3l0.8-0.7l0.7-0.3l0.8-0.1l0.7 1.4l0.8-0.4l0.7 0.3l0.8-0.8l0.7-1.6l0.8 0.6l0.7-1.7l0.8-1.5l0.7-0.4l0.8-0.6l0.7 0.1l0.8 0.2l0.7-2l0.8 1.8l0.7 2.5l0.8 0.1l0.7 2.7l0.8-1l0.7 0.6l0.8 0.7l0.7 0.2l0.8 0.2l0.7-0.2l0.8-0.6l0.7 0.1l0.8-1.2l0.7-2.1l0.8 0.2l0.7 0.2l0.8-1.4l0.7-1.5l0.8 1.5l0.8-0.2l0.7-1.2l0.8-1l0.7 0.1l0.8 0l0.7-1.6l0.8 0.7l0.7 0.3l0.8-0.1l0.7-1.2l0.8-1l0.7-0.5l0.8 0.1l0.7 1.1l0.6-2.4l0.2-0.9l0-4l0.1-9.8l0.1-3l0 3.4l0.1 9.7l0.3 6.8l0.1-0.3l0.8 0.6l0.7-1.2l0.8 1.1l0.7-0.3l0.8 0.3l0.7-0.8l0.8-0.3l0.7 0.6l0.8-0.8l0.7-0.6l0.8-0.5l0.7-2.2l0.8-0.1l0.7 0.2l0.8-0.8l0.7 1.5l0.8-0.8l0.7-0.4l0.8-0.4l0.7 0l0.8 0.4l0.7-0.3l0.8 0.7l0.7 0.1l0.8-1l0.7 0l0.8 3l0.7-0.4l0.8 1.1l0.7 0.5l0.8-0.6l0.7 0l0.8 0.8l0.7-0.5l0.8 1.3l0.7 0l0.8 0l0.7 0.4l0.8-0.3l0.7-0.7l0.8-0.2l0.7-1.1l0.8 1.3l0.7-1.2l0.8 0l0.7 0.6l0.8 0.7l0.7 0.8l0.8 0.1l0.8 0.6l0.7 0.7l0.8 0.3l0.7 0.4l0.8 0.3l0.7 1l0.8 0l0.7 0.4l0.8 0l0.7 1.2l0.8 0.1l0.7 0.3l0.8-1.2l0.7 0.6l0.8 0.4l0.7-0.8l0.8-0.5l0.7 1.2l0.8-7.1l0.7 4.8l0.8-0.9l0.7-0.1l0.8 0.3l0.7-1.3l0.8 0.4l0.7-0.8l0.8 2.4l0.7-0.2l0.8-0.3l0.7 1.4l0.8-0.9l0.7-0.5l0.8-1l0.7-0.2l0.8 0.8l0.7-0.6l0.8-2.7l0.7 1.9l0.8 1.3l0.7 0l0.8-0.9l0.7-0.3l0.8-0.2l0.7-0.4l0.8 0.5l0.7-0.9l0.8-0.1l0.7-0.4l0.8 0.6l0.7 0.6l0.8-1.2l0.7 0.6l0.8-1.2l0.7-1.8l0.8-0.4l0.7-0.6l0.8 1.1l0.7-2.7l0.8-0.2l0.7-1.1l0.8-1.5l0.7-2.7l0.8-1l0.7-2.1l0.8-0.5l0.8-1.4l0.7-2.4l0.8-0.6l0.7-1.5l0.8 1.1l0.7 2.4l0.8 9.4l0.7 7.6l0.8 2.6l0.7 0.9l0.8-0.5l0.7 0.7l0.8 0.5l0.7 0.1l0.8 0.5l0.7-0.1l0.8-0.3l0.7-0.5l0.8 0.6l0.7 0.4l0.8-0.4l0.7-1.3l0.8 0.5l0.7-0.6l0.8 0.3l0.7 0.9l0.8 0.2l0.7 0.4l0.8 1.6l0.7-0.6l0.8-0.8l0.7-0.5l0.8 0.9l0.7 0.3l0.8 1.7l0.7 0.1l0.8 0.1l0.7 1.3l0.8 0.4l0.7 0.4l0.8 0.1l0.7 0.5l0.8-1.1l0.7-0.6l0.8 0.7l0.7 0.4l0.8 0.7l0.7-0.6l0.8 1.6l0.7-2.1l0.8 1.5l0.7 1.1l0.8-0.7l0.7-0.1l0.8-1l0.7 1.7l0.8 1.2l0.7-1l0.8 1.1l0.7 0.7l0.8 0.2l0.7 0.6l0.8 0.7l0.7-0.6l0.8-1.2l0.8-2l0.7 0l0.8 0.4l0.7-0.4l0.8-0.7l0.7 0.2l0.8 0.8l0.7 0.4l0.8-0.5l0.7-0.4l0.8 0.1l0.7-0.4l0.8 1.2l0.7 0.2l0.8-0.4l0.7 1.1l0.8 1l0.7 0.2l0.8 0.4l0.7-1l0.8 1.4l0.7 0.3l0.8-1.1l0.7 1.1l0.8-0.8l0.7 0.8l0.8-0.7l0.7 0.2l0.8-0.2l0.7-0.8l0.8 1.5l0.7-0.8l0.8 0.7l0.7-0.4l0.8-0.1l0.7-0.8l0.8-3.3l0.7 2.5l0.8-0.3l0.7 2l0.8-1.1l0.7 0.1l0.8 0.3l0.7 0.5l0.8 0.1l0.7 0.3l0.8-0.9l0.7 0.6l0.8 0l0.7-0.4l0.8-0.3l0.7 1.3l0.8-0.2l0.7 0.2l0.8 0l0.7 0l0.8 0l0.7 0l0.8 0l0.7 0l0.8 0l0.7 0l0.8 0l0.7 0l0.8-0.6l0.8 0.6l0.7 0l0.8-0.3l0.7 0.3l0.8 0l0.7 0l0.8 0l0.7 0l0.8-0.6l0.7 0.6l0.8 0l0.7-0.5l0.8 0.5l0.7-3l0.8 2.7l0.7 0.3l0.8 0l0.7 0l0.8 0l0.7 0l0.8 0l0.7 0l0.8 0l0.7 0l0.8 0l0.7 0l0.8 0l0.7 0l0.8 0l0.7 0l0.8 0l0.7 0l0.8 0l0.7 0l0.8 0l0.7 0l0.8-0.1l0.7-0.1l0.8 0.2l0.7 0l0.8-0.4l0.7 0.4l0.8-0.3l0.7-0.1l0.8 0.3l0.7-1.5l0.8-1l0.7 1.5l0.8-0.2l0.7-0.1l0.8-0.5l0.7-0.3l0.8 1.5l0.7 0.4l0.8-0.7l0.7 0.9l0.8-0.6l0.7-1l0.8 1.7l0.7-0.5l0.8 0l0.7 0.5l0.8 0l0.7 0l0.8 0l0.8-0.8l0.7-0.6l0.8 1.1l0.7 0.3l0.8-0.8l0.7 0.8l0.8-0.9l0.7 0.5l0.8-0.3l0.7 0.7l0.8-0.2l0.7-0.5l0.8-0.3l0.7 0l0.8-0.1l0.7 0.2l0.8 0.9l0.7-0.4l0.8 0.4l0.7 0l0.8 0l0.7 0l0.8 0l0.7 0l0.8 0l0.7 0l0.8 0M140.8 1865.2l0.7 0.2l0.8-1.3l0.7 1.9l0.8-1.5l0.7 0.9l0.8-2.4l0.7-3.6l0.8-3.8l0.7-5.1l0.8-4.5l0.7-6.3l0.8-4.4l0.7-4.3l0.8-2.4l0.7-0.4l0-12.3l0.3 11.4l0.3-13.6l0.2 12.4l0.1-12.9l0.3 13.1l0.3-13.1l0 12.1l0.3-12.6l0.3 15.2l0.2-13l0.1 14.2l0.3-13.9l0.3 12.6l0-15.1l0.3 13.5l0.3-14.1l0.2 13.9l0.1-11.4l0.3 12.2l0.3-15.5l0 14.2l0.2-14.2l0.3 15l0.3-17.4l0 16.8l0.3 17.1l0.1-55.7l0-31.5l0.1 31.5l0.1 55.7l0.1 7.8l0.1-1.4l0.7 4.1l0.7 1.4l0.8 2.4l0.8 2l0.7 0.4l0.8 0.5l0.7 0.3l0.8 0.1l0.7 0l0.8 1.5l0.7-0.7l0.8 0.1l0.7 0.2l0.8 1l0.7-0.4l0 0.2l0.2-0.3l0.1-4.1l0.1-1.8l0 2.8l0.1 2.5l0.3 1.5l0-1.2l0.7 0.9l0.8-1.8l0.7 0.4l0.8 1l0.7 1.3l0.8 0.1l0.7 0l0.8 2.9l0.7-1.2l0.8 1.3l0.7 0.8l0.8-1l0.1-2.4l0.2-7.1l0.1-22.2l0.1-11.1l0 11.5l0.1 19l0.1 4.9l0.2 3.9l0.6 1.1l0.7 0.9l0.8-1.3l0.7 0.3l0.8 1.3l0.7 0.4l0.8 0.1l0.7-0.1l0.8-1.6l0.7-5.5l0.8 5.2l0.7 0.2l0.8-0.4l0.7 0l0.8 0.4l0.7 0.6l0.8 1.1l0.7-0.5l0.8 0.5l0.7-1.6l0.8 0.2l0.7 0.7l0.8-1.5l0.7 2.7l0.8-0.2l0.7 0.6l0.8 0.4l0.7 0.7l0.8 0l0.7-0.1l0.8-0.4l0.7 0.5l0.8-1.4l0.7-0.8l0.8 0.9l0.7-0.3l0.8 0l0.7-1.4l0.8-0.9l0.8 2.5l0.7 0.3l0.8-1.9l0.7 0.1l0.8 1.1l0.7-0.3l0.8-0.4l0.7-1.4l0.8 0.9l0.7-3.3l0.8 1.6l0.7-0.6l0.5 1.3l0.2-1.5l0.1 0.4l0-0.9l0.1-1.4l0 0.7l0.1 2.7l0.3-0.2l0.2-0.4l0.8 0l0.7 0.2l0.8-1.3l0.7 0.4l0.8-0.5l0.7-0.1l0.8-0.9l0.7 0.8l0.8 0l0.7-3.8l0.8 3.5l0.7 0.9l0.8-0.2l0.7 0.8l0.8 1.3l0.7-1.1l0.8 0.6l0.7-2.3l0.8 3.3l0.7-1.4l0.8 1l0.7-0.5l0.8 0l0.7-0.6l0.8 0.1l0.7-1.3l0.8 0.5l0.7-0.7l0.8-0.9l0.7-0.6l0.8-1.6l0.7-0.4l0.8 0.2l0.7 0.9l0.8-1l0.7 0.3l0.8 0.1l0.7-0.9l0.8 0.5l0.7-1.2l0.8-0.2l0.7 0.3l0.8-0.2l0.7 0.7l0.8-2l0.7-1.1l0.8 1.3l0.7-1.4l0.8-0.1l0.7 0.7l0.8-0.2l0.8-0.3l0.7-0.1l0.8 0.6l0.7 0.2l0.8-0.4l0.7 0.5l0.8-1.4l0.7 1.7l0.8-0.7l0.7-0.4l0.8 0l0.7-1.3l0.8 1.3l0.7-0.8l0.8 1.7l0.7-0.2l0.8 2.4l0.7-0.9l0.8-0.1l0.7-1.1l0.8 0.2l0.7-1.5l0.8-0.6l0.7 1.3l0.8-2.3l0.7 1.2l0.8-0.5l0.7 0.2l0.6-1.6l0.2-1.6l0.1-3.1l0.1-9.2l0-3.2l0.1 2.5l0.1 7l0.2 6.2l0.1 0.1l0.8 1.1l0.7-0.1l0.8 0.3l0.7 0.6l0.8-0.3l0.7 0.5l0.8 0.4l0.7-1.8l0.8-1.1l0.7-0.4l0.8 0.2l0.7 0l0.8-0.9l0.7 0.7l0.8-1l0.7 0.4l0.8-0.7l0.7 1.7l0.8 0.5l0.7 0.5l0.8-0.9l0.7 0.6l0.8 1.3l0.7-0.5l0.8 0.2l0.7-0.6l0.8 0l0.7-0.4l0.8 0.4l0.7 0.6l0.8 0.6l0.7-1.2l0.8 0.4l0.7 1l0.8-1.9l0.8 1.2l0.7-1.4l0.8 0.9l0.7 0.7l0.8-0.3l0.7-0.4l0.8-0.6l0.7 0.5l0.8 0.5l0.7 1l0.8-2.6l0.7 3.9l0.8 0.9l0.7 0l0.8-0.4l0.7-0.3l0.8-0.7l0.7 0.3l0.8 0.9l0.7 0.6l0.8-1.2l0.7 0.3l0.8 0.8l0.7-0.4l0.8-0.5l0.7 1.1l0.8-0.9l0.7 1.5l0.8-1l0.7 0.7l0.8-1l0.7 0.2l0.8 0.2l0.7 1.4l0.8-0.7l0.7 0.1l0.8-0.3l0.7-0.7l0.8 1l0.7-0.7l0.8 1.2l0.7-0.8l0.8-0.4l0.7 0.4l0.8 0.8l0.7-1.2l0.8 0.4l0.7-1.4l0.8 0.2l0.7-3.9l0.8-0.3l0.7 1.8l0.8 0.1l0.7 0.4l0.8 0.5l0.7-0.1l0.8 1.2l0.7-0.6l0.8 0l0.7-0.6l0.8 1.3l0.7-0.2l0.8-1.8l0.7 1l0.8-0.3l0.7-1.3l0.8-0.5l0.8-0.8l0.7-0.8l0.8-0.5l0.7-2.1l0.8-0.7l0.7-0.5l0.8-2.1l0.7 0.2l0.8-2.6l0.7-1.5l0.8-1.4l0.7-2.9l0.8-0.7l0.7-0.8l0.8-1.2l0.7 0.3l0.8-1.3l0.7 3.1l0.8 11.2l0.7 7.9l0.8 1.9l0.7 1.4l0.8-0.6l0.7 0.7l0.8-0.7l0.7-0.1l0.8 0.1l0.7 0.1l0.8 0.5l0.7 0.1l0.8 2.1l0.7-1.2l0.8 1.6l0.7 0.5l0.8 0.2l0.7-0.2l0.8 0.6l0.7 0.6l0.8-0.5l0.7-0.3l0.8 0.6l0.7-1.2l0.8 1.2l0.7-0.5l0.8 0.8l0.7-0.4l0.8-0.3l0.7 0.5l0.8 0.5l0.7-0.3l0.8-2.1l0.7 0.7l0.8-2.4l0.7-1l0.8-0.7l0.7 0.6l0.8 0l0.7 0.4l0.8 1.3l0.7-0.2l0.8-0.1l0.7 1.3l0.8-0.4l0.7 1.3l0.8 0.6l0.8 0.3l0.7 0.7l0.8 0.9l0.7 1.1l0.8 0l0.7 0l0.8 0.3l0.7 1.1l0.8 0.3l0.7-0.4l0.8 1.2l0.7-0.1l0.8 0.2l0.7 0.5l0.8 0.3l0.7 0l0.8 0l0.7 0l0.8 0l0.7 0l0.8 0l0.7 0l0.8 0l0.7 0l0.8-0.4l0.7 0.4l0.8 0l0.7-0.1l0.8 0.1l0.7 0l0.8 0l0.7 0l0.8 0l0.7 0l0.8 0l0.7 0l0.8 0l0.7 0l0.8 0l0.7 0l0.8 0l0.7 0l0.8 0l0.7-0.2l0.8 0l0.7-0.6l0.8-1.2l0.7 0l0.8-2l0.7 1.5l0.8-1.1l0.7-1.2l0.8-0.4l0.7 0.3l0.8 0.6l0.7-1.7l0.8 0.8l0.7-0.4l0.8 1.4l0.7 0.8l0.8-0.8l0.7 0.6l0.8-0.3l0.7 0.8l0.8-1.4l0.8 1.7l0.7-0.2l0.8 0.3l0.7 1.6l0.8-1l0.7 1.1l0.8 1l0.7 0l0.8 0l0.7 0l0.8 0l0.7 0l0.8 0l0.7 0l0.8-0.2l0.7-2l0.8 1.9l0.7-0.2l0.8 0.5l0.7-0.5l0.8 0.5l0.7-0.2l0.8-0.7l0.7 0.9l0.8-1.6l0.7 1.4l0.8 0.2l0.7 0l0.8 0l0.7 0l0.8-0.2l0.7-1.1l0.8 0.1l0.7 1l0.8 0l0.7 0.2l0.8-0.9l0.7 0l0.8 0.6l0.7 0.2l0.8-1.5l0.7 0.6l0.8 0.4l0.7 0.2l0.8 0.4l0.7 0l0.8 0l0.7 0l0.8 0l0.7 0l0.8 0l0.7-0.1l0.8-0.2l0.7 0.3l0.8 0l0.7 0l0.8-0.2l0.7 0.2l0.8 0l0.7 0l0.8 0l0.7 0l0.8 0l0.7 0l0.8 0l0.8 0l0.7 0l0.8 0l0.7 0l0.8 0l0.7-1l0.8 0.4l0.7-0.8l0.8 1l0.7-0.6l0.8-2l0.7 1.7l0.8-1.4l0.7-0.2l0.8 0.7l0.7-0.7l0.8-1.3l0.7 1.5l0.8-1l0.7 1.1l0.8-0.2l0.7 1.1l0.8-0.1l0.7 0.6l0.8-0.7l0.7 1.4l0.8-0.2l0.7 0.4l0.8 0.1l0.7-0.9l0.8 0.1l0.7 0.5l0.8 0l0.7 0.5l0.8-0.6l0.7 0.2l0.8-1.1l0.7-0.1l0.8-1.2M128.2 1885.2l0.7 1.8l0.8-1.7l0.7 0l0.8-0.6l0.7-1.7l0.8-0.1l0.7-3.9l0.8-3.7l0.7-4.8l0.8-4.5l0.7-4l0.8-4.7l0.7-3.3l0.8-2.7l0.8-1.2l0-13.6l0.3 13.9l0.2-13l0.2 12.4l0.1-11.5l0.3 11l0.3-12l0.1 11.7l0.2-11.2l0.3 13.8l0.2-14.4l0.1 14.6l0.3-15l0.3 14.9l0.1-12.2l0.2 11.8l0.3-11.9l0.2 9.9l0.1-11.8l0.3 12.1l0.3-12.2l0.1 15l0.2-15.1l0.3 12l0.2-12.1l0 13.8l0.3 12.2l0.1-55.3l0-31.2l0.1 31.2l0.1 55.3l0.2 9l0 1.2l0.7 3.9l0.8 0.6l0.7 0.4l0.8 1.6l0.7 0.2l0.8 1.9l0.7-0.3l0.8 0.4l0.7 1.8l0.8-0.2l0.7-1.5l0.8-0.7l0.7 1.7l0.8 0.2l0.7-1.6l0-1.2l0.2-1.5l0.1-4.5l0.1-0.7l0 3l0.1 3.2l0.3 0.5l0 1.3l0.7 0.8l0.8-0.8l0.7 0l0.8 0.2l0.7 0.3l0.8 2.4l0.7-0.3l0.8 0.1l0.7 0.8l0.8-1.1l0.7 0.1l0.8 0.2l0.1-0.9l0.2-7.5l0.1-21.3l0.1-13.3l0 12.8l0.1 21.6l0.1 6.5l0.2 2l0.6-0.3l0.7 0.8l0.8 0.2l0.7-0.7l0.8-1.2l0.7 0l0.8 0.1l0.7-1.7l0.8-0.9l0.7 0.9l0.8-0.2l0.7 0.1l0.8 1.4l0.7 1l0.8-1.7l0.7 0.3l0.8 0.7l0.7-0.9l0.8 0.9l0.7-0.2l0.8 1.6l0.7-0.9l0.8 1.4l0.7-2.3l0.8 3.3l0.7-0.9l0.8 2.3l0.8-1.7l0.7 0.6l0.8 0.7l0.7-1l0.8 0.3l0.7 0.6l0.8-0.3l0.7 0.8l0.8 0.1l0.7-0.3l0.8-2.3l0.7 2.3l0.8 0.3l0.7 0l0.8-0.9l0.7-1.3l0.8-0.1l0.7-0.1l0.8-0.4l0.7-0.1l0.8-1l0.7 1.1l0.8 0.2l0.7 0.6l0.5-1.4l0.2-1.2l0.1 0.2l0-3.2l0.1 0.3l0 0.5l0.1 3.2l0.3 1l0.2-0.9l0.8 1.4l0.7-1.5l0.8 0.2l0.7-1.3l0.8-0.7l0.7 1.4l0.8 0.7l0.7 0l0.8-1.4l0.7-1.8l0.8 0.6l0.7-1.1l0.8 0.5l0.7 0.2l0.8-0.2l0.7 0.8l0.8-0.6l0.7-0.5l0.8-0.2l0.7-0.5l0.8 1.1l0.7 0l0.8-1.1l0.7 1.2l0.8-1.3l0.7 1.1l0.8 0.1l0.7-0.2l0.8 1.6l0.7-2l0.8 0l0.7-0.5l0.8-1.8l0.7-0.6l0.8 0.5l0.7-0.4l0.8 0l0.7 0l0.8 0.2l0.8-0.8l0.7-0.3l0.8 0.9l0.7-0.6l0.8 0.4l0.7 0.8l0.8-1l0.7-3l0.8 3.4l0.7 1.3l0.8 0.2l0.7 0.5l0.8 0.8l0.7-0.5l0.8-0.7l0.7-1.5l0.8-1.2l0.7-1.6l0.8 0l0.7 0.1l0.8 1.3l0.7 1l0.8-1.2l0.7-1.5l0.8 4l0.7 0.2l0.8 1.2l0.7-2.5l0.8 0l0.7-1.6l0.8 0.6l0.7-0.4l0.8-0.2l0.7 0.6l0.8 0.2l0.7 0.4l0.8-0.3l0.7 0.2l0.8-1.6l0.7-1.4l0.6-1.8l0.2-2.2l0.1-3.5l0.1-9l0-1.7l0.1 2.3l0.1 7.3l0.2 5.4l0.1-1.3l0.8 1.3l0.7-0.8l0.8-0.8l0.7 1l0.8 0.3l0.7-0.6l0.8 1l0.7-1.5l0.8 0.4l0.7-0.6l0.8 0.5l0.7-1.5l0.8 1.4l0.7-0.5l0.8 0.9l0.7-0.4l0.8-1.3l0.7 0.5l0.8-0.6l0.7 0.2l0.8 0.7l0.7-0.4l0.8-0.8l0.8-1.4l0.7-1.6l0.8 1.6l0.7 0l0.8 1.5l0.7 0.8l0.8-0.2l0.7 0.7l0.8 2.3l0.7-0.1l0.8 1.4l0.7-0.2l0.8 0.5l0.7 0.9l0.8-1.1l0.7 0.5l0.8-0.5l0.7 0.8l0.8-0.1l0.7 0.6l0.8-0.5l0.7-1.1l0.8 3.5l0.7-2.9l0.8 2.5l0.7-1.2l0.8 0.4l0.7-0.6l0.8-1.5l0.7 1.5l0.8-0.5l0.7 1.7l0.8-0.6l0.7-0.3l0.8 1.3l0.7-0.8l0.8 0.4l0.7-1.7l0.8 0.7l0.7-0.9l0.8-0.7l0.7 0.2l0.8 0.7l0.7-1.1l0.8 0.2l0.7 0.2l0.8 0.6l0.7-0.5l0.8 0.6l0.7-0.4l0.8-0.9l0.7 1.4l0.8-1.5l0.7-0.5l0.8 1l0.7-1.6l0.8 0.4l0.7 1.4l0.8 0.5l0.7 0.7l0.8-1l0.7 1.6l0.8-6.3l0.7 4l0.8 0.5l0.8 0l0.7-0.2l0.8 0l0.7 0.7l0.8-1.2l0.7-0.3l0.8-0.8l0.7-0.3l0.8-1.1l0.7-1l0.8 0.4l0.7-0.8l0.8-0.5l0.7 0.6l0.8-0.1l0.7-1.7l0.8 0.4l0.7-0.2l0.8-0.6l0.7-0.7l0.8 0.4l0.7-1.9l0.8-1.7l0.7-0.7l0.8-1.1l0.7-1.5l0.8-2l0.7-0.9l0.8 0.4l0.7-3.3l0.8 0.7l0.7 1.8l0.8 8.7l0.7 8l0.8 2.5l0.7-2l0.8 1.4l0.7 0.4l0.8 0.3l0.7 1l0.8 0.4l0.7-0.8l0.8 1l0.7-0.6l0.8 0.6l0.7 1.3l0.8-0.2l0.7-1.2l0.8 1.9l0.7 0l0.8-2.1l0.7 1l0.8-1.1l0.7 2.3l0.8-1.1l0.7-0.1l0.8-1.8l0.7 2.4l0.8-0.8l0.7-0.3l0.8 0.2l0.7 0.5l0.8 0.7l0.7 1.2l0.8-1.1l0.8-0.3l0.7 1.4l0.8 0.5l0.7-0.2l0.8 1l0.7 0.9l0.8-1.2l0.7 0l0.8 1.6l0.7-1.6l0.8 3.1l0.7-0.5l0.8-1.3l0.7 0.3l0.8 1.1l0.7 0.6l0.8 1l0.7 0.3l0.8 0.6l0.7-0.3l0.8-0.5l0.7-0.8l0.8-0.2l0.7 0.1l0.8 0.2l0.7-1.3l0.8 2.1l0.7 0l0.8 0.6l0.7-1l0.8-0.6l0.7 0.3l0.8 0.2l0.7-0.2l0.8-0.7l0.7 0.1l0.8-0.2l0.7-0.2l0.8 2.4l0.7 1.4l0.8-0.3l0.7 0.2l0.8-0.5l0.7-1.4l0.8 0.2l0.7 1.4l0.8 0.5l0.7-0.4l0.8 0.4l0.7 0l0.8 0l0.7 0l0.8 0l0.7 0l0.8-0.7l0.7 0.3l0.8-1.6l0.7 0.8l0.8-1.1l0.7-0.4l0.8 1.3l0.7-3.2l0.8 0.5l0.7 2.2l0.8-1.2l0.8-0.3l0.7 1.1l0.8-0.8l0.7-1.2l0.8-0.3l0.7 1.2l0.8 1l0.7-1.1l0.8 1.4l0.7 2.1l0.8-1.6l0.7 0.2l0.8 0.7l0.7 0.7l0.8-0.1l0.7 0.1l0.8 0l0.7 0l0.8 0l0.7 0l0.8-0.3l0.7 0.3l0.8 0l0.7-0.8l0.8 0.4l0.7 0.4l0.8-0.6l0.7 0.2l0.8 0.2l0.7-0.9l0.8 0.1l0.7 0.4l0.8 0.3l0.7-0.7l0.8-0.2l0.7-0.2l0.8 1.4l0.7 0l0.8-2.2l0.7 2.2l0.8 0l0.7 0l0.8-0.5l0.7-0.1l0.8-0.4l0.7-0.1l0.8-1.6l0.7 1.3l0.8-0.6l0.7 0.5l0.8-0.5l0.7 0.4l0.8 1.3l0.7-2.4l0.8 0.3l0.7-0.7l0.8 0.6l0.7 0.4l0.8 0.6l0.7-0.2l0.8 1.2l0.7-1.1l0.8-0.9l0.7 1.3l0.8-0.6l0.8 0.5l0.7 0.2l0.8 1.1l0.7-2.1l0.8 1.1l0.7 0.2l0.8-1.1l0.7 1l0.8-0.3l0.7-1.1l0.8 1.4l0.7-0.2l0.8 0.2l0.7-0.8l0.8 0.5l0.7-0.7l0.8 1.6l0.7-0.5l0.8-0.4l0.7-0.3l0.8-0.9l0.7 0.4l0.8-0.3l0.7 0.2l0.8 0.9l0.7-0.2l0.8-0.9l0.7 1.7l0.8 0.6l0.7 0l0.8 0l0.7 0l0.8-0.3l0.7 0.3l0.8-0.1l0.7 0.1l0.8 0l0.7 0l0.8 0l0.7 0l0.8-0.9l0.7-2.1l0.8 0.4l0.7 2l0.8-0.2l0.7 0.3l0.8 0.4l0.7-0.3l0.8-0.3l0.7-0.2l0.8-1.2l0.7 0.6l0.8-0.5" stroke="#111" stroke-width="2.3" fill="none" stroke-linejoin="round"/>
<polyline points="507.5,1919.7 115.6,1919.7 115.6,1696.7 241.5,1495.2 633.4,1495.2 633.4,1718.2 507.5,1919.7" stroke="#3a3a3a" stroke-width="1.7" fill="none" stroke-linejoin="round"/>
<path d="M115.6 1919.7v3M135.2 1919.7v3M154.8 1919.7v3M174.4 1919.7v3M194 1919.7v3M213.6 1919.7v3M233.2 1919.7v3M252.8 1919.7v3M272.4 1919.7v3M292 1919.7v3M311.5 1919.7v3M331.1 1919.7v3M350.7 1919.7v3M370.3 1919.7v3M389.9 1919.7v3M409.5 1919.7v3M429.1 1919.7v3M448.7 1919.7v3M468.3 1919.7v3M487.9 1919.7v3M507.5 1919.7v3M633.4 1718.2l3.5 1M620.8 1738.4l3.5 1M608.2 1758.5l3.5 1M595.6 1778.7l3.5 1M583 1798.8l3.5 1M570.5 1819l3.5 1M557.9 1839.1l3.5 1M545.3 1859.2l3.5 1M532.7 1879.4l3.5 1M520.1 1899.5l3.5 1" stroke="#3a3a3a" stroke-width="1.4" fill="none"/>
<text transform="translate(110.4 1916.9) scale(1 1.14)" text-anchor="end" font-size="24" font-weight="bold">0</text>
<text transform="translate(110.4 1864.1) scale(1 1.14)" text-anchor="end" font-size="24" font-weight="bold">1000</text>
<text transform="translate(110.4 1811.3) scale(1 1.14)" text-anchor="end" font-size="24" font-weight="bold">2000</text>
<text transform="translate(110.4 1758.5) scale(1 1.14)" text-anchor="end" font-size="24" font-weight="bold">3000</text>
<text transform="translate(110.4 1705.7) scale(1 1.14)" text-anchor="end" font-size="24" font-weight="bold">4000</text>
<text transform="translate(115.6 1943.7) scale(1 1.14)" text-anchor="middle" font-size="24" font-weight="bold">9000</text>
<text transform="translate(213.6 1943.7) scale(1 1.14)" text-anchor="middle" font-size="24" font-weight="bold">19000</text>
<text transform="translate(311.5 1943.7) scale(1 1.14)" text-anchor="middle" font-size="24" font-weight="bold">29000</text>
<text transform="translate(409.5 1943.7) scale(1 1.14)" text-anchor="middle" font-size="24" font-weight="bold">39000</text>
<text transform="translate(507.5 1943.7) scale(1 1.14)" text-anchor="middle" font-size="24" font-weight="bold">49000</text>
<text transform="matrix(0.95 0 -0.720 0.950 645.9 1730.7)" font-size="22" font-weight="bold">3</text>
<text transform="matrix(0.95 0 -0.720 0.950 633.3 1750.9)" font-size="22" font-weight="bold">6</text>
<text transform="matrix(0.95 0 -0.720 0.950 620.7 1771)" font-size="22" font-weight="bold">9</text>
<text transform="matrix(0.95 0 -0.720 0.950 608.1 1791.2)" font-size="22" font-weight="bold">12</text>
<text transform="matrix(0.95 0 -0.720 0.950 595.5 1811.3)" font-size="22" font-weight="bold">15</text>
<text transform="matrix(0.95 0 -0.720 0.950 583 1831.5)" font-size="22" font-weight="bold">18</text>
<text transform="matrix(0.95 0 -0.720 0.950 570.4 1851.6)" font-size="22" font-weight="bold">21</text>
<text transform="matrix(0.95 0 -0.720 0.950 557.8 1871.8)" font-size="22" font-weight="bold">24</text>
<text transform="matrix(0.95 0 -0.720 0.950 545.2 1891.9)" font-size="22" font-weight="bold">27</text>
<text transform="matrix(0.95 0 -0.720 0.950 532.6 1912)" font-size="22" font-weight="bold">30</text>
<text x="187.5" y="2000.5" font-size="30" font-weight="bold">Wavenumber(cm<tspan dy="-13" font-size="25">-1</tspan><tspan dy="13" dx="1" font-size="25">)</tspan></text>
<text transform="translate(38 1972) rotate(-90)" font-size="30" font-weight="bold">Radiation intensity(a.u.)</text>
<text transform="matrix(0.530 -0.848 1 0 571 1955)" font-size="30" font-weight="bold">Horizontal position(mm)</text>
<text transform="translate(488 1555.8) scale(1 1.09)" font-size="47.5" font-weight="bold">Case3</text>
<text x="279" y="1612.3" font-size="46" fill="#e3141b">H<tspan font-size="32" dy="9">2</tspan><tspan dy="-9">O</tspan></text>
<text x="391.8" y="1612.3" font-size="46" fill="#e3141b">CH<tspan font-size="30" dy="-17">*</tspan></text>
<text x="522.5" y="1612.3" font-size="46" fill="#e3141b">OH<tspan font-size="30" dy="-17">*</tspan></text>
<line x1="323.9" y1="1630.5" x2="289.8" y2="1675.3" stroke="#e3141b" stroke-width="3.8"/><polygon points="281.9,1685.6 284.2,1668.5 297.8,1678.8" fill="#e3141b"/>
<line x1="436.8" y1="1630.5" x2="403.4" y2="1675.2" stroke="#e3141b" stroke-width="3.8"/><polygon points="395.6,1685.6 397.8,1668.5 411.4,1678.7" fill="#e3141b"/>
<line x1="530.4" y1="1630.5" x2="496.3" y2="1675.3" stroke="#e3141b" stroke-width="3.8"/><polygon points="488.4,1685.6 490.7,1668.5 504.3,1678.8" fill="#e3141b"/>

</g>
<g>
<path d="M1106.8 650.2V426.8M1204.6 650.2V426.8M1302.3 650.2V426.8M1009.1 575.2H1400M1009.1 501H1400M883.2 851.7l125.9 -201.5M1009.1 650.2V426.8" stroke="#dadada" stroke-width="1.4" fill="none"/>
<path d="M1009.1 650.2V426.8M996.5 670.4V447M983.9 690.5V467.1M971.3 710.7V487.3M958.7 730.8V507.4M946.2 751V527.6M933.6 771.1V547.7M921 791.2V567.9M908.4 811.4V588M895.8 831.6V608.2M883.2 776.7l125.9 -201.5M883.2 702.5l125.9 -201.5M980.9 851.7l125.9 -201.5M1078.7 851.7l125.9 -201.5M1176.4 851.7l125.9 -201.5" stroke="#e6e6e6" stroke-width="1.2" fill="none"/>
<path d="M1009.1 649.1l0.5-0.3l0.5-0.3l0.5-0.2l0.5 0.2l0.5 0.2l0.5-0.1l0.5-0.4l0.5-0.7l0.5-0.5l0.5 0.2l0.5 0.4l0.5 0l0.5-0.2l0.5-0.4l0.5-0.3l0.5-0.3l0.5-0.9l0.5-1.3l0.5-1.1l0.5-1.1l0.5-1.4l0.5-1.3l0.5-1.1l0.5-1.6l0.5-1.7l0.5-1.2l0.5-1.1l0.5-1.4l0.5-1.2l0.5-0.8l0.5-1.7l0.5-2.5l0.5-1.9l0.5-1.5l0.5-1.3l0.5-0.6l0.5-1l0.5-2.3l0.5-2l0.5-1.1l0.5-0.7l0.5-0.2l0.5-1.6l0.5-2.2l0.5-0.8l0.5-1.1l0.5-2l0.5-1l0.5-0.8l0.5-2.3l0.5-2.4l0.5-1.3l0.5-0.2l0.5-0.1l0.5-0.3l0.5 0.5l0.5-0.9l0.5-2.7l0.5-2.3l0.5-2.1l0.5-1.9l0.5-0.1l0.5 0.8l0.5-0.9l0.5-1.8l0.5-2l0.5-3l0.5-2.2l0.5 0.6l0.5 1.7l0.5-0.6l0.5-2.5l0.5-2.3l0.5-2.8l0.5-1.9l0.5 0.6l0.5 0.6l0.5-1.2l0.5 1l0.5 2.5l0.5 0.5l0.5-1.1l0.5-4.6l0.5-5.8l0.5-1.6l0.5 2.2l0.5 0.8l0.5-2.4l0.5-1.3l0.5-0.7l0.5-2l0.5-0.5l0.5 1.2l0.5 0.1l0.5 0.4l0.5-0.7l0.5-3.2l0.6-0.3l0.5 1.3l0.5-3l0.5-4.8l0.5-1.1l0.5 1.9l0.5 0.7l0.5-0.9l0.5-2.7l0.5-2.8l0.5 1.6l0.5 2.7l0.5-2.2l0.5-2.3l0.5 1.6l0.5-1.2l0.5-5.5l0.5-3.3l0.5 0.4l0.5 1l0.5-0.3l0.5 1.1l0.5 1.1l0.5-0.5l0.5 1.1l0.5-0.5l0.5-2.3l0.5-1.1l0.5-2.5l0.5-1.9l0.5 2.3l0.5 1.2l0.5-3.6l0.5-2.7l0.5-0.1l0.5 0.5l0.5 3.1l0.5 2.4l0.5-4.3l0.5-5.2l0.5 1l0.5 5.3l0.5 0.1l0.5-6l0.5-3.5l0.5-0.8l0.5-1l0.5 1.5l0.5 2.9l0.5-2l0.5-4.3l0.5 0.6l0.5 4.8l0.5 3.9l0.5-2l0.5-7l0.5-3.3l0.5 2.4l0.5 0.6l0.5-3.6l0.5-1.5l0.5 2l0.5 1.5l0.5 2.2l0.5 3.9l0.5-1.6l0.5-4.1l0.5 2.3l0.5 2.7l0.5-4.8l0.5-4.9l0.5 0.7l0.5 1.1l0.5-1l0.5 2.5l0.5 3.8l0.5-0.7l0.5-3.4l0.5-4.3l0.5-2.5l0.5 3l0.5 6.9l0.5 3.2l0.5-1.1l0.5-3.7l0.5-6.4l0.5-2.4l0.5 1.8l0.5 0.2l0.5-1l0.5-0.2l0.5-1.6l0.5-2.2l0.5 0.4l0.5 1.9l0.5-0.4l0.5 0.6l0.5 5.5l0.5 3.2l0.5-2.7l0.5-0.4l0.5 0.3l0.5-4.3l0.5-1.9l0.5 5.4l0.5 5.2l0.5 0l0.5-1l0.5-3.3l0.5-4.2l0.5 0l0.5 1.2l0.5-0.5l0.5-0.1l0.5-0.4l0.5 0.1l0.5 4.9l0.5 4.1l0.5-5.2l0.5-7.1l0.5 0.7l0.5 6.3l0.5 2.1l0.5-2.7l0.5 2.8l0.5 4.7l0.5-0.3l0.5-2.6l0.5-3.9l0.5-0.7l0.5 4.6l0.5 4.9l0.5 5.2l0.5 6.6l0.5 0.7l0.5-4.9l0.5-1.8l0.5 3l0.5 0l0.5-6.4l0.5-5.1l0.5-0.1l0.5-0.3l0.5-1.4l0.5 2.2l0.5 4.4l0.5 2.6l0.5 0.3l0.5-4.2l0.5-2.2l0.5 2.4l0.5-2.1l0.5-3.6l0.5 1l0.5-0.7l0.5-3.3l0.5 1.1l0.5 6l0.5 5l0.5 3.7l0.5 7.2l0.5 5.7l0.5-1.5l0.5-3l0.5-2.6l0.5-4.6l0.5-4.1l0.5-2.8l0.5-4.6l0.5-4.2l0.5 1.3l0.5 3.4l0.5 0.3l0.5-2.2l0.5-7.3l0.5-7.4l0.5-0.1l0.5 5.5l0.5 4l0.5 1.1l0.5 0.3l0.5 1.3l0.5 6.6l0.5 12.1l0.5 9.9l0.5 3.9l0.5 1.3l0.5-3.3l0.5-6.7l0.5-4.3l0.5-5.4l0.5-9l0.5-4.5l0.5 1.5l0.5-1.1l0.6-1.6l0.5 4.8l0.5 4.9l0.5 6.2l0.5 18.3l0.5 28.7l0.5 27.7l0.5 18.8l0.5 10.4l0.5 5.1l0.5 2.4l0.5 1.2l0.5 0.7l0.5 0.5l0.5 0.4l0.5 0.3l0.5 0.3l0.5 0.4l0.5 0.3l0.5 0.2l0.5 0.3l0.5 0.2l0.5 0.2l0.5 0.1l0.5 0.1l0.5 0l0.5 0.1l0.5 0.1l0.5 0l0.5 0.2l0.5 0.1l0.5 0.2l0.5 0.2l0.5 0.2l0.5 0.2l0.5 0.1l0.5 0.1l0.5 0l0.5 0l0.5 0l0.5 0l0.5-0.1l0.5 0l0.5 0.1l0.5 0l0.5 0l0.5 0l0.5 0l0.5 0l0.5 0l0.5 0l0.5-0.1l0.5 0l0.5 0l0.5-0.1l0.5 0l0.5 0.1l0.5 0l0.5 0.1l0.5 0l0.5 0l0.5 0l0.5 0l0.5-0.1l0.5-0.1l0.5-0.1l0.5 0l0.5-0.1l0.5-0.1l0.5 0l0.5 0l0.5 0l0.5 0l0.5 0l0.5 0.1l0.5 0l0.5 0.1l0.5 0.1l0.5 0.1l0.5 0.1l0.5 0.1l0.5 0l0.5 0.1l0.5 0l0.5 0l0.5 0l0.5 0l0.5 0l0.5 0l0.5 0l0.5-0.1l0.5-0.1l0.5-0.1l0.5-0.2l0.5-0.1l0.5-0.1l0.5 0l0.5 0l0.5 0.1l0.5 0.1l0.5 0.1l0.5 0l0.5 0l0.5 0l0.5 0l0.5-0.1l0.5 0l0.5-0.1l0.5 0l0.5 0.1l0.5 0.1l0.5 0.1l0.5 0.1l0.5 0l0.5 0l0.5 0l0.5-0.1l0.5 0l0.5-0.1l0.5 0l0.5 0.1l0.5 0l0.5 0l0.5 0.1l0.5 0l0.5 0l0.5-0.1l0.5 0l0.5-0.1l0.5-0.2l0.5-0.1l0.5-0.1l0.5-0.1l0.5-0.2l0.5-0.1l0.5-0.1l0.5-0.1l0.5 0l0.5 0l0.5 0l0.5 0l0.5 0l0.5 0l0.5-0.1l0.5 0l0.5-0.1l0.5 0l0.5 0.1l0.5 0l0.5 0.1l0.5 0l0.5 0l0.5 0l0.5 0l0.5 0l0.5-0.1l0.5 0l0.5-0.1l0.5-0.1l0.5-0.1l0.5 0l0.5-0.1l0.5 0l0.5 0l0.5 0l0.5-0.1l0.5 0l0.5-0.1l0.5-0.1l0.5-0.1l0.5 0l0.5-0.1l0.5-0.1l0.5-0.1l0.5-0.1l0.5-0.1l0.5-0.2l0.5-0.1l0.5-0.1l0.5 0l0.5 0.2l0.5 0.1l0.5 0.1l0.5 0l0.5-0.1l0.5-0.2l0.5-0.2l0.5-0.4l0.5-0.4l0.5-0.5l0.5-0.8l0.5-0.5l0.5 0.1l0.5 0.7l0.5 0.6l0.5 0.3l0.6 0.2l0.5 0.2l0.5 0.1l0.5 0.1l0.5 0.1l0.5 0l0.5 0.1l0.5 0l0.5-0.1l0.5 0l0.5-0.1l0.5-0.2l0.5-0.1l0.5-0.2l0.5-0.2l0.5-0.3l0.5-0.4l0.5-0.6l0.5-0.7l0.5-0.1l0.5 0.7l0.5 0.7l0.5 0.4l0.5 0.2l0.5 0l0.5 0l0.5 0l0.5 0l0.5 0l0.5 0l0.5-0.1l0.5-0.1l0.5 0l0.5-0.2l0.5-0.1l0.5-0.3l0.5-0.4l0.5-0.7l0.5-0.6l0.5 0.1l0.5 0.4l0.5 0.4l0.5 0.1l0.5 0.1l0.5 0.1l0.5 0l0.5 0l0.5 0.1l0.5 0l0.5 0l0.5 0l0.5-0.1l0.5-0.2l0.5-0.4l0.5-0.7l0.5-0.9l0.5-0.2l0.5 0.9l0.5 1l0.5 0.6l0.5 0.2l0.5 0l0.5-0.1l0.5-0.1l0.5-0.2l0.5-0.2l0.5-0.4l0.5-0.4l0.5-0.8l0.5-0.7l0.5 0.1l0.5 0.8l0.5 0.6l0.5 0.4l0.5 0.1l0.5 0l0.5 0l0.5-0.2l0.5-0.3l0.5-0.4l0.5-0.6l0.5-1l0.5-1.4l0.5-0.8l0.5 0.7l0.5 1.4l0.5 1.1l0.5 0.7l0.5 0.5l0.5 0.3l0.5 0.1l0.5 0.1l0.5 0.1l0.5 0l0.5 0l0.5 0.1l0.5 0l0.5 0.1l0.5-0.1l0.5 0l0.5 0l0.5 0l0.5 0l0.5 0.1l0.5 0.1l0.5 0.1l0.5 0.2l0.5 0.1l0.5 0l0.5 0l0.5 0.1l0.5 0l0.5 0.1l0.5 0.2l0.5 0.1l0.5 0.1l0.5 0.1l0.5 0.1l0.5 0.1l0.5 0.2l0.5 0.2l0.5 0.3l0.5 0.3l0.5 0.3l0.5 0.2l0.5 0.2l0.5 0.2l0.5 0.1l0.5 0.1l0.5 0l0.5 0.1l0.5 0.1l0.5 0.1l0.5 0l0.5 0.1l0.5 0l0.5 0l0.5 0l0.5 0l0.5 0.2l0.5 0.1l0.5 0.2l0.5 0.2l0.5 0.1l0.5 0.1l0.5 0l0.5 0l0.5-0.1l0.5-0.1l0.5 0l0.5 0l0.5 0l0.5 0.1l0.5 0.1l0.5 0l0.5 0.1l0.5 0.1l0.5 0l0.5 0.1l0.5 0.1l0.5 0l0.5 0.1l0.5 0l0.5 0.1l0.5 0l0.5 0l0.5 0l0.5 0l0.5 0l0.5 0l0.5 0l0.5 0l0.5 0l0.5 0l0.5 0l0.5 0l0.5 0l0.5-0.1l0.5 0l0.5 0l0.5 0l0.5 0.1l0.5 0.1l0.5 0.1l0.5 0.1l0.5 0.1l0.5 0l0.5 0l0.5-0.1l0.5 0l0.5 0l0.5-0.1l0.5 0l0.5 0l0.5-0.1l0.6 0l0.5 0.1l0.5 0l0.5 0l0.5 0l0.5-0.1l0.5 0l0.5-0.1l0.5-0.1l0.5-0.1l0.5 0l0.5-0.1l0.5 0l0.5 0l0.5 0l0.5 0l0.5 0l0.5 0l0.5 0.1l0.5 0.1l0.5 0.2l0.5 0.1l0.5 0.2l0.5 0.1l0.5 0.1l0.5 0.1l0.5 0l0.5 0l0.5 0l0.5-0.1l0.5-0.1l0.5-0.1l0.5-0.1l0.5 0l0.5-0.1l0.5 0l0.5 0l0.5 0.1l0.5 0l0.5 0l0.5 0l0.5-0.1l0.5 0l0.5-0.1l0.5-0.1l0.5 0l0.5-0.1l0.5 0l0.5 0l0.5 0l0.5 0l0.5 0l0.5 0l0.5 0.1l0.5 0.1l0.5 0.1l0.5 0.1l0.5 0.1l0.5 0.1l0.5 0l0.5-0.1l0.5-0.1l0.5-0.2l0.5-0.1l0.5-0.1l0.5-0.2l0.5 0l0.5-0.1l0.5-0.1l0.5 0l0.5 0l0.5 0.1l0.5 0l0.5 0.1l0.5 0.1l0.5 0.1l0.5 0l0.5 0l0.5 0l0.5 0l0.5 0l0.5-0.1l0.5 0l0.5 0l0.5 0l0.5 0.1l0.5 0.1l0.5 0.1l0.5 0.2l0.5 0.1l0.5 0.1l0.5 0.1l0.5 0l0.5 0.1l0.5-0.1l0.5 0l0.5-0.1l0.5-0.1M996.5 666.8l0.5 0.1l0.5 0l0.5-0.2l0.5 0.1l0.5 0.1l0.5-0.2l0.5 0l0.5 0l0.5-0.1l0.5 0.1l0.5-0.3l0.5-0.5l0.5 0.2l0.5 0.3l0.5-0.3l0.5-0.3l0.5-0.3l0.5-0.2l0.5-0.3l0.5 0.1l0.5 0.1l0.5-0.1l0.5-0.2l0.5-0.1l0.5 0l0.5-0.3l0.5-0.6l0.5-0.4l0.5-0.2l0.5-0.5l0.5-0.8l0.5-0.4l0.5-0.8l0.5-1l0.5-0.9l0.5-1.2l0.5-1.8l0.5-1.7l0.5-1.4l0.5-1.6l0.5-1.6l0.5-1.2l0.5-0.5l0.5-0.7l0.5-1.3l0.5-1.5l0.5-2.2l0.5-2.2l0.5-1.2l0.5-0.6l0.5-1.9l0.5-2.6l0.5-1l0.5-1l0.5-2.1l0.5-2.4l0.5-2.7l0.5-1.9l0.5-0.3l0.5 0.4l0.5-0.9l0.5-1l0.5 0.5l0.5-0.7l0.5-3.1l0.5-4l0.5-2.7l0.5 0.2l0.5-0.3l0.5-3.1l0.5-2.9l0.5-1l0.5 0.2l0.5-0.1l0.5-1.1l0.5-1.8l0.5-2.7l0.5-1.3l0.6 2l0.5 1.3l0.5-2.4l0.5-3.6l0.5-3.2l0.5-2.1l0.5 0.4l0.5 2.6l0.5 1l0.5-1.8l0.5 0.2l0.5 0.4l0.5-1.3l0.5-0.9l0.5-3.8l0.5-4.2l0.5-0.2l0.5-0.6l0.5-4.3l0.5-3.2l0.5-0.4l0.5 0l0.5-0.2l0.5-0.4l0.5-2.5l0.5-2.4l0.5 1.3l0.5 2.1l0.5-2.4l0.5-3.8l0.5-1.6l0.5-1l0.5 0.2l0.5 3.5l0.5 1.2l0.5-3.8l0.5-1.2l0.5 1.5l0.5-3.2l0.5-4.2l0.5 1.9l0.5 4.6l0.5-1.4l0.5-4.8l0.5-2.7l0.5-2.1l0.5 0l0.5 2.1l0.5-1.4l0.5-3.2l0.5 0.3l0.5 1.1l0.5 1.4l0.5 3.1l0.5-1.8l0.5-4.3l0.5 0l0.5-0.9l0.5-2.6l0.5 1.7l0.5-0.2l0.5-3.6l0.5 1l0.5 0.2l0.5-6.2l0.5-5.2l0.5 1.2l0.5 5l0.5 0.8l0.5-1.9l0.5 2.7l0.5 0.4l0.5-6.3l0.5-4.1l0.5 0.9l0.5 0.9l0.5-2l0.5-3.8l0.5-1.6l0.5 1.9l0.5 1l0.5-0.9l0.5 3.1l0.5 4.9l0.5-2.7l0.5-5l0.5 1.6l0.5 2.7l0.5-0.5l0.5 0.3l0.5-2.5l0.5-5.2l0.5-0.2l0.5 4.2l0.5-0.1l0.5-3.9l0.5-0.4l0.5 1.1l0.5-0.4l0.5 3.3l0.5 3.4l0.5-3.5l0.5-2.9l0.5 3.5l0.5 2.6l0.5-0.6l0.5-1.4l0.5-4.4l0.5-4.4l0.5 0.1l0.5 3.9l0.5 2.1l0.5-1.3l0.5 1.7l0.5 4.1l0.5-1.3l0.5-2.1l0.5 1.7l0.5-1.7l0.5-2.7l0.5 1.1l0.5-0.1l0.5-1l0.5 0.9l0.5-1.2l0.5-2.8l0.5 0.5l0.5 3.4l0.5 1.3l0.5 0.5l0.5 3.8l0.5 1.8l0.5-2.8l0.5-1.4l0.5-1l0.5-2.2l0.5 1.8l0.5 6l0.5 1.4l0.5-3.7l0.5-3l0.5-3l0.5 0.8l0.5 5.2l0.5 1.2l0.5-3.1l0.5 1.7l0.5 4.1l0.5 1.1l0.5 3.8l0.5 4.7l0.5 0.2l0.5 2l0.5 6.5l0.5 2.6l0.5-2.7l0.5-5.1l0.5-6.5l0.5-4.2l0.5 0.7l0.5 3.6l0.5 1.5l0.5 0.6l0.5-1.3l0.5-5.3l0.5-1.1l0.5 4.9l0.5 0.7l0.5-3.3l0.5 1.2l0.5 0.3l0.5-3l0.5 2.1l0.5 2.1l0.5-3.7l0.5-0.9l0.5 3.5l0.5 2l0.5 2.3l0.5 7.5l0.5 8.5l0.5 0.8l0.5-4.5l0.5-2.2l0.5-1.6l0.5-4.2l0.5-3.9l0.5-4.1l0.5-4.4l0.5-1.1l0.5-2.9l0.5-6.4l0.5-3.3l0.5 3l0.5 5.3l0.6 3.5l0.5-1.1l0.5-4.3l0.5 1.6l0.5 8l0.5 4.4l0.5 0.2l0.5 3.7l0.5 7.4l0.5 6.2l0.5 4.3l0.5 3l0.5-3.1l0.5-8.6l0.5-9.3l0.5-9.4l0.5-6.3l0.5-1.5l0.5-1l0.5-3.1l0.5 1l0.5 10.6l0.5 17.1l0.5 19.1l0.5 24.9l0.5 26.5l0.5 19l0.5 10.5l0.5 5.3l0.5 2.6l0.5 1.3l0.5 0.7l0.5 0.6l0.5 0.3l0.5 0.4l0.5 0.3l0.5 0.3l0.5 0.3l0.5 0.2l0.5 0.2l0.5 0.2l0.5 0.2l0.5 0.1l0.5 0.2l0.5 0.1l0.5 0.1l0.5 0.1l0.5 0.1l0.5 0.1l0.5 0l0.5 0.1l0.5 0l0.5 0l0.5 0l0.5 0.1l0.5 0.1l0.5 0.1l0.5 0.2l0.5 0.1l0.5 0l0.5 0.1l0.5 0.1l0.5 0.1l0.5 0.1l0.5 0.1l0.5 0l0.5-0.1l0.5-0.1l0.5-0.2l0.5-0.2l0.5-0.2l0.5-0.1l0.5-0.1l0.5-0.1l0.5 0.1l0.5 0l0.5 0.1l0.5 0.1l0.5 0.1l0.5 0.1l0.5 0.2l0.5 0.1l0.5 0.1l0.5 0.1l0.5 0.1l0.5 0l0.5 0l0.5 0l0.5 0l0.5 0l0.5 0l0.5-0.1l0.5 0l0.5 0l0.5-0.1l0.5 0l0.5 0l0.5-0.1l0.5 0l0.5 0l0.5 0l0.5 0l0.5 0l0.5 0l0.5 0l0.5 0l0.5-0.1l0.5 0l0.5 0l0.5 0l0.5 0l0.5 0l0.5 0l0.5 0l0.5 0l0.5 0l0.5 0l0.5 0l0.5-0.1l0.5 0l0.5 0.1l0.5 0l0.5 0l0.5 0l0.5 0l0.5 0l0.5 0l0.5 0.1l0.5 0l0.5 0.1l0.5 0.1l0.5 0l0.5-0.1l0.5 0l0.5-0.1l0.5 0l0.5 0l0.5 0l0.5 0.1l0.5 0l0.5 0l0.5 0l0.5-0.1l0.5-0.2l0.5-0.2l0.5-0.1l0.5-0.2l0.5-0.1l0.5 0l0.5 0l0.5 0.1l0.5 0.1l0.5 0.1l0.5 0.1l0.5 0.1l0.5 0.1l0.5 0.1l0.5 0l0.5-0.1l0.5-0.1l0.5-0.1l0.5-0.1l0.5-0.1l0.5 0l0.5 0l0.5 0l0.5 0l0.5 0l0.5 0l0.5 0l0.5-0.1l0.5 0l0.5-0.1l0.5-0.2l0.5-0.2l0.5-0.2l0.5-0.1l0.5-0.1l0.5-0.1l0.5 0l0.5 0l0.5 0l0.5 0l0.5 0l0.5-0.1l0.5 0l0.5-0.1l0.5-0.1l0.5 0l0.5 0l0.5 0l0.5 0.1l0.5 0l0.5 0l0.5 0l0.6-0.1l0.5-0.2l0.5-0.1l0.5-0.2l0.5-0.1l0.5-0.1l0.5-0.1l0.5-0.1l0.5-0.1l0.5-0.1l0.5-0.2l0.5-0.2l0.5-0.4l0.5-0.6l0.5-0.7l0.5-0.5l0.5 0.3l0.5 0.8l0.5 0.7l0.5 0.6l0.5 0.3l0.5 0.2l0.5 0.1l0.5 0.1l0.5-0.1l0.5-0.1l0.5-0.1l0.5-0.2l0.5-0.1l0.5-0.2l0.5-0.2l0.5-0.1l0.5-0.2l0.5-0.2l0.5-0.2l0.5-0.2l0.5-0.3l0.5-0.6l0.5-0.6l0.5-0.1l0.5 0.7l0.5 0.7l0.5 0.5l0.5 0.2l0.5 0l0.5 0l0.5 0l0.5-0.1l0.5-0.1l0.5 0l0.5-0.1l0.5 0l0.5 0l0.5 0l0.5-0.1l0.5-0.2l0.5-0.3l0.5-0.7l0.5-0.5l0.5 0.2l0.5 0.5l0.5 0.3l0.5 0.2l0.5 0l0.5-0.1l0.5 0l0.5-0.1l0.5 0l0.5 0l0.5 0l0.5-0.1l0.5-0.1l0.5-0.3l0.5-0.6l0.5-0.9l0.5-1.1l0.5-0.4l0.5 0.8l0.5 0.9l0.5 0.6l0.5 0.3l0.5 0.2l0.5 0l0.5-0.1l0.5-0.1l0.5-0.1l0.5-0.3l0.5-0.5l0.5-0.7l0.5-0.8l0.5 0l0.5 0.7l0.5 0.6l0.5 0.4l0.5 0.2l0.5 0.1l0.5 0.1l0.5 0l0.5-0.1l0.5-0.2l0.5-0.5l0.5-0.9l0.5-1.3l0.5-0.8l0.5 0.7l0.5 1.3l0.5 1.1l0.5 0.7l0.5 0.4l0.5 0.3l0.5 0.2l0.5 0.1l0.5 0l0.5 0l0.5 0l0.5 0.1l0.5 0l0.5 0.1l0.5 0l0.5 0.1l0.5 0.1l0.5 0l0.5 0l0.5 0l0.5 0l0.5 0l0.5 0l0.5 0l0.5 0l0.5 0.1l0.5 0.1l0.5 0.1l0.5 0.1l0.5 0.1l0.5 0.2l0.5 0.1l0.5 0.1l0.5 0.1l0.5 0.1l0.5 0.2l0.5 0.1l0.5 0.2l0.5 0.1l0.5 0.1l0.5 0.1l0.5 0.2l0.5 0.1l0.5 0.1l0.5 0.2l0.5 0.1l0.5 0.2l0.5 0.2l0.5 0.1l0.5 0.2l0.5 0.1l0.5 0.2l0.5 0.2l0.5 0.1l0.5 0.1l0.5 0.1l0.5 0l0.5 0l0.5 0l0.5 0l0.5 0l0.5 0.1l0.5 0.1l0.5 0.2l0.5 0.1l0.5 0.2l0.5 0.1l0.5 0.1l0.5 0l0.5 0l0.5-0.1l0.5-0.2l0.5-0.1l0.5-0.1l0.5-0.1l0.5-0.1l0.5 0l0.5 0.1l0.5 0.1l0.5 0.1l0.5 0.1l0.5 0.1l0.5 0l0.5 0l0.5 0l0.5 0l0.5 0.1l0.5 0l0.5 0.1l0.5 0l0.5 0l0.6 0.1l0.5 0l0.5 0l0.5 0l0.5 0.1l0.5 0l0.5 0.1l0.5 0l0.5 0l0.5 0l0.5 0l0.5 0l0.5-0.1l0.5 0l0.5 0l0.5 0l0.5 0l0.5 0l0.5 0l0.5-0.1l0.5 0l0.5 0.1l0.5 0l0.5 0l0.5-0.1l0.5-0.1l0.5-0.1l0.5-0.2l0.5-0.1l0.5 0l0.5 0l0.5 0l0.5 0.1l0.5 0.1l0.5 0l0.5 0.1l0.5 0l0.5 0l0.5 0.1l0.5 0l0.5 0.1l0.5 0l0.5 0.1l0.5 0l0.5 0l0.5-0.1l0.5-0.1l0.5-0.1l0.5-0.1l0.5 0l0.5 0l0.5 0.2l0.5 0.1l0.5 0.2l0.5 0.1l0.5 0l0.5 0l0.5-0.1l0.5-0.1l0.5-0.1l0.5-0.2l0.5-0.1l0.5-0.1l0.5 0l0.5 0.1l0.5 0.1l0.5 0.1l0.5 0.1l0.5 0.1l0.5 0l0.5 0l0.5-0.1l0.5-0.1l0.5-0.1l0.5-0.1l0.5 0l0.5 0l0.5 0l0.5 0l0.5 0l0.5 0l0.5-0.1l0.5 0l0.5-0.1l0.5 0.1l0.5 0l0.5 0.1l0.5 0l0.5 0l0.5 0l0.5-0.1l0.5-0.1l0.5-0.1l0.5-0.1l0.5 0l0.5 0l0.5 0l0.5 0.1l0.5 0l0.5 0.1l0.5 0l0.5-0.1l0.5 0l0.5 0.1l0.5 0l0.5 0.1l0.5 0.2l0.5 0.1l0.5 0.2l0.5 0l0.5 0.1l0.5 0l0.5-0.1l0.5-0.1l0.5-0.1l0.5 0l0.5-0.1l0.5 0M983.9 683.5l0.5-0.1l0.5 0l0.5 0l0.5-0.2l0.5 0.1l0.5 0.5l0.5 0.3l0.5 0.1l0.5 0.1l0.5-0.4l0.5-0.4l0.5 0.2l0.5-0.2l0.5-0.4l0.5 0.2l0.5 0.4l0.5 0l0.5-0.1l0.5 0.1l0.5-0.6l0.5-0.9l0.5-0.5l0.5-0.2l0.5 0l0.5 0.3l0.5 0l0.5-0.1l0.5 0l0.5 0.2l0.5 0l0.5-0.2l0.5-0.1l0.5-0.3l0.5-0.6l0.5-0.7l0.5-0.7l0.5-0.2l0.5-0.3l0.5-0.2l0.5 0.1l0.5 0.2l0.5 0l0.5-0.4l0.5-0.5l0.5-0.5l0.5-0.5l0.5-0.4l0.5-0.8l0.5-0.8l0.5-0.6l0.5-1l0.5-1.4l0.5-0.9l0.5-1l0.5-1l0.5-1.2l0.5-2.3l0.5-1.8l0.6-0.8l0.5-1.9l0.5-2.3l0.5-1.1l0.5-1.1l0.5-1.9l0.5-1.2l0.5-0.9l0.5-2.4l0.5-2.1l0.5-0.6l0.5-1.3l0.5-2.5l0.5-1.8l0.5-1.7l0.5-1.9l0.5-0.6l0.5 0.2l0.5-1.6l0.5-1.8l0.5-0.6l0.5-1.7l0.5-1.8l0.5-1.1l0.5-2.7l0.5-2.7l0.5-0.5l0.5-0.9l0.5-2.3l0.5-1.8l0.5-1.5l0.5-1.4l0.5 0.5l0.5-0.3l0.5-4l0.5-4.3l0.5-1.6l0.5 0.9l0.5 0.9l0.5-1l0.5-0.4l0.5-0.2l0.5-1.8l0.5-2l0.5-3l0.5-3l0.5-0.2l0.5 1.2l0.5-0.9l0.5-0.7l0.5 0.5l0.5-2.9l0.5-4.8l0.5-0.8l0.5 2.3l0.5 0.1l0.5-1.4l0.5 0.2l0.5-2.8l0.5-4.6l0.5 0.1l0.5 2.3l0.5-1.2l0.5-1.1l0.5 1.2l0.5-2.7l0.5-3.7l0.5 0.1l0.5-1.2l0.5-3.4l0.5 0.3l0.5 0.1l0.5-3.3l0.5-1.6l0.5 0.5l0.5-1l0.5-1.7l0.5-2.6l0.5-3l0.5-0.5l0.5 2.4l0.5 1.1l0.5-0.7l0.5-1.5l0.5-2.6l0.5-0.1l0.5 2.7l0.5-0.9l0.5-2.4l0.5 2.3l0.5 0.7l0.5-3.6l0.5-0.5l0.5-0.2l0.5-4.6l0.5-1.8l0.5 4.6l0.5 1.6l0.5-5l0.5-1.8l0.5 1.5l0.5-2.2l0.5-1.7l0.5 4.7l0.5 3.7l0.5-3.3l0.5-3l0.5-2.3l0.5-4l0.5-0.2l0.5 5.7l0.5 4.3l0.5-1.8l0.5-3.9l0.5-4.2l0.5-2.2l0.5 1.9l0.5 3.8l0.5 3.7l0.5 2.2l0.5-3.8l0.5-5.9l0.5-0.3l0.5 5l0.5 3.8l0.5 1.5l0.5 1.2l0.5-4l0.5-5.1l0.5 1.8l0.5 3.3l0.5-3l0.5-3.1l0.5 4.2l0.5 5l0.5-2.8l0.5-3.6l0.5 0.7l0.5 2l0.5 1.6l0.5-3.1l0.5-5.1l0.5 0.5l0.5 5.1l0.5 1.3l0.5-2.7l0.5 1.6l0.5 3.1l0.5-0.6l0.5 1.1l0.5 2.1l0.5-2.6l0.5-0.7l0.5 2.8l0.5-1.3l0.5-2.5l0.5-0.3l0.5-2.1l0.5-1.8l0.5 0.1l0.5-1.6l0.5 0.2l0.5 4.1l0.5 1.3l0.5-2.9l0.5 0.7l0.5 4.1l0.5 0.5l0.5 0.9l0.5 8l0.5 6.6l0.5-1.7l0.5-2.1l0.5 2.5l0.5 2.3l0.5-0.8l0.5-1.1l0.5-2l0.5-4l0.5-1.2l0.5 2.4l0.5 3l0.5 1.4l0.5-4.2l0.5-6.1l0.5 0.5l0.5 5.7l0.5 0.4l0.5-5l0.5-2.1l0.5-1.6l0.5-1.7l0.5 1.6l0.5 0.1l0.5-2.2l0.6 0.9l0.5 5.9l0.5 7.4l0.5 4.4l0.5 1.4l0.5 0.5l0.5 1.9l0.5 1.7l0.5-2l0.5-5.1l0.5-4.7l0.5-2.1l0.5-0.1l0.5 0.4l0.5-1.2l0.5-6.8l0.5-7.4l0.5 0.4l0.5 4.6l0.5 1.6l0.5 0.5l0.5-2.7l0.5-5.3l0.5 0.8l0.5 9.4l0.5 9.2l0.5 2.3l0.5 3.1l0.5 8.2l0.5 6.7l0.5 2.8l0.5-0.6l0.5-7.3l0.5-10.4l0.5-7.5l0.5-4.4l0.5-3.6l0.5 0.1l0.5 2.7l0.5-3.4l0.5-4.1l0.5 5.8l0.5 15.2l0.5 20.7l0.5 26.7l0.5 26.8l0.5 18.8l0.5 10.5l0.5 5.3l0.5 2.5l0.5 1.3l0.5 0.8l0.5 0.6l0.5 0.4l0.5 0.3l0.5 0.3l0.5 0.2l0.5 0.2l0.5 0.2l0.5 0.2l0.5 0.2l0.5 0.1l0.5 0.2l0.5 0.2l0.5 0.2l0.5 0.2l0.5 0.2l0.5 0.2l0.5 0.2l0.5 0.2l0.5 0.2l0.5 0.1l0.5 0l0.5 0l0.5 0l0.5 0l0.5 0l0.5 0l0.5 0l0.5 0l0.5 0l0.5-0.1l0.5 0l0.5 0l0.5 0l0.5 0l0.5 0.1l0.5 0l0.5 0l0.5 0l0.5 0l0.5 0l0.5 0l0.5-0.1l0.5 0l0.5 0.1l0.5 0l0.5 0l0.5 0l0.5 0l0.5 0l0.5 0l0.5 0.1l0.5 0.1l0.5 0.1l0.5 0l0.5 0l0.5 0l0.5 0l0.5-0.1l0.5 0l0.5-0.1l0.5-0.1l0.5 0l0.5-0.1l0.5 0l0.5 0l0.5 0l0.5 0.1l0.5 0l0.5 0.1l0.5 0.1l0.5 0.2l0.5 0.1l0.5 0.1l0.5 0l0.5 0l0.5 0l0.5-0.1l0.5-0.1l0.5-0.1l0.5-0.1l0.5-0.1l0.5 0l0.5 0l0.5 0l0.5 0l0.5 0l0.5 0l0.5 0l0.5 0l0.5 0l0.5 0l0.5 0l0.5 0l0.5 0l0.5 0.1l0.5 0l0.5-0.1l0.5 0l0.5-0.1l0.5-0.1l0.5-0.1l0.5 0l0.5 0l0.5 0l0.5 0.1l0.5 0l0.5 0l0.5 0l0.5 0l0.5-0.1l0.5-0.1l0.5 0l0.5-0.1l0.5 0l0.5-0.1l0.5 0.1l0.5 0l0.5 0.1l0.5 0.1l0.5 0l0.5 0l0.5-0.1l0.5-0.1l0.5-0.2l0.5-0.1l0.5-0.1l0.5-0.1l0.5-0.1l0.5 0l0.5 0.1l0.5 0l0.5 0l0.5 0l0.5-0.1l0.5-0.1l0.5-0.1l0.5 0l0.5 0l0.5 0l0.5 0.1l0.5 0.1l0.5 0.1l0.5 0l0.5 0.1l0.6-0.1l0.5 0l0.5-0.1l0.5-0.1l0.5-0.1l0.5-0.1l0.5-0.2l0.5-0.1l0.5 0l0.5-0.1l0.5-0.1l0.5-0.1l0.5-0.2l0.5-0.1l0.5-0.1l0.5-0.1l0.5 0l0.5 0l0.5 0.1l0.5 0.1l0.5 0.1l0.5 0l0.5 0l0.5-0.1l0.5 0l0.5-0.1l0.5-0.2l0.5-0.1l0.5-0.2l0.5-0.2l0.5-0.2l0.5-0.3l0.5-0.5l0.5-0.6l0.5-0.5l0.5 0.2l0.5 0.8l0.5 0.6l0.5 0.5l0.5 0.4l0.5 0.3l0.5 0.2l0.5 0.2l0.5 0.1l0.5 0.1l0.5-0.1l0.5-0.2l0.5-0.2l0.5-0.2l0.5-0.2l0.5-0.3l0.5-0.2l0.5-0.3l0.5-0.3l0.5-0.4l0.5-0.5l0.5-0.7l0.5-0.8l0.5-0.1l0.5 0.7l0.5 0.7l0.5 0.5l0.5 0.3l0.5 0.2l0.5 0l0.5 0l0.5 0l0.5 0l0.5-0.1l0.5 0l0.5-0.1l0.5 0l0.5 0l0.5-0.1l0.5-0.3l0.5-0.5l0.5-0.8l0.5-0.6l0.5 0.2l0.5 0.7l0.5 0.5l0.5 0.3l0.5 0.2l0.5 0.1l0.5 0l0.5-0.1l0.5-0.1l0.5-0.1l0.5-0.2l0.5-0.3l0.5-0.3l0.5-0.4l0.5-0.6l0.5-0.8l0.5-1l0.5-0.2l0.5 0.9l0.5 1.1l0.5 0.7l0.5 0.3l0.5 0.2l0.5 0.1l0.5 0l0.5-0.2l0.5-0.1l0.5-0.4l0.5-0.5l0.5-0.7l0.5-0.7l0.5 0l0.5 0.7l0.5 0.7l0.5 0.3l0.5 0.1l0.5 0l0.5-0.1l0.5-0.1l0.5-0.2l0.5-0.4l0.5-0.6l0.5-1l0.5-1.3l0.5-0.9l0.5 0.7l0.5 1.4l0.5 1.1l0.5 0.6l0.5 0.5l0.5 0.3l0.5 0.2l0.5 0.1l0.5 0.1l0.5 0.1l0.5 0.1l0.5 0l0.5 0l0.5 0l0.5 0l0.5 0l0.5 0.1l0.5 0.2l0.5 0.2l0.5 0.2l0.5 0.1l0.5 0.1l0.5 0.1l0.5 0l0.5 0l0.5 0l0.5 0l0.5-0.1l0.5 0l0.5 0.1l0.5 0.1l0.5 0.1l0.5 0.1l0.5 0.1l0.5 0.1l0.5 0.2l0.5 0.2l0.5 0.2l0.5 0.2l0.5 0.2l0.5 0.2l0.5 0.2l0.5 0.1l0.5 0l0.5 0.1l0.5 0l0.5 0.1l0.5 0.1l0.5 0.2l0.5 0.2l0.5 0.3l0.5 0.2l0.5 0.2l0.5 0.1l0.5 0l0.5 0.1l0.5 0l0.5 0.1l0.5 0l0.5 0.1l0.5 0.1l0.5 0.1l0.5 0l0.5 0l0.5 0l0.5 0l0.5-0.1l0.5 0l0.5-0.1l0.5 0.1l0.5 0l0.5 0l0.6 0l0.5 0l0.5 0l0.5 0.1l0.5 0l0.5 0l0.5 0.1l0.5 0.1l0.5 0.1l0.5 0.1l0.5 0.1l0.5 0.1l0.5 0.1l0.5 0.1l0.5 0l0.5 0l0.5-0.1l0.5-0.1l0.5 0l0.5-0.2l0.5-0.1l0.5-0.2l0.5-0.2l0.5-0.1l0.5 0l0.5 0l0.5 0.1l0.5 0.2l0.5 0.2l0.5 0.2l0.5 0.2l0.5 0.1l0.5 0l0.5-0.1l0.5-0.1l0.5-0.1l0.5-0.1l0.5 0l0.5 0l0.5 0.1l0.5 0l0.5 0l0.5 0l0.5-0.1l0.5-0.1l0.5-0.1l0.5-0.1l0.5 0l0.5-0.1l0.5-0.1l0.5 0l0.5-0.1l0.5 0l0.5-0.1l0.5 0l0.5 0.1l0.5 0.1l0.5 0.1l0.5 0.1l0.5 0.1l0.5 0.2l0.5 0l0.5 0.1l0.5 0l0.5 0.1l0.5 0.1l0.5 0l0.5 0.1l0.5-0.1l0.5 0l0.5-0.1l0.5-0.2l0.5-0.1l0.5 0l0.5-0.1l0.5 0.1l0.5 0l0.5 0.1l0.5 0l0.5 0l0.5 0l0.5 0l0.5 0l0.5-0.1l0.5 0l0.5 0l0.5 0l0.5-0.1l0.5 0.1l0.5 0l0.5 0.1l0.5 0.1l0.5 0.1l0.5 0.1l0.5 0l0.5 0l0.5 0.1l0.5 0l0.5 0.1l0.5 0l0.5 0.1l0.5 0l0.5 0l0.5-0.1l0.5-0.1l0.5-0.1l0.5-0.1l0.5 0l0.5 0.1l0.5 0.1l0.5 0.1l0.5 0l0.5 0.1l0.5-0.1l0.5-0.1l0.5-0.1l0.5-0.1l0.5-0.1l0.5 0l0.5-0.1l0.5 0l0.5-0.1l0.5 0l0.5 0l0.5 0l0.5 0l0.5 0l0.5 0l0.5-0.1l0.5 0l0.5-0.1l0.5 0l0.5 0l0.5 0.1l0.5 0l0.5 0.1l0.5 0.1M971.3 703l0.5-0.3l0.5 0l0.5-0.1l0.5-0.1l0.5 0.2l0.5 0.1l0.5-0.2l0.5-0.5l0.5-0.2l0.5 0.4l0.5 0.1l0.5-0.1l0.5 0l0.5-0.3l0.5-0.2l0.5 0.1l0.5-0.2l0.5-0.4l0.5-0.2l0.5-0.2l0.5-0.4l0.5 0.3l0.5 0.4l0.5-0.5l0.5-0.7l0.5 0l0.5 0.1l0.5-0.2l0.5-0.1l0.5-0.3l0.5-0.6l0.5-0.3l0.5-0.4l0.5-0.3l0.5 0.2l0.5 0.3l0.5-0.1l0.5-0.5l0.5-0.1l0.6 0.2l0.5-0.5l0.5-0.3l0.5 0.2l0.5 0.1l0.5 0l0.5 0.1l0.5-0.5l0.5-0.8l0.5-0.6l0.5-0.4l0.5 0.3l0.5 0.2l0.5-0.6l0.5-0.7l0.5 0.1l0.5 0.5l0.5-0.2l0.5-0.3l0.5 0l0.5-0.7l0.5-0.7l0.5-0.1l0.5 0.2l0.5-0.2l0.5-0.6l0.5-1l0.5-1.9l0.5-2.1l0.5-1.2l0.5-1.5l0.5-2.1l0.5-0.9l0.5 0l0.5-1.5l0.5-2.8l0.5-2l0.5-1.6l0.5-2l0.5-1.8l0.5-1.2l0.5-1.2l0.5-1.5l0.5-1.7l0.5-2.5l0.5-2.3l0.5-0.7l0.5 0.2l0.5-0.2l0.5-2.3l0.5-3.6l0.5-1.1l0.5 1.5l0.5-0.8l0.5-4.5l0.5-3.3l0.5-0.5l0.5-1.2l0.5-1.7l0.5-1.4l0.5-2.5l0.5-1.9l0.5-0.1l0.5-0.1l0.5-1.3l0.5 0l0.5-0.8l0.5-3.6l0.5-1.9l0.5 0.5l0.5-2l0.5-3.4l0.5-2.2l0.5-2.7l0.5-2l0.5 1.3l0.5 2.2l0.5-2l0.5-2.9l0.5-0.3l0.5-2.2l0.5-3.4l0.5 0.9l0.5 2.2l0.5-1.5l0.5-3.1l0.5-4.2l0.5-4.2l0.5 0.1l0.5 3.7l0.5 1.1l0.5-1.1l0.5 0.9l0.5-2.5l0.5-4.9l0.5-1.6l0.5-2.6l0.5-4.5l0.5-1.8l0.5 2.1l0.5 3.9l0.5 3.4l0.5-0.7l0.5-6.6l0.5-3.7l0.5 1l0.5-2.6l0.5-4.1l0.5 0.3l0.5-0.4l0.5-4.3l0.5-2.6l0.5 0.7l0.5-0.5l0.5-0.6l0.5 2.4l0.5 0.8l0.5-1.1l0.5 2.6l0.5 0l0.5-5.7l0.5-0.9l0.5 4.7l0.5 0.1l0.5-2l0.5 0.6l0.5-3.7l0.5-5.8l0.5-1.2l0.5 2.6l0.5 1.7l0.5 1.4l0.5 1l0.5-3.3l0.5-3.2l0.5 0.8l0.5-0.1l0.5-1.9l0.5 0.9l0.5 2.4l0.5-0.3l0.5 0.1l0.5 2.9l0.5 0.7l0.5 0.4l0.5 2.5l0.5-2.8l0.5-5.9l0.5-0.7l0.5 5.2l0.5 4.6l0.5-0.3l0.5-0.4l0.5-2.4l0.5-3.2l0.5 2.5l0.5 2.4l0.5-3.3l0.5-2.7l0.5 0.4l0.5-0.9l0.5 0.8l0.5 4.9l0.5 3.9l0.5 2.7l0.5 0.9l0.5-5.1l0.5-2.6l0.5 5.9l0.5 3.9l0.5-2.6l0.5-1.4l0.5-2.1l0.5-2.8l0.5 2.3l0.5 1.4l0.5-5.1l0.5-3.4l0.5 1l0.5-1.2l0.5-3.7l0.5-0.1l0.5 5.9l0.5 6.5l0.5 0.7l0.5-2.3l0.5-1.8l0.5 1.1l0.5 4.2l0.5 3l0.5 2.1l0.5 3.8l0.5 3.8l0.5 0.4l0.5-0.2l0.6 0.3l0.5-2.9l0.5-2.7l0.5 2.4l0.5 1.8l0.5-3.8l0.5-2.9l0.5-0.3l0.5-1.6l0.5 0.3l0.5 2.1l0.5-2.1l0.5-3l0.5 0.5l0.5-0.5l0.5-1.4l0.5 1.8l0.5 0.6l0.5-1.5l0.5 3.2l0.5 6.4l0.5 2.1l0.5-0.4l0.5 4l0.5 7.5l0.5 3.5l0.5-1.6l0.5-3.8l0.5-5.5l0.5-3.1l0.5-0.3l0.5-4.2l0.5-8.4l0.5-5.3l0.5-1.4l0.5-0.7l0.5 2.3l0.5 4.8l0.5-2.4l0.5-7l0.5-1.1l0.5 5.6l0.5 7.4l0.5 3.4l0.5-1.3l0.5 1.4l0.5 6.8l0.5 6.6l0.5 3l0.5 1.3l0.5 0.1l0.5-2.5l0.5-3.7l0.5-1.5l0.5-4.1l0.5-9l0.5-4.3l0.5 1l0.5-0.2l0.5 3.4l0.5 8.2l0.5 7.8l0.5 16.2l0.5 27.7l0.5 27.8l0.5 19l0.5 10.6l0.5 5.2l0.5 2.6l0.5 1.3l0.5 0.7l0.5 0.3l0.5 0.2l0.5 0.2l0.5 0.2l0.5 0.1l0.5 0.3l0.5 0.3l0.5 0.2l0.5 0.3l0.5 0.3l0.5 0.2l0.5 0.2l0.5 0.2l0.5 0.2l0.5 0.1l0.5 0.2l0.5 0.1l0.5 0.2l0.5 0.1l0.5 0.1l0.5 0.2l0.5 0.1l0.5 0.2l0.5 0.1l0.5 0.1l0.5 0.1l0.5 0.1l0.5 0l0.5-0.1l0.5 0l0.5-0.1l0.5-0.1l0.5 0l0.5-0.1l0.5 0l0.5 0l0.5-0.1l0.5 0l0.5-0.1l0.5 0l0.5 0l0.5 0l0.5 0.1l0.5 0.1l0.5 0.2l0.5 0.1l0.5 0.1l0.5 0.1l0.5 0.1l0.5 0.1l0.5 0.1l0.5 0l0.5 0l0.5 0l0.5-0.1l0.5-0.1l0.5-0.1l0.5-0.1l0.5-0.1l0.5-0.1l0.5-0.1l0.5 0l0.5 0l0.5 0l0.5 0l0.5 0l0.5 0.1l0.5 0l0.5 0l0.5 0l0.5-0.1l0.5 0l0.5 0l0.5 0l0.5 0l0.5 0.1l0.5 0.1l0.5 0.1l0.5 0l0.5 0l0.5 0l0.5-0.1l0.5-0.1l0.5 0l0.5-0.1l0.5 0l0.5 0l0.5 0l0.5 0l0.5 0l0.5 0l0.5-0.1l0.5 0.1l0.5 0l0.5 0.1l0.5 0.1l0.5 0.1l0.5 0.1l0.5 0l0.5 0l0.5-0.1l0.5-0.1l0.5-0.1l0.5-0.1l0.5-0.1l0.5-0.1l0.5-0.1l0.5-0.1l0.5-0.1l0.5-0.1l0.5-0.1l0.5 0l0.5-0.1l0.5 0l0.5 0l0.5 0l0.5 0.1l0.5 0l0.5 0.1l0.5 0.1l0.5 0.1l0.5 0.1l0.5 0.1l0.5 0l0.6 0l0.5-0.1l0.5-0.1l0.5-0.2l0.5-0.1l0.5 0l0.5 0l0.5 0l0.5 0l0.5 0l0.5 0l0.5-0.1l0.5-0.2l0.5-0.1l0.5-0.2l0.5-0.1l0.5-0.1l0.5 0l0.5-0.1l0.5 0l0.5 0l0.5-0.1l0.5 0l0.5 0l0.5 0l0.5 0l0.5 0.1l0.5 0l0.5 0.2l0.5 0.1l0.5 0.1l0.5 0l0.5-0.1l0.5-0.1l0.5-0.2l0.5-0.1l0.5-0.2l0.5-0.1l0.5-0.1l0.5 0l0.5 0l0.5-0.1l0.5 0l0.5-0.1l0.5 0l0.5-0.1l0.5-0.1l0.5-0.1l0.5-0.1l0.5-0.3l0.5-0.2l0.5-0.4l0.5-0.6l0.5-0.8l0.5-0.7l0.5 0.1l0.5 0.6l0.5 0.5l0.5 0.4l0.5 0.2l0.5 0.1l0.5 0.1l0.5 0l0.5 0l0.5 0l0.5-0.1l0.5 0l0.5-0.1l0.5-0.1l0.5 0l0.5 0l0.5-0.1l0.5-0.1l0.5-0.1l0.5-0.3l0.5-0.6l0.5-0.7l0.5-0.9l0.5-0.2l0.5 0.7l0.5 0.8l0.5 0.6l0.5 0.3l0.5 0.3l0.5 0.2l0.5 0.1l0.5 0.2l0.5 0.1l0.5 0.1l0.5 0l0.5-0.1l0.5-0.2l0.5-0.2l0.5-0.4l0.5-0.5l0.5-0.7l0.5-0.8l0.5-0.6l0.5 0.3l0.5 0.6l0.5 0.6l0.5 0.4l0.5 0.3l0.5 0.2l0.5 0.1l0.5 0.1l0.5 0l0.5-0.1l0.5-0.2l0.5-0.2l0.5-0.4l0.5-0.4l0.5-0.7l0.5-1l0.5-1.2l0.5-0.4l0.5 0.8l0.5 1l0.5 0.6l0.5 0.5l0.5 0.2l0.5 0.1l0.5 0.1l0.5 0l0.5-0.1l0.5-0.3l0.5-0.5l0.5-0.7l0.5-0.8l0.5 0l0.5 0.7l0.5 0.6l0.5 0.3l0.5 0.2l0.5 0.1l0.5 0l0.5 0.1l0.5-0.1l0.5-0.2l0.5-0.5l0.5-1l0.5-1.3l0.5-0.9l0.5 0.5l0.5 1.3l0.5 0.8l0.5 0.5l0.5 0.4l0.5 0.1l0.5 0.2l0.5 0l0.5 0.1l0.5 0.1l0.5 0.2l0.5 0.1l0.5 0.1l0.5 0.1l0.5 0.1l0.5 0.2l0.5 0.1l0.5 0.1l0.5 0.2l0.5 0.2l0.5 0.2l0.5 0.1l0.5 0.1l0.5 0l0.5 0l0.5 0l0.5 0l0.5 0l0.5 0.1l0.5 0.2l0.5 0.2l0.5 0.2l0.5 0.1l0.5 0.1l0.5 0l0.5 0.1l0.5 0.2l0.5 0.2l0.5 0.2l0.5 0.2l0.5 0.3l0.5 0.2l0.5 0.2l0.5 0l0.5 0.1l0.5 0l0.5 0l0.5 0.1l0.5 0.1l0.5 0.1l0.5 0.1l0.5 0.2l0.6 0.1l0.5 0l0.5 0.1l0.5 0l0.5 0l0.5 0l0.5 0l0.5 0l0.5 0l0.5 0l0.5 0.1l0.5 0l0.5 0.1l0.5 0.1l0.5 0l0.5 0l0.5-0.1l0.5 0l0.5 0l0.5 0l0.5 0l0.5 0.1l0.5 0.1l0.5 0l0.5-0.1l0.5 0l0.5-0.1l0.5-0.1l0.5 0l0.5 0.1l0.5 0.1l0.5 0.2l0.5 0.2l0.5 0.2l0.5 0.1l0.5 0.1l0.5 0.1l0.5 0l0.5 0l0.5-0.1l0.5 0l0.5-0.1l0.5 0.1l0.5 0l0.5 0l0.5 0.1l0.5-0.1l0.5 0l0.5-0.1l0.5 0l0.5-0.1l0.5 0l0.5-0.1l0.5 0l0.5 0l0.5-0.1l0.5 0l0.5-0.1l0.5 0l0.5-0.1l0.5-0.1l0.5 0l0.5 0.1l0.5 0l0.5 0.1l0.5 0l0.5 0l0.5 0l0.5 0l0.5-0.1l0.5-0.1l0.5 0l0.5 0l0.5 0l0.5 0.1l0.5 0.1l0.5 0.2l0.5 0.1l0.5 0.1l0.5 0l0.5-0.1l0.5-0.1l0.5-0.2l0.5-0.2l0.5-0.2l0.5-0.1l0.5 0l0.5 0l0.5 0.1l0.5 0.1l0.5 0.1l0.5 0.1l0.5 0.1l0.5 0.1l0.5 0.1l0.5 0.1l0.5 0.1l0.5 0.1l0.5 0l0.5 0l0.5 0l0.5 0l0.5-0.1l0.5-0.1l0.5 0l0.5-0.1l0.5-0.1l0.5-0.1l0.5-0.1l0.5 0l0.5 0l0.5 0l0.5 0l0.5 0l0.5 0.1l0.5 0.1l0.5 0.1l0.5 0l0.5 0.1l0.5 0.1l0.5 0l0.5 0.1l0.5 0.1l0.5 0l0.5 0l0.5 0l0.5 0l0.5-0.1l0.5-0.1l0.5-0.1l0.5-0.1l0.5-0.1l0.5-0.1l0.5 0l0.5 0l0.5 0.1l0.5 0l0.5 0.1l0.5 0l0.5 0l0.5 0l0.5 0l0.5 0l0.5 0l0.5 0l0.5 0l0.5 0l0.5 0l0.5 0.1l0.5 0.1l0.5 0.1l0.5 0l0.5 0.1l0.5 0l0.5 0l0.5 0l0.5 0M958.7 721.8l0.5-0.6l0.5 0l0.5 0.3l0.5 0.1l0.5-0.4l0.5-0.5l0.5-0.3l0.5 0.2l0.5 0.5l0.5-0.5l0.5-0.5l0.5 0l0.5-0.1l0.5-0.5l0.5 0l0.5 0.2l0.5-0.3l0.5-0.4l0.5 0.1l0.6 0.4l0.5-0.1l0.5-0.3l0.5-0.4l0.5-0.6l0.5 0l0.5 0.4l0.5 0l0.5-0.4l0.5 0.2l0.5-0.1l0.5-0.6l0.5-0.5l0.5-0.3l0.5-0.2l0.5-0.2l0.5 0.2l0.5 0.3l0.5-0.3l0.5-0.4l0.5 0.1l0.5-0.3l0.5-0.7l0.5-0.9l0.5-0.8l0.5 0l0.5 1l0.5 1l0.5 0l0.5-0.6l0.5-0.8l0.5-0.8l0.5 0.1l0.5 0.8l0.5 0.1l0.5-0.9l0.5-0.9l0.5-0.5l0.5-0.2l0.5-0.2l0.5-0.1l0.5-0.2l0.5 0l0.5-0.2l0.5-0.7l0.5-0.8l0.5-0.3l0.5 0l0.5-0.2l0.5-0.6l0.5-0.4l0.5-0.1l0.5-0.6l0.5-1.5l0.5-0.9l0.5 0.4l0.5 0.6l0.5-0.9l0.5-1.3l0.5-0.6l0.5 0.1l0.5-0.1l0.5-0.6l0.5-0.5l0.5-0.4l0.5-0.7l0.5-1.3l0.5-1.6l0.5-1.2l0.5-0.3l0.5-0.2l0.5-1.4l0.5-1.8l0.5-2l0.5-2l0.5-1.7l0.5-2.3l0.5-2.8l0.5-2.1l0.5-1.4l0.5-2.1l0.5-2.5l0.5-1.1l0.5 0.6l0.5-0.2l0.5-2.6l0.5-3.6l0.5-3l0.5-1.2l0.5 0.1l0.5-0.7l0.5-0.9l0.5 1.2l0.5-0.7l0.5-4.7l0.5-2.7l0.5 1.2l0.5-0.3l0.5-3.8l0.5-2.4l0.5-1.4l0.5-3l0.5-1.3l0.5 1.6l0.5-0.6l0.5-3.7l0.5-1.4l0.5 0.7l0.5-0.8l0.5-4.2l0.5-5l0.5-1.3l0.5 2.1l0.5 0.8l0.5-2.5l0.5-2.3l0.5-3l0.5-3.1l0.5-0.3l0.5-0.5l0.5-3.7l0.5-3.4l0.5 0.4l0.5 3.3l0.5-0.2l0.5-2.7l0.5-1.8l0.5-3l0.5-2.9l0.5-1.7l0.5-1.4l0.5 1.5l0.5 2.4l0.5-3.1l0.5-4.9l0.5 0.5l0.5 4.1l0.5-1l0.5-5.3l0.5-2.7l0.5-0.3l0.5 3.1l0.5 3.9l0.5-3.6l0.5-4.9l0.5 2.4l0.5 0.9l0.5-5l0.5-2.6l0.5-0.9l0.5-3.4l0.5-1.8l0.5 4.3l0.5 5.8l0.5-1.5l0.5-3.4l0.5 2.8l0.5 4.2l0.5 2.1l0.5-3.8l0.5-6.9l0.5 0.4l0.5 5.4l0.5-0.9l0.5-5l0.5 1.7l0.5 3l0.5-4.1l0.5-5l0.5-0.1l0.5 1.8l0.5 1.2l0.5 0l0.5-2.4l0.5-1.8l0.5 2.4l0.5 3.7l0.5 1l0.5 1.7l0.5 1.3l0.5-3l0.5 0l0.5 2.7l0.5-2.1l0.5-2.6l0.5 0.8l0.5 2l0.5 4.6l0.5 3.8l0.5-3.8l0.5-5.1l0.5 0.1l0.5 0.6l0.5-2.3l0.5-0.5l0.6 5.3l0.5 5.4l0.5-1.4l0.5-4.5l0.5-5.3l0.5-3.4l0.5 3.4l0.5 8l0.5 2.4l0.5-1.3l0.5 0.6l0.5-2.4l0.5-2.3l0.5 5.2l0.5 9.6l0.5 5.6l0.5 1.7l0.5-0.6l0.5-3.1l0.5-1.6l0.5 0.7l0.5-1.1l0.5-2.6l0.5-1.5l0.5-1.9l0.5-2.5l0.5-0.4l0.5 3.1l0.5 3.1l0.5-0.5l0.5-3.5l0.5-4.7l0.5-2.8l0.5 1.8l0.5 4.1l0.5-0.1l0.5-3.3l0.5-0.4l0.5 2.7l0.5 6.8l0.5 6.1l0.5 0.3l0.5 1.4l0.5 3.1l0.5 0.6l0.5 1.1l0.5 2.8l0.5-1l0.5-6.5l0.5-5.3l0.5 0.5l0.5 0.5l0.5-6.1l0.5-4.5l0.5 0.3l0.5-4.6l0.5-7.1l0.5-1l0.5 1.7l0.5 1.2l0.5 1.8l0.5 0l0.5 1.7l0.5 5.2l0.5 2.5l0.5 3.1l0.5 8.6l0.5 8.4l0.5 3.8l0.5 2.6l0.5 0.1l0.5-7.1l0.5-9.1l0.5-5.3l0.5-3.2l0.5-2.9l0.5-1.8l0.5-4.4l0.5-2.7l0.5 6.4l0.5 9.3l0.5 7.8l0.5 16.9l0.5 27.9l0.5 27.7l0.5 19l0.5 10.5l0.5 5.2l0.5 2.4l0.5 1.3l0.5 0.7l0.5 0.5l0.5 0.3l0.5 0.3l0.5 0.3l0.5 0.2l0.5 0.2l0.5 0.1l0.5 0.2l0.5 0.1l0.5 0.2l0.5 0.1l0.5 0.1l0.5 0.2l0.5 0.2l0.5 0.1l0.5 0.2l0.5 0.2l0.5 0.2l0.5 0.1l0.5 0.2l0.5 0.2l0.5 0.2l0.5 0.1l0.5 0.2l0.5 0.1l0.5 0.1l0.5 0.1l0.5-0.1l0.5 0l0.5-0.1l0.5 0l0.5 0l0.5-0.1l0.5 0l0.5 0.1l0.5 0l0.5 0l0.5 0.1l0.5 0.1l0.5 0.1l0.5 0.1l0.5 0.1l0.5 0l0.5 0l0.5 0l0.5 0l0.5 0l0.5 0l0.5-0.1l0.5 0.1l0.5 0l0.5 0l0.5-0.1l0.5 0l0.5-0.1l0.5-0.1l0.5-0.1l0.5-0.1l0.5-0.1l0.5-0.1l0.5-0.1l0.5 0l0.5-0.1l0.5 0.1l0.5 0l0.5 0.1l0.5 0.1l0.5 0l0.5 0.1l0.5 0.1l0.5 0l0.5 0l0.5 0l0.5 0l0.5 0.1l0.5 0l0.5 0l0.5 0l0.5-0.1l0.5-0.1l0.5-0.1l0.5-0.2l0.5-0.1l0.5 0l0.5-0.1l0.5-0.1l0.5 0l0.5-0.1l0.5-0.1l0.5 0l0.5-0.1l0.5 0l0.5-0.1l0.5 0l0.5 0.1l0.5 0l0.5 0.1l0.5 0.1l0.5 0.1l0.5 0.2l0.5 0.1l0.5 0.1l0.5 0.1l0.5 0l0.5 0l0.6-0.1l0.5-0.1l0.5 0l0.5-0.1l0.5 0l0.5 0l0.5 0.1l0.5 0l0.5 0l0.5 0l0.5 0l0.5-0.1l0.5-0.1l0.5-0.1l0.5-0.1l0.5-0.1l0.5-0.1l0.5 0l0.5 0l0.5 0l0.5-0.1l0.5-0.1l0.5-0.1l0.5-0.1l0.5-0.1l0.5-0.1l0.5 0l0.5-0.1l0.5 0l0.5-0.1l0.5 0l0.5-0.1l0.5 0l0.5 0l0.5 0.1l0.5 0.1l0.5 0.1l0.5 0.1l0.5 0.1l0.5 0.1l0.5 0l0.5 0l0.5 0l0.5 0l0.5-0.1l0.5 0l0.5-0.1l0.5 0l0.5 0l0.5 0l0.5 0l0.5 0l0.5-0.1l0.5 0l0.5-0.1l0.5-0.1l0.5-0.1l0.5-0.1l0.5-0.1l0.5-0.1l0.5-0.1l0.5-0.1l0.5-0.1l0.5-0.1l0.5-0.1l0.5 0l0.5-0.1l0.5-0.1l0.5-0.2l0.5-0.2l0.5-0.4l0.5-0.6l0.5-0.7l0.5-0.6l0.5 0.2l0.5 0.7l0.5 0.5l0.5 0.4l0.5 0.2l0.5 0.2l0.5 0l0.5 0l0.5 0l0.5-0.1l0.5-0.1l0.5-0.1l0.5-0.1l0.5 0l0.5 0l0.5 0.1l0.5 0l0.5 0l0.5-0.2l0.5-0.2l0.5-0.5l0.5-0.7l0.5-0.7l0.5-0.2l0.5 0.7l0.5 0.7l0.5 0.4l0.5 0.2l0.5 0.1l0.5 0l0.5 0l0.5-0.1l0.5-0.1l0.5-0.1l0.5-0.1l0.5-0.1l0.5-0.1l0.5-0.2l0.5-0.2l0.5-0.3l0.5-0.5l0.5-0.8l0.5-0.5l0.5 0.2l0.5 0.5l0.5 0.5l0.5 0.3l0.5 0.2l0.5 0.1l0.5 0.1l0.5 0l0.5 0l0.5-0.1l0.5-0.2l0.5-0.3l0.5-0.3l0.5-0.4l0.5-0.5l0.5-0.9l0.5-1.1l0.5-0.4l0.5 0.8l0.5 1l0.5 0.7l0.5 0.4l0.5 0.3l0.5 0.2l0.5 0.1l0.5 0.1l0.5-0.2l0.5-0.2l0.5-0.5l0.5-0.8l0.5-0.7l0.5 0l0.5 0.7l0.5 0.6l0.5 0.3l0.5 0.1l0.5 0l0.5-0.1l0.5-0.1l0.5-0.1l0.5-0.3l0.5-0.4l0.5-0.9l0.5-1.3l0.5-0.9l0.5 0.6l0.5 1.3l0.5 0.9l0.5 0.6l0.5 0.4l0.5 0.2l0.5 0.2l0.5 0.1l0.5 0l0.5 0l0.5 0.1l0.5 0.1l0.5 0.1l0.5 0.2l0.5 0.2l0.5 0.2l0.5 0.3l0.5 0.2l0.5 0.1l0.5 0.1l0.5 0l0.5 0l0.5 0l0.5-0.1l0.5-0.1l0.5 0l0.5-0.1l0.5 0l0.5 0l0.5 0.1l0.5 0.1l0.5 0.1l0.5 0.1l0.6 0.1l0.5 0.1l0.5 0.1l0.5 0.2l0.5 0.2l0.5 0.2l0.5 0.2l0.5 0.2l0.5 0.2l0.5 0.3l0.5 0.3l0.5 0.3l0.5 0.3l0.5 0.2l0.5 0.2l0.5 0.2l0.5 0.1l0.5 0.1l0.5 0.1l0.5 0l0.5 0l0.5 0l0.5-0.1l0.5 0l0.5 0.1l0.5 0l0.5 0.1l0.5 0l0.5 0.1l0.5 0l0.5 0.1l0.5-0.1l0.5 0l0.5-0.1l0.5 0l0.5-0.1l0.5 0l0.5 0l0.5 0l0.5 0.1l0.5 0l0.5 0.1l0.5 0.1l0.5 0l0.5 0.1l0.5 0l0.5 0.1l0.5 0l0.5 0.1l0.5 0l0.5 0l0.5 0l0.5 0l0.5 0l0.5 0.1l0.5 0.1l0.5 0.1l0.5 0.1l0.5 0l0.5 0l0.5 0l0.5-0.1l0.5-0.1l0.5-0.1l0.5 0l0.5 0l0.5 0l0.5 0l0.5 0.1l0.5 0l0.5 0.1l0.5 0l0.5 0l0.5 0l0.5-0.1l0.5 0l0.5-0.1l0.5 0l0.5 0l0.5-0.1l0.5 0l0.5-0.1l0.5 0l0.5 0l0.5-0.1l0.5 0l0.5-0.1l0.5 0l0.5-0.1l0.5 0l0.5 0l0.5 0l0.5 0.1l0.5 0.1l0.5 0.1l0.5 0.1l0.5 0.2l0.5 0.1l0.5 0.1l0.5 0l0.5 0l0.5-0.1l0.5 0l0.5-0.1l0.5 0l0.5 0.1l0.5 0.1l0.5 0.1l0.5 0.1l0.5 0.1l0.5 0.1l0.5 0l0.5 0l0.5-0.1l0.5-0.1l0.5-0.2l0.5-0.1l0.5-0.1l0.5-0.1l0.5 0l0.5-0.1l0.5 0l0.5 0l0.5-0.1l0.5-0.1l0.5 0l0.5 0l0.5 0.1l0.5 0.1l0.5 0.1l0.5 0l0.5 0.1l0.5 0.1l0.5 0l0.5-0.1l0.5 0l0.5 0l0.5 0l0.5-0.1l0.5 0l0.5 0l0.5 0l0.5 0l0.5 0l0.5-0.1l0.5 0l0.5 0l0.5 0l0.5 0.1l0.5 0l0.5 0l0.5 0l0.5-0.1l0.5 0l0.5 0l0.5 0l0.5 0l0.5 0.1l0.5 0l0.5 0l0.5 0l0.5 0l0.5 0.1l0.5 0l0.5 0.1l0.5 0l0.5 0l0.5-0.1l0.5 0l0.5 0l0.5 0l0.5 0l0.5 0.1l0.5 0.1l0.5 0.1l0.5 0.1M946.2 736.6l0.5-0.3l0.5-0.1l0.5 0.4l0.5 0.1l0.5-0.7l0.5-0.4l0.5 0.2l0.5 0.4l0.5 0.5l0.5 0.3l0.5-0.1l0.5-0.2l0.5 0.1l0.5-0.1l0.5 0l0.5 0.1l0.5-0.3l0.5-0.2l0.5-0.1l0.5-0.5l0.5-0.7l0.5-0.2l0.5 0.2l0.5 0.2l0.5 0.2l0.5 0l0.5-0.9l0.5-1l0.5 0.2l0.5 0.9l0.5 0.1l0.5-0.7l0.5-1.1l0.5-0.8l0.5-0.3l0.5 0.5l0.5 0.5l0.5-0.6l0.5-0.7l0.5 0.1l0.5 0.3l0.5 0l0.5-0.4l0.5-0.5l0.5-0.1l0.5 0.3l0.5-0.2l0.5 0.1l0.5 0.8l0.5-0.2l0.5-1.3l0.5-0.6l0.5-0.1l0.5-0.2l0.5-0.1l0.5 0.2l0.5-0.4l0.5-0.9l0.5-0.5l0.5 0.1l0.5 0.1l0.5 0.1l0.5-0.1l0.5-0.8l0.5-1.1l0.5-0.6l0.5-0.3l0.5-0.3l0.5 0.1l0.5 0.2l0.5-0.2l0.5 0l0.5-0.3l0.5-1.1l0.5-0.4l0.5 0.7l0.5 0.2l0.5-1.1l0.5-1.4l0.5-1.6l0.5-0.8l0.5 0.1l0.5-0.2l0.5-0.8l0.5-0.7l0.5-0.3l0.5-0.3l0.5-0.2l0.5-0.4l0.5-0.7l0.5-0.2l0.5 0.4l0.5-0.5l0.5-1.8l0.5-0.6l0.5 1.2l0.5 0.5l0.5-1.7l0.5-1.5l0.5-0.3l0.5-0.2l0.5-0.6l0.5-1.1l0.5-0.6l0.5 0.2l0.5-0.7l0.5-2l0.5-1l0.5 0.6l0.5 0.1l0.5-2l0.5-0.9l0.5-0.1l0.5-2.4l0.5-3.1l0.5-1.1l0.5-0.4l0.5-0.3l0.5-1.6l0.5-4.5l0.5-4.3l0.5-1.5l0.5-0.6l0.5-2.5l0.5-3.3l0.5-0.8l0.5-0.7l0.5-2.2l0.5-0.8l0.5-0.2l0.5-2.1l0.5-1.5l0.5-0.1l0.5 0.7l0.5 0l0.5-4.6l0.5-6.3l0.5-3l0.5 0.8l0.5 1.6l0.5 0.6l0.5 0.3l0.5-3.7l0.5-6l0.5-2.4l0.5 0.9l0.5 1.6l0.5 0.9l0.5-3.5l0.5-4.8l0.5-0.2l0.5-0.1l0.5-2.2l0.5 0.8l0.5 0.4l0.5-5.7l0.5-6.1l0.5 0.2l0.5 3.9l0.5-0.3l0.5-4.7l0.5-4.9l0.5-4.1l0.5-1.5l0.5-0.1l0.5-1.8l0.5-2l0.5 0.3l0.5-0.4l0.5-2.7l0.5-1.5l0.5 1.1l0.5-0.8l0.5-3.3l0.5-0.2l0.5 3.2l0.5 1.1l0.5-0.7l0.5-0.9l0.5-3.1l0.5-1.1l0.5 3.7l0.5 4.5l0.5 3.7l0.5-0.7l0.5-6.8l0.5-3.5l0.5 0.4l0.5-2.2l0.5-3.4l0.5-0.3l0.5 2.8l0.5 2.9l0.5-0.1l0.5-0.1l0.6 0.4l0.5-0.2l0.5 2.1l0.5 0.6l0.5-3.2l0.5-0.8l0.5 1.9l0.5 2.1l0.5 4.9l0.5 3.3l0.5-3.2l0.5-1.1l0.5 3.6l0.5-1.2l0.5-5.6l0.5-1.8l0.5 1.9l0.5 0.8l0.5-0.2l0.5 2.6l0.5 1l0.5-2.2l0.5 0.3l0.5-0.7l0.5-4.2l0.5-0.6l0.5 4l0.5 3l0.5 3l0.5 3.1l0.5-2.1l0.5 0.9l0.5 5.7l0.5 1.3l0.5-1l0.5 3l0.5 6.7l0.5 3.9l0.5-1.4l0.5-3.3l0.5-3.3l0.5-0.6l0.5 0.4l0.5-2.7l0.5-2.7l0.5 1.3l0.5 2.1l0.5-1.7l0.5-1l0.5 3l0.5 1.3l0.5-0.8l0.5-1.6l0.5-5.8l0.5-3.8l0.5 1.7l0.5 0.7l0.5 0.6l0.5 4.6l0.5 2.3l0.5-1.2l0.5 2.1l0.5 7.2l0.5 7.2l0.5 1.1l0.5-2.2l0.5-2.7l0.5-5.3l0.5-5l0.5-0.4l0.5 0.1l0.5-5.8l0.5-6.6l0.5-2.8l0.5-0.8l0.5-1.2l0.5-4l0.5-1.3l0.5 5.4l0.5 2.8l0.5-4.2l0.5-1.5l0.5 7.7l0.5 11l0.5 5.5l0.5 3.2l0.5 3.5l0.5 1.9l0.5 1.4l0.5-1.4l0.5-5.5l0.5-6.5l0.5-4.1l0.5-2.1l0.5-3.8l0.5-4.2l0.5-3.5l0.5-2.7l0.5 2.1l0.5 6.5l0.5 11l0.5 20.8l0.5 29l0.5 27.7l0.5 18.9l0.5 10.5l0.5 5.3l0.5 2.6l0.5 1.3l0.5 0.8l0.5 0.5l0.5 0.4l0.5 0.3l0.5 0.3l0.5 0.2l0.5 0.3l0.5 0.1l0.5 0.1l0.5 0l0.5-0.1l0.5 0l0.5 0l0.5-0.1l0.5 0.1l0.5 0l0.5 0.1l0.5 0.2l0.5 0.1l0.5 0.1l0.5 0.1l0.5 0.1l0.5 0.1l0.5 0.1l0.5 0.1l0.5 0.2l0.5 0.1l0.5 0.2l0.5 0.1l0.5 0.1l0.5 0.1l0.5 0l0.5 0l0.5 0l0.5 0l0.5-0.1l0.5 0l0.5-0.1l0.5 0l0.5 0l0.5 0l0.5 0.1l0.5 0l0.5 0.1l0.5 0.1l0.5 0l0.5 0.1l0.5 0.1l0.5 0.1l0.5 0l0.5 0.1l0.5 0l0.5-0.1l0.5 0l0.5-0.1l0.5-0.1l0.5-0.1l0.5-0.1l0.5 0l0.5-0.1l0.5-0.1l0.5 0.1l0.5 0l0.5 0.1l0.5 0.2l0.5 0.1l0.5 0.1l0.5 0.1l0.5 0l0.5 0l0.5 0l0.5 0l0.5-0.1l0.5 0l0.5 0l0.5 0l0.5 0l0.5-0.1l0.5 0l0.5 0l0.5 0l0.5 0l0.5 0l0.5-0.1l0.5 0l0.5 0l0.6 0l0.5-0.1l0.5 0l0.5 0l0.5 0l0.5 0l0.5 0l0.5 0l0.5 0l0.5 0l0.5 0.1l0.5 0.1l0.5 0l0.5 0.1l0.5 0l0.5 0l0.5-0.1l0.5 0l0.5 0l0.5 0l0.5-0.1l0.5 0l0.5-0.1l0.5 0l0.5-0.1l0.5 0l0.5-0.1l0.5 0l0.5-0.1l0.5 0l0.5-0.1l0.5 0l0.5 0l0.5 0l0.5 0l0.5 0.1l0.5 0l0.5 0l0.5 0.1l0.5 0l0.5 0l0.5 0l0.5 0l0.5-0.1l0.5-0.1l0.5-0.1l0.5-0.1l0.5-0.2l0.5-0.1l0.5-0.1l0.5-0.1l0.5 0l0.5-0.1l0.5 0l0.5 0l0.5 0l0.5-0.1l0.5 0l0.5 0l0.5 0l0.5 0l0.5 0.1l0.5 0l0.5 0.1l0.5 0l0.5-0.1l0.5-0.1l0.5-0.2l0.5-0.2l0.5-0.2l0.5 0l0.5 0l0.5 0.1l0.5 0.1l0.5 0.1l0.5 0l0.5 0.1l0.5-0.1l0.5 0l0.5-0.1l0.5-0.1l0.5-0.1l0.5-0.1l0.5-0.1l0.5 0l0.5-0.1l0.5-0.1l0.5-0.1l0.5-0.2l0.5-0.2l0.5-0.2l0.5-0.5l0.5-0.6l0.5-0.5l0.5 0.2l0.5 0.6l0.5 0.5l0.5 0.3l0.5 0.1l0.5 0.1l0.5 0.1l0.5 0l0.5-0.1l0.5 0l0.5-0.1l0.5-0.1l0.5-0.1l0.5 0l0.5 0l0.5 0l0.5 0l0.5-0.1l0.5-0.2l0.5-0.3l0.5-0.5l0.5-0.8l0.5-0.9l0.5-0.3l0.5 0.7l0.5 0.7l0.5 0.4l0.5 0.3l0.5 0.1l0.5 0.1l0.5 0l0.5 0l0.5 0l0.5 0l0.5 0l0.5-0.1l0.5-0.1l0.5-0.1l0.5-0.2l0.5-0.4l0.5-0.6l0.5-0.8l0.5-0.6l0.5 0.1l0.5 0.5l0.5 0.5l0.5 0.3l0.5 0.2l0.5 0.2l0.5 0.1l0.5 0.1l0.5 0.1l0.5 0l0.5-0.1l0.5-0.3l0.5-0.3l0.5-0.4l0.5-0.6l0.5-0.8l0.5-1l0.5-0.3l0.5 1l0.5 1l0.5 0.7l0.5 0.4l0.5 0.2l0.5 0l0.5 0l0.5-0.2l0.5-0.2l0.5-0.5l0.5-0.6l0.5-0.9l0.5-0.9l0.5 0l0.5 0.7l0.5 0.7l0.5 0.6l0.5 0.3l0.5 0.2l0.5 0.1l0.5-0.1l0.5-0.2l0.5-0.4l0.5-0.7l0.5-1l0.5-1.4l0.5-0.8l0.5 0.7l0.5 1.4l0.5 1.1l0.5 0.7l0.5 0.4l0.5 0.3l0.5 0.2l0.5 0.1l0.5 0.1l0.5 0.1l0.5 0l0.5 0l0.5 0l0.6 0l0.5 0l0.5 0.1l0.5 0l0.5 0l0.5 0.1l0.5 0l0.5 0.1l0.5 0l0.5 0.1l0.5 0.1l0.5 0.1l0.5 0l0.5 0.1l0.5 0l0.5 0l0.5 0.1l0.5 0.1l0.5 0.2l0.5 0.1l0.5 0.1l0.5 0.2l0.5 0.2l0.5 0.3l0.5 0.2l0.5 0.2l0.5 0.2l0.5 0.2l0.5 0.1l0.5 0.2l0.5 0.1l0.5 0.1l0.5 0l0.5 0.1l0.5 0l0.5 0.1l0.5 0.1l0.5 0.1l0.5 0.1l0.5 0l0.5 0.1l0.5 0l0.5 0.1l0.5 0.1l0.5 0.2l0.5 0.1l0.5 0.1l0.5 0.2l0.5 0l0.5 0.1l0.5 0l0.5 0l0.5 0.1l0.5 0.1l0.5 0l0.5 0.1l0.5 0l0.5 0l0.5-0.1l0.5 0l0.5-0.1l0.5 0l0.5 0l0.5 0.1l0.5 0.1l0.5 0.2l0.5 0.1l0.5 0.2l0.5 0.1l0.5 0.1l0.5-0.1l0.5 0l0.5-0.2l0.5-0.1l0.5-0.1l0.5-0.1l0.5-0.1l0.5 0l0.5 0l0.5 0l0.5 0l0.5 0l0.5 0l0.5 0l0.5 0.1l0.5 0l0.5 0.1l0.5 0.1l0.5 0.1l0.5 0.1l0.5 0.1l0.5 0l0.5 0.1l0.5 0l0.5 0l0.5 0.1l0.5 0.1l0.5 0l0.5 0l0.5 0l0.5 0l0.5-0.1l0.5 0l0.5-0.1l0.5 0.1l0.5 0l0.5 0l0.5 0l0.5-0.1l0.5-0.1l0.5-0.1l0.5-0.1l0.5-0.1l0.5-0.1l0.5 0l0.5 0l0.5 0.1l0.5 0l0.5 0l0.5 0l0.5-0.1l0.5 0l0.5-0.1l0.5-0.1l0.5-0.1l0.5 0l0.5-0.1l0.5-0.1l0.5 0l0.5 0l0.5 0l0.5 0.1l0.5 0.1l0.5 0.1l0.5 0.1l0.5 0.1l0.5 0.1l0.5 0l0.5-0.1l0.5-0.1l0.5 0l0.5-0.1l0.5 0l0.5 0l0.5 0l0.5 0l0.5 0.1l0.5 0l0.5 0l0.5 0.1l0.5 0l0.5 0.1l0.5 0l0.5 0.1l0.5 0.1l0.5 0.1l0.5 0l0.5-0.1l0.5 0l0.5-0.1l0.5 0l0.5 0l0.5 0l0.5 0l0.5 0l0.5 0.1l0.5 0l0.5 0l0.5 0l0.5 0.1l0.5 0l0.5 0.1l0.5 0.1l0.5 0.2l0.5 0.1l0.5 0.1l0.5 0l0.5-0.1l0.5-0.1l0.5-0.2l0.5-0.2l0.5-0.1l0.5-0.1l0.5-0.1l0.5-0.1l0.5 0.1l0.5 0l0.5 0l0.5 0l0.5 0l0.5-0.1l0.5-0.1l0.5 0l0.5 0l0.5 0.1l0.5 0.1M933.6 759.8l0.5-0.1l0.5 0.1l0.5 0l0.5 0l0.5-0.5l0.5-0.8l0.5-0.4l0.5 0.5l0.5 0.7l0.5 0.1l0.5-0.8l0.5-0.5l0.5 0.4l0.5 0.7l0.5 0.1l0.5-0.4l0.5-0.3l0.5-0.1l0.5-0.1l0.5-0.5l0.5-0.2l0.5 0.4l0.5-0.1l0.5-0.6l0.5-0.2l0.5 0.6l0.5 0l0.5-0.9l0.5-0.6l0.5 0.5l0.5 0.5l0.5 0l0.5-0.8l0.5-0.9l0.5-0.1l0.5-0.4l0.5-0.5l0.5-0.2l0.5 0.1l0.5 0l0.5-0.4l0.5-0.2l0.5 0.8l0.5 0.3l0.5-0.9l0.5-0.8l0.5-0.4l0.5-0.4l0.5-0.2l0.5 0.2l0.5 0.1l0.5-0.3l0.5-0.5l0.5-1.1l0.5-0.6l0.5 0.1l0.5 0.3l0.5 0.1l0.5 0.6l0.5 0.7l0.5-0.5l0.5-0.7l0.5-0.1l0.5-0.3l0.5-0.3l0.5-0.9l0.5-1.3l0.5-0.7l0.5 0l0.5 0.2l0.5-0.2l0.5-0.2l0.5-0.5l0.5-1l0.5-0.1l0.5 0.9l0.5-0.3l0.5-1.1l0.5-1.3l0.5-1.3l0.5-0.8l0.5 0.3l0.5 0.5l0.5-0.6l0.5-0.2l0.5 1l0.5-0.4l0.5-1l0.5 0l0.5-0.6l0.5-1.8l0.5-1.3l0.5 0.2l0.5 0.4l0.5-0.3l0.5-0.6l0.5-1.3l0.5-0.3l0.5 0.1l0.5-1.5l0.5-1.7l0.5-0.3l0.5-0.4l0.5-1.4l0.5-1.1l0.5 0.2l0.5 0.8l0.5 0.5l0.5-1.2l0.5-1.9l0.5-0.5l0.5-0.1l0.5-1.1l0.5-0.5l0.5 1l0.5-0.5l0.5-2.2l0.5-0.3l0.5 1.2l0.5-0.7l0.5-1.9l0.5-0.3l0.5-0.4l0.5-1.2l0.5 0.7l0.5 0.4l0.5-2.9l0.5-2.5l0.5 1l0.5 1.1l0.5-2.4l0.5-2.6l0.5 0.1l0.5 0.1l0.5-2l0.5-4.2l0.5-2.7l0.5 1l0.5-0.5l0.5-4.3l0.5-2.7l0.5-0.8l0.5-2.9l0.5-3.5l0.5-2.1l0.5-2.3l0.5-1.8l0.5-0.1l0.5-0.2l0.5-2.5l0.5-2.3l0.5-1.4l0.5-3.3l0.5-3.8l0.5-1.7l0.5 0.2l0.5-0.4l0.5 0.2l0.5 3l0.5 1.7l0.5-2.1l0.5-4.7l0.5-6.9l0.5-4.6l0.5-0.3l0.5 1.6l0.5 0.2l0.5 0.2l0.5 0.7l0.5-3.5l0.5-3.1l0.5-0.2l0.5-3.6l0.5-4.6l0.5 1.3l0.6 4.4l0.5-0.7l0.5-2.5l0.5 0.3l0.5-4.1l0.5-5.2l0.5 0.9l0.5 0.1l0.5-4l0.5-2.5l0.5-2.4l0.5-1.9l0.5 3.3l0.5 3.9l0.5-1.8l0.5-2l0.5-0.6l0.5-3.4l0.5-2.4l0.5 2.3l0.5 2.5l0.5-1.7l0.5-1.7l0.5 1.3l0.5 0.4l0.5 0l0.5 3.9l0.5 2.5l0.5-2.2l0.5 0.8l0.5 4.2l0.5-0.5l0.5-2.2l0.5 2.6l0.5 3.3l0.5 1.2l0.5-0.8l0.5-4.2l0.5-2.7l0.5 0.7l0.5-1.3l0.5-2.8l0.5 2.9l0.5 6.3l0.5-1.4l0.5-5.4l0.5 1.8l0.5 3.8l0.5-2l0.5-0.2l0.5 5l0.5 1.8l0.5 0l0.5 4.3l0.5 4.4l0.5 3.8l0.5 6.5l0.5 4.2l0.5-0.2l0.5 0.2l0.5-3.1l0.5-5.5l0.5-1.4l0.5 0.6l0.5 0.1l0.5 0.8l0.5-1.4l0.5-3.6l0.5-0.3l0.5 2.4l0.5-1.3l0.5-3.3l0.5 1.2l0.5 1.6l0.5-2.1l0.5 0.5l0.5-0.7l0.5-5.3l0.5-1.1l0.5 5.5l0.5 4.5l0.5 1.3l0.5 4.4l0.5 6.4l0.5 1.4l0.5-2.7l0.5-4.7l0.5-5.2l0.5-3.6l0.5-3.8l0.5-4.8l0.5-0.5l0.5 1.3l0.5-5.6l0.5-8.3l0.5-1.1l0.5 6l0.5 4.1l0.5-1.1l0.5 1.8l0.5 2.9l0.5 2.1l0.5 0.7l0.5-2.4l0.5 0.8l0.5 6.3l0.5 8l0.5 5.6l0.5 2.9l0.5 1.3l0.5-4.1l0.5-9.5l0.5-7.8l0.5-3.7l0.5-0.9l0.5-1.6l0.5-5.3l0.5-3.3l0.5 5.1l0.5 9l0.5 9.2l0.5 17.4l0.5 27.5l0.5 27.2l0.5 18.8l0.5 10.4l0.5 5.2l0.5 2.6l0.5 1.3l0.5 0.8l0.5 0.5l0.5 0.3l0.5 0.2l0.5 0.2l0.5 0.1l0.5 0.1l0.5 0.1l0.5 0.1l0.5 0.1l0.5 0.1l0.5 0.2l0.5 0.1l0.5 0.2l0.5 0.2l0.5 0.1l0.5 0.2l0.5 0.1l0.5 0.1l0.5 0.1l0.5 0l0.5 0.1l0.5 0.2l0.5 0.1l0.5 0.1l0.5 0.2l0.5 0.1l0.5 0.1l0.5 0l0.5 0l0.5 0l0.5-0.1l0.5 0l0.5 0l0.5 0l0.5 0.1l0.5 0.1l0.5 0.1l0.5 0l0.5 0l0.5 0.1l0.5 0l0.5 0l0.5 0l0.5 0.1l0.5 0l0.5 0.1l0.5 0l0.5 0l0.5-0.1l0.5 0l0.5 0l0.5-0.1l0.5 0l0.5-0.1l0.5 0l0.5-0.1l0.5-0.1l0.5 0l0.5-0.1l0.5 0l0.5 0l0.5 0l0.5 0l0.5 0l0.5 0l0.6 0.1l0.5 0l0.5 0.1l0.5 0l0.5 0.1l0.5 0l0.5 0.1l0.5 0l0.5 0.1l0.5 0.1l0.5 0l0.5 0l0.5 0l0.5 0l0.5-0.1l0.5-0.2l0.5-0.2l0.5-0.1l0.5-0.1l0.5-0.1l0.5 0l0.5 0l0.5 0l0.5 0.1l0.5 0.1l0.5 0.1l0.5 0.2l0.5 0.1l0.5 0.1l0.5 0l0.5 0l0.5 0l0.5 0l0.5 0l0.5-0.1l0.5 0l0.5 0l0.5-0.1l0.5 0l0.5 0l0.5-0.1l0.5-0.1l0.5-0.2l0.5-0.1l0.5 0l0.5-0.1l0.5 0l0.5 0l0.5 0l0.5 0l0.5-0.1l0.5 0l0.5-0.1l0.5 0l0.5 0l0.5 0l0.5 0l0.5 0l0.5 0l0.5 0l0.5 0l0.5 0l0.5 0l0.5 0l0.5 0l0.5 0l0.5 0l0.5-0.1l0.5 0l0.5 0l0.5 0l0.5 0l0.5-0.1l0.5 0l0.5-0.1l0.5 0l0.5 0l0.5 0l0.5 0l0.5 0l0.5-0.1l0.5 0l0.5-0.1l0.5-0.1l0.5 0l0.5-0.1l0.5 0l0.5-0.1l0.5-0.1l0.5-0.1l0.5-0.1l0.5-0.1l0.5 0l0.5-0.1l0.5 0l0.5 0.1l0.5 0l0.5 0l0.5 0.1l0.5 0l0.5-0.1l0.5-0.1l0.5 0l0.5-0.1l0.5 0l0.5 0l0.5-0.1l0.5-0.1l0.5-0.2l0.5-0.2l0.5-0.4l0.5-0.6l0.5-0.7l0.5-0.6l0.5 0.1l0.5 0.6l0.5 0.4l0.5 0.3l0.5 0.2l0.5 0.1l0.5 0.1l0.5 0.1l0.5 0.1l0.5 0l0.5-0.1l0.5-0.1l0.5-0.1l0.5-0.1l0.5-0.1l0.5-0.1l0.5 0l0.5-0.1l0.5-0.2l0.5-0.3l0.5-0.4l0.5-0.7l0.5-0.8l0.5-0.2l0.5 0.7l0.5 0.7l0.5 0.5l0.5 0.2l0.5 0.2l0.5 0.1l0.5 0.1l0.5 0.1l0.5 0l0.5 0.1l0.5 0l0.5-0.1l0.5-0.1l0.5-0.1l0.5-0.3l0.5-0.4l0.5-0.5l0.5-0.8l0.5-0.6l0.5 0.2l0.5 0.6l0.5 0.5l0.5 0.3l0.5 0.2l0.5 0.2l0.5 0.1l0.5 0.1l0.5 0l0.5-0.1l0.5-0.2l0.5-0.2l0.5-0.4l0.5-0.5l0.5-0.8l0.5-1.1l0.5-1.3l0.5-0.5l0.5 0.7l0.5 1l0.5 0.7l0.5 0.4l0.5 0.3l0.5 0.2l0.5 0.2l0.5 0l0.5 0l0.5-0.2l0.5-0.5l0.5-0.7l0.5-0.7l0.5 0.1l0.5 0.7l0.5 0.6l0.5 0.3l0.5 0.1l0.5 0l0.5-0.2l0.5-0.3l0.6-0.3l0.5-0.4l0.5-0.7l0.5-0.9l0.5-1.4l0.5-0.8l0.5 0.7l0.5 1.4l0.5 1.1l0.5 0.7l0.5 0.6l0.5 0.5l0.5 0.4l0.5 0.3l0.5 0.3l0.5 0.2l0.5 0.1l0.5 0.1l0.5-0.1l0.5 0l0.5-0.1l0.5-0.1l0.5 0l0.5 0l0.5 0l0.5 0.1l0.5 0.1l0.5 0l0.5 0.1l0.5 0l0.5 0l0.5 0.1l0.5 0l0.5-0.1l0.5 0l0.5 0l0.5 0.1l0.5 0.1l0.5 0.1l0.5 0.1l0.5 0.2l0.5 0.2l0.5 0.3l0.5 0.2l0.5 0.2l0.5 0.2l0.5 0.2l0.5 0.1l0.5 0.2l0.5 0.1l0.5 0.2l0.5 0.3l0.5 0.2l0.5 0.3l0.5 0.2l0.5 0.3l0.5 0.2l0.5 0.2l0.5 0.1l0.5 0l0.5 0l0.5-0.1l0.5 0l0.5 0l0.5 0.1l0.5 0l0.5 0l0.5 0l0.5-0.1l0.5 0l0.5-0.1l0.5 0l0.5-0.1l0.5 0l0.5-0.1l0.5 0l0.5 0l0.5 0.1l0.5 0l0.5 0.1l0.5 0.1l0.5 0.1l0.5 0l0.5 0.1l0.5 0l0.5 0.1l0.5 0l0.5 0l0.5 0l0.5 0l0.5 0.1l0.5 0.1l0.5 0l0.5 0.1l0.5 0l0.5 0.1l0.5 0l0.5 0.1l0.5 0.1l0.5 0l0.5 0.1l0.5 0l0.5 0.1l0.5 0l0.5 0l0.5 0l0.5 0l0.5-0.1l0.5-0.1l0.5-0.2l0.5-0.1l0.5-0.2l0.5-0.1l0.5-0.1l0.5-0.1l0.5 0.1l0.5 0.1l0.5 0.1l0.5 0.2l0.5 0.1l0.5 0.1l0.5 0.1l0.5 0l0.5 0.1l0.5 0.1l0.5 0.1l0.5 0l0.5 0l0.5-0.1l0.5-0.1l0.5 0l0.5-0.1l0.5-0.1l0.5 0l0.5 0.1l0.5 0l0.5 0.1l0.5 0.1l0.5 0l0.5 0l0.5 0l0.5 0l0.5 0.1l0.5 0.1l0.5 0l0.5 0l0.5-0.1l0.5-0.1l0.5-0.2l0.5-0.2l0.5-0.2l0.5-0.1l0.5 0l0.5 0l0.5-0.1l0.5 0l0.5 0l0.5 0l0.5 0l0.5 0l0.5 0l0.5 0l0.5-0.1l0.5-0.1l0.5 0l0.5 0l0.5 0l0.5 0l0.5 0.1l0.5 0.1l0.5 0l0.5 0.1l0.5 0l0.5 0l0.5 0l0.5 0l0.5 0l0.5 0l0.5 0.1l0.5 0.1l0.5 0.1l0.5 0.1l0.5-0.1l0.5 0l0.5-0.2l0.5-0.1l0.5-0.2l0.5-0.1l0.5-0.1l0.5 0l0.5 0l0.5 0.1l0.5 0.1l0.5 0.1l0.5 0.2l0.6 0.1l0.5 0.1l0.5 0l0.5 0l0.5 0l0.5-0.1l0.5 0l0.5 0l0.5 0l0.5 0l0.5 0.1l0.5 0.1l0.5 0.1l0.5 0l0.5 0l0.5 0l0.5-0.1l0.5 0l0.5-0.1l0.5 0M921 782.9l0.5-0.1l0.5-0.2l0.5-0.2l0.5-0.1l0.5-0.3l0.5-0.3l0.5 0l0.5 0l0.5-0.3l0.5-0.1l0.5 0l0.5 0.7l0.5 0.8l0.5-0.3l0.5-0.9l0.5 0l0.5 0.3l0.5-0.1l0.5-0.4l0.5-0.7l0.5-0.4l0.5 0l0.5 0.5l0.5 0.5l0.5 0.1l0.5-0.4l0.5-0.6l0.5-0.6l0.5-0.1l0.5-0.1l0.5-0.4l0.5-0.2l0.5-0.1l0.5-0.4l0.5-0.4l0.5 0l0.5 0.1l0.5 0l0.5-0.3l0.5-0.6l0.5-0.6l0.5 0.1l0.5 0.2l0.5-0.4l0.5-0.5l0.5 0.1l0.5 0.1l0.5-0.1l0.5-0.6l0.5-0.8l0.5-0.2l0.5 0.4l0.5-0.2l0.5-0.4l0.5 0.2l0.5 0.2l0.5-0.7l0.5-0.9l0.5 0.3l0.5 0.4l0.5-0.3l0.5-0.3l0.5-0.7l0.5-0.9l0.5-0.4l0.5 0.2l0.5-0.1l0.5-0.7l0.5-0.2l0.5 0.2l0.5-0.7l0.5-1.4l0.5-1l0.5-0.3l0.5 0l0.5 0.4l0.5 0.2l0.5-1l0.5-1.2l0.5-0.2l0.5 0.1l0.5-0.4l0.5-0.8l0.5-0.7l0.5 0l0.5 0.1l0.5-0.9l0.5-0.6l0.5-0.4l0.5-0.8l0.5-0.6l0.5-0.5l0.5-1.2l0.5-1l0.5-0.1l0.5 0.6l0.5-0.1l0.5-0.9l0.5-0.1l0.5-0.1l0.5-1.3l0.5-0.8l0.5-0.5l0.5-0.4l0.5 0.9l0.5 0.8l0.5-1.5l0.5-1.5l0.5-0.3l0.5-1.3l0.5-1.9l0.5-0.7l0.5 0.4l0.5 0.4l0.5 0.1l0.5-0.7l0.5-0.9l0.5 0l0.5-0.7l0.5-2l0.5-1.3l0.5 0.5l0.5 0.1l0.5-1.2l0.5-0.4l0.5-0.2l0.5-1.4l0.5-0.3l0.5 1.1l0.5-0.4l0.5-1.6l0.5 0l0.5 0.1l0.5-1.4l0.5-0.2l0.5-0.3l0.5-2.2l0.5-1.7l0.5 0.6l0.5 1.2l0.5-1.2l0.5-1.2l0.5 1l0.5-0.9l0.5-2.7l0.5-2.2l0.5-0.4l0.5 0.7l0.5-2.1l0.5-3.2l0.5-0.4l0.5-0.5l0.5-3.1l0.5-2.6l0.5 0.4l0.5 0.1l0.6-3l0.5-3.3l0.5-1.7l0.5-1.5l0.5-1.9l0.5-1.6l0.5-1.9l0.5-0.2l0.5 0.7l0.5-2.6l0.5-3l0.5-0.4l0.5-2.7l0.5-5.1l0.5-1.4l0.5 2.9l0.5-0.7l0.5-6.4l0.5-4.7l0.5-0.5l0.5-0.8l0.5-1.9l0.5-0.7l0.5-2.4l0.5-3.9l0.5-1.2l0.5 0.7l0.5-0.7l0.5-2.5l0.5-3.9l0.5-3.2l0.5 0l0.5 2.9l0.5 1.1l0.5-3.3l0.5-1.7l0.5 0.5l0.5 0.4l0.5-0.7l0.5-4.2l0.5-4.4l0.5-0.1l0.5 3.5l0.5 2.4l0.5-0.2l0.5 2.7l0.5 4.1l0.5 2.1l0.5 3.3l0.5-0.6l0.5-3.6l0.5 1.7l0.5 1.8l0.5-2.8l0.5-1.2l0.5 0.6l0.5-2.2l0.5-2.1l0.5 1.9l0.5 3.2l0.5-0.6l0.5-3.4l0.5-4.1l0.5-1.5l0.5 2.7l0.5 0.5l0.5-3.9l0.5-1.5l0.5 4.8l0.5 8.1l0.5 6.1l0.5 2.5l0.5-0.2l0.5 1.1l0.5 4.8l0.5 7.1l0.5 4.5l0.5 0l0.5 0.4l0.5-0.7l0.5-3.3l0.5-1.1l0.5 3.5l0.5 4.3l0.5 0.8l0.5-4.1l0.5-4.5l0.5-1.3l0.5-2l0.5-3.5l0.5-0.8l0.5 2.4l0.5-0.9l0.5-4.6l0.5-2.6l0.5-2.3l0.5-1.2l0.5 3.1l0.5 2.9l0.5 1.1l0.5 5.3l0.5 8.2l0.5 1.9l0.5-3.4l0.5-1.2l0.5-0.6l0.5-4.4l0.5-6.3l0.5-3.1l0.5-1.2l0.5-4l0.5-3.4l0.5-0.2l0.5-3.1l0.5-4.4l0.5-2.9l0.5-2l0.5 0.6l0.5 0.3l0.5-1l0.5 2l0.5 6.2l0.5 6.2l0.5 4.3l0.5 6.3l0.5 8.9l0.5 5.3l0.5 0.4l0.5 0.2l0.5-1.5l0.5-5.2l0.5-7.9l0.5-10l0.5-7.1l0.5-0.5l0.5 2l0.5-1.3l0.5-0.9l0.5 3.6l0.5 10.1l0.5 20.3l0.5 28l0.5 26.6l0.5 18.2l0.5 10.1l0.5 5.1l0.5 2.4l0.5 1.2l0.5 0.7l0.5 0.3l0.5 0.3l0.5 0.2l0.5 0.3l0.5 0.4l0.5 0.3l0.5 0.3l0.5 0.2l0.5 0.1l0.5 0.1l0.5 0l0.5 0l0.5 0l0.5 0l0.5 0.1l0.5 0l0.5 0.1l0.5 0.2l0.5 0.1l0.5 0.1l0.5 0.1l0.5 0.1l0.5 0l0.5 0l0.5-0.1l0.5 0l0.5 0.1l0.5 0l0.5 0.1l0.5 0.1l0.5 0.2l0.5 0.2l0.5 0.1l0.5 0.2l0.5 0.1l0.5 0.1l0.5 0.1l0.5 0.1l0.5 0l0.5-0.1l0.5 0l0.5-0.1l0.5-0.1l0.5 0l0.5 0l0.5 0l0.6 0.1l0.5 0l0.5 0.1l0.5 0l0.5 0l0.5 0l0.5-0.1l0.5-0.1l0.5 0l0.5 0l0.5 0l0.5 0.1l0.5 0l0.5 0.1l0.5 0l0.5 0l0.5 0l0.5 0l0.5 0l0.5-0.1l0.5 0l0.5 0l0.5 0l0.5 0.1l0.5 0l0.5 0l0.5 0l0.5-0.2l0.5-0.1l0.5-0.2l0.5-0.1l0.5-0.1l0.5 0l0.5 0l0.5 0.1l0.5 0.1l0.5 0l0.5 0.1l0.5 0.2l0.5 0.1l0.5 0.1l0.5 0.1l0.5 0l0.5 0l0.5 0l0.5-0.1l0.5-0.1l0.5-0.1l0.5 0l0.5-0.1l0.5 0.1l0.5 0l0.5 0l0.5 0l0.5 0l0.5 0l0.5 0l0.5-0.1l0.5 0.1l0.5 0l0.5 0l0.5 0.1l0.5 0l0.5 0l0.5-0.1l0.5 0l0.5-0.1l0.5-0.1l0.5 0l0.5 0l0.5-0.1l0.5 0l0.5 0l0.5-0.1l0.5-0.1l0.5 0l0.5-0.1l0.5-0.1l0.5-0.1l0.5-0.2l0.5-0.1l0.5-0.2l0.5-0.2l0.5-0.1l0.5-0.1l0.5-0.1l0.5-0.1l0.5-0.1l0.5 0l0.5 0.1l0.5 0l0.5 0l0.5 0.1l0.5 0l0.5-0.1l0.5 0l0.5 0l0.5 0l0.5 0l0.5 0l0.5 0.1l0.5 0.1l0.5 0.1l0.5 0.1l0.5 0l0.5 0l0.5-0.1l0.5-0.1l0.5-0.2l0.5-0.1l0.5-0.1l0.5-0.1l0.5-0.1l0.5-0.1l0.5-0.1l0.5 0l0.5 0l0.5 0.1l0.5 0.1l0.5 0.1l0.5 0l0.5 0l0.5 0l0.5-0.1l0.5-0.1l0.5-0.2l0.5-0.1l0.5-0.3l0.5-0.3l0.5-0.4l0.5-0.5l0.5-0.8l0.5-0.6l0.5 0.2l0.5 0.6l0.5 0.6l0.5 0.4l0.5 0.2l0.5 0.2l0.5 0.2l0.5 0.1l0.5 0l0.5 0l0.5-0.1l0.5-0.1l0.5-0.2l0.5-0.1l0.5-0.2l0.5-0.1l0.5-0.1l0.5-0.1l0.5-0.1l0.5-0.2l0.5-0.4l0.5-0.7l0.5-0.8l0.5-0.1l0.5 0.6l0.5 0.8l0.5 0.4l0.5 0.3l0.5 0l0.5 0l0.5-0.1l0.5-0.2l0.5-0.1l0.5-0.1l0.5-0.1l0.5 0l0.5 0l0.5 0l0.5 0l0.5-0.2l0.5-0.3l0.5-0.6l0.5-0.5l0.5 0.3l0.5 0.7l0.5 0.5l0.5 0.3l0.5 0.1l0.5 0.1l0.5 0l0.5-0.1l0.5-0.1l0.5-0.1l0.5-0.2l0.5-0.1l0.5-0.3l0.5-0.3l0.5-0.6l0.5-0.9l0.5-1.2l0.5-0.4l0.5 0.6l0.6 0.9l0.5 0.6l0.5 0.4l0.5 0.2l0.5 0.1l0.5 0.1l0.5 0l0.5-0.1l0.5-0.2l0.5-0.5l0.5-0.7l0.5-0.6l0.5 0l0.5 0.8l0.5 0.6l0.5 0.3l0.5 0l0.5 0l0.5-0.1l0.5-0.2l0.5-0.3l0.5-0.4l0.5-0.6l0.5-1l0.5-1.4l0.5-0.9l0.5 0.6l0.5 1.3l0.5 0.9l0.5 0.6l0.5 0.5l0.5 0.3l0.5 0.3l0.5 0.4l0.5 0.3l0.5 0.3l0.5 0.2l0.5 0.3l0.5 0.1l0.5 0.1l0.5 0.1l0.5 0.1l0.5 0l0.5 0.1l0.5 0l0.5 0l0.5-0.1l0.5 0l0.5-0.1l0.5-0.1l0.5 0l0.5 0l0.5 0l0.5 0.1l0.5 0l0.5 0l0.5 0.2l0.5 0.2l0.5 0.2l0.5 0.3l0.5 0.2l0.5 0.2l0.5 0.1l0.5 0.1l0.5 0l0.5 0l0.5 0.1l0.5 0.2l0.5 0.2l0.5 0.3l0.5 0.3l0.5 0.2l0.5 0.2l0.5 0.1l0.5 0l0.5 0.1l0.5 0l0.5 0l0.5 0l0.5 0l0.5 0l0.5 0.1l0.5 0.1l0.5 0.1l0.5 0.1l0.5 0.2l0.5 0.1l0.5 0.1l0.5 0l0.5 0.1l0.5 0l0.5 0l0.5 0.1l0.5 0l0.5 0.1l0.5 0.1l0.5 0l0.5 0l0.5 0l0.5 0l0.5-0.1l0.5-0.1l0.5-0.1l0.5-0.1l0.5 0l0.5 0l0.5 0l0.5 0l0.5 0.1l0.5 0.1l0.5 0.1l0.5 0.1l0.5 0.1l0.5 0.1l0.5 0l0.5 0.1l0.5 0.2l0.5 0l0.5 0.1l0.5 0l0.5-0.1l0.5 0l0.5-0.1l0.5 0.1l0.5 0l0.5 0.1l0.5 0l0.5 0.1l0.5-0.1l0.5 0l0.5-0.1l0.5-0.1l0.5 0l0.5-0.1l0.5 0l0.5 0l0.5 0l0.5 0l0.5 0l0.5 0.1l0.5 0l0.5 0l0.5-0.1l0.5 0l0.5-0.1l0.5-0.1l0.5 0l0.5 0l0.5 0l0.5 0l0.5 0l0.5 0l0.5-0.1l0.5 0l0.5 0l0.5-0.1l0.5 0l0.5-0.1l0.5 0.1l0.5 0l0.5 0.1l0.5 0l0.5 0.1l0.5 0l0.5 0l0.5-0.1l0.5 0l0.5-0.1l0.5 0l0.5 0l0.5 0.1l0.5 0.1l0.5 0.1l0.5 0.1l0.5 0.1l0.5 0l0.5 0l0.5 0l0.5 0l0.5-0.1l0.5 0l0.5-0.1l0.5 0l0.5 0l0.5-0.1l0.5 0l0.5-0.1l0.5 0l0.5 0l0.5 0l0.5 0.1l0.5 0l0.5 0.1l0.5 0l0.5 0l0.6 0.1l0.5 0l0.5 0l0.5 0l0.5 0l0.5 0l0.5-0.1l0.5-0.1l0.5-0.1l0.5-0.1l0.5-0.1l0.5 0l0.5-0.1l0.5 0l0.5 0l0.5 0.1l0.5 0l0.5 0.1l0.5 0.1l0.5 0.1l0.5 0l0.5 0.1l0.5 0l0.5 0.1l0.5 0l0.5 0.1l0.5 0l0.5 0l0.5-0.1l0.5-0.1l0.5-0.1l0.5-0.1l0.5-0.1l0.5 0l0.5 0l0.5-0.1l0.5 0l0.5-0.1l0.5 0l0.5-0.1M908.4 805.2l0.5-0.1l0.5-0.1l0.5-0.2l0.5-0.3l0.5-0.3l0.5 0.1l0.5-0.1l0.5-0.3l0.5 0.2l0.5 0.4l0.5 0.2l0.5-0.2l0.5-0.5l0.5-0.5l0.5-0.4l0.5 0.1l0.5-0.1l0.5-0.1l0.5 0.2l0.5 0.1l0.5-0.2l0.5 0l0.5 0l0.5-0.3l0.5-0.4l0.5 0.4l0.5 0.6l0.5-0.1l0.5-0.4l0.5-0.5l0.5-0.5l0.5-0.1l0.5 0.2l0.5 0.2l0.5 0l0.5-0.4l0.5-0.8l0.5-0.6l0.5-0.2l0.5 0.2l0.5 0l0.5 0.1l0.5-0.1l0.5-0.3l0.5 0l0.5 0.1l0.5-0.4l0.5-0.7l0.5-0.4l0.5 0.1l0.5-0.4l0.5-0.4l0.5-0.1l0.5-0.7l0.5-0.6l0.5 0.2l0.5 0.1l0.5-0.4l0.5-0.4l0.5-0.2l0.5 0.1l0.5 0.1l0.5-0.5l0.5-0.6l0.5-0.2l0.5-0.5l0.5-0.9l0.5-0.3l0.5-0.3l0.5-0.8l0.5-0.3l0.5 0.5l0.5 0.2l0.5-0.7l0.5-0.6l0.5-0.4l0.5-1.1l0.5-1.1l0.5 0.3l0.5 0.9l0.5 0.3l0.5-0.4l0.5-1.3l0.5-1.7l0.5-0.2l0.5 0.8l0.5-0.4l0.5-0.8l0.5 0.4l0.5-0.1l0.5-1.7l0.5-0.8l0.5 0.1l0.5-0.4l0.5-0.7l0.5-1.1l0.5-1.7l0.5-0.7l0.5-0.5l0.5-0.7l0.5-0.5l0.5 0.1l0.5 0.4l0.5-0.4l0.5-0.7l0.5-0.1l0.5-0.4l0.5-0.2l0.5-0.7l0.5-2.4l0.5-1.8l0.5 0.1l0.5 0.4l0.5-1.1l0.5-0.4l0.5 1.5l0.5 0.2l0.5-1.8l0.5-1.1l0.5-0.7l0.5-0.9l0.5 0.1l0.5 0.1l0.5-1.7l0.5-1.7l0.5-0.8l0.5-0.9l0.5 0.4l0.5 1.3l0.5-0.7l0.5-1.8l0.5 0.3l0.5 1.4l0.5 0.2l0.5-0.4l0.5-2l0.6-2.7l0.5-0.8l0.5-0.2l0.5-1.2l0.5 0.1l0.5 1.6l0.5-0.1l0.5-1l0.5-0.3l0.5-2.2l0.5-2l0.5-0.1l0.5-1.1l0.5-2l0.5-0.9l0.5 0.1l0.5-0.4l0.5 0.8l0.5 1.4l0.5-2.3l0.5-3.2l0.5 0.1l0.5-0.3l0.5-1.5l0.5-0.5l0.5-1.6l0.5-3.6l0.5-2.5l0.5 0.1l0.5 1.8l0.5 1.7l0.5 0.3l0.5-2.7l0.5-5.2l0.5-2.2l0.5 2.4l0.5 1.2l0.5-2.3l0.5-1.7l0.5-2.5l0.5-3.2l0.5-1l0.5-2.5l0.5-4.3l0.5-2.1l0.5 1.4l0.5 1l0.5-2.7l0.5-1.6l0.5 0.8l0.5-0.2l0.5 0.2l0.5-2.2l0.5-7l0.5-5.2l0.5-1.2l0.5-1l0.5-1.1l0.5-0.3l0.5-2.6l0.5-2.8l0.5 0.6l0.5-1.1l0.5-4.5l0.5-1.8l0.5 3l0.5 3.3l0.5 0.5l0.5 1.5l0.5 2.2l0.5 1.6l0.5 2.7l0.5 0.2l0.5-2.1l0.5 1.3l0.5 3.8l0.5-1.2l0.5-3.6l0.5 0.6l0.5-0.4l0.5-4.3l0.5-0.6l0.5 1.7l0.5-2.2l0.5-0.3l0.5 2.8l0.5-2.2l0.5-2.9l0.5 3.4l0.5 6.1l0.5 6.5l0.5 5.1l0.5 0.1l0.5 1.3l0.5 6.2l0.5 4.7l0.5 0.8l0.5 2.5l0.5 4.8l0.5 0.5l0.5-3l0.5-0.2l0.5 1.6l0.5 0.5l0.5 1.4l0.5 1l0.5-2.3l0.5-2.2l0.5-0.7l0.5-3.9l0.5-4.7l0.5-1l0.5-1.4l0.5-4.7l0.5-3.5l0.5-2l0.5-1.6l0.5 2.3l0.5 4.8l0.5 1l0.5 0l0.5 3.3l0.5 3.7l0.5 2.9l0.5 1.7l0.5-2.7l0.5-4.5l0.5-3.2l0.5-6l0.5-7.7l0.5-3.9l0.5-1.4l0.5-3.2l0.5-0.4l0.5 3.2l0.5-3l0.5-7.2l0.5-1.5l0.5 5.8l0.5 5.4l0.5-0.7l0.5 0.3l0.5 5.1l0.5 5.8l0.5 7.2l0.5 6.1l0.5 1.4l0.5 1.5l0.5 2.1l0.5-3.5l0.5-7.1l0.5-7.2l0.5-7.6l0.5-3.1l0.5 1.8l0.5-2.1l0.5-3.6l0.5 4.6l0.5 7.8l0.5 6.2l0.5 14.4l0.5 24.5l0.5 24.6l0.5 16.8l0.5 9.2l0.5 4.5l0.5 2.2l0.5 1l0.5 0.5l0.5 0.3l0.5 0.1l0.5 0.2l0.5 0.2l0.5 0.2l0.5 0.3l0.5 0.4l0.5 0.4l0.5 0.4l0.5 0.3l0.5 0.3l0.5 0.2l0.5 0.1l0.5 0.1l0.5 0.1l0.5 0l0.5 0.1l0.5 0.1l0.5 0.2l0.5 0.2l0.5 0.3l0.5 0.2l0.5 0.1l0.5 0.1l0.5 0.1l0.5-0.1l0.6 0l0.5-0.1l0.5-0.1l0.5 0l0.5 0l0.5-0.1l0.5 0l0.5 0l0.5 0l0.5 0l0.5 0l0.5 0.1l0.5 0l0.5 0l0.5 0l0.5 0l0.5 0l0.5 0l0.5 0l0.5 0l0.5 0.1l0.5 0.1l0.5 0l0.5 0l0.5 0.1l0.5 0l0.5 0l0.5 0l0.5 0l0.5-0.1l0.5 0l0.5-0.1l0.5 0l0.5 0l0.5 0.1l0.5 0.1l0.5 0.1l0.5 0.1l0.5 0.1l0.5 0l0.5 0l0.5-0.1l0.5-0.1l0.5-0.1l0.5-0.1l0.5-0.1l0.5-0.1l0.5 0l0.5 0.1l0.5 0.1l0.5 0.2l0.5 0l0.5 0.1l0.5 0l0.5 0l0.5-0.1l0.5 0l0.5 0l0.5 0l0.5 0l0.5-0.1l0.5-0.1l0.5-0.2l0.5-0.1l0.5-0.1l0.5-0.1l0.5 0l0.5-0.1l0.5 0l0.5 0l0.5 0l0.5 0.1l0.5 0.1l0.5 0.1l0.5 0.1l0.5 0.1l0.5 0.1l0.5 0.1l0.5 0l0.5-0.1l0.5-0.1l0.5-0.1l0.5-0.1l0.5-0.1l0.5 0l0.5 0l0.5 0.1l0.5 0l0.5 0l0.5 0l0.5-0.1l0.5-0.1l0.5-0.1l0.5 0l0.5-0.1l0.5-0.1l0.5 0l0.5-0.1l0.5 0l0.5-0.1l0.5 0l0.5 0l0.5 0l0.5-0.1l0.5-0.1l0.5-0.1l0.5-0.1l0.5-0.1l0.5-0.1l0.5-0.1l0.5 0l0.5-0.1l0.5 0l0.5 0l0.5 0l0.5 0.1l0.5 0l0.5 0.1l0.5 0.1l0.5 0.1l0.5 0l0.5 0l0.5-0.1l0.5 0l0.5-0.1l0.5 0l0.5 0l0.5 0.1l0.5 0.1l0.5 0.1l0.5 0l0.5-0.1l0.5-0.1l0.5-0.2l0.5-0.1l0.5-0.2l0.5-0.1l0.5-0.1l0.5 0l0.5-0.1l0.5-0.1l0.5 0l0.5-0.1l0.5 0l0.5 0l0.5-0.1l0.5-0.1l0.5-0.3l0.5-0.3l0.5-0.4l0.5-0.6l0.5-0.7l0.5-0.5l0.5 0.2l0.5 0.7l0.5 0.6l0.5 0.4l0.5 0.2l0.5 0l0.5 0l0.5 0l0.5 0l0.5 0l0.5 0l0.5 0l0.5 0.1l0.5 0l0.5-0.1l0.5-0.2l0.5-0.2l0.5-0.3l0.5-0.3l0.5-0.4l0.5-0.4l0.5-0.7l0.5-0.7l0.5 0l0.5 0.7l0.5 0.8l0.5 0.5l0.5 0.2l0.5 0.1l0.5 0l0.5 0l0.5 0l0.5-0.1l0.5-0.1l0.5-0.2l0.5-0.1l0.5-0.1l0.5-0.2l0.5-0.2l0.5-0.2l0.5-0.4l0.5-0.6l0.5-0.3l0.6 0.3l0.5 0.8l0.5 0.5l0.5 0.3l0.5 0.1l0.5 0l0.5-0.1l0.5-0.1l0.5 0l0.5-0.1l0.5-0.1l0.5-0.1l0.5-0.2l0.5-0.3l0.5-0.5l0.5-0.9l0.5-1l0.5-0.3l0.5 0.9l0.5 1.1l0.5 0.7l0.5 0.4l0.5 0.2l0.5 0.1l0.5-0.1l0.5-0.2l0.5-0.2l0.5-0.4l0.5-0.5l0.5-0.8l0.5-0.7l0.5 0.2l0.5 0.8l0.5 0.7l0.5 0.4l0.5 0.2l0.5 0.1l0.5-0.1l0.5-0.2l0.5-0.2l0.5-0.5l0.5-0.7l0.5-1l0.5-1.4l0.5-0.8l0.5 0.7l0.5 1.5l0.5 1.1l0.5 0.7l0.5 0.5l0.5 0.3l0.5 0.2l0.5 0l0.5 0.1l0.5 0l0.5 0l0.5 0l0.5 0.1l0.5 0.2l0.5 0.1l0.5 0.2l0.5 0.2l0.5 0.2l0.5 0l0.5 0l0.5-0.1l0.5-0.1l0.5-0.1l0.5-0.2l0.5-0.1l0.5 0l0.5 0l0.5 0l0.5 0l0.5 0.1l0.5 0l0.5 0.1l0.5 0.1l0.5 0.1l0.5 0.2l0.5 0.2l0.5 0.2l0.5 0.3l0.5 0.3l0.5 0.2l0.5 0.3l0.5 0.2l0.5 0.3l0.5 0.2l0.5 0.2l0.5 0.2l0.5 0.2l0.5 0.1l0.5 0.1l0.5 0l0.5 0l0.5 0l0.5 0l0.5-0.1l0.5 0l0.5 0l0.5 0l0.5 0.1l0.5 0.2l0.5 0.1l0.5 0.2l0.5 0.1l0.5 0.2l0.5 0l0.5 0l0.5 0l0.5 0l0.5-0.1l0.5 0l0.5 0.1l0.5 0.1l0.5 0.1l0.5 0.1l0.5 0.1l0.5 0l0.5 0l0.5-0.1l0.5 0l0.5-0.1l0.5-0.1l0.5 0l0.5-0.1l0.5 0l0.5 0l0.5 0.1l0.5 0.1l0.5 0.2l0.5 0.1l0.5 0.1l0.5 0.1l0.5 0l0.5 0l0.5-0.1l0.5 0l0.5-0.1l0.5 0l0.5 0l0.5 0l0.5 0l0.5 0l0.5 0l0.5-0.1l0.5-0.1l0.5-0.1l0.5-0.1l0.5-0.1l0.5 0l0.5-0.1l0.5 0l0.5 0l0.5 0l0.5 0l0.5 0l0.5 0l0.5 0l0.5 0.1l0.5 0.1l0.5 0.2l0.5 0.2l0.5 0.2l0.5 0.1l0.5 0.1l0.5 0l0.5 0l0.5-0.1l0.5-0.1l0.5-0.1l0.5-0.2l0.5 0l0.5-0.1l0.5 0.1l0.5 0.1l0.5 0.1l0.5 0.1l0.5 0.1l0.5 0l0.5 0l0.5-0.1l0.5-0.1l0.5 0l0.5 0l0.5 0l0.5 0l0.5 0l0.5 0l0.5-0.1l0.5-0.1l0.5-0.2l0.5 0l0.5 0l0.6 0l0.5 0.1l0.5 0.1l0.5 0.2l0.5 0.1l0.5 0l0.5 0l0.5 0l0.5-0.1l0.5-0.1l0.5 0l0.5 0.1l0.5 0.1l0.5 0.1l0.5 0.1l0.5 0.1l0.5 0l0.5-0.1l0.5-0.1l0.5-0.1l0.5-0.1l0.5-0.1l0.5-0.1l0.5 0l0.5 0l0.5 0l0.5 0l0.5 0l0.5 0l0.5 0l0.5 0l0.5 0.1l0.5 0l0.5 0.1l0.5 0l0.5 0l0.5-0.1l0.5-0.1l0.5-0.1l0.5-0.2l0.5-0.1l0.5 0l0.5 0l0.5 0.1l0.5 0.1l0.5 0.2l0.5 0.2l0.5 0.1l0.5 0.2l0.5 0.1l0.5 0l0.5-0.1l0.5-0.2l0.5-0.1l0.5-0.2l0.5-0.1l0.5 0l0.5 0l0.5 0.1M895.8 825.7l0.5-0.3l0.5-0.4l0.5 0.1l0.5 0.2l0.5-0.2l0.5-0.2l0.5 0.4l0.5 0.5l0.5-0.2l0.5-0.8l0.5-0.5l0.5-0.1l0.5-0.2l0.5-0.2l0.5 0l0.5 0.1l0.5-0.2l0.5-0.3l0.5-0.1l0.5-0.1l0.5 0l0.5-0.1l0.5-0.3l0.5-0.3l0.5-0.1l0.5 0l0.5-0.3l0.5-0.3l0.5 0.1l0.5-0.3l0.5-0.3l0.5 0.3l0.5 0.1l0.5-0.4l0.5-0.4l0.5-0.1l0.5-0.2l0.5-0.3l0.5-0.4l0.5-0.5l0.5-0.4l0.5 0.2l0.5 0.2l0.5 0.2l0.5-0.2l0.5-0.3l0.5-0.3l0.5 0.2l0.5 0.3l0.5-0.5l0.5-0.8l0.5 0.1l0.5 0.2l0.5-0.1l0.5-0.4l0.5-0.4l0.5-0.6l0.5-0.4l0.5 0.3l0.5 0.6l0.5-0.1l0.5-0.5l0.5-0.5l0.5-0.8l0.5-0.7l0.5-0.6l0.5-0.5l0.5-0.1l0.5-0.4l0.5-0.9l0.5-0.5l0.5-0.1l0.5 0.4l0.5 0l0.5-0.6l0.5-1l0.5-1l0.5-0.4l0.5-0.3l0.5-0.8l0.5-0.4l0.5 0.5l0.5-0.4l0.5-0.9l0.5-0.3l0.5-0.3l0.5-0.7l0.5 0l0.5 0.6l0.5-0.7l0.5-1.3l0.5-0.8l0.5-1.1l0.5-1.1l0.5-0.4l0.5-0.3l0.5-1.1l0.5-0.5l0.5 0.7l0.5 0.3l0.5-0.8l0.5-0.6l0.5-0.7l0.5-0.9l0.5 0.3l0.5 0.3l0.5-1.3l0.5-1.7l0.5-0.4l0.5 0.1l0.5-0.9l0.5-0.2l0.5 1.3l0.5 0.2l0.5-1.2l0.5-1.9l0.5-2.4l0.6-0.8l0.5 1.4l0.5 1.7l0.5 0.3l0.5-0.7l0.5-1.8l0.5-1.9l0.5-0.7l0.5-1l0.5-1.6l0.5 0l0.5 1.4l0.5 0l0.5-1.5l0.5-1l0.5-1.3l0.5-1.2l0.5 0.2l0.5 0.2l0.5-0.9l0.5-1.1l0.5-0.2l0.5-1l0.5-1.7l0.5-0.8l0.5-0.7l0.5-1.1l0.5 0.2l0.5 2.5l0.5 1.3l0.5-2.2l0.5-2.2l0.5-1.2l0.5-0.6l0.5 0.4l0.5-0.9l0.5-1.6l0.5 1.1l0.5 2.3l0.5-0.9l0.5-1.4l0.5-0.2l0.5-2.7l0.5-2.7l0.5 0.4l0.5 0.9l0.5-1.2l0.5-0.5l0.5 2.1l0.5 0.2l0.5-2.9l0.5-2.4l0.5-2.4l0.5-2.3l0.5-0.3l0.5 0.2l0.5-1.1l0.5 0.7l0.5 2.3l0.5-1.5l0.5-3.8l0.5-1.8l0.5-1.6l0.5-2.1l0.5-0.4l0.5 0.2l0.5-0.9l0.5-0.8l0.5-1.7l0.5-3.6l0.5-1.6l0.5 1.7l0.5 1.2l0.5-0.4l0.5-0.8l0.5-3.7l0.5-3.2l0.5 0.3l0.5-0.8l0.5-3.8l0.5-2.4l0.5 0.6l0.5 0.7l0.5 1.1l0.5 4.6l0.5 3.8l0.5-0.1l0.5 1l0.5 0.1l0.5-1.4l0.5 0.9l0.5 0.5l0.5-1.3l0.5-0.3l0.5 1.5l0.5 1.2l0.5-1l0.5-2.6l0.5-3.1l0.5-0.5l0.5 1.1l0.5-2.3l0.5-4.3l0.5-0.5l0.5 3.6l0.5 2.1l0.5 0.9l0.5 2.7l0.5 1.1l0.5 0.5l0.5 4.6l0.5 7.3l0.5 6.3l0.5 5.1l0.5 3l0.5 1.7l0.5 2.9l0.5 2.6l0.5 1.4l0.5 2.9l0.5 3.7l0.5 0.7l0.5-1.2l0.5-0.5l0.5-0.7l0.5-1.3l0.5-1.2l0.5-2.6l0.5-4.5l0.5-4.5l0.5-3.1l0.5-2.2l0.5-3.9l0.5-4.3l0.5-1.3l0.5-0.5l0.5-1l0.5 0.3l0.5 1.6l0.5 3.1l0.5 3.5l0.5 1.1l0.5-0.1l0.5 1l0.5 0.2l0.5-3.5l0.5-5.7l0.5-4.2l0.5-3.6l0.5-3.9l0.5-4.1l0.5-5.1l0.5-2.9l0.5 0.3l0.5-0.7l0.5-1.3l0.5 2.9l0.5 5.6l0.5 0.5l0.5-3.1l0.5 2.9l0.5 8.5l0.5 6.5l0.5 3.1l0.5 0.9l0.5 0.5l0.5 2.4l0.5 2.2l0.5-3.1l0.5-6.3l0.5-4.5l0.5-5.6l0.5-6.6l0.5-3.2l0.5 0.3l0.5 1.7l0.5 2.7l0.5 4.1l0.5 6.4l0.5 13.7l0.5 20.7l0.5 20.2l0.5 13.8l0.5 7.7l0.5 3.9l0.5 2l0.5 1.1l0.5 0.7l0.5 0.4l0.5 0.4l0.5 0.2l0.5 0.2l0.5 0.1l0.5 0.1l0.5 0l0.6 0.1l0.5 0.1l0.5 0.2l0.5 0.2l0.5 0.3l0.5 0.3l0.5 0.3l0.5 0.3l0.5 0.2l0.5 0.1l0.5 0.1l0.5 0l0.5-0.1l0.5-0.1l0.5-0.1l0.5-0.1l0.5-0.1l0.5 0l0.5 0l0.5 0.1l0.5 0.1l0.5 0.1l0.5 0.2l0.5 0.3l0.5 0.1l0.5 0.2l0.5 0.1l0.5 0l0.5 0l0.5 0l0.5 0l0.5-0.1l0.5 0l0.5 0l0.5-0.1l0.5 0l0.5-0.1l0.5 0l0.5 0.1l0.5 0l0.5 0.1l0.5 0.1l0.5 0.1l0.5 0.1l0.5 0.1l0.5 0.1l0.5 0.1l0.5 0l0.5 0l0.5-0.1l0.5-0.1l0.5-0.3l0.5-0.2l0.5-0.1l0.5-0.1l0.5 0l0.5 0.1l0.5 0.1l0.5 0.1l0.5 0l0.5 0l0.5 0.1l0.5 0l0.5 0l0.5 0.1l0.5 0.1l0.5 0l0.5 0l0.5 0l0.5 0l0.5 0l0.5-0.1l0.5 0l0.5-0.1l0.5-0.1l0.5 0l0.5 0l0.5 0l0.5 0l0.5 0l0.5 0.1l0.5 0l0.5 0.1l0.5 0l0.5 0.1l0.5 0l0.5 0l0.5 0l0.5 0l0.5 0l0.5 0l0.5-0.1l0.5-0.1l0.5-0.1l0.5-0.1l0.5-0.1l0.5-0.1l0.5-0.1l0.5-0.1l0.5 0l0.5 0l0.5 0l0.5 0.1l0.5 0l0.5 0l0.5 0l0.5 0l0.5-0.1l0.5-0.1l0.5-0.2l0.5-0.2l0.5-0.1l0.5-0.2l0.5-0.1l0.5 0l0.5 0l0.5 0l0.5 0.1l0.5 0.1l0.5 0.2l0.5 0.1l0.5 0.1l0.5 0.1l0.5 0.1l0.5 0l0.5 0l0.5-0.1l0.5-0.1l0.5-0.1l0.5-0.1l0.5-0.1l0.5-0.1l0.5 0l0.5 0l0.5-0.1l0.5 0l0.5-0.1l0.5-0.1l0.5-0.1l0.5-0.1l0.5 0l0.5-0.1l0.5 0l0.5-0.1l0.5 0l0.5 0l0.5 0l0.5-0.1l0.5-0.1l0.5 0l0.5-0.1l0.5-0.1l0.5 0l0.5 0l0.5 0l0.5 0l0.5 0l0.5 0l0.5 0l0.5 0.1l0.5 0l0.5 0l0.5-0.1l0.5-0.2l0.5-0.2l0.5-0.2l0.5-0.2l0.5-0.2l0.5-0.3l0.5-0.5l0.5-0.5l0.5-0.5l0.5 0.2l0.5 0.7l0.5 0.4l0.5 0.3l0.5 0.1l0.5 0.1l0.5 0l0.5 0.1l0.5 0.1l0.5 0l0.5 0l0.5 0l0.5-0.1l0.5-0.1l0.5-0.1l0.5-0.1l0.5-0.1l0.5-0.2l0.5-0.2l0.5-0.3l0.5-0.5l0.5-0.8l0.5-0.9l0.6-0.3l0.5 0.5l0.5 0.7l0.5 0.4l0.5 0.2l0.5 0.2l0.5 0.1l0.5 0.2l0.5 0.1l0.5 0.1l0.5 0.1l0.5 0l0.5 0.1l0.5 0.1l0.5-0.1l0.5-0.1l0.5-0.4l0.5-0.5l0.5-0.7l0.5-0.5l0.5 0.2l0.5 0.6l0.5 0.4l0.5 0.2l0.5 0.1l0.5 0l0.5 0l0.5 0l0.5-0.1l0.5-0.1l0.5-0.1l0.5-0.2l0.5-0.3l0.5-0.5l0.5-0.6l0.5-0.9l0.5-1.1l0.5-0.4l0.5 0.8l0.5 1l0.5 0.6l0.5 0.4l0.5 0.1l0.5 0.1l0.5 0.1l0.5 0l0.5-0.1l0.5-0.1l0.5-0.4l0.5-0.7l0.5-0.7l0.5 0.1l0.5 0.7l0.5 0.6l0.5 0.4l0.5 0.2l0.5 0l0.5 0l0.5 0l0.5-0.2l0.5-0.4l0.5-0.5l0.5-1l0.5-1.3l0.5-0.8l0.5 0.6l0.5 1.4l0.5 1l0.5 0.6l0.5 0.4l0.5 0.3l0.5 0.1l0.5 0.2l0.5 0.1l0.5 0.1l0.5 0l0.5 0.1l0.5 0l0.5 0l0.5 0l0.5 0l0.5 0l0.5 0.1l0.5 0l0.5 0l0.5 0.1l0.5 0l0.5 0l0.5 0l0.5 0l0.5 0.1l0.5 0l0.5 0.1l0.5 0l0.5 0.1l0.5 0.2l0.5 0.1l0.5 0.1l0.5 0.1l0.5 0.1l0.5 0.1l0.5 0l0.5 0l0.5 0.1l0.5 0l0.5 0.2l0.5 0.2l0.5 0.4l0.5 0.3l0.5 0.4l0.5 0.3l0.5 0.3l0.5 0.3l0.5 0.2l0.5 0.2l0.5 0.2l0.5 0.2l0.5 0.1l0.5 0.1l0.5 0l0.5 0l0.5 0l0.5 0l0.5-0.1l0.5-0.1l0.5-0.1l0.5 0l0.5-0.1l0.5 0l0.5 0l0.5 0l0.5 0l0.5 0l0.5 0l0.5-0.1l0.5-0.1l0.5 0l0.5 0.1l0.5 0.1l0.5 0.2l0.5 0.1l0.5 0.2l0.5 0.1l0.5 0.1l0.5 0.1l0.5 0.1l0.5 0l0.5 0.1l0.5 0l0.5-0.1l0.5-0.1l0.5-0.1l0.5 0l0.5-0.1l0.5 0.1l0.5 0.1l0.5 0.1l0.5 0l0.5 0.1l0.5-0.1l0.5 0l0.5-0.1l0.5 0l0.5 0l0.5 0l0.5 0.1l0.5 0.1l0.5 0.1l0.5 0l0.5-0.1l0.5-0.1l0.5-0.1l0.5-0.1l0.5 0l0.5-0.1l0.5 0l0.5 0l0.5 0l0.5 0l0.5 0.1l0.5 0l0.5 0l0.5 0l0.5 0.1l0.5 0l0.5 0.1l0.5 0.1l0.5 0.1l0.5 0l0.5 0l0.5 0l0.5-0.1l0.5-0.2l0.5-0.1l0.5-0.2l0.6-0.1l0.5-0.1l0.5 0l0.5 0l0.5 0l0.5 0.1l0.5 0.2l0.5 0.1l0.5 0.2l0.5 0.1l0.5 0.1l0.5 0.1l0.5 0.1l0.5 0l0.5 0.1l0.5-0.1l0.5 0l0.5-0.1l0.5-0.1l0.5-0.1l0.5-0.1l0.5 0l0.5 0l0.5 0l0.5 0l0.5 0l0.5-0.1l0.5-0.1l0.5-0.2l0.5-0.1l0.5 0l0.5 0l0.5 0.1l0.5 0.1l0.5 0.1l0.5 0.1l0.5 0.1l0.5 0l0.5 0.1l0.5 0l0.5-0.1l0.5 0l0.5 0.1l0.5 0l0.5 0l0.5 0l0.5 0l0.5 0l0.5-0.1l0.5 0l0.5 0l0.5 0l0.5 0.1l0.5 0l0.5 0l0.5 0l0.5 0l0.5 0.1l0.5 0l0.5 0.1l0.5 0l0.5 0l0.5 0l0.5 0l0.5 0l0.5 0.1l0.5 0l0.5-0.1l0.5-0.1l0.5-0.1l0.5-0.1l0.5-0.2l0.5-0.1l0.5 0l0.5 0l0.5 0.1l0.5 0l0.5 0.1l0.5 0.1" stroke="#1a1a1a" stroke-width="1.35" fill="none" stroke-linejoin="round"/>
<polyline points="1274.1,851.7 883.2,851.7 883.2,628.3 1009.1,426.8 1400,426.8 1400,650.2 1274.1,851.7" stroke="#3a3a3a" stroke-width="1.7" fill="none" stroke-linejoin="round"/>
<path d="M883.2 851.7v3M902.7 851.7v3M922.3 851.7v3M941.8 851.7v3M961.4 851.7v3M980.9 851.7v3M1000.5 851.7v3M1020 851.7v3M1039.6 851.7v3M1059.1 851.7v3M1078.7 851.7v3M1098.2 851.7v3M1117.7 851.7v3M1137.3 851.7v3M1156.8 851.7v3M1176.4 851.7v3M1195.9 851.7v3M1215.5 851.7v3M1235 851.7v3M1254.6 851.7v3M1274.1 851.7v3M1400 650.2l3.5 1M1387.4 670.4l3.5 1M1374.8 690.5l3.5 1M1362.2 710.7l3.5 1M1349.6 730.8l3.5 1M1337 751l3.5 1M1324.5 771.1l3.5 1M1311.9 791.2l3.5 1M1299.3 811.4l3.5 1M1286.7 831.6l3.5 1" stroke="#3a3a3a" stroke-width="1.4" fill="none"/>
<text transform="translate(878 858.4) scale(1 1.14)" text-anchor="end" font-size="24" font-weight="bold">0</text>
<text transform="translate(878 784.2) scale(1 1.14)" text-anchor="end" font-size="24" font-weight="bold">10000</text>
<text transform="translate(878 710) scale(1 1.14)" text-anchor="end" font-size="24" font-weight="bold">20000</text>
<text transform="translate(878 635.8) scale(1 1.14)" text-anchor="end" font-size="24" font-weight="bold">30000</text>
<text transform="translate(883.2 877.5) scale(1 1.14)" text-anchor="middle" font-size="24" font-weight="bold">6000</text>
<text transform="translate(980.9 877.5) scale(1 1.14)" text-anchor="middle" font-size="24" font-weight="bold">7000</text>
<text transform="translate(1078.7 877.5) scale(1 1.14)" text-anchor="middle" font-size="24" font-weight="bold">8000</text>
<text transform="translate(1176.4 877.5) scale(1 1.14)" text-anchor="middle" font-size="24" font-weight="bold">9000</text>
<text transform="translate(1274.1 877.5) scale(1 1.14)" text-anchor="middle" font-size="24" font-weight="bold">10000</text>
<text transform="matrix(0.95 0 -0.720 0.950 1412.5 662.7)" font-size="22" font-weight="bold">3</text>
<text transform="matrix(0.95 0 -0.720 0.950 1399.9 682.9)" font-size="22" font-weight="bold">6</text>
<text transform="matrix(0.95 0 -0.720 0.950 1387.3 703)" font-size="22" font-weight="bold">9</text>
<text transform="matrix(0.95 0 -0.720 0.950 1374.7 723.2)" font-size="22" font-weight="bold">12</text>
<text transform="matrix(0.95 0 -0.720 0.950 1362.1 743.3)" font-size="22" font-weight="bold">15</text>
<text transform="matrix(0.95 0 -0.720 0.950 1349.5 763.5)" font-size="22" font-weight="bold">18</text>
<text transform="matrix(0.95 0 -0.720 0.950 1337 783.6)" font-size="22" font-weight="bold">21</text>
<text transform="matrix(0.95 0 -0.720 0.950 1324.4 803.8)" font-size="22" font-weight="bold">24</text>
<text transform="matrix(0.95 0 -0.720 0.950 1311.8 823.9)" font-size="22" font-weight="bold">27</text>
<text transform="matrix(0.95 0 -0.720 0.950 1299.2 844.1)" font-size="22" font-weight="bold">30</text>
<text x="955" y="932.5" font-size="30" font-weight="bold">Wavenumber(cm<tspan dy="-13" font-size="25">-1</tspan><tspan dy="13" dx="1" font-size="25">)</tspan></text>
<text transform="translate(796 895) rotate(-90)" font-size="30" font-weight="bold">Radiation intensity(a.u.)</text>
<text transform="matrix(0.530 -0.848 1 0 1340 887)" font-size="30" font-weight="bold">Horizontal position(mm)</text>
<text transform="translate(1242 478.9) scale(1 1.09)" font-size="47.5" font-weight="bold">Case1</text>
<text x="1157" y="538" font-size="46" fill="#e3141b">H<tspan font-size="32" dy="9">2</tspan><tspan dy="-9">O</tspan></text>
<line x1="1201" y1="556" x2="1168" y2="598.7" stroke="#e3141b" stroke-width="3.8"/><polygon points="1160,609 1162.5,591.9 1175.9,602.3" fill="#e3141b"/>
<line x1="1210" y1="559" x2="1241.1" y2="599.7" stroke="#e3141b" stroke-width="3.8"/><polygon points="1249,610 1233.1,603.2 1246.6,592.9" fill="#e3141b"/>
<path d="M1518.9 660.6L1400.6 849.7M1516.5 662H1539.5M1505.3 679.9H1526.4M1491.6 701.9H1514M1477.4 724.6H1501M1464 745.9H1488M1452 765.1H1474.9M1437.8 787.8H1462.5M1425.8 807.1H1448.8M1413.7 826.3H1437M1399.5 849H1425.4" stroke="#000" stroke-width="6.3" fill="none" stroke-linejoin="miter"/>
<text transform="translate(1557.4 660.6) scale(1 1.15)" font-size="28.5" font-weight="bold">P1</text>
<text transform="translate(1544.3 684.7) scale(1 1.15)" font-size="28.5" font-weight="bold">P2</text>
<text transform="translate(1527.8 706.7) scale(1 1.15)" font-size="28.5" font-weight="bold">P3</text>
<text transform="translate(1512.7 730) scale(1 1.15)" font-size="28.5" font-weight="bold">P4</text>
<text transform="translate(1499.6 755.5) scale(1 1.15)" font-size="28.5" font-weight="bold">P5</text>
<text transform="translate(1483 778.9) scale(1 1.15)" font-size="28.5" font-weight="bold">P6</text>
<text transform="translate(1469.4 804.3) scale(1 1.15)" font-size="28.5" font-weight="bold">P7</text>
<text transform="translate(1455.6 825.6) scale(1 1.15)" font-size="28.5" font-weight="bold">P8</text>
<text transform="translate(1443.2 847.6) scale(1 1.15)" font-size="28.5" font-weight="bold">P9</text>
<text transform="translate(1426.8 866.9) scale(1 1.15)" font-size="28.5" font-weight="bold">P10</text>
</g>
<g>
<path d="M1107.3 1184V959.6M1205 1184V959.6M1302.6 1184V959.6M1009.6 1125.2H1400.3M1009.6 1069.9H1400.3M1009.6 1014.7H1400.3M883.7 1385.5l125.9 -201.5M1009.6 1184V959.6" stroke="#dadada" stroke-width="1.4" fill="none"/>
<path d="M1009.6 1184V959.6M997 1204.2V979.7M984.4 1224.3V999.9M971.8 1244.5V1020M959.2 1264.6V1040.2M946.7 1284.8V1060.3M934.1 1304.9V1080.5M921.5 1325V1100.6M908.9 1345.2V1120.8M896.3 1365.3V1140.9M883.7 1326.7l125.9 -201.5M883.7 1271.4l125.9 -201.5M883.7 1216.2l125.9 -201.5M981.4 1385.5l125.9 -201.5M1079 1385.5l125.9 -201.5M1176.7 1385.5l125.9 -201.5" stroke="#e6e6e6" stroke-width="1.2" fill="none"/>
<path d="M1009.6 1178l0.5-0.6l0.5-0.4l0.5-0.3l0.5-0.7l0.5-0.7l0.5-0.7l0.5-0.8l0.5-0.8l0.5-0.8l0.5-0.7l0.5-1.1l0.5-1.5l0.5-1.5l0.5-1.1l0.5-0.6l0.5-0.4l0.5-1l0.5-1.7l0.5-1.1l0.5-0.5l0.5-1.2l0.5-1.9l0.5-2.3l0.5-2l0.5-0.4l0.5 0l0.5-1.4l0.5-1.5l0.5-1.2l0.5-1.5l0.5-0.3l0.5 0l0.5-2.3l0.5-3.2l0.5-1.1l0.5 0l0.5-1.1l0.5-2.3l0.5-1.7l0.5-0.2l0.5 0.1l0.5-0.4l0.5-1.2l0.5-1.9l0.5-1.5l0.5-1.4l0.5-1.3l0.5 0.2l0.5 1.1l0.5-1.1l0.5-2.1l0.5-0.4l0.5 0.3l0.5-0.8l0.5 0l0.5-0.1l0.5-2.7l0.5-1.7l0.5 0.1l0.5-1.3l0.5-1.2l0.5 1.2l0.5-0.8l0.5-2.9l0.5-0.6l0.5 0.1l0.5-1.6l0.5-0.2l0.5 0.8l0.5-2.3l0.5-3.3l0.5-1.2l0.5-0.3l0.5-1.1l0.5 0.4l0.5 2.7l0.5-0.3l0.5-4.1l0.5-2l0.5 0.3l0.5 0.5l0.5 2l0.5 0.7l0.5-3.9l0.5-2.5l0.5 2.3l0.5 1.8l0.5-1.9l0.5-3.7l0.5-3.6l0.5-1.7l0.5 0.8l0.5 1.3l0.5 0.2l0.5 0.6l0.5-1.4l0.5-3.7l0.5-2.2l0.5 0.7l0.5 1.5l0.5-0.3l0.5 0l0.5 2l0.5-0.8l0.5-3.3l0.5-1.6l0.5-1.3l0.5-1.2l0.5 1.7l0.5 1.6l0.5-0.5l0.5-0.2l0.5-2.2l0.5-4.2l0.5-1.4l0.5 2.3l0.5 1.6l0.5-1.4l0.5-1.6l0.5-0.7l0.5 0.8l0.5-0.1l0.5-3.5l0.5-2.3l0.5 1.4l0.5 0.4l0.5-2.6l0.5-0.3l0.5 3.4l0.5 2.5l0.5 0.9l0.5-2.2l0.5-6l0.5-4.5l0.5-0.4l0.5 1.3l0.5 0.4l0.5 0.7l0.5 0.3l0.5-2.4l0.5-1.2l0.5 3.1l0.5 1.9l0.5-3.3l0.5-2.3l0.5 0.3l0.5-2.7l0.5-2.2l0.5 2.7l0.5 3.9l0.5 1.4l0.5-1.8l0.5-6l0.5-4.5l0.5 1.6l0.5 4.5l0.5 1.4l0.5-0.3l0.5-0.5l0.5-3.9l0.5-2.2l0.5 1.4l0.5-1l0.5-2.5l0.5 2.4l0.5 4l0.5-1.5l0.5-1.5l0.5 2.4l0.5-0.4l0.5-1l0.5 2.9l0.5-1.4l0.5-5.3l0.5 0.5l0.5 4l0.5-0.1l0.5 0l0.5 1.4l0.5-3.9l0.5-5.7l0.5-1l0.5 1.2l0.5-1l0.5-0.6l0.5 2.8l0.5 3.8l0.5 2.4l0.5-2.6l0.5-4.5l0.5-0.4l0.5 0.1l0.5 0.1l0.5 3.4l0.5 1.2l0.6-3.9l0.5 0.2l0.5 4.7l0.5-1.1l0.5-4.8l0.5 1.5l0.5 4.6l0.5-1.1l0.5-3.8l0.5-2.5l0.5-2.1l0.5-0.1l0.5 1.2l0.5-0.7l0.5-1.6l0.5 0.2l0.5 2.7l0.5 3l0.5 1l0.5-1.8l0.5-3.6l0.5-0.2l0.5 4.1l0.5 0.6l0.5-3l0.5-0.3l0.5-0.3l0.5-1.7l0.5 1l0.5 1.7l0.5-0.5l0.5 2.1l0.5 5.8l0.5 2.9l0.5 0.2l0.5 1.9l0.5 3.1l0.5 0.9l0.5-0.6l0.5-1.6l0.5-3.4l0.5-1.3l0.5 2.6l0.5 0.2l0.5-4.3l0.5-1.6l0.5 2.9l0.5 1.4l0.5 0.3l0.5-0.6l0.5-5l0.5-4.9l0.5 0.6l0.5 4l0.5 0.4l0.5-2.2l0.5 2.4l0.5 3.8l0.5 1.7l0.5 4.1l0.5 2.6l0.5-0.7l0.5 3.8l0.5 6.1l0.5 0.7l0.5-2.4l0.5-3.2l0.5-3l0.5-0.7l0.5-3.5l0.5-7.8l0.5-4.2l0.5-0.3l0.5-4.1l0.5-4.9l0.5 1.7l0.5 4l0.5 0.1l0.5 1.4l0.5 0.6l0.5-4.9l0.5-2.6l0.5 4.9l0.5 7.3l0.5 5.5l0.5 7.1l0.5 7l0.5 1.4l0.5-0.9l0.5 0.1l0.5-1.8l0.5-5.8l0.5-5.9l0.5-6.8l0.5-5.9l0.5 1.3l0.5 3.9l0.5-0.6l0.5 1.4l0.5 4.1l0.5 6.1l0.5 16.5l0.5 26.4l0.5 25.8l0.5 17.6l0.5 9.7l0.5 4.9l0.5 2.4l0.5 1.3l0.5 0.8l0.5 0.6l0.5 0.6l0.5 0.5l0.5 0.4l0.5 0.4l0.5 0.3l0.5 0.3l0.5 0.2l0.5 0.2l0.5 0.2l0.5 0.1l0.5 0.2l0.5 0.1l0.5 0.1l0.5 0.1l0.5 0.1l0.5 0.1l0.5 0l0.5 0.1l0.5 0l0.5 0.1l0.5 0.1l0.5 0.1l0.5 0l0.5 0.1l0.5 0.1l0.5 0.1l0.5 0l0.5 0l0.5 0l0.5 0l0.5 0.1l0.5 0.1l0.5 0.1l0.5 0.2l0.5 0.1l0.5 0l0.5 0l0.5 0l0.5-0.1l0.5 0l0.5 0l0.5-0.1l0.5 0.1l0.5 0l0.5 0l0.5 0.1l0.5 0l0.5 0l0.5 0l0.5 0l0.5-0.1l0.5 0l0.5-0.1l0.5 0l0.5-0.1l0.5 0l0.5 0l0.5 0l0.5 0l0.5 0l0.5 0.1l0.5 0l0.5 0.1l0.5 0l0.5 0l0.5 0l0.5 0l0.5-0.1l0.5 0l0.5-0.1l0.5 0l0.5 0l0.5 0l0.5 0l0.5 0l0.5 0l0.5 0l0.5 0l0.5-0.1l0.5 0l0.5 0l0.5-0.1l0.5-0.1l0.5 0l0.5-0.1l0.5-0.1l0.5-0.2l0.5-0.1l0.5-0.1l0.5-0.1l0.5 0l0.5 0l0.5-0.1l0.5 0l0.5-0.1l0.5 0l0.5-0.1l0.5 0l0.5-0.1l0.5-0.1l0.5 0l0.5-0.1l0.5 0l0.5-0.1l0.5 0.1l0.5 0l0.5 0.1l0.5 0l0.5-0.1l0.5-0.1l0.5-0.1l0.5-0.2l0.5-0.1l0.5-0.1l0.5 0l0.5-0.1l0.5 0l0.5 0l0.5-0.1l0.5-0.1l0.5-0.1l0.5 0l0.5 0l0.5 0l0.5 0l0.5 0.1l0.5 0l0.5-0.1l0.5-0.1l0.5-0.2l0.5-0.1l0.5-0.2l0.5-0.1l0.5-0.1l0.5-0.2l0.5-0.1l0.5-0.1l0.5-0.1l0.5-0.1l0.5-0.1l0.5 0l0.5-0.1l0.5 0l0.5 0l0.5 0.1l0.5 0l0.5 0l0.5 0l0.5-0.1l0.5-0.1l0.5-0.2l0.5-0.3l0.5-0.1l0.5-0.1l0.5-0.1l0.5 0.1l0.5 0.1l0.5 0.1l0.5 0.2l0.5 0.1l0.5 0l0.5 0l0.5-0.1l0.5-0.1l0.5-0.2l0.5-0.2l0.5-0.3l0.5-0.2l0.5-0.2l0.5-0.3l0.5-0.1l0.5-0.2l0.5 0l0.5 0l0.5 0.2l0.5 0.2l0.5 0.2l0.5 0.2l0.5 0l0.5 0l0.5-0.1l0.5-0.1l0.5-0.1l0.5-0.1l0.5 0l0.5 0l0.5 0l0.5 0.1l0.5 0.1l0.5 0l0.5 0l0.5-0.1l0.5 0l0.5-0.2l0.5-0.1l0.5-0.2l0.5-0.1l0.5-0.1l0.5 0l0.5 0l0.5 0l0.5 0l0.5-0.1l0.5-0.1l0.5 0l0.5-0.1l0.5 0l0.5-0.1l0.5 0l0.5-0.2l0.5-0.1l0.5-0.2l0.5-0.1l0.5-0.1l0.5-0.1l0.5 0l0.5 0.1l0.5 0.2l0.5 0.1l0.5 0l0.5 0l0.5-0.1l0.5-0.2l0.5-0.1l0.5-0.1l0.5-0.1l0.5-0.1l0.5-0.1l0.5-0.1l0.5-0.3l0.5-0.5l0.5-0.5l0.5-0.3l0.5 0.3l0.5 0.5l0.5 0.3l0.5 0.3l0.5 0.1l0.5 0.1l0.5 0.1l0.5 0l0.5 0l0.5-0.3l0.5-0.7l0.5-1.1l0.5-1.2l0.5-0.1l0.5 1.1l0.5 1.2l0.5 0.8l0.5 0.5l0.5 0.3l0.5 0.2l0.5 0.1l0.5 0l0.5 0.1l0.5 0.1l0.5 0.2l0.5 0.1l0.5 0.1l0.5 0.2l0.5 0.1l0.5 0.2l0.5 0.1l0.5 0.1l0.5 0.1l0.5 0l0.5 0.1l0.5 0l0.5 0l0.5 0l0.5 0.1l0.5 0l0.5 0.1l0.5 0.1l0.5 0.1l0.5 0.1l0.5 0.1l0.5 0.1l0.6 0.2l0.5 0.1l0.5 0.1l0.5 0.1l0.5 0.1l0.5 0l0.5 0.1l0.5 0l0.5 0.1l0.5 0.2l0.5 0.1l0.5 0.3l0.5 0.2l0.5 0.2l0.5 0.3l0.5 0.1l0.5 0.1l0.5 0.1l0.5 0.1l0.5 0l0.5 0.1l0.5 0.1l0.5 0.1l0.5 0.1l0.5 0.2l0.5 0.1l0.5 0.2l0.5 0.3l0.5 0.2l0.5 0.1l0.5 0.2l0.5 0.1l0.5 0.1l0.5 0l0.5 0.1l0.5 0l0.5 0.1l0.5 0.1l0.5 0.1l0.5 0.2l0.5 0.1l0.5 0.2l0.5 0l0.5 0.1l0.5 0.1l0.5 0l0.5 0.1l0.5 0.2l0.5 0.2l0.5 0.3l0.5 0.2l0.5 0.1l0.5 0.2l0.5 0l0.5 0l0.5-0.1l0.5 0l0.5 0l0.5 0l0.5 0.1l0.5 0l0.5 0l0.5-0.1l0.5 0l0.5-0.1l0.5 0l0.5 0l0.5 0.1l0.5 0.1l0.5 0.2l0.5 0.2l0.5 0.3l0.5 0.2l0.5 0.1l0.5 0.1l0.5-0.1l0.5 0l0.5-0.2l0.5-0.2l0.5-0.2l0.5-0.1l0.5-0.1l0.5-0.1l0.5 0l0.5 0.1l0.5 0.2l0.5 0.1l0.5 0l0.5 0l0.5 0l0.5-0.1l0.5-0.1l0.5-0.1l0.5 0l0.5 0.1l0.5 0.1l0.5 0.1l0.5 0.1l0.5 0.1l0.5 0l0.5 0l0.5-0.1l0.5 0l0.5-0.1l0.5 0l0.5-0.1l0.5 0l0.5-0.1l0.5-0.1l0.5-0.1l0.5-0.1l0.5 0l0.5 0.1l0.5 0l0.5 0.1l0.5 0.1l0.5 0l0.5 0.1l0.5 0l0.5 0l0.5-0.1l0.5 0l0.5 0l0.5 0.1l0.5 0l0.5 0.1l0.5 0.1l0.5 0.1l0.5 0.1l0.5 0l0.5 0l0.5-0.1l0.5 0l0.5-0.1l0.5 0l0.5 0l0.5 0l0.5 0l0.5 0l0.5-0.1l0.5 0l0.5 0l0.5 0l0.5 0l0.5 0l0.5 0l0.5 0l0.5 0.1l0.5 0l0.5 0.1l0.5 0l0.5 0.1l0.5 0.1l0.5 0l0.5 0.1l0.5 0l0.5-0.1l0.5-0.1l0.5-0.1l0.5-0.1l0.5-0.1l0.5-0.1l0.5 0l0.5 0l0.5 0l0.5 0l0.5-0.1l0.5 0l0.5 0.1l0.5 0l0.5 0.1l0.5 0l0.5 0.1l0.5 0.1l0.5 0.1l0.5 0l0.5 0.1l0.5 0l0.5-0.1l0.5 0l0.5-0.1l0.5-0.1l0.5 0l0.5-0.1l0.5 0l0.5 0.1l0.5 0l0.5 0.1l0.5 0.2l0.5 0.1l0.5 0l0.5 0.1l0.5 0.1l0.5 0l0.5 0.1l0.5 0.1M997 1197.5l0.5-0.2l0.5-0.1l0.5-0.2l0.5 0.1l0.5 0l0.5-0.3l0.5-0.3l0.5 0.1l0.5 0.4l0.5-0.3l0.5-0.5l0.5-0.3l0.5-0.1l0.5-0.4l0.5-0.5l0.5-0.1l0.5-0.5l0.5-1.1l0.5-1l0.5-0.9l0.5-0.8l0.5-0.8l0.5-0.9l0.5-1.5l0.5-2l0.5-1.6l0.5-1.6l0.5-1.7l0.5-1.5l0.5-1.4l0.5-1.8l0.5-0.7l0.5 0.4l0.5-0.8l0.5-1.4l0.5-0.7l0.5-2l0.5-2.4l0.5-1.3l0.5-1.3l0.5-1.4l0.5-0.7l0.5-1.4l0.5-2.4l0.5-1.1l0.5 0.6l0.5 0.8l0.5-0.5l0.5-0.9l0.5-2.3l0.5-3.3l0.5-1.7l0.5-0.5l0.5-1.4l0.5-1.7l0.5-1.1l0.5-1.3l0.5-0.8l0.5-0.1l0.5-1.7l0.5-2.8l0.5-0.8l0.5 1.5l0.5 0l0.5-3l0.5-1.8l0.5 0.3l0.5-1.3l0.5-2.1l0.5-1.6l0.5 0l0.5 1.7l0.5-0.4l0.5-2.2l0.5 0.3l0.5 0.1l0.5-3.6l0.5-3.6l0.5-0.3l0.5 1.7l0.5 0.5l0.5-1.4l0.5-3l0.5-2.8l0.5-0.1l0.5 2.1l0.5 0.6l0.5-1.6l0.5-1l0.5-1.9l0.5-1.6l0.5 1l0.5 0.2l0.5-1.6l0.5 0.5l0.5 0.9l0.5-2.6l0.5-3.1l0.5-1.6l0.5-2.3l0.5-2l0.5 0.6l0.5 2.4l0.5 1.6l0.5 1.2l0.5-1.2l0.5-5.4l0.5-4.1l0.5-0.5l0.5 0.6l0.5 0l0.5-0.2l0.5-1.5l0.5-1.7l0.5 0.9l0.5 2.4l0.5 1.7l0.5 0.6l0.5-3l0.5-5.2l0.5-1.5l0.5 2.3l0.5 1l0.5-1.3l0.5-1.1l0.5-2.2l0.5-3.3l0.5 0.2l0.5 2.9l0.5 0.4l0.5-1.7l0.5 0.6l0.5 0.7l0.5-0.2l0.5-0.7l0.5-3.2l0.5-1.9l0.5 2.2l0.5-0.4l0.5-4l0.5-0.8l0.5 2l0.5-0.7l0.5-1.6l0.5 0.3l0.5-2.2l0.5-3.8l0.5-0.4l0.5 1.6l0.5 1.1l0.5 3.5l0.5 3.1l0.5-3.8l0.5-4.5l0.5-0.7l0.5-0.7l0.6 1.1l0.5 2.6l0.5-2.9l0.5-5.5l0.5-0.6l0.5 4.3l0.5 1.5l0.5-4.5l0.5-2.4l0.5 1.5l0.5 0.7l0.5 2.1l0.5 2.8l0.5-2.8l0.5-2l0.5 1.9l0.5-1.3l0.5-0.4l0.5 2.9l0.5-2.8l0.5-5.3l0.5 0.4l0.5 0.3l0.5-4.1l0.5-1.8l0.5 2.2l0.5 1.3l0.5-1l0.5 1.4l0.5 3.2l0.5 0.2l0.5 0.8l0.5 0.8l0.5-3.8l0.5-2.4l0.5 2.3l0.5 1.2l0.5-0.8l0.5-1.5l0.5-3.5l0.5-1.9l0.5 3.5l0.5 6.7l0.5 2.6l0.5-2.4l0.5-4.1l0.5-2.2l0.5 2.8l0.5 1.8l0.5-4l0.5-2.5l0.5 3.4l0.5 3.8l0.5-0.5l0.5-0.9l0.5-0.2l0.5-0.7l0.5 2.4l0.5 1.2l0.5-4.6l0.5-3.1l0.5 2l0.5 0.7l0.5-2.6l0.5 0.7l0.5 3.1l0.5-1.1l0.5-2.4l0.5 3l0.5 7.4l0.5 4.8l0.5 1.1l0.5-1.2l0.5-0.6l0.5 4.5l0.5 6.8l0.5 1l0.5-2.6l0.5 0.6l0.5-0.1l0.5-2.4l0.5-0.2l0.5-2.9l0.5-5.3l0.5 0l0.5 1.9l0.5-2.2l0.5-1.7l0.5-0.1l0.5-3.1l0.5-2.8l0.5 1l0.5 0.9l0.5-1.2l0.5 2.1l0.5 2.9l0.5-1.6l0.5-1.1l0.5 4.8l0.5 6.1l0.5 2.3l0.5 1.9l0.5 3.2l0.5 2.2l0.5 1.6l0.5 0.4l0.5-3.1l0.5-4.4l0.5-5.8l0.5-6.2l0.5-1.5l0.5 0.1l0.5-5.1l0.5-5.7l0.5 0.3l0.5 3.1l0.5-1.5l0.5-3.6l0.5 1.2l0.5 5.6l0.5 5.7l0.5 1.9l0.5-1.1l0.5 2.1l0.5 6.8l0.5 9l0.5 7l0.5 1.7l0.5-3.5l0.5-6.6l0.5-6.4l0.5-3.2l0.5-2l0.5-5.2l0.5-5.4l0.5-2.6l0.5 1.8l0.5 7.6l0.5 6.2l0.5 5.7l0.5 16.5l0.5 26.8l0.5 26.1l0.5 17.9l0.5 9.9l0.5 5l0.5 2.4l0.5 1.3l0.5 0.8l0.5 0.7l0.5 0.5l0.5 0.5l0.5 0.4l0.5 0.3l0.5 0.2l0.5 0.1l0.5 0.1l0.5 0.1l0.5 0l0.5 0.1l0.5 0.1l0.5 0.1l0.5 0.2l0.5 0.1l0.5 0.2l0.5 0.1l0.5 0.2l0.5 0.1l0.5 0.1l0.5 0.1l0.5 0.1l0.5 0.2l0.5 0.1l0.5 0.1l0.5 0.1l0.5 0l0.5 0l0.5 0l0.5 0.1l0.5 0.1l0.5 0.2l0.5 0.2l0.5 0.2l0.5 0.1l0.5 0l0.5 0l0.5-0.1l0.5-0.1l0.5-0.1l0.5-0.1l0.5 0l0.5 0l0.5 0l0.5 0l0.5 0l0.5-0.1l0.5-0.1l0.5-0.1l0.5-0.1l0.5 0l0.5 0l0.5 0l0.5 0.1l0.5 0l0.5 0.1l0.5 0l0.5 0l0.5 0.1l0.5 0.1l0.5 0l0.5 0l0.5 0l0.5-0.1l0.5-0.1l0.5-0.2l0.5-0.1l0.5-0.1l0.5 0l0.5 0l0.5 0l0.5 0l0.5-0.1l0.5 0l0.5-0.1l0.5-0.1l0.5 0l0.5-0.1l0.5 0.1l0.5 0l0.5 0l0.5 0.1l0.5 0l0.5 0l0.5 0l0.5 0l0.5 0l0.5 0l0.5-0.1l0.5-0.1l0.5-0.2l0.5-0.1l0.5-0.2l0.5-0.1l0.5-0.1l0.5-0.1l0.5 0l0.5 0l0.5-0.1l0.5 0l0.5-0.1l0.5-0.1l0.5-0.1l0.5-0.1l0.5-0.1l0.5 0l0.5 0l0.5 0l0.5 0.1l0.5 0l0.5 0.1l0.5 0l0.5 0l0.5-0.1l0.5-0.1l0.5-0.2l0.5-0.2l0.5-0.3l0.5-0.2l0.5-0.2l0.5-0.1l0.5 0l0.5 0l0.5 0l0.5 0l0.5-0.1l0.5-0.1l0.5-0.1l0.5-0.2l0.5-0.1l0.5-0.1l0.5 0l0.5 0l0.5-0.1l0.5 0l0.5 0l0.5-0.1l0.5 0l0.5 0l0.5-0.1l0.5 0l0.5 0l0.5 0.1l0.5 0l0.5-0.1l0.5 0l0.5-0.1l0.5 0l0.5-0.1l0.5-0.2l0.5 0l0.5-0.1l0.5-0.1l0.5 0l0.5-0.1l0.5 0l0.5-0.1l0.5-0.1l0.5-0.1l0.5-0.1l0.5-0.1l0.5-0.1l0.5 0l0.5 0l0.5 0.1l0.5 0.1l0.5 0l0.5 0.1l0.5 0l0.5-0.1l0.5-0.1l0.5 0l0.5-0.1l0.5 0l0.5-0.1l0.5 0l0.5-0.1l0.5 0l0.5-0.1l0.5 0l0.5 0l0.5-0.1l0.5 0l0.5-0.1l0.5 0l0.5-0.1l0.5-0.1l0.5-0.1l0.5-0.1l0.5-0.1l0.5 0l0.5 0l0.5 0.1l0.5 0l0.5 0.1l0.5 0l0.5 0l0.5-0.1l0.5-0.1l0.5-0.2l0.5-0.1l0.5-0.1l0.5-0.1l0.5-0.1l0.5 0.1l0.5 0l0.5 0.1l0.5 0.1l0.5 0.1l0.5 0.1l0.5 0l0.5-0.1l0.5-0.1l0.5-0.2l0.5-0.2l0.5-0.1l0.5-0.1l0.5 0l0.5 0l0.5 0.1l0.5 0.1l0.5 0l0.5 0l0.5 0l0.5-0.1l0.5-0.1l0.5-0.2l0.5-0.2l0.5-0.2l0.5-0.2l0.5-0.4l0.5-0.4l0.5-0.6l0.5-0.3l0.5 0.3l0.5 0.5l0.5 0.4l0.5 0.2l0.5 0.1l0.5-0.1l0.5 0l0.6-0.2l0.5-0.2l0.5-0.4l0.5-0.7l0.5-1.2l0.5-1.1l0.5 0l0.5 1.3l0.5 1.2l0.5 0.8l0.5 0.4l0.5 0.3l0.5 0.1l0.5 0.2l0.5 0.2l0.5 0.1l0.5 0.2l0.5 0.1l0.5 0.2l0.5 0.1l0.5 0.2l0.5 0.2l0.5 0.1l0.5 0.2l0.5 0.1l0.5 0.1l0.5 0.1l0.5 0.1l0.5 0.1l0.5 0l0.5 0.1l0.5 0l0.5-0.1l0.5 0l0.5 0l0.5 0.1l0.5 0l0.5 0.1l0.5 0.1l0.5 0.1l0.5 0.1l0.5 0.2l0.5 0.1l0.5 0.2l0.5 0.1l0.5 0.1l0.5 0.1l0.5 0l0.5 0.1l0.5 0l0.5 0.1l0.5 0.1l0.5 0.1l0.5 0.2l0.5 0.1l0.5 0.2l0.5 0.1l0.5 0.1l0.5 0.2l0.5 0.1l0.5 0.2l0.5 0.3l0.5 0.3l0.5 0.3l0.5 0.2l0.5 0.3l0.5 0.2l0.5 0.1l0.5 0.1l0.5 0.1l0.5 0l0.5 0.1l0.5 0.1l0.5 0.1l0.5 0l0.5 0.1l0.5 0.1l0.5 0.1l0.5 0.1l0.5 0l0.5 0.2l0.5 0.1l0.5 0.1l0.5 0.2l0.5 0.1l0.5 0.2l0.5 0.1l0.5 0.1l0.5 0.1l0.5 0.1l0.5 0.1l0.5 0.2l0.5 0.2l0.5 0.2l0.5 0.1l0.5 0.2l0.5 0.2l0.5 0l0.5 0l0.5-0.1l0.5-0.1l0.5-0.2l0.5-0.2l0.5-0.1l0.5 0l0.5 0l0.5 0.1l0.5 0.1l0.5 0.1l0.5 0l0.5 0.1l0.5 0l0.5 0l0.5 0l0.5 0l0.5 0l0.5 0l0.5 0.1l0.5 0.1l0.5 0.1l0.5 0.1l0.5 0l0.5 0l0.5-0.1l0.5-0.1l0.5-0.1l0.5-0.1l0.5 0l0.5-0.1l0.5 0l0.5 0.1l0.5 0l0.5 0l0.5 0l0.5 0.1l0.5 0.1l0.5 0.1l0.5 0l0.5 0.1l0.5 0l0.5 0l0.5-0.1l0.5-0.2l0.5-0.1l0.5-0.1l0.5 0l0.5 0l0.5 0l0.5 0.1l0.5 0.2l0.5 0.2l0.5 0.1l0.5 0.2l0.5 0.1l0.5 0.1l0.5 0l0.5 0l0.5 0l0.5-0.2l0.5-0.1l0.5-0.2l0.5-0.2l0.5-0.1l0.5-0.1l0.5 0l0.5 0l0.5 0.1l0.5 0.2l0.5 0.1l0.5 0.1l0.5 0.1l0.5 0.1l0.5 0l0.5 0l0.5 0l0.5-0.1l0.5 0l0.5-0.1l0.5 0l0.5 0l0.5 0l0.5 0l0.5 0.1l0.5 0l0.5 0l0.5-0.1l0.5 0l0.5 0l0.5 0l0.5-0.1l0.5 0l0.5-0.1l0.5-0.2l0.5 0l0.5-0.1l0.5 0.1l0.5 0.2l0.5 0.2l0.5 0.2l0.5 0.1l0.5 0.1l0.5 0.1l0.5-0.1l0.5-0.1l0.5-0.1l0.5-0.2l0.5-0.1l0.5-0.1l0.5 0l0.5 0.1l0.5 0.1l0.5 0.1l0.5 0.1l0.5 0.1l0.5 0.1l0.5 0.1l0.5 0l0.5 0l0.5 0l0.5-0.1l0.5-0.1l0.5 0l0.5 0l0.5 0l0.5 0l0.5 0.1l0.5 0.1l0.5 0.1l0.5 0.1l0.5 0l0.5 0.1l0.5 0l0.5-0.1l0.5 0l0.5-0.1M984.4 1215l0.5-0.2l0.5-0.1l0.5-0.3l0.5-0.3l0.5-0.3l0.5-0.5l0.5-0.3l0.5-0.1l0.5 0.2l0.5 0.3l0.5 0l0.5-0.4l0.5-0.2l0.5 0.2l0.5 0.2l0.5 0.2l0.5-0.2l0.5-0.6l0.5-0.2l0.5 0.5l0.5 0l0.5-0.5l0.5-0.1l0.5-0.2l0.5-0.2l0.5 0.2l0.5 0.2l0.5-0.2l0.5-0.3l0.5-0.5l0.5-0.7l0.5-0.6l0.5-0.4l0.5-0.8l0.5-0.9l0.5-1.1l0.5-1.9l0.5-1.7l0.5-1.4l0.5-1.6l0.5-1.6l0.5-1.3l0.5-0.6l0.5-0.7l0.5-1.8l0.5-1.7l0.5-1.7l0.5-2l0.5-1.5l0.5-0.8l0.5-1.3l0.5-1.9l0.5-1.7l0.5-1.4l0.5 0l0.5-0.4l0.5-2.4l0.5-2l0.5-0.7l0.5-1.5l0.5-2.1l0.5-0.2l0.5 0.5l0.5-1.3l0.5-1.4l0.5 0.4l0.5-1.1l0.5-2.1l0.5-0.9l0.5-1.9l0.5-2.2l0.5-0.6l0.5-1.8l0.5-2.8l0.5-1.2l0.5-0.9l0.5-2.1l0.5-1.5l0.5 1.1l0.5 3l0.5 1.1l0.5-1.3l0.5-3.9l0.5-5.1l0.5-2.5l0.5-0.5l0.5-0.5l0.5 0.8l0.5 0.3l0.5-3.2l0.5-2.5l0.5 0.4l0.5-1.5l0.5-3.2l0.5-1.3l0.5 1.7l0.5 1.4l0.5-0.7l0.5 0.5l0.5-0.3l0.5-4l0.5-2.4l0.5 0.1l0.5-1l0.5-0.2l0.5 0.8l0.5-2.3l0.5-2l0.5 0.4l0.5-1.7l0.5-3.7l0.5-1.2l0.5 1.1l0.5-0.1l0.5-0.1l0.5 1.4l0.5-1.2l0.6-3.1l0.5-2.1l0.5-1.2l0.5-0.3l0.5-0.9l0.5-1.9l0.5 1.7l0.5 4.6l0.5-1l0.5-6.4l0.5-3.3l0.5 1.6l0.5 1l0.5-1.9l0.5 0.7l0.5 4.7l0.5 1.8l0.5-0.4l0.5-1.6l0.5-6.4l0.5-5.1l0.5-0.1l0.5 0.2l0.5-0.4l0.5 1.9l0.5-0.1l0.5-4l0.5-0.7l0.5 5.4l0.5 5.1l0.5 0.5l0.5-4.7l0.5-6.4l0.5 0.2l0.5 3.7l0.5-2.9l0.5-5.9l0.5-0.5l0.5 2.4l0.5 0.4l0.5 1.7l0.5 0.9l0.5-5.2l0.5-4.9l0.5 1.9l0.5 5.8l0.5 3.9l0.5-0.2l0.5-6.1l0.5-6.4l0.5-0.1l0.5 2.8l0.5 0.5l0.5 1.1l0.5 1.2l0.5-1.9l0.5 1.7l0.5 2.2l0.5-5.6l0.5-6.6l0.5-0.4l0.5 3.7l0.5 1.2l0.5-1.1l0.5 3.2l0.5 3.6l0.5-3.7l0.5-2.8l0.5 3.8l0.5 1l0.5-4.3l0.5-2l0.5-0.7l0.5-0.7l0.5 1.5l0.5 0.4l0.5-2.2l0.5-0.2l0.5 1.6l0.5-0.7l0.5-1l0.5 1.6l0.5 2.3l0.5 4l0.5 4.5l0.5-3l0.5-6.1l0.5 0.7l0.5 4l0.5 0.3l0.5 0.9l0.5 3.1l0.5-1.1l0.5-3.4l0.5-3.3l0.5-3l0.5-0.8l0.5 3.4l0.5 5.8l0.5 0.8l0.5-3.4l0.5-2.9l0.5-2.9l0.5-0.6l0.5 1.2l0.5 0.2l0.5 2.1l0.5 3.1l0.5-0.7l0.5-0.7l0.5 3.3l0.5 4.4l0.5 3l0.5 3.1l0.5 1.5l0.5-0.6l0.5 2l0.5 3.4l0.5-2.2l0.5-6l0.5-1.4l0.5 3.4l0.5 1.3l0.5-0.1l0.5-0.3l0.5-4.8l0.5-5l0.5 0.3l0.5 2.9l0.5-0.7l0.5-0.8l0.5 3.5l0.5 2.5l0.5 0.4l0.5-2.2l0.5-3.9l0.5 2.4l0.5 5.9l0.5 1.6l0.5 1.1l0.5 3.3l0.5 1.9l0.5 1.3l0.5 1.9l0.5-1l0.5-3.4l0.5-0.6l0.5-1.7l0.5-6.9l0.5-5.3l0.5-1.5l0.5-3.5l0.5-2.6l0.5 3.7l0.5 2.2l0.5-4.3l0.5-2.3l0.5 0.6l0.5-1.7l0.5 0.4l0.5 7.4l0.5 10.9l0.5 6.8l0.5 2.4l0.5 1.2l0.5 3.1l0.5 5l0.5 0.7l0.5-6l0.5-6.3l0.5-6.4l0.5-9.1l0.5-7.3l0.5-0.2l0.5 4.5l0.5 0.3l0.5-2.4l0.5 4.7l0.5 12.4l0.5 18.4l0.5 25.3l0.5 25.8l0.5 18l0.5 10l0.5 5l0.5 2.6l0.5 1.3l0.5 0.9l0.5 0.6l0.5 0.4l0.5 0.4l0.5 0.4l0.5 0.3l0.5 0.4l0.5 0.3l0.5 0.3l0.5 0.3l0.5 0.3l0.5 0.2l0.5 0.2l0.5 0.1l0.5 0.1l0.5 0.1l0.5 0.1l0.5 0l0.5 0l0.5 0.1l0.5 0l0.5 0.1l0.5 0.2l0.5 0.1l0.5 0.1l0.5 0.1l0.5 0l0.5 0.1l0.5 0l0.5 0.1l0.5 0l0.5 0.1l0.5 0l0.5 0l0.5 0.1l0.5 0l0.5-0.1l0.5 0l0.5 0l0.5-0.1l0.5 0l0.5-0.1l0.5 0l0.5-0.1l0.5 0l0.5 0l0.5 0l0.5 0l0.5 0l0.5-0.1l0.5 0l0.5-0.1l0.5-0.1l0.5-0.1l0.5 0l0.5-0.1l0.5 0l0.5 0l0.5 0.1l0.5 0.1l0.5 0.1l0.5 0.1l0.5 0.1l0.5 0l0.5 0.1l0.5 0l0.5-0.1l0.5 0l0.5 0l0.5 0l0.5-0.1l0.5-0.1l0.5-0.2l0.5-0.1l0.5-0.1l0.5 0l0.5 0l0.5 0.1l0.5 0.1l0.5 0.1l0.5 0.1l0.5 0l0.5-0.1l0.5-0.1l0.5 0l0.5-0.1l0.5-0.2l0.5 0l0.5-0.1l0.5 0l0.5 0l0.5 0l0.5 0.1l0.5-0.1l0.5 0l0.5-0.1l0.5 0l0.5-0.1l0.5 0l0.5 0l0.5 0l0.5 0l0.5 0l0.5 0l0.5 0l0.5-0.1l0.5-0.1l0.5-0.1l0.5-0.2l0.5-0.2l0.5-0.2l0.5-0.1l0.5-0.1l0.5 0.1l0.5 0.1l0.5 0.1l0.5 0.1l0.5 0l0.5 0l0.5-0.1l0.5-0.1l0.5-0.1l0.5-0.2l0.5-0.1l0.5-0.1l0.5-0.1l0.5-0.1l0.5-0.1l0.5-0.1l0.5 0l0.5 0l0.5 0l0.5 0.1l0.5 0l0.5 0l0.5 0l0.5 0l0.5-0.1l0.5-0.1l0.5-0.1l0.5-0.2l0.5-0.3l0.5-0.2l0.5-0.2l0.5-0.2l0.5-0.1l0.5-0.1l0.5 0l0.5 0.1l0.5 0l0.5 0l0.5-0.1l0.5-0.1l0.5-0.1l0.5-0.2l0.5-0.2l0.5-0.2l0.5-0.2l0.5-0.1l0.5-0.2l0.5-0.1l0.5 0l0.5 0l0.5 0.1l0.5 0l0.5 0.1l0.5 0l0.5 0l0.5 0l0.5-0.1l0.5 0l0.5-0.1l0.5 0l0.5 0l0.5 0l0.5 0l0.5 0l0.5 0.1l0.5 0.1l0.5 0l0.5 0l0.5 0l0.5 0l0.5-0.1l0.5-0.1l0.5-0.2l0.5 0l0.5-0.1l0.5-0.1l0.5-0.1l0.5-0.1l0.5-0.1l0.5-0.1l0.5-0.2l0.5-0.1l0.5-0.1l0.5 0l0.5 0l0.5 0l0.5 0l0.5 0l0.5 0l0.5-0.1l0.6-0.1l0.5-0.1l0.5-0.1l0.5-0.1l0.5-0.1l0.5 0l0.5 0.1l0.5 0.1l0.5 0.1l0.5 0.1l0.5 0l0.5 0l0.5 0l0.5-0.1l0.5-0.1l0.5-0.1l0.5 0l0.5-0.1l0.5 0l0.5 0l0.5 0l0.5 0l0.5 0.1l0.5 0l0.5-0.1l0.5 0l0.5-0.1l0.5-0.2l0.5-0.2l0.5-0.5l0.5-0.5l0.5-0.3l0.5 0.3l0.5 0.4l0.5 0.2l0.5 0l0.5 0l0.5-0.1l0.5-0.2l0.5-0.2l0.5-0.2l0.5-0.4l0.5-0.8l0.5-1.2l0.5-1.2l0.5-0.1l0.5 1.2l0.5 1.3l0.5 0.8l0.5 0.6l0.5 0.4l0.5 0.3l0.5 0.3l0.5 0.2l0.5 0.2l0.5 0.1l0.5 0.2l0.5 0.1l0.5 0.1l0.5 0.1l0.5 0l0.5 0.1l0.5 0l0.5 0l0.5 0l0.5 0l0.5 0.1l0.5 0.1l0.5 0.2l0.5 0.2l0.5 0.3l0.5 0.2l0.5 0.2l0.5 0.1l0.5 0.1l0.5 0.1l0.5 0l0.5 0.1l0.5 0l0.5 0.1l0.5 0.1l0.5 0.1l0.5 0.1l0.5 0.1l0.5 0.1l0.5 0.1l0.5 0.1l0.5 0.1l0.5 0.1l0.5 0.1l0.5 0.2l0.5 0.1l0.5 0.2l0.5 0.2l0.5 0.1l0.5 0.2l0.5 0.1l0.5 0.2l0.5 0.2l0.5 0.1l0.5 0.2l0.5 0.1l0.5 0.1l0.5 0.1l0.5 0.1l0.5 0.1l0.5 0l0.5 0.1l0.5 0l0.5 0.1l0.5 0.1l0.5 0.1l0.5 0.2l0.5 0.3l0.5 0.2l0.5 0.3l0.5 0.3l0.5 0.2l0.5 0.1l0.5 0.1l0.5 0.1l0.5 0.1l0.5 0l0.5 0.1l0.5 0l0.5 0.1l0.5 0.1l0.5 0.1l0.5 0.2l0.5 0.2l0.5 0.2l0.5 0.2l0.5 0.2l0.5 0l0.5 0.1l0.5-0.1l0.5-0.1l0.5 0l0.5-0.1l0.5 0l0.5 0l0.5 0l0.5 0l0.5 0l0.5-0.1l0.5 0.1l0.5 0l0.5 0.1l0.5 0l0.5 0.1l0.5 0l0.5 0.1l0.5 0l0.5-0.1l0.5 0l0.5-0.1l0.5 0l0.5 0l0.5 0l0.5 0l0.5 0l0.5 0.1l0.5 0.1l0.5 0.1l0.5 0l0.5 0l0.5 0l0.5 0l0.5-0.1l0.5-0.1l0.5 0l0.5 0l0.5 0l0.5 0l0.5 0l0.5 0l0.5 0l0.5-0.1l0.5 0l0.5-0.1l0.5 0l0.5 0l0.5-0.1l0.5 0l0.5 0.1l0.5 0l0.5 0.1l0.5 0.1l0.5 0l0.5 0l0.5 0l0.5 0l0.5-0.1l0.5 0l0.5 0l0.5 0l0.5 0.1l0.5 0.1l0.5 0.1l0.5 0l0.5 0.1l0.5 0l0.5 0l0.5 0l0.5 0l0.5 0.1l0.5 0l0.5 0.1l0.5 0l0.5 0.1l0.5 0l0.5 0l0.5-0.1l0.5 0l0.5-0.1l0.5-0.2l0.5-0.1l0.5-0.1l0.5 0l0.5-0.1l0.5-0.1l0.5 0l0.5 0l0.5 0l0.5 0.1l0.5 0.1l0.5 0.2l0.5 0.1l0.5 0.1l0.5 0.1l0.5 0l0.5-0.1l0.5 0l0.5-0.1l0.5 0l0.5 0l0.5 0l0.5 0l0.5-0.1l0.5 0.1l0.5 0l0.5 0l0.5 0.1l0.5 0l0.5 0l0.5 0l0.5-0.1l0.5-0.1l0.5-0.1l0.5-0.1l0.5-0.1l0.5 0l0.5 0l0.5 0.1l0.5 0.1l0.5 0.2l0.5 0.2l0.5 0.1l0.5 0.1l0.5 0l0.5 0l0.5-0.1l0.5-0.1l0.5 0l0.5-0.1l0.5 0l0.5 0l0.5 0.1l0.5 0l0.5 0l0.5 0.1l0.5 0l0.5 0.1l0.5 0.1M971.8 1235l0.5-0.1l0.5-0.1l0.5 0.2l0.5 0.2l0.5-0.3l0.5-0.4l0.5-0.5l0.5 0l0.5 0.8l0.5 0.2l0.5-0.4l0.5-0.3l0.5-0.4l0.5-0.5l0.5 0.1l0.5 0.1l0.5-0.2l0.5-0.3l0.5-0.3l0.5-0.2l0.5 0l0.5 0l0.5 0.2l0.5-0.1l0.5-0.2l0.5-0.2l0.5-0.1l0.5 0l0.5-0.4l0.5-0.5l0.5-0.4l0.5-0.3l0.5 0.1l0.5 0l0.5-0.3l0.5-0.2l0.5-0.2l0.5-0.3l0.5-0.1l0.5-0.3l0.5-0.4l0.5-0.4l0.5-0.8l0.5-0.5l0.5-0.1l0.5-0.2l0.5-0.8l0.5-0.7l0.5-0.3l0.5-0.7l0.5-1.4l0.5-1.8l0.5-2l0.5-2.1l0.5-1.3l0.5-0.5l0.5-0.9l0.5-1l0.5-1.6l0.5-2.4l0.5-2.1l0.5-1.2l0.5-1.5l0.5-1.8l0.5-1.3l0.5-0.5l0.5-0.6l0.5-1.1l0.5-0.9l0.5-1.5l0.5-1l0.5-0.7l0.5-3.1l0.5-4l0.5-2l0.5-0.8l0.5-1.8l0.5-2.2l0.6-0.9l0.5-0.5l0.5-1.5l0.5-1.6l0.5-0.4l0.5-0.5l0.5-1.1l0.5-0.2l0.5-1.2l0.5-2.2l0.5-1l0.5-1.5l0.5-1.5l0.5 0.1l0.5-1l0.5-2.4l0.5-1l0.5-1.1l0.5-0.9l0.5 1.8l0.5 0.6l0.5-4.6l0.5-4.7l0.5-0.1l0.5 2.8l0.5 1l0.5-2.3l0.5-4.7l0.5-5l0.5-2.6l0.5-0.4l0.5 0.1l0.5-0.1l0.5 2.4l0.5 3.4l0.5 0.1l0.5-2.3l0.5-5.9l0.5-5.9l0.5-0.7l0.5 2.8l0.5 0.9l0.5-0.7l0.5-0.1l0.5-2.9l0.5-3.4l0.5 2l0.5 3.9l0.5-1.5l0.5-2.7l0.5-1.5l0.5-4.4l0.5-2.9l0.5 2.3l0.5 2.3l0.5-2.6l0.5-2.1l0.5 3.1l0.5 0.6l0.5-3.9l0.5-2.6l0.5-2.8l0.5-3.3l0.5 0.4l0.5 2l0.5-1.4l0.5-0.9l0.5 2.9l0.5 2.5l0.5 0.7l0.5-2.4l0.5-4.7l0.5 0.9l0.5 2.2l0.5-4.1l0.5-4.7l0.5-1.2l0.5-1.9l0.5-2l0.5 1.6l0.5 4l0.5-0.1l0.5-2.6l0.5-0.2l0.5-1l0.5-1.7l0.5 2.1l0.5 2.4l0.5-0.3l0.5 1l0.5-0.7l0.5-4.9l0.5-1.5l0.5 4.7l0.5 3.7l0.5-2.2l0.5-3.1l0.5-2.5l0.5-1.5l0.5 0.3l0.5 0.1l0.5 2.3l0.5 6l0.5 0.8l0.5-5.8l0.5-2.7l0.5 1.4l0.5-0.3l0.5 1.1l0.5 4.3l0.5-0.7l0.5-4.7l0.5-0.6l0.5 1.9l0.5 0.7l0.5 3l0.5 2.7l0.5-4.7l0.5-5.7l0.5 0.5l0.5 4.5l0.5 1.4l0.5-1.8l0.5 2.1l0.5 3l0.5-0.2l0.5 0.4l0.5-0.4l0.5-0.2l0.5 1.5l0.5-2.6l0.5-2.9l0.5 4l0.5 5.3l0.5-3.3l0.5-6.6l0.5-0.8l0.5 2.3l0.5-0.7l0.5 1l0.5 5.5l0.5 1.3l0.5-3.2l0.5-3.8l0.5-3.8l0.5-0.1l0.5 3.2l0.5 1.5l0.5 1.2l0.5 4.4l0.5 4.7l0.5 2.9l0.5 5.6l0.5 6.6l0.5 0.2l0.5-1.3l0.5-0.1l0.5-5.9l0.5-7.4l0.5-2.1l0.5 1.8l0.5 1.2l0.5 0l0.5-1.2l0.5-2.1l0.5 2l0.5 5.1l0.5 0.2l0.5-1.3l0.5-0.4l0.5-5.2l0.5-3.4l0.5 3.8l0.5 2l0.5-3.5l0.5 0.1l0.5 6.7l0.5 5.3l0.5 1.4l0.5 0.9l0.5 0.7l0.5 0.4l0.5 2.3l0.5 4.4l0.5 0.3l0.5-6.2l0.5-8.7l0.5-8.6l0.5-4.2l0.5 1.3l0.5 1.4l0.5-1l0.5-0.6l0.5-3.9l0.5-5.6l0.5-1.2l0.5 5.7l0.5 8.3l0.5 3l0.5-1.7l0.5-1l0.5 4.3l0.5 10.4l0.5 10.9l0.5 5.3l0.5 2l0.5-2l0.5-7.5l0.5-5.5l0.5-4l0.5-7.8l0.5-5.9l0.5-2.5l0.5-4.6l0.5-2l0.5 5.5l0.5 7l0.5 7.8l0.5 17.7l0.5 27.1l0.5 26.2l0.5 17.9l0.5 9.9l0.5 5.1l0.5 2.5l0.5 1.4l0.5 0.8l0.5 0.6l0.5 0.5l0.5 0.3l0.5 0.3l0.5 0.2l0.5 0.1l0.5 0.1l0.5 0l0.5 0.1l0.5 0.1l0.5 0.1l0.5 0.3l0.5 0.2l0.5 0.3l0.5 0.3l0.5 0.3l0.5 0.3l0.5 0.2l0.5 0.2l0.5 0.1l0.5 0.1l0.5 0.1l0.5 0l0.5 0l0.5-0.1l0.5-0.1l0.5 0l0.5 0l0.5 0.1l0.5 0.1l0.5 0.1l0.5 0.2l0.5 0l0.5 0.1l0.5 0l0.5 0l0.5 0.1l0.5 0.1l0.5 0l0.5 0l0.5 0l0.5 0l0.5-0.2l0.5-0.1l0.5-0.2l0.5-0.2l0.5-0.2l0.5-0.2l0.5-0.1l0.5-0.1l0.5 0l0.5-0.1l0.5 0.1l0.5 0l0.5 0.1l0.5 0l0.5 0.1l0.5 0l0.5 0l0.5 0l0.5 0l0.5-0.1l0.5-0.1l0.5 0l0.5-0.1l0.5-0.1l0.5-0.1l0.5 0l0.5 0l0.5 0l0.5 0.1l0.5 0.1l0.5 0.1l0.5 0.2l0.5 0.1l0.5 0.1l0.5 0.1l0.5 0l0.5 0l0.5 0l0.5-0.1l0.5 0l0.5 0l0.5 0l0.5 0l0.5 0l0.5 0l0.5-0.1l0.5 0l0.5-0.1l0.5 0l0.5-0.1l0.5 0l0.5 0l0.5-0.1l0.5-0.1l0.5 0l0.5-0.1l0.5-0.1l0.5-0.1l0.5-0.1l0.5-0.1l0.5-0.2l0.5-0.1l0.5-0.1l0.5-0.1l0.5-0.1l0.5-0.1l0.5-0.1l0.5-0.1l0.5-0.1l0.5-0.1l0.5-0.1l0.5-0.1l0.5-0.1l0.5-0.1l0.5 0l0.5-0.1l0.5 0l0.5 0l0.5 0l0.5-0.1l0.5 0l0.5-0.1l0.5 0l0.5 0l0.5 0l0.5 0l0.5 0l0.5 0l0.5-0.1l0.5-0.1l0.5-0.1l0.5-0.1l0.5 0l0.5-0.1l0.5-0.1l0.5-0.2l0.5-0.1l0.5-0.3l0.5-0.2l0.5-0.1l0.5-0.1l0.5 0l0.5 0.1l0.5 0l0.5 0.1l0.5 0l0.5 0l0.5-0.1l0.5-0.1l0.5-0.1l0.5 0l0.5-0.1l0.5 0l0.5 0l0.5-0.1l0.5 0l0.5-0.2l0.5-0.1l0.5-0.2l0.5-0.2l0.5-0.1l0.6-0.1l0.5 0l0.5-0.1l0.5 0l0.5 0.1l0.5 0.1l0.5 0.1l0.5 0.1l0.5 0.1l0.5 0l0.5 0l0.5 0l0.5 0l0.5-0.1l0.5 0l0.5-0.1l0.5 0l0.5-0.1l0.5-0.1l0.5-0.1l0.5-0.1l0.5-0.1l0.5-0.2l0.5-0.1l0.5-0.2l0.5-0.1l0.5-0.1l0.5 0l0.5 0l0.5 0.1l0.5 0l0.5 0.1l0.5 0l0.5 0l0.5-0.1l0.5-0.1l0.5-0.2l0.5-0.1l0.5-0.1l0.5-0.1l0.5 0.1l0.5 0l0.5 0.1l0.5 0.1l0.5 0.1l0.5 0l0.5 0l0.5-0.1l0.5-0.1l0.5-0.1l0.5-0.2l0.5-0.2l0.5-0.2l0.5-0.1l0.5 0l0.5 0l0.5 0.1l0.5 0.1l0.5 0l0.5 0.1l0.5-0.1l0.5 0l0.5-0.1l0.5-0.1l0.5-0.1l0.5-0.1l0.5-0.2l0.5-0.3l0.5-0.4l0.5-0.6l0.5-0.2l0.5 0.4l0.5 0.6l0.5 0.4l0.5 0.2l0.5 0l0.5-0.2l0.5-0.2l0.5-0.3l0.5-0.2l0.5-0.4l0.5-0.7l0.5-1.1l0.5-1.1l0.5 0.1l0.5 1.2l0.5 1.3l0.5 0.7l0.5 0.4l0.5 0.2l0.5 0.1l0.5 0l0.5 0.2l0.5 0.1l0.5 0.3l0.5 0.2l0.5 0.2l0.5 0.2l0.5 0.2l0.5 0.1l0.5 0.1l0.5 0.1l0.5 0.1l0.5 0l0.5 0.1l0.5 0.1l0.5 0.1l0.5 0.1l0.5 0.1l0.5 0.1l0.5 0l0.5 0.1l0.5 0l0.5 0l0.5 0.1l0.5 0l0.5 0.1l0.5 0.1l0.5 0.2l0.5 0.2l0.5 0.1l0.5 0.1l0.5 0.1l0.5 0.1l0.5 0.2l0.5 0.1l0.5 0.1l0.5 0.1l0.5 0.1l0.5 0.1l0.5 0.1l0.5 0.2l0.5 0.2l0.5 0.2l0.5 0.1l0.5 0.2l0.5 0.1l0.5 0.1l0.5 0.2l0.5 0.2l0.5 0.2l0.5 0.2l0.5 0.2l0.5 0.2l0.5 0.2l0.5 0.1l0.5 0l0.5 0l0.5 0.1l0.5 0l0.5 0.2l0.5 0.1l0.5 0.2l0.5 0.2l0.5 0.2l0.5 0.2l0.5 0.1l0.5 0.1l0.5 0.1l0.5 0.1l0.5 0.1l0.5 0.2l0.5 0.2l0.5 0.1l0.5 0.2l0.5 0.1l0.5 0.1l0.5 0.1l0.5 0.1l0.5 0.1l0.5 0.1l0.5 0l0.5 0.1l0.5 0.1l0.5 0.1l0.5 0.1l0.5 0.1l0.5 0.1l0.5 0l0.5-0.1l0.5 0l0.5 0l0.5-0.1l0.5 0l0.5 0l0.5 0.1l0.5 0l0.5 0.1l0.5 0l0.5 0l0.5-0.1l0.5 0l0.5 0l0.5-0.1l0.5 0l0.5 0.1l0.5 0l0.5 0l0.5 0l0.5 0l0.5-0.1l0.5-0.1l0.5-0.2l0.5-0.1l0.5 0l0.5 0l0.5 0l0.5 0.1l0.5 0l0.5 0l0.5 0l0.5 0l0.5 0l0.5 0.1l0.5 0l0.5 0.1l0.5 0l0.5 0.1l0.5 0l0.5 0l0.5 0.1l0.5-0.1l0.5 0l0.5 0l0.5 0l0.5 0l0.5 0l0.5 0l0.5 0l0.5 0.1l0.5 0l0.5 0.1l0.5 0.1l0.5 0.1l0.5 0l0.5 0l0.5-0.1l0.5-0.1l0.5-0.1l0.5 0l0.5 0l0.5 0.1l0.5 0.1l0.5 0.1l0.5 0l0.5 0l0.5-0.1l0.5-0.2l0.5-0.1l0.5-0.2l0.5-0.1l0.5-0.1l0.5 0l0.5 0.1l0.5 0.1l0.5 0.1l0.5 0.2l0.5 0.2l0.5 0.1l0.5 0l0.5 0l0.5 0l0.5 0l0.5 0.1l0.5 0l0.5 0.1l0.5 0l0.5 0l0.5 0l0.5 0.1l0.5 0l0.5 0l0.5 0.1l0.5 0.1l0.5 0.1l0.5 0l0.5 0l0.5-0.1l0.5-0.2l0.5-0.1l0.5-0.1l0.5-0.1l0.5-0.1l0.5 0l0.5 0l0.5 0.1l0.5 0.1l0.5 0.1l0.5 0.1l0.5 0l0.5 0l0.5-0.1l0.5-0.1l0.5-0.1l0.5-0.1l0.5-0.1l0.5-0.1l0.5-0.1l0.5 0l0.5 0.1l0.5 0.1l0.5 0.1l0.5 0l0.5 0.1l0.5 0l0.5 0l0.5 0l0.5 0l0.5 0l0.5 0.1l0.5 0l0.5 0.1l0.5 0.1M959.2 1253.6l0.5-0.1l0.5-0.3l0.5 0.1l0.5 0l0.5-0.3l0.5 0.1l0.5 0.4l0.5 0.3l0.5 0.1l0.5-0.9l0.5-1.1l0.5-0.3l0.5 0.3l0.5 0.2l0.5 0l0.5 0.3l0.5 0.3l0.5-0.1l0.5-0.1l0.5-0.2l0.5-0.2l0.5 0l0.5-0.2l0.5-0.6l0.5-0.4l0.5 0l0.5-0.5l0.5-0.7l0.5-0.2l0.5-0.2l0.5-0.2l0.5 0.2l0.5 0.6l0.5 0.1l0.5-0.2l0.5-0.4l0.5-0.2l0.5 0.1l0.5-0.2l0.6-0.6l0.5-0.8l0.5-0.1l0.5 0l0.5-0.5l0.5 0l0.5 0.3l0.5-0.5l0.5-0.2l0.5-0.1l0.5-1l0.5-0.5l0.5 0.6l0.5 0.3l0.5-0.9l0.5-1.1l0.5-0.1l0.5 0l0.5-0.8l0.5-0.8l0.5-0.4l0.5-0.4l0.5-0.4l0.5-1.1l0.5-1.8l0.5-1l0.5 0.3l0.5-0.2l0.5-0.9l0.5-0.6l0.5-1.5l0.5-2.4l0.5-1.8l0.5-1.4l0.5-1.1l0.5-0.9l0.5-1.5l0.5-2.7l0.5-1.6l0.5 0.1l0.5-0.2l0.5-1.9l0.5-2.9l0.5-2.8l0.5-0.8l0.5 0.7l0.5-1.7l0.5-3.8l0.5-2.1l0.5-0.2l0.5-1.5l0.5-2l0.5-0.7l0.5-1.6l0.5-1.9l0.5-0.3l0.5-2l0.5-4.2l0.5-2.6l0.5-0.5l0.5-0.6l0.5-1.3l0.5-0.8l0.5-1.8l0.5-2.4l0.5 0.8l0.5 2.2l0.5-2l0.5-4.1l0.5-1l0.5 0.3l0.5 0.2l0.5-1.6l0.5-4.1l0.5-2.1l0.5 0.1l0.5-1.9l0.5-2.6l0.5 1.5l0.5 3.1l0.5-1.8l0.5-4.3l0.5-0.6l0.5-0.1l0.5-2.7l0.5-1l0.5-0.8l0.5-4l0.5-2.9l0.5 0.8l0.5 1.4l0.5 0.5l0.5-1.5l0.5-4.3l0.5-2.7l0.5 0.3l0.5-1.7l0.5-3.7l0.5-1.5l0.5 2.1l0.5 1.7l0.5-1.8l0.5-0.2l0.5 1.9l0.5-2.9l0.5-3.4l0.5 2.9l0.5 4.9l0.5-0.1l0.5-6.2l0.5-8.2l0.5-4l0.5 1.1l0.5 2.6l0.5-0.9l0.5-0.6l0.5 3.4l0.5 0.8l0.5-2.3l0.5 0.8l0.5-0.7l0.5-3.3l0.5-3l0.5-3.2l0.5-1.1l0.5 1.7l0.5 0.3l0.5-1.3l0.5 1.5l0.5 2.2l0.5-1.8l0.5-2.1l0.5 1.8l0.5 1.3l0.5-2.1l0.5-0.5l0.5 2.7l0.5 4.1l0.5 2.7l0.5-4.5l0.5-6.8l0.5-1.6l0.5 2.6l0.5 2.1l0.5 0.2l0.5-1.4l0.5-3l0.5-1l0.5 2.6l0.5 2l0.5-2.1l0.5-2.1l0.5 1.3l0.5 3.7l0.5 4.7l0.5 2.7l0.5-3.9l0.5-4.8l0.5 2.1l0.5 4.4l0.5 1.8l0.5 2.8l0.5-0.5l0.5-6l0.5-1l0.5 5.8l0.5 2.2l0.5-3.3l0.5 2.1l0.5 4.7l0.5-3.4l0.5-5.6l0.5-0.4l0.5 0.8l0.5 0.8l0.5 3.8l0.5 1.1l0.5-4l0.5-1.9l0.5-1.9l0.5-3.1l0.5 2.5l0.5 6.6l0.5 1.1l0.5-1.9l0.5 1.5l0.5 1l0.5 3.2l0.5 4.2l0.5-1.3l0.5-1.5l0.5 3.5l0.5 7.3l0.5 4.8l0.5-1.3l0.5-4.2l0.5-4.9l0.5-3.3l0.5 0.5l0.5 2.3l0.5-1l0.5-1.8l0.5 1l0.5-0.3l0.5-2.1l0.5-1l0.5-1.7l0.5-0.1l0.5 4.2l0.5 1.5l0.5-1.4l0.5-0.1l0.5-3.8l0.5-5.2l0.5-0.2l0.5 4.8l0.5 5.4l0.5 3.1l0.5 4l0.5 5.9l0.5 2.5l0.5-0.4l0.5 0.8l0.5-0.8l0.5-4.1l0.5-7.3l0.5-8.5l0.5-2.7l0.5 0.3l0.5-3.7l0.5-3l0.5 0.9l0.5-2.3l0.5-4.4l0.5 1.9l0.5 7.2l0.5 2.1l0.5-2.7l0.5 2.3l0.5 6.5l0.5 7.1l0.5 8.5l0.5 4.1l0.5-1.5l0.5-1.3l0.5-0.2l0.5-1.4l0.5-2.4l0.5-3.1l0.5-7.9l0.5-9.5l0.5-2.7l0.5 2.7l0.5 1.4l0.5 0.8l0.5 2.6l0.5 7.7l0.5 18.8l0.5 27.6l0.5 26.3l0.5 18l0.5 9.9l0.5 5.1l0.5 2.5l0.5 1.4l0.5 0.9l0.5 0.7l0.5 0.5l0.5 0.5l0.5 0.4l0.5 0.3l0.5 0.3l0.5 0.2l0.5 0.2l0.5 0.1l0.5 0.1l0.5 0.1l0.5 0.1l0.5 0.1l0.5 0.1l0.5 0.1l0.5 0.1l0.5 0.1l0.5 0.1l0.5 0.2l0.5 0.1l0.5 0.1l0.5 0.1l0.5 0.1l0.5 0.2l0.5 0.1l0.5 0.1l0.5 0l0.5 0l0.5 0l0.5-0.1l0.5-0.1l0.5-0.1l0.5 0l0.5-0.1l0.5 0l0.5 0l0.5 0l0.5 0l0.5 0l0.5 0.1l0.5 0l0.5 0.1l0.5 0l0.5 0l0.5 0l0.5 0l0.5 0l0.5 0.1l0.5 0l0.5 0l0.5 0l0.5 0.1l0.5-0.1l0.5 0l0.5 0l0.5 0l0.5 0l0.5-0.1l0.5 0l0.5 0l0.5 0l0.5 0l0.5 0l0.5 0.1l0.5 0l0.5 0l0.5 0l0.5-0.1l0.5 0l0.5 0l0.5 0.1l0.5 0.1l0.5 0l0.5 0.1l0.5 0l0.5 0l0.5-0.1l0.5-0.1l0.5-0.1l0.5 0l0.5-0.1l0.5 0l0.5 0l0.5 0.1l0.5-0.1l0.5-0.1l0.5-0.1l0.5-0.1l0.5-0.1l0.5-0.1l0.5 0l0.5-0.1l0.5 0l0.5-0.1l0.5-0.1l0.5-0.2l0.5-0.1l0.5-0.1l0.5-0.1l0.5-0.1l0.5 0l0.5 0l0.5 0l0.5-0.1l0.5-0.1l0.5-0.1l0.5-0.2l0.5-0.1l0.5-0.2l0.5-0.1l0.5-0.1l0.5-0.1l0.5-0.1l0.5 0l0.5 0l0.5 0l0.5 0l0.5 0l0.5 0l0.5 0l0.5 0l0.5 0l0.5-0.1l0.5 0l0.6-0.1l0.5 0l0.5-0.1l0.5-0.2l0.5-0.1l0.5-0.1l0.5-0.2l0.5-0.2l0.5-0.1l0.5-0.1l0.5-0.1l0.5 0l0.5 0l0.5 0l0.5 0l0.5 0l0.5-0.1l0.5-0.1l0.5 0l0.5 0l0.5-0.1l0.5 0l0.5 0l0.5-0.1l0.5 0l0.5-0.1l0.5-0.1l0.5-0.1l0.5-0.1l0.5 0l0.5-0.1l0.5-0.1l0.5 0l0.5-0.1l0.5 0l0.5-0.1l0.5 0l0.5-0.1l0.5 0l0.5-0.1l0.5 0l0.5-0.1l0.5 0l0.5-0.1l0.5-0.1l0.5-0.1l0.5 0l0.5-0.1l0.5 0l0.5-0.1l0.5 0l0.5 0l0.5 0l0.5 0l0.5-0.1l0.5 0l0.5-0.1l0.5 0l0.5-0.1l0.5 0l0.5 0l0.5 0l0.5 0l0.5-0.1l0.5 0l0.5-0.1l0.5 0l0.5-0.1l0.5 0l0.5 0l0.5 0.1l0.5 0l0.5 0l0.5 0.1l0.5-0.1l0.5 0l0.5 0l0.5-0.1l0.5 0l0.5 0l0.5 0l0.5 0l0.5 0l0.5 0l0.5 0l0.5 0l0.5 0l0.5 0l0.5 0l0.5 0l0.5 0l0.5-0.1l0.5 0l0.5-0.1l0.5-0.1l0.5 0l0.5-0.1l0.5-0.1l0.5-0.1l0.5-0.1l0.5-0.1l0.5-0.1l0.5 0l0.5-0.2l0.5-0.1l0.5-0.3l0.5-0.3l0.5-0.6l0.5-0.6l0.5-0.3l0.5 0.4l0.5 0.5l0.5 0.5l0.5 0.2l0.5 0.2l0.5 0l0.5 0l0.5-0.1l0.5-0.2l0.5-0.5l0.5-0.8l0.5-1.3l0.5-1.4l0.5-0.2l0.5 1.2l0.5 1.2l0.5 0.9l0.5 0.7l0.5 0.6l0.5 0.5l0.5 0.3l0.5 0.3l0.5 0.2l0.5 0.1l0.5 0l0.5-0.1l0.5-0.1l0.5-0.1l0.5-0.1l0.5-0.1l0.5 0l0.5 0.1l0.5 0l0.5 0.2l0.5 0.1l0.5 0.1l0.5 0.2l0.5 0.2l0.5 0.1l0.5 0.1l0.5 0.1l0.5 0.1l0.5 0.1l0.5 0.1l0.5 0.1l0.5 0.1l0.5 0.2l0.5 0.2l0.5 0.2l0.5 0.2l0.5 0.2l0.5 0.1l0.5 0.1l0.5 0.1l0.5 0l0.5 0.1l0.5 0l0.5 0l0.5 0.1l0.5 0.1l0.5 0.1l0.5 0.1l0.5 0.1l0.5 0.2l0.5 0.1l0.5 0.1l0.5 0.1l0.5 0.2l0.5 0.1l0.5 0.2l0.5 0.1l0.5 0.2l0.5 0.2l0.5 0.3l0.5 0.2l0.5 0.3l0.5 0.2l0.5 0.1l0.5 0.1l0.5 0.1l0.5 0.1l0.5 0.1l0.5 0.1l0.5 0.1l0.5 0.2l0.5 0.1l0.5 0.1l0.5 0.2l0.5 0.1l0.5 0l0.5 0.1l0.5 0l0.5 0l0.5 0.1l0.5 0.1l0.5 0.2l0.5 0.3l0.5 0.3l0.5 0.3l0.5 0.2l0.5 0.2l0.5 0l0.5 0.1l0.5-0.1l0.5-0.1l0.5-0.1l0.5-0.1l0.5-0.1l0.5-0.1l0.5 0l0.5-0.1l0.5 0l0.5 0l0.5 0.1l0.5 0l0.5 0.1l0.5 0.1l0.5 0l0.5 0.1l0.5 0l0.5 0l0.5 0l0.5 0l0.5 0l0.5 0l0.5 0l0.5 0l0.5 0l0.5 0l0.5-0.1l0.5 0l0.5-0.2l0.5-0.1l0.5-0.1l0.5 0l0.5 0l0.5 0.1l0.5 0l0.5 0.1l0.5 0l0.5 0.1l0.5 0l0.5-0.1l0.5 0l0.5-0.1l0.5 0l0.5 0l0.5 0.1l0.5 0l0.5 0.1l0.5 0l0.5-0.1l0.5 0l0.5-0.2l0.5 0l0.5-0.1l0.5 0l0.5 0.1l0.5 0.1l0.5 0.1l0.5 0.2l0.5 0l0.5 0.1l0.5 0.1l0.5 0.1l0.5 0.1l0.5 0.2l0.5 0.1l0.5 0l0.5 0l0.5 0l0.5 0l0.5-0.1l0.5 0l0.5 0.1l0.5 0.1l0.5 0.1l0.5 0.1l0.5 0.1l0.5 0.1l0.5 0l0.5 0l0.5 0l0.5 0l0.5-0.1l0.5 0l0.5-0.1l0.5-0.1l0.5-0.1l0.5-0.1l0.5-0.2l0.5-0.1l0.5 0l0.5-0.1l0.5 0l0.5 0l0.5 0.1l0.5 0l0.5 0.1l0.5 0.1l0.5 0l0.5 0.1l0.5 0.1l0.5 0l0.5 0l0.5 0l0.5 0l0.5-0.1l0.5 0l0.5 0l0.5 0l0.5 0l0.5-0.1l0.5 0l0.5 0l0.5-0.1l0.5-0.1l0.5 0l0.5 0l0.5 0l0.5 0l0.5 0.1l0.5 0.1l0.5 0.1l0.5 0.1l0.5 0l0.5 0l0.5 0l0.5 0l0.5 0l0.5 0l0.5 0.1l0.5 0l0.5 0.1l0.5 0.1l0.5 0.1l0.5 0l0.5 0.1l0.5 0l0.5-0.1l0.5-0.1l0.5-0.2M946.7 1274.7l0.6-0.4l0.5-0.4l0.5-0.2l0.5 0.3l0.5 0.1l0.5-0.1l0.5-0.5l0.5-0.5l0.5 0.2l0.5 0.1l0.5-0.3l0.5-0.2l0.5-0.1l0.5-0.2l0.5 0.1l0.5-0.1l0.5-0.2l0.5 0.2l0.5 0.5l0.5 0.2l0.5-0.4l0.5-0.3l0.5 0l0.5-0.2l0.5-0.4l0.5-0.1l0.5 0.4l0.5-0.1l0.5-0.7l0.5-0.4l0.5 0.3l0.5 0.3l0.5-0.7l0.5-0.8l0.5-0.3l0.5 0l0.5-0.1l0.5-0.6l0.5-0.5l0.5 0l0.5-0.1l0.5 0.1l0.5 0.1l0.5 0.2l0.5-0.1l0.5-0.4l0.5-0.7l0.5-0.3l0.5 0.1l0.5 0.1l0.5 0.1l0.5-0.1l0.5-0.5l0.5-0.5l0.5 0l0.5-0.1l0.5-0.3l0.5 0.2l0.5 0l0.5-1l0.5-1.3l0.5-0.6l0.5 0.1l0.5 0.1l0.5-0.3l0.5-0.1l0.5 0l0.5-1l0.5-1.2l0.5-0.4l0.5-0.5l0.5-1l0.5-0.2l0.5 0l0.5-1l0.5-2l0.5-1.9l0.5-0.6l0.5 0l0.5-1.3l0.5-1.7l0.5-0.9l0.5-1.3l0.5-2.1l0.5-1.8l0.5-0.7l0.5-0.3l0.5-0.4l0.5-0.6l0.5-1.6l0.5-1.2l0.5-0.6l0.5-2.3l0.5-2.3l0.5 0l0.5-0.1l0.5-2.1l0.5-0.9l0.5 0.3l0.5-2.4l0.5-2.9l0.5-0.2l0.5-0.6l0.5-3.2l0.5-3.1l0.5-2.3l0.5-2.1l0.5-1.1l0.5-0.9l0.5-1.7l0.5-1.1l0.5 0.7l0.5 0.3l0.5-1.2l0.5-1.5l0.5-3l0.5-2.1l0.5 0.3l0.5-2.6l0.5-5l0.5-2.4l0.5 0.6l0.5-0.6l0.5-2.3l0.5 0.3l0.5 1.3l0.5-2.3l0.5-4l0.5-3l0.5-2l0.5 1.3l0.5 2.3l0.5-3.3l0.5-5.6l0.5-1.7l0.5 1.5l0.5-0.5l0.5-2.8l0.5-0.8l0.5-0.4l0.5-2.8l0.5-0.9l0.5 2.2l0.5 2.4l0.5 0.2l0.5-5.7l0.5-6l0.5-1.3l0.5-0.7l0.5-1.6l0.5 0.1l0.5-0.4l0.5-3.7l0.5-3.5l0.5-0.7l0.5 1.9l0.5 1.3l0.5-0.1l0.5-1.2l0.5-2.5l0.5 0.7l0.5 3.2l0.5-2.4l0.5-5.8l0.5 0.2l0.5 5.2l0.5 0.6l0.5-4.3l0.5-0.8l0.5 0.8l0.5-0.8l0.5-2l0.5-3.5l0.5-2.4l0.5 1.1l0.5 3.3l0.5 3.2l0.5 3.7l0.5 0.2l0.5-5.1l0.5-2.2l0.5 1.1l0.5-1.4l0.5-2l0.5 1l0.5 2.2l0.5 3.7l0.5 3.5l0.5-2.5l0.5-3.2l0.5 3.2l0.5 2.1l0.5-5.1l0.5-3.4l0.5 3.9l0.5 3.3l0.5-1.8l0.5 1.4l0.5 5.1l0.5 1.4l0.5-0.6l0.5-4.4l0.5-6.7l0.5-1.8l0.5 4.5l0.5 4.2l0.5-1.8l0.5-2.7l0.5 1.2l0.5 2l0.5 0.5l0.5-1.1l0.5-1.9l0.5 0.4l0.5 2.6l0.5-0.3l0.5-1.4l0.5 3.8l0.5 2.2l0.5-5.6l0.5-4.4l0.5 3.6l0.5 6.4l0.5 0.4l0.5-4.2l0.5-3.2l0.5 1l0.5 5.7l0.5 8.6l0.5 6.7l0.5 2.5l0.5-0.4l0.5-0.5l0.5 2.2l0.5 1l0.5-2.1l0.5 0.8l0.5 1.8l0.5-3.9l0.5-5l0.5 1l0.5 4.3l0.5-1l0.5-4.7l0.5-0.7l0.5 1l0.5-2.8l0.5-3.1l0.5-1l0.5-2.7l0.5-2l0.5 3.4l0.5 4.6l0.5 0.9l0.5 0.1l0.5 0.4l0.5 1.8l0.5 5.4l0.5 8.1l0.5 5.1l0.5-0.8l0.5-5.3l0.5-6.7l0.5-4.7l0.5-4.1l0.5-6.1l0.5-5.4l0.5-2.3l0.5-0.4l0.5-1.8l0.5-0.2l0.5 5.4l0.5 2.7l0.5-4.5l0.5-3.9l0.5-0.9l0.5 2.9l0.5 7.1l0.5 5l0.5 3.9l0.5 9l0.5 8.4l0.5 3.3l0.5 1.4l0.5-3.7l0.5-7.3l0.5-3.4l0.5-2.8l0.5-8.5l0.5-8.1l0.5-3.5l0.5-2.8l0.5-0.4l0.5 6.3l0.5 8.6l0.5 8.4l0.5 16.7l0.5 26.5l0.5 26.1l0.5 18l0.5 10.1l0.5 5.1l0.5 2.5l0.5 1.3l0.5 0.7l0.5 0.4l0.5 0.2l0.5 0.2l0.5 0.2l0.5 0.2l0.5 0.1l0.5 0.1l0.5 0.2l0.5 0.1l0.5 0.1l0.5 0.2l0.5 0.2l0.5 0.3l0.5 0.3l0.5 0.3l0.5 0.2l0.5 0.2l0.5 0.2l0.5 0.1l0.5 0.1l0.5 0.1l0.5 0l0.5 0.2l0.5 0.1l0.5 0.1l0.5 0.1l0.5 0.1l0.5 0l0.5 0l0.5 0l0.5-0.1l0.5 0l0.5 0l0.5-0.1l0.5-0.1l0.5-0.1l0.5 0l0.5 0l0.5 0l0.5 0.1l0.5 0.1l0.5 0.1l0.5 0l0.5 0l0.5 0l0.5 0l0.5-0.1l0.5 0l0.5 0l0.5 0l0.5 0.1l0.5 0.1l0.5 0l0.5 0.1l0.5 0l0.5 0l0.5-0.1l0.5 0l0.5-0.1l0.5-0.1l0.5-0.1l0.5 0l0.5-0.1l0.5-0.1l0.5 0l0.5 0l0.5 0l0.5 0l0.5 0.1l0.5 0.1l0.5 0.1l0.5 0.1l0.5 0.1l0.5 0l0.5 0l0.5 0l0.5 0l0.5 0l0.5 0l0.5 0l0.5 0l0.5 0l0.5 0l0.5 0l0.5 0l0.6 0l0.5 0l0.5 0l0.5-0.1l0.5-0.1l0.5 0l0.5-0.1l0.5-0.1l0.5 0l0.5-0.1l0.5 0l0.5 0l0.5 0l0.5-0.1l0.5 0l0.5-0.1l0.5-0.2l0.5-0.1l0.5-0.2l0.5-0.3l0.5-0.1l0.5-0.2l0.5-0.2l0.5-0.1l0.5-0.1l0.5-0.1l0.5-0.1l0.5-0.1l0.5 0l0.5-0.1l0.5 0l0.5 0l0.5 0l0.5 0l0.5 0l0.5 0l0.5 0.1l0.5 0l0.5 0l0.5-0.1l0.5-0.1l0.5 0l0.5-0.1l0.5-0.1l0.5-0.1l0.5 0l0.5-0.1l0.5-0.2l0.5-0.1l0.5-0.2l0.5-0.2l0.5-0.1l0.5-0.2l0.5-0.1l0.5 0l0.5-0.1l0.5 0l0.5 0l0.5 0l0.5 0l0.5-0.1l0.5 0l0.5-0.1l0.5 0l0.5-0.1l0.5-0.1l0.5-0.1l0.5 0l0.5-0.1l0.5-0.1l0.5 0l0.5-0.1l0.5 0l0.5 0l0.5 0l0.5 0l0.5 0l0.5 0l0.5 0l0.5-0.1l0.5-0.1l0.5 0l0.5-0.1l0.5-0.1l0.5 0l0.5 0l0.5 0l0.5-0.1l0.5 0l0.5-0.1l0.5-0.1l0.5-0.2l0.5-0.1l0.5-0.1l0.5-0.1l0.5 0l0.5 0.1l0.5 0.1l0.5 0.1l0.5 0.1l0.5 0l0.5 0l0.5 0l0.5-0.1l0.5-0.1l0.5-0.2l0.5-0.1l0.5-0.1l0.5-0.2l0.5-0.1l0.5-0.1l0.5-0.1l0.5 0l0.5 0l0.5 0l0.5 0.1l0.5 0.1l0.5 0.1l0.5 0.1l0.5 0.1l0.5 0.1l0.5 0l0.5 0l0.5 0l0.5-0.1l0.5 0l0.5-0.1l0.5 0l0.5-0.2l0.5-0.1l0.5-0.1l0.5-0.2l0.5-0.1l0.5-0.1l0.5 0l0.5 0l0.5 0l0.5 0l0.5 0.1l0.5 0l0.5 0l0.5 0l0.5-0.1l0.5-0.1l0.5-0.3l0.5-0.3l0.5-0.5l0.5-0.7l0.5-0.4l0.5 0.2l0.5 0.4l0.5 0.3l0.5 0.2l0.5 0.1l0.5 0l0.5 0l0.5-0.1l0.5-0.2l0.5-0.2l0.5-0.6l0.5-1l0.5-1l0.5 0.1l0.5 1.3l0.5 1.3l0.5 0.9l0.5 0.5l0.5 0.3l0.5 0.2l0.5 0.2l0.5 0.1l0.5 0.1l0.5 0l0.5 0.1l0.5 0l0.5 0l0.5 0l0.5 0l0.5 0l0.5 0.1l0.5 0l0.5 0.1l0.5 0.1l0.5 0.2l0.5 0.2l0.5 0.1l0.5 0.2l0.5 0.1l0.5 0l0.5 0l0.5-0.1l0.5-0.1l0.5-0.1l0.5 0l0.5 0l0.5 0.1l0.5 0.1l0.5 0.2l0.5 0.1l0.5 0.1l0.5 0.1l0.5 0.1l0.5 0.1l0.5 0.1l0.5 0.2l0.5 0.1l0.5 0.1l0.5 0.2l0.5 0.2l0.5 0.2l0.5 0.3l0.5 0.3l0.5 0.2l0.5 0.3l0.5 0.2l0.5 0.1l0.5 0.2l0.5 0.1l0.5 0.1l0.5 0.1l0.5 0l0.5 0.1l0.5 0l0.5 0.1l0.5 0l0.5 0.1l0.5 0.1l0.5 0.1l0.5 0.1l0.5 0.2l0.5 0.3l0.5 0.3l0.5 0.3l0.5 0.4l0.5 0.2l0.5 0.3l0.5 0.1l0.5 0.2l0.5 0.1l0.5 0l0.5 0.1l0.5 0l0.5 0l0.5 0l0.5 0l0.5 0l0.5 0.1l0.5 0.1l0.5 0.1l0.5 0l0.5 0.1l0.5 0l0.5-0.1l0.5 0l0.5 0l0.5 0l0.5 0l0.5 0.1l0.5 0.2l0.5 0.1l0.5 0.2l0.5 0.1l0.5 0l0.5 0l0.5-0.1l0.5-0.1l0.5 0l0.5-0.1l0.5 0l0.5-0.1l0.5-0.1l0.5 0l0.5-0.1l0.5 0l0.5-0.1l0.5 0.1l0.5 0l0.5 0.1l0.5 0l0.5 0l0.5 0l0.5-0.1l0.5-0.1l0.5-0.1l0.5 0l0.5-0.1l0.5 0l0.5 0.1l0.5 0l0.5 0.1l0.5 0l0.5 0.1l0.5 0.1l0.5 0.1l0.5 0.1l0.5 0.1l0.5 0.1l0.5 0l0.5 0l0.5 0l0.5 0l0.5 0l0.5 0l0.5 0.1l0.5 0l0.5 0.1l0.5 0.1l0.5 0l0.5 0.1l0.5 0l0.5 0l0.5-0.1l0.5 0l0.5-0.1l0.5-0.1l0.5-0.1l0.5 0l0.5 0.1l0.5 0.1l0.5 0.1l0.5 0.1l0.5 0.1l0.5 0l0.5 0l0.5-0.1l0.5 0l0.5-0.1l0.5 0l0.5-0.1l0.5 0l0.5 0l0.5 0l0.5-0.1l0.5-0.1l0.5-0.1l0.5-0.1l0.5-0.1l0.5 0l0.5 0.1l0.5 0.1l0.5 0.1l0.5 0.1l0.5 0.1l0.5 0l0.5 0l0.5-0.1l0.5-0.1l0.5-0.1l0.5-0.1l0.5-0.1l0.5 0l0.5 0.1l0.5 0.1l0.5 0.1l0.5 0.2l0.5 0.1l0.5 0.1l0.5 0.1l0.5 0l0.5 0.1l0.5 0l0.5 0l0.5 0.1l0.5 0l0.5 0l0.5-0.1l0.5 0l0.5 0l0.5-0.1l0.5 0l0.5 0l0.5 0.1l0.5 0l0.5 0.1l0.5 0.1l0.5-0.1l0.5 0l0.5-0.1l0.5-0.2l0.5-0.1l0.5 0l0.5-0.1l0.5 0l0.5 0l0.5 0l0.5 0.1l0.5 0l0.5 0l0.5 0l0.5 0l0.6 0M934.1 1295.1l0.5-0.2l0.5 0.1l0.5 0.3l0.5 0l0.5-0.4l0.5-0.4l0.5-0.3l0.5 0l0.5 0.4l0.5 0.3l0.5-0.1l0.5-0.4l0.5-0.1l0.5-0.3l0.5-0.3l0.5-0.3l0.5-0.3l0.5 0.1l0.5 0.4l0.5-0.1l0.5-0.4l0.5-0.3l0.5-0.3l0.5-0.4l0.5-0.1l0.5 0.1l0.5 0l0.5 0.3l0.5 0.3l0.5-0.6l0.5-0.7l0.5-0.4l0.5-0.5l0.5-0.5l0.5 0l0.5 0.4l0.5 0.2l0.5-0.1l0.5 0l0.5 0.3l0.5-0.3l0.5-0.3l0.5 0l0.5-0.3l0.5-0.4l0.5-0.2l0.5-0.7l0.5-1.1l0.5-0.3l0.5 0l0.5-0.2l0.5-0.1l0.5 0.5l0.5 0.4l0.5 0l0.5-0.4l0.5-1l0.5-0.7l0.5 0.4l0.5 0.4l0.5-0.2l0.5-0.4l0.5-0.7l0.5-0.7l0.5-0.1l0.5 0l0.5-0.7l0.5-0.7l0.5-0.3l0.5-0.7l0.5-0.8l0.5-0.4l0.5 0.2l0.5 0.3l0.5-0.3l0.5-0.9l0.5-1.2l0.5-1.1l0.5-0.5l0.5 0l0.5-0.5l0.5-0.7l0.5-0.5l0.5-1.1l0.5-1.1l0.5-0.6l0.5-0.9l0.5-1.4l0.5-0.8l0.5-0.1l0.5-0.1l0.5 0.1l0.5-1.1l0.5-2.1l0.5-1.2l0.5-1l0.5-1.8l0.5-1.6l0.5-1.7l0.5-2.1l0.5-0.9l0.5 0.3l0.5-1.2l0.5-3l0.5-2l0.5-0.5l0.5-0.6l0.5-0.8l0.5-1.4l0.5-1.5l0.5 0.1l0.5 1.1l0.5-1.5l0.5-3.6l0.5-1.6l0.5 0l0.5-0.3l0.5-0.3l0.5-1.7l0.5-3.8l0.5-3.1l0.5-0.9l0.5-0.4l0.5-1.6l0.5-1.8l0.5-0.8l0.5-1.1l0.5-1.9l0.5-1l0.5 0.2l0.5-0.5l0.5-1.9l0.5-2.7l0.5-0.5l0.5 0.6l0.5-2.9l0.5-4.9l0.5-2.2l0.5 1.2l0.5 2.3l0.5 0.9l0.5-3.1l0.5-6.3l0.5-3.6l0.5 1.3l0.5 1.8l0.5-1.8l0.5-2.6l0.5-3.1l0.5-4l0.5-1.8l0.5-0.7l0.5-2.4l0.5-2.3l0.5 1.2l0.5 3.5l0.5 0l0.5-3.7l0.5-4.6l0.5-2.3l0.5 1.9l0.5 0.1l0.5-4.8l0.5-3.2l0.5 2.5l0.5 2.2l0.5-2.5l0.5-1.1l0.5 2l0.5-1.3l0.5-2.8l0.5-3l0.5-4.3l0.5-2.3l0.5 2.3l0.5 5.2l0.5 1.2l0.5-1.8l0.5 1l0.5-0.2l0.5-3.2l0.5-3.2l0.5-3.1l0.5-0.9l0.5 2.4l0.5 3.2l0.5 1.9l0.5 3.8l0.5 3.1l0.5-4.4l0.5-3.4l0.5 4.8l0.5 4l0.5-2.9l0.5-4.1l0.5-4.1l0.5-2.5l0.5 1.1l0.5 1.5l0.5-1.2l0.5-0.4l0.5 4.9l0.5 7.8l0.5 5.1l0.5-0.7l0.5-5.6l0.5-1.6l0.5 4.7l0.5 2l0.5-2.7l0.5-1.9l0.5-2.4l0.5-2.7l0.5 0.5l0.5 2.6l0.5-1l0.5-3.7l0.5-0.6l0.5 0.9l0.5-1.5l0.5-0.6l0.5 1.4l0.5 0.3l0.5 0.9l0.5 2.5l0.5 0.3l0.5 0.7l0.5 6l0.5 10.6l0.5 7.9l0.5 3l0.5 0.3l0.5-1.2l0.5 2.5l0.5 3.8l0.5-2.9l0.5-6.1l0.5-2.1l0.5 1.1l0.5 0.2l0.5-0.5l0.5 3.8l0.5 4.9l0.5 0.1l0.5-3.9l0.5-7.1l0.5-6.2l0.5-0.2l0.5 3.5l0.5-1l0.5-4.9l0.5 0.6l0.5 4l0.5 1.6l0.5 3.4l0.5 2.4l0.5-0.6l0.5 2.1l0.5 2.1l0.5-1.1l0.5-0.3l0.5 2.7l0.5 0.5l0.5-6.2l0.5-9.3l0.5-8.6l0.5-5l0.5 0.7l0.5 5l0.5 3l0.5-0.8l0.5-5.5l0.5-8.2l0.5-2.3l0.5 4l0.5 2.8l0.5-0.4l0.5 2.7l0.5 5.1l0.5 3.8l0.5 5.6l0.5 7.6l0.5 5.3l0.5 3.4l0.5 0.6l0.5-6.5l0.5-9.5l0.5-6.9l0.5-4.9l0.5-4.9l0.5-2.6l0.5-0.4l0.5-1.5l0.5 1.2l0.5 9.2l0.5 14.4l0.5 17.6l0.5 24.3l0.5 25.2l0.5 17.8l0.5 10l0.5 5l0.5 2.5l0.5 1.4l0.5 0.8l0.5 0.6l0.5 0.4l0.5 0.2l0.5 0.3l0.5 0.1l0.5 0.2l0.5 0.1l0.5 0.1l0.5 0.2l0.5 0.1l0.5 0.2l0.5 0.2l0.5 0.1l0.5 0.2l0.5 0.1l0.5 0.2l0.5 0.2l0.5 0.3l0.5 0.2l0.5 0.2l0.5 0.2l0.5 0l0.5 0.1l0.5 0l0.5 0l0.5 0.1l0.5 0l0.5 0l0.5 0l0.5 0l0.5 0l0.5 0l0.5 0l0.5 0l0.5 0.1l0.5 0.1l0.5 0.1l0.5 0.1l0.5 0.1l0.5 0.1l0.5 0.1l0.5 0.1l0.5 0.1l0.5 0l0.5 0l0.5-0.1l0.6-0.1l0.5-0.2l0.5-0.2l0.5-0.2l0.5-0.1l0.5 0l0.5-0.1l0.5 0l0.5 0.1l0.5 0l0.5 0l0.5 0l0.5 0l0.5 0l0.5 0l0.5 0l0.5 0l0.5 0l0.5 0l0.5 0l0.5 0l0.5 0l0.5 0l0.5 0l0.5 0.1l0.5 0l0.5 0l0.5-0.1l0.5 0l0.5-0.1l0.5-0.1l0.5-0.1l0.5 0l0.5-0.1l0.5 0l0.5 0l0.5 0l0.5 0.1l0.5 0l0.5-0.1l0.5-0.1l0.5-0.1l0.5-0.2l0.5-0.1l0.5-0.2l0.5-0.1l0.5 0l0.5-0.1l0.5 0l0.5 0l0.5 0l0.5 0l0.5 0l0.5-0.1l0.5-0.1l0.5 0l0.5 0l0.5-0.1l0.5 0l0.5 0l0.5 0l0.5 0l0.5-0.1l0.5 0l0.5 0l0.5-0.1l0.5-0.1l0.5-0.1l0.5-0.1l0.5-0.2l0.5-0.1l0.5-0.1l0.5-0.1l0.5 0l0.5-0.1l0.5 0l0.5 0l0.5 0l0.5 0l0.5 0l0.5-0.1l0.5-0.1l0.5-0.1l0.5-0.1l0.5-0.1l0.5-0.1l0.5-0.1l0.5-0.1l0.5 0l0.5-0.1l0.5 0l0.5-0.1l0.5 0l0.5-0.1l0.5 0l0.5 0l0.5-0.1l0.5 0l0.5-0.1l0.5-0.2l0.5-0.2l0.5-0.2l0.5-0.1l0.5-0.1l0.5-0.1l0.5 0l0.5 0l0.5 0l0.5 0l0.5 0l0.5 0l0.5 0l0.5-0.1l0.5 0l0.5-0.1l0.5-0.1l0.5-0.1l0.5-0.1l0.5 0l0.5 0l0.5 0l0.5 0l0.5 0.1l0.5 0l0.5 0l0.5 0l0.5 0l0.5-0.1l0.5 0l0.5-0.1l0.5 0l0.5 0l0.5 0l0.5-0.1l0.5 0l0.5-0.1l0.5 0l0.5-0.1l0.5-0.1l0.5 0l0.5-0.1l0.5 0l0.5 0l0.5 0l0.5 0.1l0.5 0l0.5 0.1l0.5 0l0.5-0.1l0.5-0.1l0.5-0.1l0.5-0.1l0.5-0.2l0.5-0.1l0.5-0.1l0.5-0.1l0.5-0.1l0.5-0.1l0.5-0.1l0.5-0.1l0.5 0l0.5-0.1l0.5-0.1l0.5 0l0.5-0.1l0.5 0l0.5 0l0.5 0l0.5 0.1l0.5 0l0.5 0l0.5 0l0.5 0l0.5 0l0.5-0.1l0.5 0l0.5 0l0.5 0.1l0.5 0l0.5-0.1l0.5 0l0.5-0.1l0.5-0.1l0.5-0.2l0.5-0.3l0.5-0.4l0.5-0.6l0.5-0.3l0.5 0.3l0.5 0.4l0.5 0.3l0.5 0.1l0.5 0.1l0.5 0l0.5-0.1l0.5-0.1l0.5-0.1l0.5-0.4l0.5-0.6l0.5-1.1l0.5-1.3l0.5 0l0.5 1.2l0.5 1.2l0.5 0.8l0.5 0.6l0.5 0.4l0.5 0.3l0.5 0.2l0.5 0.2l0.5 0l0.5 0.1l0.5-0.1l0.5 0l0.5 0l0.5 0l0.5 0l0.5 0.1l0.5 0.1l0.5 0.2l0.5 0.1l0.5 0.2l0.5 0.1l0.5 0.1l0.5 0.1l0.5 0.1l0.5 0.1l0.5 0.1l0.5 0.1l0.5 0.1l0.5 0.1l0.5 0.2l0.5 0.1l0.5 0.1l0.5 0.1l0.5 0.1l0.5 0.2l0.5 0.1l0.5 0.1l0.5 0l0.5 0.1l0.5 0.1l0.5 0.1l0.5 0l0.5 0.1l0.5 0.1l0.5 0.1l0.5 0.2l0.5 0.1l0.5 0.2l0.5 0.2l0.5 0.3l0.5 0.2l0.5 0.2l0.5 0.2l0.5 0.1l0.5 0.1l0.5 0.2l0.5 0.2l0.5 0.2l0.5 0.2l0.5 0.2l0.5 0.2l0.5 0.1l0.5 0.2l0.5 0.1l0.5 0.1l0.5 0l0.5 0l0.5 0l0.5-0.1l0.5-0.1l0.5 0l0.5-0.1l0.5 0.1l0.5 0.1l0.5 0.2l0.5 0.3l0.5 0.2l0.5 0.3l0.5 0.2l0.5 0.2l0.5 0.2l0.5 0.2l0.5 0.1l0.5 0.2l0.5 0.1l0.5 0l0.5-0.1l0.5-0.1l0.5-0.1l0.5 0l0.5 0l0.5 0l0.5 0l0.5 0.1l0.5 0.1l0.5 0.2l0.5 0.1l0.5 0.2l0.5 0.2l0.5 0.1l0.5 0.1l0.5 0l0.5 0.1l0.5 0l0.5 0l0.5 0l0.5 0.1l0.5 0l0.5 0.1l0.5 0.1l0.5 0l0.5 0.1l0.5-0.1l0.5-0.1l0.5-0.1l0.5-0.1l0.5-0.1l0.5 0l0.5 0l0.5 0l0.5 0l0.5 0l0.5 0l0.5 0l0.5-0.1l0.5 0l0.5-0.1l0.5 0l0.5 0.1l0.5 0l0.5 0.1l0.5 0l0.5 0l0.5 0l0.5 0l0.5 0l0.5-0.1l0.5-0.1l0.5-0.1l0.5-0.1l0.5-0.1l0.5-0.1l0.5 0l0.5 0l0.5 0l0.5 0.1l0.5 0.1l0.5 0l0.5-0.1l0.5-0.1l0.5-0.1l0.5-0.1l0.5 0l0.5 0l0.5 0l0.5 0.1l0.5 0.2l0.5 0.1l0.5 0.1l0.5 0.1l0.5 0l0.5 0.1l0.5 0l0.5 0l0.5 0.1l0.5 0l0.5 0.1l0.5 0l0.5 0l0.5-0.1l0.5-0.1l0.5 0l0.5-0.1l0.5 0l0.5 0l0.5 0.1l0.5 0l0.5 0l0.5-0.1l0.5 0l0.5-0.1l0.5-0.1l0.5-0.1l0.5 0l0.5 0l0.5 0l0.5 0.1l0.5 0.1l0.6 0l0.5 0.1l0.5 0l0.5 0l0.5 0l0.5 0.1l0.5-0.1l0.5 0l0.5 0l0.5-0.1l0.5-0.1l0.5-0.1l0.5 0l0.5 0l0.5 0.1l0.5 0.2l0.5 0.2l0.5 0.1l0.5 0.2l0.5 0.1l0.5 0l0.5 0l0.5 0l0.5 0l0.5 0l0.5 0l0.5 0.1l0.5 0l0.5 0l0.5 0l0.5 0.1l0.5 0l0.5 0l0.5-0.1l0.5 0l0.5 0l0.5 0l0.5 0l0.5-0.1l0.5 0M921.5 1314.7l0.5-0.2l0.5 0l0.5-0.1l0.5-0.2l0.5-0.2l0.5-0.4l0.5-0.4l0.5 0.2l0.5 0.4l0.5 0.2l0.5 0l0.5 0l0.5 0.1l0.5-0.2l0.5-0.3l0.5 0l0.5-0.1l0.5-0.5l0.5-0.5l0.5-0.1l0.5-0.1l0.5-0.3l0.5-0.1l0.5-0.1l0.5-0.3l0.5 0.2l0.5 0.3l0.5 0.1l0.5 0l0.5-0.4l0.5-0.6l0.5-0.2l0.5-0.1l0.5-0.3l0.5-0.2l0.5-0.1l0.5 0.1l0.5-0.2l0.5-0.7l0.5-0.7l0.5-0.3l0.5-0.1l0.5-0.1l0.5 0.2l0.5 0l0.5-0.3l0.5-0.3l0.5 0.1l0.5 0l0.5-0.4l0.5 0l0.5-0.1l0.5-0.9l0.5-0.5l0.5 0.1l0.5 0.3l0.5 0.3l0.5-0.2l0.5-0.2l0.5 0.3l0.5 0l0.5-0.6l0.5-1.1l0.5-1l0.5-0.2l0.5 0l0.5-0.5l0.5-0.5l0.5-0.8l0.5-0.6l0.5-0.2l0.5 0l0.5-0.4l0.5-0.6l0.5-0.4l0.5 0.4l0.5 0.6l0.5-0.2l0.5-0.8l0.5-1l0.5-0.5l0.5-0.1l0.5-0.9l0.5-1.2l0.5-0.8l0.5-0.3l0.5 0.1l0.5 0.1l0.5-0.3l0.5-1l0.5-0.9l0.5-0.1l0.5-0.6l0.5-1.1l0.5-0.3l0.5-0.1l0.5-1.3l0.5-1.1l0.5-1.3l0.5-1.7l0.5-0.7l0.5 0.9l0.5 0.1l0.5-1.8l0.5-1l0.5 0.3l0.5-1.4l0.5-2.5l0.5-0.2l0.5 0.8l0.5-1.6l0.5-2.6l0.5-1.5l0.5-1.5l0.5-0.5l0.5 1l0.5-1.1l0.5-2.9l0.5-1.1l0.5-0.7l0.5-2.5l0.5-2.4l0.5-0.8l0.5-0.4l0.5 0.1l0.5-0.4l0.5-1.9l0.5-0.7l0.5-0.4l0.5-3.2l0.5-2.8l0.5 0.2l0.5 0.3l0.5-2.7l0.5-2.2l0.5 0.1l0.5-0.8l0.5-1.9l0.5-0.2l0.5-0.4l0.5-1.4l0.5 1.1l0.5-1l0.5-4.9l0.5-1.7l0.5 2.6l0.5 0.3l0.5-2.4l0.5-0.6l0.5-2.6l0.5-4.8l0.5-0.7l0.5 2.4l0.5-1l0.5-4.2l0.5-4.9l0.5-3.3l0.5 0.7l0.5 2.6l0.5-1.3l0.5-2.5l0.5-0.7l0.5-3.1l0.5-2.8l0.5-0.5l0.5-3.3l0.5-4.4l0.5-0.8l0.5 0.5l0.5-2.1l0.5-1.8l0.5 0.6l0.5-0.6l0.5 1l0.5 2.5l0.5-4.9l0.5-8.3l0.5-1.9l0.5 4.1l0.5 2.5l0.5-1.2l0.5-2.9l0.5-4.2l0.5-0.2l0.5 3.6l0.5-0.2l0.5-1.3l0.5 2.6l0.5-1l0.5-5.8l0.5-2.1l0.5 3.6l0.5 2.5l0.5-1.2l0.5 1.9l0.5 3.4l0.5-1.7l0.5 0.2l0.5 3.5l0.5-3.4l0.5-6.1l0.5-0.3l0.5 2.9l0.5 3.3l0.5 2.1l0.5-1.6l0.5-1l0.5 4.2l0.5 5.4l0.5-0.1l0.5-1.4l0.5 1.9l0.5-0.9l0.5-3.9l0.5-2.8l0.5-2.8l0.5-1.9l0.5 0.3l0.5-1.3l0.5-1.8l0.5 3.4l0.5 7.1l0.5 0.7l0.5-4.5l0.5 0.7l0.5 3.7l0.5 0.9l0.5 2.9l0.5 7.1l0.5 6.8l0.5 6.7l0.5 5.6l0.5-0.4l0.5-0.5l0.5 3.9l0.5 1.5l0.5-2.6l0.5 0l0.5 1.1l0.5-2.1l0.5-2.1l0.5-0.3l0.5-0.7l0.5-1.5l0.5 1.8l0.5 3.1l0.5-2.1l0.5-6.3l0.5-7.5l0.5-4.3l0.5 2.2l0.5 2.6l0.5-2.6l0.5-0.2l0.5 4.5l0.5 2.1l0.5 2.4l0.5 3.9l0.5 0.6l0.5-0.1l0.5 0.1l0.5-2.9l0.5-3.9l0.5-3.1l0.5-6l0.5-8.7l0.5-6.1l0.5-2.1l0.5-1.1l0.5-3.1l0.5-1.8l0.5 3.1l0.5 2.9l0.5-1.8l0.5 1.3l0.5 6.2l0.5 4.4l0.5 3.7l0.5 0.9l0.5-0.8l0.5 4.3l0.5 7.7l0.5 5.7l0.5 3.3l0.5-0.1l0.5-6.4l0.5-6.4l0.5-1.9l0.5-5.1l0.5-8.7l0.5-3.5l0.5-1l0.5-2.7l0.5 2.1l0.5 7.2l0.5 9.2l0.5 17.5l0.5 26.8l0.5 26.1l0.5 18.1l0.5 10.1l0.5 5.2l0.5 2.6l0.5 1.4l0.5 0.8l0.5 0.6l0.5 0.3l0.5 0.3l0.5 0.2l0.5 0.2l0.5 0.2l0.5 0.3l0.6 0.3l0.5 0.3l0.5 0.2l0.5 0.3l0.5 0.2l0.5 0.2l0.5 0.2l0.5 0.1l0.5 0.1l0.5 0.2l0.5 0.1l0.5 0l0.5 0.1l0.5 0l0.5 0l0.5 0l0.5 0.1l0.5 0l0.5 0.1l0.5 0l0.5 0.1l0.5 0l0.5 0l0.5 0l0.5 0l0.5 0l0.5 0l0.5 0l0.5 0l0.5 0l0.5 0l0.5 0l0.5-0.1l0.5 0l0.5-0.1l0.5-0.1l0.5-0.1l0.5-0.1l0.5-0.1l0.5 0l0.5 0.1l0.5 0.1l0.5 0.1l0.5 0.1l0.5 0.1l0.5 0.1l0.5 0l0.5 0.1l0.5-0.1l0.5 0l0.5 0l0.5 0l0.5-0.1l0.5 0l0.5 0l0.5-0.1l0.5 0l0.5-0.1l0.5 0l0.5 0l0.5 0.1l0.5 0.1l0.5 0l0.5 0.1l0.5 0l0.5 0l0.5 0l0.5 0l0.5-0.1l0.5 0l0.5 0l0.5 0l0.5 0.1l0.5 0l0.5 0.1l0.5 0.1l0.5 0l0.5-0.1l0.5 0l0.5-0.2l0.5-0.2l0.5-0.1l0.5-0.2l0.5-0.1l0.5 0l0.5 0l0.5 0.1l0.5 0l0.5-0.1l0.5 0l0.5 0l0.5 0l0.5 0l0.5 0l0.5-0.1l0.5-0.1l0.5-0.2l0.5-0.3l0.5-0.3l0.5-0.2l0.5-0.1l0.5-0.1l0.5-0.1l0.5 0l0.5-0.1l0.5 0l0.5 0l0.5 0l0.5 0l0.5-0.1l0.5-0.1l0.5-0.1l0.5-0.2l0.5-0.2l0.5-0.1l0.5-0.1l0.5-0.1l0.5-0.1l0.5 0l0.5 0.1l0.5 0l0.5 0l0.5 0.1l0.5 0l0.5 0.1l0.5 0l0.5 0l0.5 0l0.5 0l0.5 0l0.5-0.1l0.5-0.1l0.5-0.1l0.5 0l0.5 0l0.5 0l0.5 0l0.5 0l0.5 0l0.5-0.2l0.5-0.2l0.5-0.2l0.5-0.2l0.5-0.1l0.5-0.2l0.5-0.1l0.5 0l0.5-0.1l0.5 0l0.5-0.1l0.5 0l0.5-0.1l0.5-0.1l0.5-0.2l0.5-0.2l0.5-0.1l0.5-0.1l0.5-0.1l0.5 0l0.5 0.1l0.5 0.1l0.5 0l0.5 0.1l0.5 0l0.5 0l0.5-0.1l0.5 0l0.5 0l0.5-0.1l0.5 0l0.5 0l0.5 0l0.5 0l0.5-0.1l0.5-0.1l0.5 0l0.5-0.1l0.5 0.1l0.5 0l0.5 0l0.5 0l0.5 0l0.5-0.1l0.5-0.2l0.5-0.1l0.5-0.1l0.5 0l0.5 0l0.5 0l0.5 0l0.5 0l0.5 0l0.5-0.1l0.5-0.1l0.5-0.1l0.5-0.1l0.5-0.1l0.5-0.1l0.5-0.1l0.5 0l0.5-0.1l0.5 0l0.5 0l0.5 0l0.5 0.1l0.5 0l0.5 0.1l0.5 0l0.5 0l0.5 0l0.5-0.1l0.5-0.1l0.5-0.1l0.5-0.2l0.5-0.1l0.5-0.1l0.5-0.1l0.5 0l0.5-0.1l0.5 0l0.5-0.1l0.5-0.1l0.5-0.1l0.5-0.2l0.5-0.4l0.5-0.5l0.5-0.3l0.5 0.3l0.5 0.4l0.5 0.2l0.5 0.1l0.5-0.1l0.5-0.1l0.5-0.3l0.5-0.2l0.5-0.3l0.5-0.4l0.5-0.7l0.5-1l0.5-1.2l0.5 0l0.5 1.4l0.5 1.3l0.5 1l0.5 0.7l0.5 0.4l0.5 0.4l0.5 0.3l0.5 0.2l0.5 0.2l0.5 0.1l0.5 0.1l0.5 0.1l0.5 0.1l0.5 0.1l0.5 0l0.5 0.1l0.5 0l0.5 0.1l0.5 0.1l0.5 0.1l0.5 0.2l0.5 0.2l0.5 0.2l0.5 0.2l0.5 0.2l0.5 0.1l0.5 0.1l0.5 0.1l0.5-0.1l0.5 0l0.5-0.2l0.5-0.1l0.5-0.1l0.5-0.1l0.5 0l0.5 0l0.5 0l0.5 0.1l0.5 0.1l0.5 0.2l0.5 0.1l0.5 0.2l0.5 0.2l0.5 0.3l0.5 0.3l0.5 0.3l0.5 0.2l0.5 0.2l0.5 0.2l0.5 0.1l0.5 0.1l0.5 0.1l0.5 0.1l0.5 0.2l0.5 0.1l0.5 0.2l0.5 0.2l0.5 0.1l0.5 0.2l0.5 0.1l0.5 0.1l0.5 0.1l0.5 0.1l0.5 0.1l0.5 0.2l0.5 0.2l0.5 0.2l0.5 0.1l0.5 0.2l0.5 0l0.5 0.1l0.5 0.1l0.5 0.1l0.5 0.1l0.5 0.2l0.5 0.2l0.5 0.1l0.5 0.1l0.5 0.1l0.5 0.1l0.5 0.1l0.5 0.1l0.5 0.2l0.5 0.2l0.5 0.2l0.5 0.1l0.5 0.1l0.5 0.2l0.5 0.1l0.5 0l0.5 0l0.5-0.1l0.5-0.2l0.5-0.1l0.5-0.2l0.5-0.2l0.5-0.1l0.5-0.1l0.5-0.1l0.5 0l0.5 0l0.5 0l0.5 0l0.5 0l0.5 0l0.5 0l0.5 0.1l0.5 0.1l0.5 0.1l0.5 0.2l0.5 0.2l0.5 0.2l0.5 0.1l0.5 0.1l0.5 0l0.5 0l0.5 0l0.5 0l0.5-0.1l0.5-0.1l0.5-0.1l0.5-0.2l0.5-0.1l0.5-0.1l0.5-0.1l0.5 0l0.5 0l0.5 0l0.5 0.1l0.5 0.2l0.5 0.1l0.5 0.2l0.5 0.2l0.5 0l0.5 0l0.5-0.1l0.5-0.2l0.5-0.2l0.5-0.1l0.5-0.1l0.5 0.1l0.5 0.1l0.5 0.1l0.5 0.1l0.5 0.1l0.5 0.1l0.5 0.1l0.5 0.1l0.5 0l0.6 0l0.5 0l0.5 0l0.5-0.1l0.5 0l0.5 0l0.5 0l0.5 0.1l0.5 0l0.5 0l0.5 0l0.5 0l0.5 0l0.5 0l0.5 0.1l0.5 0.1l0.5 0l0.5 0.1l0.5-0.1l0.5-0.1l0.5-0.1l0.5-0.2l0.5-0.1l0.5-0.2l0.5-0.1l0.5-0.1l0.5 0l0.5 0l0.5 0.1l0.5 0.1l0.5 0.1l0.5 0.1l0.5 0.2l0.5 0l0.5 0.1l0.5 0l0.5 0.1l0.5 0l0.5 0.1l0.5 0.1l0.5 0.1l0.5 0l0.5 0l0.5-0.1l0.5 0l0.5-0.1l0.5-0.2l0.5-0.1l0.5-0.1l0.5 0l0.5-0.1l0.5 0.1l0.5 0.1l0.5 0.1l0.5 0.1l0.5 0.2l0.5 0l0.5 0.1l0.5 0l0.5 0l0.5 0l0.5 0.1l0.5 0l0.5 0.1l0.5-0.1l0.5 0l0.5-0.1l0.5-0.1l0.5-0.1l0.5-0.1l0.5 0l0.5 0l0.5 0l0.5 0.1l0.5 0l0.5 0l0.5 0.1l0.5 0l0.5 0M908.9 1336.3l0.5-0.1l0.5 0.2l0.5-0.3l0.5-0.4l0.5-0.2l0.5-0.1l0.5 0l0.5 0l0.5 0.2l0.5 0.1l0.5 0.1l0.5 0.4l0.5-0.1l0.5-0.6l0.5-0.1l0.5 0.2l0.5-0.3l0.5-0.8l0.5-0.4l0.5 0.3l0.5 0.1l0.5-0.3l0.5-0.1l0.5-0.1l0.5-0.5l0.5-0.6l0.5-0.5l0.5-0.3l0.5 0l0.5 0.3l0.5 0.2l0.5-0.1l0.5-0.2l0.5 0.2l0.5 0.4l0.5 0.1l0.5-0.8l0.5-0.7l0.5-0.2l0.5 0l0.5-0.6l0.5-0.7l0.5-0.1l0.5 0.1l0.5 0.1l0.5 0.1l0.5 0.1l0.5-0.3l0.5-0.6l0.5-0.8l0.5-0.8l0.5-0.4l0.5 0.4l0.5 0.9l0.5 0.1l0.5-0.7l0.5-0.3l0.5 0.1l0.5 0l0.5-0.6l0.5-0.3l0.5 0.3l0.5-0.4l0.5-1.2l0.5-0.6l0.5 0.3l0.5 0.1l0.5-0.5l0.5-0.1l0.5-0.1l0.5-1l0.5-0.4l0.5 0.2l0.5-0.8l0.5-1.1l0.5-0.2l0.5 0l0.5 0.1l0.5-0.7l0.5-1.5l0.5-1l0.5 0.2l0.5 0.9l0.5-0.1l0.5-0.9l0.5-1.1l0.5-1.3l0.5-0.7l0.5 0.5l0.5 0.6l0.5-0.9l0.5-1.1l0.5-1.7l0.5-1.1l0.5 0.6l0.5-0.1l0.5-1.5l0.5-1.3l0.5-0.6l0.5-0.5l0.5 0.2l0.5 0.7l0.5-0.7l0.5-0.7l0.5 0.3l0.5-1.5l0.5-2.8l0.5-1.5l0.5-1l0.5-1l0.5 0l0.5 0.7l0.5-0.9l0.5-1.6l0.5-0.5l0.5-0.9l0.5-0.8l0.5 0.4l0.5-0.6l0.5-2.2l0.5-1.1l0.5 0l0.5-1.4l0.5-2.2l0.5-0.7l0.5 0.7l0.5-0.5l0.5-0.5l0.5 0.5l0.5-2l0.5-2.5l0.5 0.4l0.5-0.5l0.5-2.6l0.5-1.5l0.5-1.6l0.5-1.5l0.5 0.1l0.5-1.6l0.5-2.4l0.5 0.3l0.5-0.4l0.5-2.9l0.5-1.1l0.5-0.3l0.5-3.1l0.5-3.5l0.5-0.6l0.5 2.1l0.5 1l0.5-1.8l0.5-1.4l0.5-2.2l0.5-2.3l0.5 1.1l0.5 1.1l0.5-2.9l0.5-2.7l0.5-1.8l0.5-2.6l0.5 0.1l0.5 2.1l0.5-2.2l0.5-5.5l0.5-3.2l0.5 0.2l0.5 1.5l0.5 2.5l0.5-0.3l0.5-6.4l0.5-5l0.5 1.2l0.5 4.1l0.5 2.3l0.5-0.5l0.5-5.5l0.5-6.7l0.5-1.5l0.5 1.1l0.5-1.9l0.5-3l0.5-2.3l0.5-3.3l0.5-2.2l0.5 1.1l0.5 0.4l0.5-2.6l0.5-1.2l0.5-0.2l0.5-3.4l0.5-1.8l0.5 3.9l0.5 2.1l0.5-5.7l0.5-4.4l0.5 3l0.5 5.8l0.5 2.9l0.5-4.7l0.5-6.8l0.5 0.2l0.5 6.4l0.5 4.2l0.5-2.7l0.5-0.9l0.5 4.4l0.5 2.6l0.5 0.4l0.5 1.6l0.5 0.5l0.5 1l0.5 2.4l0.5-2.2l0.5-5.6l0.5-2.6l0.5 0.5l0.5 0.7l0.5-0.8l0.5-4.9l0.5-5.2l0.5 0.5l0.5 6.6l0.5 5.4l0.5 0.4l0.5 0.6l0.5 0.3l0.5 1.8l0.5 7.6l0.5 8.2l0.5 4.7l0.5 3.6l0.5 1.8l0.5 1.1l0.5 2.7l0.5 4.7l0.5 4.4l0.5 2.2l0.5 3l0.5 2.6l0.5-0.3l0.5-0.2l0.5-2l0.5-4.5l0.5-2.4l0.5 1l0.5-1.1l0.5-5.8l0.5-6.9l0.5-6.3l0.5-3.3l0.5 0.5l0.5-2.1l0.5-4.8l0.5-0.6l0.5 2.6l0.5 1.7l0.5 2.8l0.5 6.2l0.5 6.1l0.5 1.7l0.5 0.6l0.5-1l0.5-6.5l0.5-8.2l0.5-7.4l0.5-7.4l0.5-4.1l0.5 0l0.5-1.2l0.5-4.8l0.5-2.2l0.5 1.6l0.5 2l0.6 3l0.5-0.2l0.5-5.5l0.5-1.3l0.5 5.4l0.5 5.4l0.5 4.4l0.5 8.1l0.5 8.7l0.5 2.1l0.5-2l0.5-0.8l0.5-0.8l0.5-2.4l0.5-4.6l0.5-7.9l0.5-5.2l0.5-2.1l0.5-5.5l0.5-3.5l0.5 3.1l0.5 5.9l0.5 9.8l0.5 19.7l0.5 27.7l0.5 26.2l0.5 18l0.5 10l0.5 4.9l0.5 2.5l0.5 1.3l0.5 0.7l0.5 0.5l0.5 0.4l0.5 0.3l0.5 0.4l0.5 0.3l0.5 0.3l0.5 0.3l0.5 0.2l0.5 0.2l0.5 0.2l0.5 0.1l0.5 0.1l0.5 0l0.5 0.1l0.5 0.1l0.5 0.1l0.5 0.2l0.5 0.1l0.5 0.2l0.5 0.2l0.5 0.2l0.5 0.2l0.5 0.2l0.5 0.1l0.5 0.1l0.5 0.1l0.5 0l0.5 0l0.5-0.1l0.5-0.1l0.5-0.1l0.5-0.1l0.5-0.1l0.5 0l0.5 0.1l0.5 0l0.5 0.1l0.5 0.1l0.5 0.1l0.5 0.1l0.5 0.1l0.5 0l0.5 0.1l0.5 0.1l0.5 0.1l0.5 0l0.5 0l0.5-0.1l0.5 0l0.5 0l0.5 0l0.5 0l0.5 0.1l0.5 0l0.5 0l0.5 0l0.5 0l0.5 0l0.5-0.1l0.5 0l0.5-0.1l0.5-0.1l0.5-0.2l0.5-0.1l0.5 0l0.5-0.1l0.5 0l0.5 0l0.5 0l0.5 0l0.5 0l0.5 0.1l0.5 0l0.5 0.1l0.5 0l0.5 0l0.5 0l0.5-0.1l0.5 0l0.5-0.1l0.5-0.1l0.5-0.1l0.5 0l0.5 0l0.5 0l0.5 0l0.5 0l0.5 0l0.5 0l0.5-0.1l0.5-0.1l0.5-0.1l0.5-0.2l0.5-0.2l0.5-0.2l0.5-0.1l0.5-0.2l0.5-0.2l0.5-0.1l0.5-0.1l0.5-0.2l0.5-0.1l0.5-0.1l0.5 0l0.5 0l0.5 0l0.5 0l0.5 0l0.5 0.1l0.5 0l0.5 0.1l0.5 0l0.5 0.1l0.5 0l0.5 0l0.5 0l0.5 0l0.5 0l0.5 0l0.5 0l0.5 0l0.5 0l0.5-0.1l0.5-0.1l0.5-0.2l0.5-0.2l0.5-0.3l0.5-0.2l0.5-0.1l0.5-0.2l0.5-0.1l0.5-0.1l0.5-0.2l0.5-0.1l0.5-0.2l0.5-0.1l0.5-0.1l0.5 0l0.5-0.1l0.5 0.1l0.5 0.1l0.5 0l0.5 0.1l0.5 0l0.5 0l0.5 0l0.5-0.1l0.5-0.1l0.5 0l0.5-0.1l0.5 0l0.5-0.1l0.5 0l0.5 0l0.5 0l0.5 0l0.5 0l0.5-0.1l0.5-0.1l0.5-0.2l0.5-0.3l0.5-0.2l0.5-0.2l0.5-0.1l0.5-0.1l0.5 0.1l0.5 0.1l0.5 0.1l0.5 0.1l0.5 0l0.5 0.1l0.5 0l0.5-0.1l0.5 0l0.5 0l0.5 0l0.5 0l0.5 0l0.5 0l0.5 0l0.5 0l0.5-0.1l0.5-0.1l0.5-0.1l0.5 0l0.5-0.1l0.5-0.1l0.5-0.1l0.5 0l0.5-0.1l0.5-0.2l0.5-0.1l0.5-0.1l0.5-0.1l0.5-0.1l0.5 0l0.5 0l0.5 0.1l0.5 0l0.5 0l0.5 0l0.5 0l0.5-0.1l0.5 0l0.5-0.1l0.5 0l0.5-0.1l0.5-0.1l0.5 0l0.5 0l0.5-0.1l0.5 0l0.5 0l0.5 0l0.5 0l0.5-0.1l0.5 0l0.5-0.1l0.5-0.1l0.5 0l0.5-0.1l0.5 0l0.5 0l0.5 0l0.5 0l0.5 0l0.5 0l0.5-0.1l0.5-0.1l0.5-0.1l0.5-0.3l0.5-0.5l0.5-0.5l0.5-0.4l0.5 0.3l0.5 0.5l0.5 0.3l0.5 0.1l0.5 0.1l0.5-0.1l0.5-0.2l0.5-0.2l0.5-0.4l0.5-0.6l0.5-0.9l0.5-1.3l0.5-1.3l0.5-0.1l0.5 1.4l0.5 1.5l0.5 1.1l0.5 0.9l0.5 0.6l0.5 0.5l0.5 0.3l0.5 0.2l0.5 0l0.5 0l0.5 0l0.5 0l0.5 0l0.5 0l0.5 0.1l0.5 0.1l0.5 0.2l0.5 0.1l0.5 0.2l0.5 0.1l0.5 0.1l0.5 0l0.5 0l0.5-0.1l0.5 0l0.5 0l0.5 0.1l0.5 0.1l0.5 0.1l0.5 0.1l0.5 0.1l0.5 0l0.5 0.1l0.5 0.1l0.5 0.1l0.5 0.1l0.5 0.2l0.5 0.1l0.5 0.1l0.5 0.2l0.5 0.1l0.5 0.2l0.5 0.2l0.5 0.1l0.5 0.2l0.5 0.2l0.5 0.1l0.5 0.2l0.5 0.1l0.5 0.2l0.5 0.2l0.5 0.2l0.5 0.2l0.5 0.2l0.5 0.2l0.5 0.1l0.5 0.1l0.5 0.1l0.5 0.1l0.5 0l0.5 0.1l0.5 0.1l0.5 0.1l0.5 0.1l0.5 0.2l0.5 0.2l0.5 0.2l0.5 0.2l0.5 0.2l0.5 0.2l0.5 0.2l0.5 0.2l0.5 0.1l0.5 0.1l0.5 0l0.5 0l0.5 0l0.5 0l0.5 0l0.5 0l0.5 0l0.5 0.1l0.5 0.2l0.5 0.3l0.5 0.3l0.5 0.2l0.5 0.2l0.5 0.2l0.5 0l0.5 0l0.5 0l0.5-0.1l0.5-0.1l0.5 0l0.5 0l0.5 0l0.5 0l0.5 0l0.5 0l0.5 0l0.5-0.1l0.5-0.1l0.5-0.1l0.5 0l0.5 0l0.5 0l0.5 0l0.5 0l0.5 0l0.5 0l0.6 0l0.5-0.1l0.5 0l0.5 0l0.5-0.1l0.5 0l0.5 0l0.5-0.1l0.5 0.1l0.5 0l0.5 0l0.5 0l0.5 0l0.5-0.1l0.5 0l0.5-0.1l0.5-0.1l0.5-0.1l0.5 0.1l0.5 0.1l0.5 0.1l0.5 0.2l0.5 0.2l0.5 0.2l0.5 0.1l0.5 0l0.5-0.1l0.5-0.1l0.5-0.1l0.5 0l0.5 0l0.5 0l0.5 0.1l0.5 0l0.5 0.1l0.5 0.1l0.5 0.2l0.5 0l0.5 0.1l0.5 0l0.5-0.1l0.5-0.1l0.5 0l0.5-0.1l0.5-0.1l0.5 0l0.5 0l0.5 0l0.5 0l0.5-0.1l0.5 0l0.5 0l0.5-0.1l0.5 0l0.5 0.1l0.5 0.1l0.5 0l0.5 0.1l0.5 0.1l0.5 0l0.5-0.1l0.5 0l0.5-0.1l0.5 0l0.5 0.1l0.5 0.1l0.5 0.1l0.5 0.1l0.5 0.1l0.5 0.1l0.5 0l0.5-0.2l0.5-0.1l0.5-0.2l0.5-0.1l0.5-0.1l0.5-0.1l0.5 0.1l0.5 0.1l0.5 0.1l0.5 0.1l0.5 0.1l0.5 0.1l0.5 0.1l0.5 0l0.5 0l0.5 0.1l0.5 0l0.5 0.1l0.5 0l0.5 0l0.5 0l0.5 0l0.5 0l0.5 0l0.5 0.1l0.5 0.1l0.5 0l0.5 0.1l0.5 0.1l0.5 0l0.5-0.1l0.5 0l0.5-0.1l0.5-0.1l0.5 0l0.5 0l0.5 0l0.5 0l0.5 0l0.5 0l0.5 0.1l0.5 0.1l0.5 0.1l0.5 0l0.5 0.1l0.5 0l0.5-0.1M896.3 1356.6l0.5-0.3l0.5-0.5l0.5-0.4l0.5-0.3l0.5-0.2l0.5 0l0.5 0.5l0.5 0.6l0.5 0l0.5-0.4l0.5-0.4l0.5-0.3l0.5 0l0.5 0.2l0.5 0.3l0.5 0l0.5-0.7l0.5-0.5l0.5-0.2l0.5-0.1l0.5 0l0.5 0.1l0.5-0.2l0.5 0l0.5 0l0.5-0.2l0.5-0.3l0.5-0.4l0.5 0.1l0.5 0.2l0.5-0.1l0.5-0.3l0.5-0.4l0.5-0.5l0.5-0.4l0.5-0.5l0.5-0.3l0.5-0.3l0.5 0.1l0.5 0.3l0.5-0.1l0.5-0.4l0.5 0.2l0.5 0l0.5-0.6l0.5-0.3l0.5-0.1l0.5-0.7l0.5-0.2l0.5 0.3l0.5-0.5l0.5-0.9l0.5-0.1l0.5-0.3l0.5-0.2l0.5 0l0.5-0.3l0.5-0.5l0.5 0.1l0.5-0.1l0.5-0.7l0.5-0.4l0.5-0.1l0.5-0.6l0.5-0.7l0.5-0.4l0.5-0.5l0.5-0.3l0.5 0.6l0.5 0.6l0.5-0.4l0.5-0.8l0.5-0.3l0.5-0.7l0.5-0.6l0.5 0l0.5 0.2l0.5-0.8l0.5-0.9l0.5 0.1l0.5 0l0.5-0.6l0.5-0.1l0.5 0.2l0.5-0.6l0.5-0.4l0.5-0.7l0.5-0.6l0.5-0.5l0.5-1.2l0.5-1.6l0.5-0.6l0.5 0.5l0.5 0.3l0.5-0.7l0.5-1.3l0.5-1.2l0.5-0.7l0.5-0.4l0.5-0.9l0.5-0.7l0.5 0.1l0.5-0.5l0.5-0.8l0.5-0.1l0.5 0l0.5-0.2l0.5 0l0.5-1.4l0.5-1.7l0.5-0.7l0.5-0.6l0.5-1l0.5-0.2l0.5 1.5l0.5 0.7l0.5-1.6l0.5-1.4l0.5-1.3l0.5-1.8l0.5-0.7l0.5 0.3l0.5-0.9l0.5-1.3l0.5 0l0.5-0.4l0.5-1.3l0.5 0.3l0.5 0l0.5-3.1l0.5-2.7l0.5-0.2l0.5-0.3l0.5-2.1l0.5-1.3l0.5-0.4l0.5-1.3l0.5-1.2l0.5-1.2l0.5-1.4l0.5 0.5l0.5 2.4l0.5 0.8l0.5-2.7l0.5-3.2l0.5-2.5l0.5-1.4l0.5-0.3l0.5-0.8l0.5-1.3l0.5 0.8l0.5 2.4l0.5-1l0.5-3.3l0.5-0.1l0.5 1.8l0.5-2l0.5-4.9l0.5-1.7l0.5-0.5l0.5-2.5l0.5-1.3l0.5 1.2l0.5 1.5l0.5-0.3l0.5-3.6l0.5-2.6l0.5 1.8l0.5-0.6l0.5-5.4l0.5-2.4l0.5 2.6l0.5 0l0.5-4.4l0.5-2.7l0.5-0.6l0.5-0.9l0.5-0.7l0.5-2.5l0.5-3.9l0.5-2l0.5 1.2l0.5 2.6l0.5 0.6l0.5-0.2l0.5-1.8l0.5-5.4l0.5-3.3l0.5 0.5l0.5 1.4l0.5 1.1l0.5-2.9l0.5-6.3l0.5-3.1l0.5 2.7l0.5 5.3l0.5 1.7l0.5-0.3l0.5-1.1l0.5-6.3l0.5-4.6l0.5 2.7l0.5 3.3l0.5-0.5l0.5 2l0.5 5.5l0.5 3.7l0.5 2.7l0.5 1l0.5-3.5l0.5-2.3l0.5 1.7l0.5 0.9l0.5-3.6l0.5-2l0.5 1.1l0.5-2.3l0.5-2.5l0.5-0.2l0.5-5.2l0.5-5.3l0.5 2.4l0.5 5.4l0.5 1.9l0.5 1.4l0.5 2.4l0.5 6.3l0.5 7.9l0.5 3.1l0.5 2.2l0.5 6l0.5 8.5l0.5 8.5l0.5 7.3l0.6 4.1l0.5 0.6l0.5 1.7l0.5 4.3l0.5 5.2l0.5 2.4l0.5-0.5l0.5-0.4l0.5-1.8l0.5-3.7l0.5-2.5l0.5-3.9l0.5-8.4l0.5-8.7l0.5-7.1l0.5-6.6l0.5-4.3l0.5-1.4l0.5-2.2l0.5-2.4l0.5-0.2l0.5 0.7l0.5 2.4l0.5 4.7l0.5 4.8l0.5 3.4l0.5 0.4l0.5-5.4l0.5-8.3l0.5-6.6l0.5-4.4l0.5-4.9l0.5-6.9l0.5-3.7l0.5 2.2l0.5-0.4l0.5-5.1l0.5-4.3l0.5-3.3l0.5-0.2l0.5 3.8l0.5 3.1l0.5 2.9l0.5 7.1l0.5 5.7l0.5 5.1l0.5 6.4l0.5 1.5l0.5 0.9l0.5 4.8l0.5 1l0.5-5.8l0.5-4.9l0.5-4.5l0.5-9.8l0.5-8.4l0.5-0.2l0.5 1.6l0.5-3.1l0.5-1.7l0.5 4.3l0.5 10.6l0.5 20l0.5 27.7l0.5 26.4l0.5 17.9l0.5 10l0.5 5l0.5 2.6l0.5 1.3l0.5 0.7l0.5 0.5l0.5 0.3l0.5 0.2l0.5 0.1l0.5 0.2l0.5 0.1l0.5 0.2l0.5 0.1l0.5 0.2l0.5 0.2l0.5 0.2l0.5 0.2l0.5 0.2l0.5 0.2l0.5 0.2l0.5 0.2l0.5 0.1l0.5 0.2l0.5 0.1l0.5 0.2l0.5 0.1l0.5 0l0.5 0.1l0.5 0l0.5 0l0.5 0l0.5 0l0.5 0l0.5 0l0.5 0.1l0.5-0.1l0.5 0l0.5 0l0.5-0.1l0.5 0l0.5-0.1l0.5 0.1l0.5 0l0.5 0l0.5 0.1l0.5 0l0.5 0.1l0.5 0l0.5 0.1l0.5 0l0.5 0l0.5-0.1l0.5 0l0.5 0l0.5 0l0.5 0l0.5 0.1l0.5 0.1l0.5 0l0.5 0l0.5 0l0.5 0l0.5 0l0.5 0.1l0.5 0.1l0.5 0.2l0.5 0.1l0.5 0l0.5 0.1l0.5-0.1l0.5 0l0.5-0.1l0.5 0l0.5-0.1l0.5-0.1l0.5-0.1l0.5-0.1l0.5 0l0.5 0l0.5 0l0.5-0.1l0.5 0l0.5 0l0.5-0.1l0.5 0l0.5-0.1l0.5 0l0.5 0.1l0.5 0.1l0.5 0.1l0.5 0.1l0.5 0.1l0.5 0l0.5 0l0.5 0l0.5-0.1l0.5-0.2l0.5-0.1l0.5-0.2l0.5-0.1l0.5-0.1l0.5-0.1l0.5 0l0.5-0.1l0.5-0.1l0.5-0.2l0.5-0.1l0.5-0.1l0.5-0.2l0.5-0.2l0.5-0.2l0.5-0.2l0.5-0.1l0.5-0.1l0.5 0l0.5 0.1l0.5 0.1l0.5 0.2l0.5 0l0.5 0.1l0.5 0l0.5-0.1l0.5-0.1l0.5-0.2l0.5-0.1l0.5-0.1l0.5-0.1l0.5-0.1l0.5 0l0.5 0l0.5 0l0.5-0.1l0.5 0l0.5-0.1l0.5-0.1l0.5-0.2l0.5-0.1l0.5-0.1l0.5-0.1l0.5 0l0.5-0.1l0.5 0l0.5-0.1l0.5-0.1l0.5-0.1l0.5-0.1l0.5-0.1l0.5-0.2l0.5-0.1l0.5-0.2l0.5-0.2l0.5-0.1l0.5-0.2l0.5 0l0.5 0l0.5 0l0.5 0l0.5 0.1l0.5 0.1l0.5 0.1l0.5 0l0.5 0l0.5 0l0.5-0.1l0.5-0.1l0.5-0.1l0.5-0.1l0.5-0.2l0.5-0.1l0.5-0.1l0.5-0.1l0.5 0l0.5 0l0.5 0l0.5 0.1l0.5-0.1l0.5 0l0.5-0.1l0.5-0.1l0.5-0.1l0.5-0.1l0.5-0.1l0.5 0l0.5 0.1l0.5 0l0.5 0l0.5 0l0.5 0l0.5-0.1l0.5 0l0.5-0.1l0.5 0l0.5 0l0.5-0.1l0.5 0l0.5 0l0.5 0l0.5-0.1l0.5 0l0.5 0l0.5 0l0.5 0.1l0.5 0l0.5 0.1l0.5 0l0.5 0l0.5 0l0.5-0.1l0.5-0.2l0.5-0.2l0.5-0.2l0.5-0.2l0.5-0.1l0.5-0.2l0.5-0.1l0.5-0.1l0.5 0l0.5 0l0.5 0l0.5 0.1l0.5 0l0.5 0l0.5 0.1l0.5 0l0.5-0.1l0.5 0l0.5-0.1l0.5-0.1l0.5-0.1l0.5-0.1l0.5-0.1l0.5-0.1l0.5-0.1l0.5 0l0.5-0.1l0.5-0.2l0.5-0.4l0.5-0.5l0.5-0.3l0.5 0.3l0.5 0.4l0.5 0.3l0.5 0.1l0.5 0l0.5-0.1l0.5-0.1l0.5-0.1l0.5-0.1l0.5-0.3l0.5-0.7l0.5-1l0.5-1.2l0.5 0l0.5 1.3l0.5 1.3l0.5 0.9l0.5 0.5l0.5 0.4l0.5 0.3l0.5 0.1l0.5 0l0.5 0l0.5 0l0.5 0l0.5 0l0.5 0.1l0.5 0.2l0.5 0.2l0.5 0.2l0.5 0.2l0.5 0.2l0.5 0.2l0.5 0.1l0.5 0l0.5 0l0.5 0l0.5 0l0.5 0.1l0.5 0l0.5 0.1l0.5 0l0.5 0.1l0.5 0l0.5 0l0.5 0l0.5 0l0.5 0l0.5 0.1l0.5 0.1l0.5 0.1l0.5 0.3l0.5 0.2l0.5 0.3l0.5 0.2l0.5 0.3l0.5 0.2l0.5 0.2l0.5 0.1l0.5 0.2l0.5 0.2l0.5 0.2l0.5 0.3l0.5 0.2l0.5 0.1l0.5 0.1l0.5 0.1l0.5-0.1l0.5 0l0.5-0.1l0.5 0l0.5 0.1l0.5 0.2l0.5 0.3l0.5 0.2l0.5 0.3l0.5 0.3l0.5 0.1l0.5 0.2l0.5 0.1l0.5 0.1l0.5 0.1l0.5 0.2l0.5 0.1l0.5 0.1l0.6 0.1l0.5 0.1l0.5 0l0.5 0.1l0.5 0.1l0.5 0.1l0.5 0.2l0.5 0.2l0.5 0.1l0.5 0.2l0.5 0.2l0.5 0.1l0.5 0l0.5 0.1l0.5-0.1l0.5-0.2l0.5-0.1l0.5-0.1l0.5 0.1l0.5 0.1l0.5 0.2l0.5 0.2l0.5 0.1l0.5 0.1l0.5-0.1l0.5-0.1l0.5-0.1l0.5-0.1l0.5-0.1l0.5-0.1l0.5 0l0.5 0l0.5 0l0.5 0.2l0.5 0.1l0.5 0.1l0.5 0.1l0.5 0.1l0.5 0l0.5 0l0.5 0l0.5 0l0.5 0l0.5 0l0.5 0l0.5 0l0.5 0l0.5 0l0.5 0l0.5-0.1l0.5 0.1l0.5 0l0.5 0.1l0.5 0l0.5 0.1l0.5 0l0.5 0l0.5-0.1l0.5 0l0.5 0l0.5 0l0.5 0.1l0.5 0l0.5 0l0.5 0l0.5-0.1l0.5-0.1l0.5-0.1l0.5-0.2l0.5 0l0.5 0l0.5 0.1l0.5 0.1l0.5 0.2l0.5 0.2l0.5 0.2l0.5 0.1l0.5 0l0.5 0l0.5-0.1l0.5-0.1l0.5-0.1l0.5 0l0.5 0l0.5 0l0.5 0.1l0.5 0l0.5 0l0.5 0.1l0.5-0.1l0.5 0l0.5 0l0.5-0.1l0.5 0l0.5 0l0.5 0.1l0.5 0.1l0.5 0.1l0.5 0.1l0.5 0.1l0.5 0l0.5 0l0.5-0.1l0.5-0.1l0.5 0l0.5-0.1l0.5-0.1l0.5-0.1l0.5 0l0.5 0l0.5 0l0.5 0.1l0.5 0l0.5 0l0.5 0l0.5-0.1l0.5 0l0.5-0.1l0.5 0l0.5 0l0.5-0.1l0.5 0l0.5 0.1l0.5 0l0.5 0l0.5 0.1l0.5 0.1l0.5 0.1l0.5 0l0.5 0.1l0.5 0l0.5 0.1l0.5 0l0.5 0.1l0.5 0l0.5 0l0.5 0l0.5 0l0.5 0.1l0.5 0l0.5 0l0.5 0.1l0.5 0l0.5-0.1l0.5 0l0.5-0.1l0.5-0.1l0.5-0.1l0.5-0.1l0.5-0.1l0.5-0.1l0.5 0.1l0.5 0l0.5 0.1l0.5 0.2l0.5 0.1l0.5 0.1" stroke="#1a1a1a" stroke-width="1.35" fill="none" stroke-linejoin="round"/>
<polyline points="1274.4,1385.5 883.7,1385.5 883.7,1161.1 1009.6,959.6 1400.3,959.6 1400.3,1184 1274.4,1385.5" stroke="#3a3a3a" stroke-width="1.7" fill="none" stroke-linejoin="round"/>
<path d="M883.7 1385.5v3M903.2 1385.5v3M922.8 1385.5v3M942.3 1385.5v3M961.8 1385.5v3M981.4 1385.5v3M1000.9 1385.5v3M1020.4 1385.5v3M1040 1385.5v3M1059.5 1385.5v3M1079 1385.5v3M1098.6 1385.5v3M1118.1 1385.5v3M1137.7 1385.5v3M1157.2 1385.5v3M1176.7 1385.5v3M1196.3 1385.5v3M1215.8 1385.5v3M1235.3 1385.5v3M1254.9 1385.5v3M1274.4 1385.5v3M1400.3 1184l3.5 1M1387.7 1204.2l3.5 1M1375.1 1224.3l3.5 1M1362.5 1244.5l3.5 1M1349.9 1264.6l3.5 1M1337.4 1284.8l3.5 1M1324.8 1304.9l3.5 1M1312.2 1325l3.5 1M1299.6 1345.2l3.5 1M1287 1365.3l3.5 1" stroke="#3a3a3a" stroke-width="1.4" fill="none"/>
<text transform="translate(877.7 1390.9) scale(1 1.14)" text-anchor="end" font-size="24" font-weight="bold">0</text>
<text transform="translate(877.7 1335.7) scale(1 1.14)" text-anchor="end" font-size="24" font-weight="bold">5000</text>
<text transform="translate(877.7 1280.4) scale(1 1.14)" text-anchor="end" font-size="24" font-weight="bold">10000</text>
<text transform="translate(877.7 1225.2) scale(1 1.14)" text-anchor="end" font-size="24" font-weight="bold">15000</text>
<text transform="translate(877.7 1169.9) scale(1 1.14)" text-anchor="end" font-size="24" font-weight="bold">20000</text>
<text transform="translate(883.7 1410) scale(1 1.14)" text-anchor="middle" font-size="24" font-weight="bold">6000</text>
<text transform="translate(981.4 1410) scale(1 1.14)" text-anchor="middle" font-size="24" font-weight="bold">7000</text>
<text transform="translate(1079 1410) scale(1 1.14)" text-anchor="middle" font-size="24" font-weight="bold">8000</text>
<text transform="translate(1176.7 1410) scale(1 1.14)" text-anchor="middle" font-size="24" font-weight="bold">9000</text>
<text transform="translate(1274.4 1410) scale(1 1.14)" text-anchor="middle" font-size="24" font-weight="bold">10000</text>
<text transform="matrix(0.95 0 -0.720 0.950 1412.8 1196.5)" font-size="22" font-weight="bold">3</text>
<text transform="matrix(0.95 0 -0.720 0.950 1400.2 1216.7)" font-size="22" font-weight="bold">6</text>
<text transform="matrix(0.95 0 -0.720 0.950 1387.6 1236.8)" font-size="22" font-weight="bold">9</text>
<text transform="matrix(0.95 0 -0.720 0.950 1375 1257)" font-size="22" font-weight="bold">12</text>
<text transform="matrix(0.95 0 -0.720 0.950 1362.4 1277.1)" font-size="22" font-weight="bold">15</text>
<text transform="matrix(0.95 0 -0.720 0.950 1349.9 1297.2)" font-size="22" font-weight="bold">18</text>
<text transform="matrix(0.95 0 -0.720 0.950 1337.3 1317.4)" font-size="22" font-weight="bold">21</text>
<text transform="matrix(0.95 0 -0.720 0.950 1324.7 1337.5)" font-size="22" font-weight="bold">24</text>
<text transform="matrix(0.95 0 -0.720 0.950 1312.1 1357.7)" font-size="22" font-weight="bold">27</text>
<text transform="matrix(0.95 0 -0.720 0.950 1299.5 1377.8)" font-size="22" font-weight="bold">30</text>
<text x="955" y="1466.5" font-size="30" font-weight="bold">Wavenumber(cm<tspan dy="-13" font-size="25">-1</tspan><tspan dy="13" dx="1" font-size="25">)</tspan></text>
<text transform="translate(796 1438) rotate(-90)" font-size="30" font-weight="bold">Radiation intensity(a.u.)</text>
<text transform="matrix(0.530 -0.848 1 0 1340 1421)" font-size="30" font-weight="bold">Horizontal position(mm)</text>
<text transform="translate(1242 1017.9) scale(1 1.09)" font-size="47.5" font-weight="bold">Case2</text>
<text x="1156" y="1069" font-size="46" fill="#e3141b">H<tspan font-size="32" dy="9">2</tspan><tspan dy="-9">O</tspan></text>
<line x1="1200" y1="1087" x2="1166.1" y2="1129.8" stroke="#e3141b" stroke-width="3.8"/><polygon points="1158,1140 1160.7,1123 1174,1133.5" fill="#e3141b"/>
<line x1="1209" y1="1090" x2="1240.1" y2="1130.7" stroke="#e3141b" stroke-width="3.8"/><polygon points="1248,1141 1232.1,1134.2 1245.6,1123.9" fill="#e3141b"/>
<path d="M1523.4 1204.1L1405.1 1393.2M1521 1205.5H1544M1509.8 1223.4H1530.9M1496.1 1245.4H1518.5M1481.9 1268.1H1505.5M1468.5 1289.4H1492.5M1456.5 1308.6H1479.4M1442.3 1331.3H1467M1430.3 1350.6H1453.2M1418.2 1369.8H1441.5M1404 1392.5H1429.9" stroke="#000" stroke-width="6.3" fill="none" stroke-linejoin="miter"/>
<text transform="translate(1561.9 1204.1) scale(1 1.15)" font-size="28.5" font-weight="bold">P1</text>
<text transform="translate(1548.8 1228.2) scale(1 1.15)" font-size="28.5" font-weight="bold">P2</text>
<text transform="translate(1532.3 1250.2) scale(1 1.15)" font-size="28.5" font-weight="bold">P3</text>
<text transform="translate(1517.2 1273.5) scale(1 1.15)" font-size="28.5" font-weight="bold">P4</text>
<text transform="translate(1504.1 1299) scale(1 1.15)" font-size="28.5" font-weight="bold">P5</text>
<text transform="translate(1487.5 1322.4) scale(1 1.15)" font-size="28.5" font-weight="bold">P6</text>
<text transform="translate(1473.9 1347.8) scale(1 1.15)" font-size="28.5" font-weight="bold">P7</text>
<text transform="translate(1460.1 1369.1) scale(1 1.15)" font-size="28.5" font-weight="bold">P8</text>
<text transform="translate(1447.8 1391.1) scale(1 1.15)" font-size="28.5" font-weight="bold">P9</text>
<text transform="translate(1431.2 1410.4) scale(1 1.15)" font-size="28.5" font-weight="bold">P10</text>
</g>
<g>
<path d="M1102 1720.8V1500.8M1201.2 1720.8V1500.8M1300.5 1720.8V1500.8M1002.7 1663.9H1399.7M1002.7 1609.3H1399.7M1002.7 1554.8H1399.7M876.2 1920.8l126.5 -200M1002.7 1720.8V1500.8" stroke="#dadada" stroke-width="1.4" fill="none"/>
<path d="M1002.7 1720.8V1500.8M990.1 1740.8V1520.8M977.4 1760.8V1540.8M964.8 1780.8V1560.8M952.1 1800.8V1580.8M939.5 1820.8V1600.8M926.8 1840.8V1620.8M914.2 1860.8V1640.8M901.5 1880.8V1660.8M888.9 1900.8V1680.8M876.2 1863.9l126.5 -200M876.2 1809.3l126.5 -200M876.2 1754.8l126.5 -200M975.5 1920.8l126.5 -200M1074.7 1920.8l126.5 -200M1174 1920.8l126.5 -200" stroke="#e6e6e6" stroke-width="1.2" fill="none"/>
<path d="M1002.7 1716.8l0.5-0.1l0.5 0.2l0.5 0.1l0.5-0.2l0.5-0.2l0.5-0.3l0.5-0.3l0.5 0l0.5 0.3l0.5 0.2l0.5 0l0.5-0.3l0.5-0.5l0.5-0.2l0.5 0.4l0.5 0.1l0.5-0.4l0.5-0.3l0.5-0.2l0.5-0.4l0.5-0.8l0.5-0.2l0.5 0.4l0.5 0l0.5-0.2l0.5 0l0.5-0.1l0.5-0.5l0.5-0.6l0.5-0.2l0.5-0.1l0.5-0.1l0.5-0.2l0.5-0.5l0.5-0.2l0.5 0.2l0.5 0l0.5-0.6l0.5-0.7l0.5-0.4l0.5-0.4l0.5-0.4l0.5-0.4l0.5-0.8l0.5-1.2l0.5-0.4l0.5 0.2l0.5-0.1l0.5-0.8l0.5-0.4l0.5-0.2l0.5-0.8l0.5-0.6l0.5-0.3l0.5-0.9l0.5-1l0.5-0.8l0.5-1l0.5-1.2l0.5-0.5l0.5 0.2l0.5-0.9l0.5-1l0.5-0.4l0.5-1l0.5-1.3l0.5-0.3l0.5-0.7l0.5-1.7l0.5-0.6l0.5 0.1l0.5-1.5l0.5-2l0.5-0.5l0.5 0l0.5-1l0.5-1.7l0.5-1.6l0.5-0.7l0.5 0.8l0.5 1.5l0.5 0.1l0.5-1.5l0.5-1.7l0.5-1.5l0.5-0.9l0.5-0.4l0.5-0.4l0.5-0.8l0.5-0.8l0.5-0.7l0.5-0.3l0.5 0.6l0.5 0l0.5-1.9l0.5-1.2l0.5 0.4l0.5-0.5l0.5-2l0.5-0.5l0.5 1.7l0.5 2.2l0.5 0.4l0.5-2.3l0.5-4l0.5-2.1l0.5-0.2l0.5 0.2l0.5-0.1l0.5-0.5l0.5-1.1l0.5-1.3l0.5 0.1l0.5 1.2l0.5-0.3l0.5-2.4l0.5-1.2l0.5 0.8l0.5-0.3l0.5-0.5l0.5 1.5l0.5 0.4l0.5-1.9l0.5-0.8l0.5-1.3l0.5-3l0.5-1.5l0.5 1.1l0.5 1.3l0.5 0l0.5-1.1l0.5-2.2l0.5-0.2l0.5 1.7l0.5-1.2l0.5-3.8l0.5-1.6l0.5 2.1l0.5 2l0.5-1.3l0.5-1.3l0.5 0.1l0.5-2l0.5-1.7l0.5 0.6l0.5 1.1l0.5 1.2l0.5-0.8l0.5-4l0.5-1.9l0.5 2.1l0.5 0.8l0.5-3.5l0.5-3.2l0.5 0l0.5 0.6l0.5-0.8l0.5 0.3l0.5 1.7l0.5 1.1l0.5-0.5l0.5-3.7l0.5-3.3l0.5 0.7l0.5 3.2l0.5 1l0.5-1.4l0.5-0.3l0.5-2.1l0.5-2.7l0.5 1.5l0.5 1.8l0.5-2.8l0.5-3.1l0.5-0.4l0.5-0.5l0.5 0.7l0.5 3.5l0.5 0.8l0.5-3.9l0.5-2.8l0.5-1.4l0.5-0.7l0.5 0.7l0.5-0.4l0.5-1.3l0.5 1.9l0.5 2.1l0.5-2.3l0.5-2.6l0.5 0.4l0.5-0.4l0.5-1.4l0.5 1.2l0.5 0.8l0.5-3l0.5-2.4l0.5 1.6l0.5 1l0.5-2.6l0.5-1.9l0.5 1.4l0.5 1.3l0.5 0.4l0.5 2.2l0.5-0.6l0.5-5.1l0.5-2.7l0.5 1.9l0.5 2.2l0.5 0.8l0.5 1.6l0.5-0.1l0.5-1.6l0.5-1.8l0.5-2.1l0.5 0.3l0.5 1.3l0.5-2l0.5-3.4l0.5-0.6l0.5 1l0.5-1l0.5-2.4l0.5 1.6l0.5 5l0.5 1.5l0.5-1.1l0.5 0l0.5-2.3l0.5-2.1l0.5 2.5l0.5 4.8l0.5 2.7l0.5 0.8l0.5 1.3l0.5 0.4l0.5-0.9l0.5-1l0.5-3l0.5-3.9l0.5-0.8l0.5 2l0.5 1.5l0.5 2.1l0.5 0.1l0.5-4.4l0.5-2.9l0.5 2.7l0.5 3.5l0.5-0.7l0.5-1l0.5-1.1l0.5-1.1l0.5 2.4l0.5 0.1l0.5-3.7l0.5 0.4l0.5 4.4l0.5 2.1l0.5 0.2l0.5 2.2l0.5 4.2l0.5 4.1l0.5 2.6l0.5-0.9l0.5-5.7l0.5-6l0.5-2.8l0.5 0.1l0.5 0l0.5-2.2l0.5-4.7l0.5-4.1l0.5 0.2l0.5-0.1l0.5-2.3l0.5 0.3l0.5 2.3l0.5-1l0.5-1.1l0.5 4.6l0.5 7.2l0.5 3.2l0.5 1.7l0.5 4l0.5 2.7l0.5 1.3l0.5 1.4l0.5 1l0.5-1.8l0.5-3.5l0.5-3.9l0.5-6.3l0.5-5.7l0.5-3l0.5-2.2l0.5 1.2l0.5 4.5l0.5 4l0.5 6.9l0.5 15.9l0.5 22.4l0.5 21.1l0.5 14.6l0.5 8.2l0.5 4.2l0.5 2.2l0.5 1.1l0.5 0.7l0.5 0.5l0.5 0.4l0.5 0.3l0.5 0.3l0.5 0.2l0.5 0.3l0.5 0.1l0.5 0.2l0.5 0.1l0.5 0.1l0.5 0l0.5 0.1l0.5 0.1l0.5 0.1l0.5 0.1l0.5 0.1l0.5 0.2l0.5 0.1l0.5 0.2l0.5 0.1l0.5 0.2l0.5 0.3l0.5 0.2l0.5 0.1l0.5 0.2l0.5 0.1l0.5 0l0.5 0l0.5 0l0.5 0l0.5 0l0.5 0l0.5 0l0.5 0.1l0.5 0l0.5 0l0.5 0l0.5 0.1l0.5 0l0.5 0.1l0.5 0.1l0.5 0.1l0.5 0.1l0.5 0.1l0.5 0l0.5-0.1l0.5-0.1l0.5-0.1l0.5-0.2l0.5-0.2l0.5-0.1l0.5 0l0.5 0l0.5 0.1l0.5 0.1l0.5 0.1l0.5 0.1l0.5 0.1l0.5 0.1l0.5 0.1l0.5 0.1l0.5 0l0.5 0l0.5 0l0.5 0l0.5 0l0.5-0.1l0.5-0.1l0.5-0.1l0.5-0.1l0.5-0.1l0.5-0.1l0.5 0l0.5 0l0.5 0l0.5 0.1l0.5 0l0.5 0l0.5 0l0.5 0l0.5 0.1l0.5 0l0.5 0.1l0.5 0.1l0.5 0.1l0.5 0.1l0.5 0.1l0.5 0l0.5 0l0.5-0.1l0.5-0.1l0.5-0.1l0.5-0.2l0.5-0.1l0.5-0.2l0.5-0.2l0.5-0.2l0.5-0.1l0.5 0l0.5 0l0.5 0l0.5 0.1l0.5 0.1l0.5 0l0.5 0l0.5 0l0.5 0l0.5-0.1l0.5 0l0.5 0l0.5-0.1l0.5 0l0.5-0.1l0.5-0.1l0.5-0.1l0.5 0l0.5 0l0.5-0.1l0.5 0l0.5 0l0.5-0.1l0.5 0l0.5 0l0.5 0l0.5 0l0.5 0l0.5 0.1l0.5 0l0.5 0l0.5-0.1l0.5-0.1l0.5-0.1l0.5-0.1l0.5-0.1l0.5 0l0.5 0l0.5 0l0.5 0.1l0.5 0l0.5-0.1l0.5-0.1l0.5-0.1l0.5-0.1l0.5-0.1l0.5-0.1l0.5 0.1l0.5 0.1l0.5 0l0.5 0.1l0.5-0.1l0.5-0.1l0.5-0.2l0.5-0.1l0.5-0.2l0.5-0.2l0.5-0.1l0.5-0.1l0.5-0.1l0.5-0.1l0.5-0.1l0.5-0.1l0.5-0.1l0.5-0.1l0.5 0l0.5 0l0.5 0l0.5 0.1l0.5 0.1l0.5 0.2l0.5 0.2l0.5 0.1l0.5 0.1l0.5 0l0.5-0.1l0.5-0.2l0.5-0.1l0.5-0.2l0.5 0l0.5 0l0.5 0l0.5 0.1l0.5 0.1l0.5 0.1l0.5 0l0.5 0l0.5-0.1l0.5 0l0.5-0.1l0.5-0.1l0.5 0l0.5 0l0.5-0.1l0.5 0l0.5 0l0.5-0.1l0.5-0.1l0.5 0l0.5 0l0.5 0l0.5 0l0.5 0.1l0.5 0l0.5 0.1l0.5 0l0.5 0l0.5 0l0.5 0l0.5 0l0.5-0.1l0.5-0.1l0.5-0.1l0.5 0l0.5 0l0.5 0l0.5 0l0.5 0.1l0.5 0l0.5 0l0.5-0.1l0.5 0l0.5-0.1l0.5-0.1l0.5 0l0.5 0l0.5 0l0.5 0l0.5 0l0.5 0.1l0.5 0.1l0.5 0l0.5 0.1l0.5 0.1l0.5 0l0.5 0.1l0.5 0l0.5-0.1l0.5-0.1l0.5-0.1l0.5-0.2l0.5-0.3l0.5-0.2l0.5-0.2l0.5-0.1l0.5-0.1l0.5 0l0.5 0l0.5 0.1l0.5 0l0.5 0l0.5 0l0.5-0.2l0.5-0.2l0.5-0.5l0.5-0.9l0.5-1.1l0.5-0.3l0.5 0.8l0.5 0.9l0.5 0.7l0.5 0.5l0.5 0.4l0.5 0.3l0.5 0.2l0.5 0.2l0.5 0.1l0.5 0.1l0.5 0l0.5 0l0.5-0.1l0.5 0l0.5-0.1l0.5 0l0.5 0l0.5 0l0.5 0l0.5 0l0.5 0.1l0.5 0.1l0.5 0.1l0.5 0.2l0.5 0.1l0.5 0.1l0.5 0.1l0.5 0l0.5 0.1l0.5 0.1l0.5 0.1l0.5 0.1l0.5 0.1l0.5 0.1l0.5 0.1l0.5 0.1l0.5 0l0.5 0l0.5 0l0.5 0l0.5 0l0.5 0l0.5 0l0.5 0l0.5 0.1l0.5 0.1l0.5 0.2l0.5 0.1l0.5 0.2l0.5 0.2l0.5 0.2l0.5 0.2l0.5 0.1l0.5 0.1l0.5 0.1l0.5 0.1l0.5 0l0.5 0l0.5 0l0.5-0.1l0.5 0l0.5 0.1l0.5 0l0.5 0.1l0.5 0.1l0.5 0.1l0.5 0.1l0.5 0.1l0.5 0l0.5 0.1l0.5 0.1l0.5 0l0.5 0.1l0.5 0.1l0.5 0.1l0.5 0.2l0.5 0.1l0.5 0.1l0.5 0l0.5 0.1l0.5-0.1l0.5 0l0.5 0.1l0.5 0l0.5 0.1l0.5 0.1l0.5 0l0.5 0.1l0.5 0l0.5 0l0.5 0l0.5-0.1l0.5 0l0.5 0l0.5 0l0.5 0.1l0.5 0l0.5 0l0.5 0l0.5-0.1l0.5 0l0.5 0l0.5 0l0.5 0l0.5 0l0.5 0.1l0.5 0.1l0.5 0l0.5 0.1l0.5 0l0.5 0l0.5-0.1l0.5-0.1l0.5 0l0.5 0l0.5 0l0.5 0l0.5 0.1l0.5 0.1l0.5 0.1l0.5 0l0.5 0l0.5 0l0.5-0.1l0.5-0.1l0.5 0l0.5-0.1l0.5 0l0.5 0l0.5 0l0.5 0l0.5 0.1l0.5 0l0.5 0l0.5 0l0.5-0.1l0.5 0l0.5 0l0.5-0.1l0.5 0l0.5-0.1l0.5 0l0.5-0.1l0.5-0.1l0.5 0l0.5 0.1l0.5 0l0.5 0.1l0.5 0.1l0.5 0.1l0.5 0.1l0.5 0.1l0.5 0.1l0.5 0.1l0.5 0l0.5 0l0.5 0l0.5-0.1l0.5 0l0.5 0l0.5 0.1l0.5 0.1l0.5 0.2l0.5 0.1l0.5 0l0.5 0l0.5 0l0.5-0.1l0.5-0.1l0.5-0.1l0.5 0l0.5-0.1l0.5 0l0.5 0l0.5 0l0.5 0.1l0.5 0l0.5 0l0.5 0.1l0.5 0l0.5-0.1l0.5 0l0.5-0.1l0.5-0.1l0.5 0l0.5 0l0.5 0l0.5 0.1l0.5 0l0.5 0l0.5 0l0.5 0l0.5-0.1l0.5-0.1l0.5-0.1l0.5-0.1l0.5-0.1l0.5 0l0.5-0.1l0.5 0l0.5 0l0.5 0.1l0.5 0.1l0.5 0.1l0.5 0.2l0.5 0.1l0.5 0l0.5 0l0.5 0l0.5-0.1l0.5 0l0.5-0.1l0.5 0l0.5-0.1l0.5-0.1l0.5-0.1l0.5 0l0.5 0l0.5 0.1l0.5 0.1l0.5 0.2l0.5 0.1l0.5 0.1l0.5 0l0.5 0.1l0.5 0l0.5 0l0.5 0M990.1 1736.4l0.6 0l0.5-0.2l0.5-0.1l0.5-0.2l0.5-0.2l0.5-0.1l0.5 0.4l0.5 0l0.5-0.5l0.5-0.4l0.5-0.5l0.5-0.3l0.5 0l0.5-0.1l0.5-0.2l0.5-0.2l0.5-0.1l0.5-0.2l0.5 0.1l0.5 0l0.5-0.5l0.5-0.5l0.5 0.3l0.5 0.6l0.5 0.1l0.5-0.3l0.5-0.2l0.5-0.2l0.5-0.3l0.5-0.2l0.5-0.4l0.5-0.3l0.5-0.2l0.5-0.4l0.5 0.1l0.5 0.2l0.5-0.4l0.5-0.5l0.5-0.1l0.5-0.3l0.5-0.7l0.5-0.5l0.5 0.2l0.5 0.6l0.5 0.1l0.5-0.6l0.5-0.8l0.5-0.9l0.5-0.4l0.5 0.1l0.5-0.2l0.5-0.8l0.5-1.1l0.5-1l0.5-1.2l0.5-0.9l0.5-0.8l0.5-1.3l0.5-1.1l0.5-0.5l0.5-0.5l0.5-1l0.5-0.3l0.5 0.2l0.5-0.6l0.5-0.9l0.5-1l0.5-1.6l0.5-1.4l0.5-1l0.5-0.5l0.5 0.5l0.5 0.6l0.5-0.9l0.5-1.6l0.5-0.7l0.5-1.4l0.5-2.4l0.5-1.7l0.5-0.6l0.5-0.5l0.5-0.6l0.5-0.4l0.5-0.8l0.5-1.2l0.5-0.5l0.5 0.7l0.5-0.2l0.5-1.3l0.5-0.5l0.5-0.3l0.5-1.7l0.5-1.3l0.5-1.4l0.5-2.1l0.5-1.1l0.5 1.2l0.5 1.9l0.5-0.6l0.5-2.6l0.5-1.4l0.5-0.3l0.5-0.2l0.5-0.7l0.5-2l0.5-1.7l0.5 0.2l0.5 1l0.5-0.2l0.5-1.8l0.5-2.2l0.5-1.6l0.5-0.5l0.5 0.1l0.5 0.6l0.5 0.8l0.5 1.5l0.5 0.3l0.5-2.6l0.5-2.5l0.5-1.8l0.5-1l0.5 0.8l0.5 1.5l0.5-1.1l0.5-3.2l0.5-1.2l0.5 2l0.5 1.2l0.5-2l0.5-1.3l0.5 0.5l0.5-1l0.5-1.4l0.5-0.4l0.5-1.2l0.5-1.7l0.5 0l0.5 0.6l0.5 0.3l0.5-0.2l0.5-2.6l0.5-2.3l0.5 0.6l0.5 1.4l0.5 0.5l0.5 0.7l0.5-1.2l0.5-3.6l0.5-1.8l0.5-0.3l0.5-1.2l0.5 0.3l0.5 2.1l0.5-0.6l0.5-2.9l0.5 0l0.5 1.2l0.6-1.4l0.5-2l0.5-0.7l0.5-1.8l0.5-1.1l0.5 1.7l0.5 2.3l0.5-0.4l0.5-0.9l0.5-1.6l0.5-3.7l0.5-1.7l0.5 3l0.5 3.1l0.5-2.2l0.5-3.3l0.5 2l0.5 2.1l0.5-3.4l0.5-3.9l0.5 0.9l0.5 3.1l0.5 0.6l0.5-4.8l0.5-5.1l0.5-1l0.5 1l0.5-0.2l0.5-0.3l0.5 1.6l0.5 0.8l0.5-1.8l0.5-1l0.5-0.2l0.5-0.6l0.5 1.4l0.5 1l0.5-3.4l0.5-3.5l0.5 1l0.5 1.9l0.5-1.8l0.5-1.4l0.5 4.3l0.5 4.3l0.5-2.5l0.5-5.4l0.5-4.3l0.5-1.8l0.5 0.8l0.5 1.6l0.5 1.2l0.5 1.9l0.5 3.8l0.5 0.4l0.5-3.5l0.5-0.3l0.5 2.1l0.5-0.3l0.5-1.5l0.5-3.6l0.5-4.6l0.5-1.1l0.5 3.7l0.5 4.7l0.5 0.9l0.5-1.6l0.5-3.6l0.5-3.3l0.5 2.2l0.5 7.2l0.5 4.2l0.5 0.3l0.5 0.9l0.5-0.6l0.5-0.7l0.5 3.2l0.5 6l0.5 3l0.5-1.2l0.5-3.5l0.5-5.4l0.5-2.7l0.5-0.4l0.5-2.9l0.5-3.1l0.5 0.3l0.5 3.2l0.5 2l0.5 0.6l0.5 1.4l0.5-2l0.5-2.8l0.5 1.9l0.5 1.3l0.5-0.3l0.5 0.9l0.5-2.8l0.5-3.6l0.5 1.5l0.5 3.5l0.5 2.5l0.5 4.4l0.5 5.5l0.5 1.5l0.5-1.5l0.5-0.7l0.5-0.6l0.5-2.3l0.5-1.3l0.5 0.9l0.5-3l0.5-6.1l0.5-1.7l0.5-1.1l0.5-5.2l0.5-4.4l0.5 0l0.5 0.9l0.5 0.4l0.5 3.8l0.5 6.1l0.5 3.3l0.5 1.9l0.5-0.4l0.5 0.5l0.5 5.5l0.5 4.7l0.5 1.3l0.5 1.6l0.5 2.4l0.5-1l0.5-5.2l0.5-5.4l0.5-6.4l0.5-6.1l0.5-0.5l0.5 2.6l0.5-1.8l0.5-2.2l0.5 3.3l0.5 5.3l0.5 9.8l0.5 18.8l0.5 23.2l0.5 19.3l0.5 12.1l0.5 6.6l0.5 3.3l0.5 1.7l0.5 1.1l0.5 0.6l0.5 0.5l0.5 0.4l0.5 0.4l0.5 0.3l0.5 0.3l0.5 0.3l0.5 0.3l0.6 0.3l0.5 0.3l0.5 0.1l0.5 0.2l0.5 0.1l0.5 0.1l0.5 0.1l0.5 0l0.5 0.2l0.5 0.1l0.5 0.2l0.5 0.1l0.5 0.2l0.5 0.1l0.5 0.1l0.5 0.1l0.5 0.1l0.5 0.1l0.5 0.2l0.5 0.2l0.5 0.1l0.5 0.2l0.5 0.1l0.5 0.1l0.5 0.1l0.5-0.1l0.5 0l0.5-0.1l0.5-0.1l0.5-0.1l0.5 0l0.5-0.1l0.5 0l0.5 0l0.5-0.1l0.5 0l0.5 0l0.5 0l0.5 0l0.5 0l0.5 0.1l0.5 0.1l0.5 0l0.5 0l0.5 0l0.5 0l0.5-0.1l0.5 0l0.5 0l0.5 0l0.5 0l0.5 0.1l0.5-0.1l0.5 0l0.5-0.1l0.5-0.1l0.5 0l0.5 0l0.5 0.1l0.5 0.1l0.5 0.1l0.5 0.1l0.5 0.1l0.5 0l0.5 0l0.5-0.1l0.5-0.2l0.5-0.1l0.5-0.2l0.5-0.1l0.5 0l0.5-0.1l0.5 0l0.5 0.1l0.5 0l0.5 0l0.5 0.1l0.5 0l0.5 0l0.5 0l0.5 0.1l0.5 0l0.5 0.1l0.5 0l0.5 0l0.5 0l0.5-0.1l0.5 0l0.5-0.1l0.5-0.1l0.5-0.1l0.5 0l0.5-0.1l0.5-0.1l0.5-0.1l0.5 0l0.5-0.1l0.5 0l0.5 0l0.5 0.1l0.5 0l0.5 0.1l0.5 0l0.5 0l0.5 0l0.5-0.1l0.5-0.1l0.5-0.1l0.5 0l0.5-0.1l0.5 0l0.5 0.1l0.5 0l0.5 0l0.5 0l0.5-0.1l0.5 0l0.5-0.1l0.5-0.1l0.5-0.2l0.5-0.1l0.5-0.2l0.5-0.1l0.5-0.1l0.5-0.1l0.5-0.1l0.5 0l0.5-0.1l0.5 0l0.5 0l0.5 0l0.5 0l0.5 0l0.5 0l0.5 0.1l0.5 0l0.5 0.1l0.5 0l0.5 0l0.5 0.1l0.5 0l0.5 0l0.5 0l0.5 0.1l0.5 0.1l0.5 0.1l0.5 0l0.5 0.1l0.5-0.1l0.5 0l0.5-0.1l0.5-0.1l0.5-0.2l0.5-0.1l0.5-0.2l0.5-0.1l0.5-0.1l0.5-0.1l0.6 0l0.5-0.1l0.5 0l0.5-0.1l0.5-0.1l0.5-0.1l0.5-0.1l0.5-0.1l0.5-0.1l0.5 0l0.5 0l0.5-0.1l0.5 0l0.5 0l0.5 0.1l0.5 0l0.5 0l0.5 0.1l0.5 0l0.5 0.1l0.5 0l0.5 0l0.5 0l0.5-0.1l0.5-0.1l0.5 0l0.5 0l0.5 0l0.5 0l0.5 0.1l0.5 0l0.5-0.1l0.5 0l0.5-0.1l0.5-0.1l0.5 0l0.5 0l0.5 0l0.5 0.1l0.5 0l0.5 0l0.5 0l0.5-0.1l0.5 0l0.5-0.1l0.5 0l0.5-0.1l0.5 0l0.5 0l0.5 0l0.5 0l0.5 0l0.5 0l0.5-0.1l0.5 0l0.5-0.1l0.5-0.1l0.5 0l0.5-0.1l0.5 0l0.5 0l0.5 0.1l0.5 0l0.5 0l0.5 0l0.5 0l0.5 0l0.5 0l0.5 0l0.5 0l0.5 0l0.5-0.1l0.5-0.1l0.5-0.1l0.5-0.1l0.5-0.1l0.5 0l0.5-0.1l0.5-0.1l0.5-0.1l0.5-0.1l0.5-0.1l0.5-0.1l0.5-0.2l0.5-0.1l0.5-0.2l0.5-0.3l0.5-0.7l0.5-0.9l0.5-0.4l0.5 0.6l0.5 1.1l0.5 0.7l0.5 0.5l0.5 0.2l0.5 0.1l0.5 0.1l0.5 0.1l0.5 0.1l0.5 0.1l0.5 0.1l0.5 0.1l0.5 0.1l0.5 0l0.5 0l0.5 0l0.5 0.1l0.5 0.1l0.5 0.1l0.5 0.1l0.5 0.1l0.5 0.1l0.5 0.2l0.5 0.1l0.5 0.3l0.5 0.2l0.5 0.1l0.5 0.2l0.5 0l0.5 0l0.5 0l0.5-0.1l0.5-0.1l0.5 0l0.5 0l0.5-0.1l0.5 0.1l0.5 0l0.5 0.1l0.5 0.1l0.5 0.1l0.5 0.2l0.5 0.1l0.5 0.1l0.5 0.1l0.5 0l0.5 0l0.5-0.1l0.5 0l0.5 0l0.5 0l0.5 0.1l0.5 0l0.5 0.1l0.5 0l0.5 0.2l0.5 0.1l0.5 0.1l0.5 0.1l0.5 0.1l0.5 0l0.5 0.1l0.5 0.1l0.5 0l0.5 0.1l0.5 0.2l0.5 0.1l0.5 0.1l0.5 0.1l0.6 0.2l0.5 0.1l0.5 0.2l0.5 0.1l0.5 0.2l0.5 0.2l0.5 0.1l0.5 0.1l0.5 0.1l0.5 0l0.5 0l0.5 0l0.5 0l0.5-0.1l0.5 0l0.5 0.1l0.5 0l0.5 0l0.5 0.1l0.5 0l0.5 0.1l0.5 0.1l0.5 0l0.5 0.1l0.5 0l0.5 0.1l0.5-0.1l0.5 0l0.5 0l0.5-0.1l0.5-0.1l0.5 0l0.5-0.1l0.5 0l0.5 0l0.5 0.1l0.5 0.1l0.5 0l0.5 0.1l0.5 0l0.5 0l0.5 0l0.5-0.1l0.5-0.1l0.5-0.1l0.5-0.1l0.5-0.2l0.5-0.1l0.5 0l0.5 0l0.5 0.1l0.5 0.1l0.5 0.1l0.5 0.1l0.5 0.1l0.5 0.1l0.5 0l0.5 0.1l0.5 0l0.5 0l0.5-0.1l0.5 0l0.5-0.1l0.5 0l0.5-0.1l0.5-0.1l0.5 0l0.5 0l0.5 0l0.5 0l0.5 0l0.5 0.1l0.5 0l0.5 0l0.5 0.1l0.5 0l0.5 0.1l0.5 0l0.5 0.1l0.5 0l0.5 0l0.5-0.1l0.5-0.1l0.5-0.1l0.5-0.1l0.5-0.1l0.5 0l0.5 0.1l0.5 0.1l0.5 0.1l0.5 0.1l0.5 0.1l0.5 0l0.5 0l0.5 0l0.5 0l0.5-0.1l0.5 0l0.5 0.1l0.5 0.1l0.5 0.1l0.5 0.1l0.5 0.1l0.5 0l0.5 0l0.5 0l0.5-0.1l0.5-0.1l0.5-0.1l0.5-0.1l0.5 0l0.5 0l0.5 0l0.5 0.1l0.5 0.1l0.5 0l0.5 0l0.5 0l0.5-0.1l0.5 0.1l0.5 0l0.5 0.2l0.5 0.1l0.5 0.2l0.5 0l0.5 0l0.5-0.1l0.5-0.1l0.5-0.2l0.5-0.1l0.5-0.1l0.5 0.1l0.5 0l0.5 0.1l0.5 0.1l0.5 0.1l0.5 0l0.5-0.1l0.5 0l0.5 0l0.5-0.1l0.5 0l0.5 0l0.5 0l0.5 0.1l0.5 0l0.5 0l0.5-0.1l0.5 0l0.5-0.2l0.5-0.1l0.5-0.1l0.5 0l0.5 0l0.5 0l0.5 0l0.5 0.1l0.5 0.1l0.5 0M977.4 1755.2l0.5-0.1l0.5-0.2l0.5-0.1l0.5-0.3l0.5-0.4l0.5-0.2l0.5 0.1l0.5 0.4l0.5 0.4l0.5-0.1l0.5-0.7l0.5-0.6l0.5 0.3l0.5 0.4l0.5 0.1l0.5-0.2l0.5-0.7l0.5-0.6l0.5-0.1l0.5 0.4l0.5 0.1l0.5-0.4l0.5-0.5l0.5-0.3l0.5-0.1l0.5 0l0.5-0.2l0.5-0.3l0.5-0.2l0.5 0l0.5 0l0.5-0.1l0.5-0.2l0.5-0.1l0.5-0.3l0.5-0.2l0.5-0.1l0.5-0.4l0.5-0.4l0.5-0.6l0.5-0.6l0.5-0.1l0.5 0.3l0.5 0.3l0.5 0.2l0.5-0.1l0.5-0.6l0.5-1l0.5-0.5l0.5 0l0.5-0.2l0.5-0.3l0.5 0.1l0.5-0.1l0.5-0.4l0.5-0.5l0.5-0.4l0.5-0.9l0.5-1l0.5-0.4l0.5-0.4l0.5-1.4l0.5-0.9l0.5 0.2l0.5 0.1l0.5-0.4l0.5-0.5l0.5-1.6l0.5-2.3l0.5-1.4l0.5-0.7l0.5-0.9l0.5-1l0.5-1.4l0.5-1.4l0.5 0.2l0.5 1.1l0.5-0.9l0.5-1.8l0.5-0.9l0.5-1.1l0.5-1.7l0.5-0.7l0.5-0.2l0.5-1.5l0.5-1.4l0.5-0.3l0.5-0.7l0.5-1.7l0.5-0.7l0.5-0.7l0.5-1.6l0.5-1.1l0.5-0.9l0.5-1.3l0.5-0.4l0.5 0.3l0.5-0.4l0.5-1.1l0.5 0.4l0.5 0.9l0.5-2.1l0.5-2.6l0.5 0.6l0.5 1.7l0.5-0.6l0.5-2l0.5-2.8l0.5-1.8l0.5 0.2l0.5-0.6l0.5-1.9l0.5-0.8l0.5-0.7l0.5-1.9l0.5-1.4l0.5 0.7l0.5 1.4l0.5-0.7l0.5-1.2l0.5 0l0.5-2.1l0.5-3.1l0.5-0.8l0.5 1.6l0.5 1l0.5-0.9l0.5-2.1l0.5-1.7l0.5 0.9l0.5 1l0.5-2.6l0.5-3.2l0.5-0.6l0.5-0.1l0.5-1.1l0.5 0.2l0.5 3.1l0.5 1.8l0.5-2.1l0.5-1.4l0.5 0.3l0.5-0.1l0.5-0.3l0.5-3l0.5-3.4l0.5 0.7l0.5 2.2l0.5-1.9l0.5-3.5l0.5-0.9l0.5-0.3l0.5-1.4l0.5 0.2l0.5 3.5l0.5 2.4l0.5-0.7l0.5-2.7l0.5-3.7l0.5-0.4l0.5 1.6l0.5-2.5l0.5-4.1l0.5-0.9l0.5 1.4l0.5-0.2l0.5-0.7l0.5 2.4l0.5 1.2l0.5-3.5l0.5-1.3l0.5 3.6l0.5 2.6l0.5-0.7l0.5-4.6l0.5-6l0.5-2.1l0.5 2.4l0.5 2.8l0.5 0.9l0.5-0.1l0.5-2.8l0.5-3.2l0.5 1.9l0.5 2.7l0.5-2.8l0.5-1.9l0.5 1.3l0.5-2.3l0.5-5l0.5-2.1l0.5 1.6l0.5 1.9l0.5-0.4l0.5-2.6l0.5-3.3l0.5-2.1l0.5 0.2l0.5 1.8l0.5 0.9l0.5-0.2l0.5 0.9l0.5-0.2l0.5 0.2l0.5 3.1l0.5-0.1l0.5-4.2l0.5-0.5l0.5 5l0.5 3.1l0.5-1.4l0.5-2.4l0.5-3.9l0.5-3.2l0.5 0.1l0.5 3.2l0.5 4.2l0.5 1.9l0.5-3.7l0.5-5.9l0.5-2.1l0.5 1.4l0.5 2.3l0.5 3l0.5 1.6l0.5-2.1l0.5 0.1l0.5 3.6l0.5-0.8l0.5-3.7l0.5 0.2l0.5 5.5l0.5 7.1l0.5 3.2l0.5-0.7l0.5-2.3l0.5-2.2l0.5-1l0.5 1.2l0.5 2.1l0.5 0.1l0.5-1.3l0.5-1.9l0.5-2.9l0.5 0.7l0.5 3.6l0.5-0.3l0.5-2l0.5 0.5l0.5-1.8l0.5-3.4l0.5 1.1l0.5 2.7l0.5-2.1l0.5-3.4l0.5-0.2l0.5 0.6l0.5 1.8l0.5 3.7l0.5 2.6l0.5 2.9l0.5 6.4l0.5 5.3l0.5-1l0.5-1.8l0.5 0.2l0.5-2.5l0.5-4.2l0.5-1l0.5-1.3l0.5-6l0.5-4.8l0.5 1.9l0.5 2.8l0.5-3.3l0.5-5.1l0.5-3.1l0.5-0.8l0.5 2l0.5 0.6l0.5-1.4l0.5 1.7l0.5 5.7l0.5 5.1l0.5 3.2l0.5 4.7l0.5 6.8l0.5 6.3l0.5 2l0.5-4.3l0.5-6.2l0.5-3.5l0.5-4l0.5-7.2l0.5-6.9l0.5-2.8l0.5 0.5l0.5 1.1l0.5 2.3l0.5 5.8l0.5 9.5l0.5 16l0.5 22.3l0.5 21.2l0.5 14.6l0.5 8l0.5 4.1l0.5 1.9l0.5 1l0.5 0.6l0.5 0.5l0.5 0.5l0.5 0.4l0.5 0.4l0.5 0.4l0.5 0.4l0.5 0.3l0.5 0.2l0.5 0.1l0.5 0.2l0.5 0.1l0.5 0.1l0.5 0.1l0.5 0.2l0.5 0.1l0.5 0.2l0.5 0.2l0.5 0.1l0.5 0.2l0.5 0.2l0.5 0.2l0.5 0.2l0.5 0.2l0.5 0.3l0.5 0.1l0.5 0.2l0.5 0.1l0.5 0l0.5 0l0.5 0l0.5 0l0.5 0l0.5 0l0.5 0l0.5 0l0.5 0l0.5 0l0.5-0.1l0.5 0l0.5 0l0.5 0.1l0.5 0l0.5 0l0.5-0.1l0.5 0l0.5 0l0.5 0.1l0.5 0.1l0.5 0.1l0.5 0.1l0.5 0.1l0.5 0.1l0.5 0l0.5 0l0.5 0l0.5 0l0.5-0.1l0.5-0.2l0.5-0.1l0.5-0.2l0.5-0.1l0.5-0.1l0.5-0.1l0.5 0l0.5 0l0.5-0.1l0.5 0l0.5 0.1l0.5 0.1l0.5 0.1l0.5 0.1l0.5 0l0.5-0.1l0.5-0.1l0.5-0.1l0.5-0.1l0.5 0l0.5 0l0.5 0l0.5 0.1l0.5 0.1l0.5 0.1l0.5 0.1l0.5 0.1l0.5 0.1l0.5 0.1l0.5 0.1l0.5 0l0.5 0l0.5-0.1l0.5-0.1l0.5 0l0.5-0.1l0.5-0.1l0.5-0.1l0.5-0.1l0.5-0.2l0.5-0.1l0.5-0.1l0.5-0.1l0.5-0.1l0.5-0.1l0.5-0.1l0.5 0l0.5-0.1l0.5-0.1l0.5-0.1l0.5-0.1l0.5 0l0.5 0l0.5 0l0.5 0l0.5 0l0.5 0l0.5 0l0.5 0l0.5 0l0.5-0.1l0.5-0.1l0.5-0.1l0.5 0l0.5-0.1l0.5 0l0.5 0.1l0.5 0.1l0.5 0.1l0.5 0.1l0.5 0l0.5 0l0.5 0l0.5-0.1l0.5 0l0.5-0.1l0.5-0.1l0.5-0.1l0.5 0l0.5 0l0.5 0l0.5 0l0.5-0.1l0.5-0.1l0.5-0.1l0.5-0.2l0.5-0.2l0.5-0.2l0.5-0.1l0.5-0.1l0.5 0l0.5 0.1l0.5 0l0.5 0l0.5 0.1l0.5 0l0.5 0.1l0.5 0l0.5 0.1l0.5 0.1l0.5 0l0.5 0l0.5-0.1l0.5-0.1l0.5-0.1l0.5-0.2l0.5 0l0.5 0l0.5 0l0.5 0.2l0.5 0.2l0.5 0.1l0.5 0.2l0.5 0l0.5 0l0.5-0.1l0.5-0.2l0.5-0.3l0.5-0.3l0.5-0.2l0.5-0.3l0.5-0.1l0.5-0.1l0.5-0.1l0.5 0l0.5 0l0.5 0l0.5 0l0.5 0l0.5 0l0.5 0l0.5 0l0.5 0l0.5-0.1l0.5-0.1l0.5 0l0.5 0l0.5 0l0.5 0l0.5 0.1l0.5 0l0.5 0.1l0.5 0l0.5 0l0.5-0.1l0.5 0l0.5-0.1l0.5-0.1l0.5 0l0.5 0l0.5 0l0.5 0.1l0.5 0.2l0.5 0.1l0.5 0.1l0.5 0.1l0.5 0l0.5 0.1l0.5-0.1l0.5 0l0.5-0.1l0.5-0.1l0.5 0l0.5-0.1l0.5 0l0.5 0l0.5-0.1l0.5-0.1l0.5-0.1l0.5-0.2l0.5-0.1l0.5 0l0.5 0l0.5 0.1l0.5 0.1l0.5 0.1l0.5 0l0.5-0.1l0.5-0.1l0.5-0.1l0.5 0l0.5 0l0.5 0l0.5 0.1l0.5 0l0.5 0l0.5-0.1l0.5-0.1l0.5-0.1l0.5-0.1l0.5-0.1l0.5-0.1l0.5-0.2l0.5-0.2l0.5-0.4l0.5-0.5l0.5-0.8l0.5-0.9l0.5-0.2l0.5 0.9l0.5 1.1l0.5 0.7l0.5 0.5l0.5 0.4l0.5 0.2l0.5 0.2l0.5 0.1l0.5 0.1l0.5 0l0.5 0.1l0.5 0l0.5 0.1l0.5 0l0.5 0l0.5 0l0.5 0l0.5 0l0.5 0l0.5 0.1l0.5 0l0.5 0.1l0.5 0.2l0.5 0.1l0.5 0.2l0.5 0.2l0.5 0.1l0.5 0l0.5 0l0.5 0l0.5 0l0.5 0l0.5 0l0.5 0l0.5 0.1l0.5 0.1l0.5 0.1l0.5 0l0.5 0l0.5 0l0.5 0l0.5 0l0.5 0l0.5 0l0.5 0.1l0.5 0.1l0.5 0.1l0.5 0.2l0.5 0.2l0.5 0.3l0.5 0.2l0.5 0.1l0.5 0.1l0.5 0l0.5 0l0.5-0.1l0.5-0.1l0.5 0l0.5 0.1l0.5 0.1l0.5 0.1l0.5 0.1l0.5 0.2l0.5 0.1l0.5 0.1l0.5 0.1l0.5 0.1l0.5 0l0.5 0l0.5-0.1l0.5 0l0.5-0.1l0.5-0.1l0.5 0l0.5 0l0.5 0l0.5 0.1l0.5 0.2l0.5 0.1l0.5 0.2l0.5 0.1l0.5 0.2l0.5 0.2l0.5 0.2l0.5 0.2l0.5 0.1l0.5 0.1l0.5 0l0.5 0l0.5-0.1l0.5 0l0.5 0l0.5 0l0.5 0.1l0.5 0.1l0.5 0l0.5 0l0.5 0l0.5-0.1l0.5-0.1l0.5-0.1l0.5-0.1l0.5 0.1l0.5 0.1l0.5 0.1l0.5 0.2l0.5 0.1l0.5 0.1l0.5 0l0.5-0.1l0.5-0.1l0.5-0.1l0.5-0.1l0.5 0l0.5-0.1l0.5 0l0.5 0l0.5 0l0.5 0l0.5 0.1l0.5 0l0.5 0l0.5 0l0.5 0l0.5 0l0.5 0l0.5 0l0.5 0.1l0.5 0l0.5 0.1l0.5 0l0.5 0l0.5 0l0.5 0l0.5 0l0.5 0l0.5 0l0.5 0l0.5 0l0.5 0.1l0.5 0.1l0.5 0l0.5 0l0.5-0.1l0.5 0l0.5 0l0.5 0l0.5-0.1l0.5 0l0.5 0l0.5 0l0.5 0l0.5-0.1l0.5 0l0.5 0l0.5 0l0.5 0l0.5 0l0.5 0.1l0.5 0l0.5 0l0.5 0.1l0.5 0l0.5 0l0.5 0l0.5-0.1l0.5-0.2l0.5-0.1l0.5-0.1l0.5-0.1l0.5 0l0.5 0.1l0.5 0.1l0.5 0.2l0.5 0.2l0.5 0.1l0.5 0.1l0.5 0.2l0.5 0.1l0.5 0.1l0.5 0l0.5 0l0.5-0.1l0.5-0.1l0.5-0.1l0.5-0.2l0.5-0.2l0.5-0.1l0.5-0.1l0.5-0.1l0.5-0.1l0.5 0.1l0.5 0l0.5 0.1l0.5 0.1l0.5 0l0.5 0.1l0.5 0l0.5 0l0.5 0l0.5-0.1l0.5-0.1l0.5-0.1l0.5-0.1l0.5 0l0.5 0.1l0.5 0.1l0.5 0.1l0.5 0.1l0.5 0.1l0.5 0.1l0.5 0l0.5 0l0.5-0.1l0.5-0.1l0.5-0.1l0.5-0.1l0.5-0.1l0.5-0.1l0.5-0.1l0.5 0l0.5 0.1l0.5 0.1l0.5 0.1l0.5 0.1l0.5 0.2l0.5 0l0.5 0.1M964.8 1774.9l0.4 0.2l0.6 0.2l0.4 0l0.6-0.2l0.4-0.6l0.6-0.3l0.4 0.3l0.6 0.3l0.4-0.1l0.6-0.2l0.4-0.6l0.6-0.6l0.4-0.4l0.6 0.2l0.4 0.3l0.6 0l0.4-0.2l0.6-0.3l0.4-0.4l0.6-0.3l0.4-0.1l0.6 0.4l0.4 0.2l0.6-0.2l0.4-0.1l0.6-0.3l0.4-0.2l0.6 0l0.4-0.1l0.6 0l0.4 0.2l0.6 0l0.4-0.6l0.6-0.6l0.4-0.4l0.6 0.1l0.4 0l0.6-0.1l0.4-0.4l0.6-0.8l0.4-0.4l0.6-0.1l0.4 0l0.6 0l0.4-0.2l0.6-0.2l0.4-0.2l0.6-0.3l0.4-0.1l0.6 0.3l0.4 0.6l0.6 0.1l0.4-0.4l0.6-0.7l0.4-0.5l0.6 0.1l0.4 0.7l0.6 0.2l0.4-0.8l0.6-0.7l0.4-0.6l0.6-0.7l0.4-0.6l0.6 0l0.4-0.1l0.6-1l0.4-0.9l0.6-0.6l0.4-0.8l0.6-0.9l0.4-1.5l0.6-2.1l0.4-1.8l0.6-0.7l0.4-0.8l0.6-0.6l0.4 0.1l0.6 0.3l0.4-0.5l0.6-1.2l0.4-1.7l0.6-1.1l0.4-0.2l0.6-1.2l0.4-2.1l0.6-0.7l0.4-0.1l0.6-1.3l0.4-1.6l0.6 0.1l0.4 0.7l0.6-1.1l0.4-1.5l0.6-0.8l0.4-1.4l0.6-1l0.4-1l0.6-2l0.4-0.8l0.6 0.4l0.4-1.6l0.6-2.5l0.4-0.1l0.6 0.7l0.4-1.6l0.6-2.5l0.4-0.9l0.6 0.1l0.4-0.7l0.6-1.3l0.4-2l0.6-2.5l0.4-1.3l0.6 0.2l0.4 0.7l0.6-0.4l0.4-1.4l0.6-2l0.4-0.6l0.6 1.7l0.4 0.2l0.6-3.2l0.4-3l0.6-0.8l0.4-0.5l0.6-0.6l0.4 0.7l0.6 0.7l0.4-1.6l0.6-2l0.4 0.3l0.6 0.4l0.4-1.8l0.6-2.4l0.4-2l0.6-1.3l0.4-0.5l0.6-0.2l0.4 0.1l0.6 1.7l0.4 1.7l0.6-2.5l0.4-4.4l0.6-1.7l0.4-0.1l0.6-1.1l0.4-1.4l0.6 1.4l0.4 2.1l0.6-1.3l0.4-2.9l0.6-2.8l0.4-2l0.6 0l0.4 1.6l0.6-0.1l0.4-2.2l0.6-0.4l0.4 0.8l0.6-1.1l0.4-0.6l0.6 0.5l0.4-0.8l0.6 0.5l0.4 2.3l0.6-0.9l0.4-1.6l0.6-0.3l0.4-3.1l0.6-3.9l0.4 0.4l0.6 3.5l0.4 0.6l0.6-3.1l0.4-0.3l0.6 2.1l0.4-0.4l0.6-2.8l0.4-4.2l0.6-3.5l0.4-0.1l0.6 3.2l0.4 2.3l0.6 0l0.4-0.5l0.6-2.1l0.4-2l0.6-0.5l0.4-2l0.6-2l0.4 2l0.6 3.8l0.4-0.7l0.6-4.1l0.4-0.1l0.6 4l0.4 3l0.6-0.7l0.4-4.6l0.6-3.2l0.4 2l0.6 0.5l0.4-3.8l0.6-1.7l0.4 1.2l0.6-0.8l0.4-2.2l0.6 1.5l0.4 5.7l0.6 4.1l0.4-0.2l0.6 1.1l0.4-0.5l0.6-4.5l0.4-2.7l0.6-0.2l0.4-0.6l0.6 2.3l0.4 4.9l0.6 0.7l0.4-3.5l0.6-3.7l0.4-3l0.6-0.4l0.4 0.9l0.6-0.7l0.4-0.3l0.6 1.3l0.4 0.6l0.6-0.1l0.4 2.3l0.6 5.7l0.4 6.1l0.6 3.9l0.4 4.2l0.6 2.8l0.4-2.6l0.6-2.9l0.4-1l0.6-2.5l0.4-2.1l0.6 1.5l0.4 1.3l0.6-1.8l0.4-1.8l0.6-1.4l0.4-1l0.6 1.2l0.4 0.2l0.6-2.7l0.4-0.5l0.6 3.1l0.4-0.1l0.6-4l0.4-1.3l0.6 1.1l0.4-0.2l0.6 1l0.4 2.8l0.6 2.3l0.4 3.7l0.6 6.9l0.4 5l0.6-1.2l0.4-2.6l0.6-0.2l0.4-1.2l0.6-4.9l0.4-4.1l0.6-0.4l0.4-0.4l0.6-1.9l0.4-2.5l0.6-3.3l0.4 0.5l0.6 1.4l0.4-3.7l0.6-2.5l0.4 0l0.6-2.2l0.4-1.6l0.6 3.2l0.4 8.1l0.6 8.1l0.4 3.9l0.6 2l0.4 1.4l0.6 1.5l0.4 1.5l0.6-0.5l0.4-3.9l0.6-4.9l0.4-4.6l0.6-5.6l0.4-5.4l0.6-1.6l0.4 0.6l0.6-0.3l0.4 2l0.6 7.5l0.4 10.1l0.6 14.6l0.4 21.2l0.6 21.1l0.4 14.8l0.6 8.3l0.4 4.2l0.6 2.2l0.4 1.1l0.6 0.7l0.4 0.5l0.6 0.4l0.4 0.4l0.6 0.4l0.4 0.4l0.6 0.4l0.4 0.4l0.6 0.3l0.4 0.2l0.6 0.2l0.4 0.1l0.6 0.1l0.4 0l0.6 0.1l0.4 0.1l0.6 0.1l0.4 0.1l0.6 0.1l0.4 0.1l0.6 0.1l0.4 0.2l0.6 0.1l0.4 0.2l0.6 0.2l0.4 0.2l0.6 0.2l0.4 0.1l0.6 0l0.4 0l0.6 0.1l0.4 0l0.6 0l0.4 0l0.6-0.1l0.4-0.1l0.6 0l0.4-0.1l0.6 0l0.4-0.1l0.6 0l0.4-0.1l0.6-0.1l0.4-0.1l0.6 0l0.4-0.1l0.6 0.1l0.4 0.1l0.6 0.2l0.4 0.2l0.6 0.2l0.4 0.1l0.6 0.1l0.4 0l0.6-0.1l0.4-0.1l0.6 0l0.4-0.1l0.6-0.1l0.4 0.1l0.6 0.1l0.4 0.1l0.6 0.1l0.4 0.1l0.6 0.1l0.4 0l0.6 0l0.4-0.1l0.6 0l0.4-0.1l0.6-0.1l0.4 0.1l0.6 0l0.4 0.1l0.6 0l0.4 0l0.6 0l0.4-0.2l0.6-0.1l0.4-0.2l0.6-0.1l0.4-0.2l0.6-0.1l0.4 0l0.6 0l0.4 0.1l0.6 0l0.4 0.1l0.6 0l0.4 0l0.6-0.1l0.4 0l0.6-0.1l0.4 0l0.6 0l0.4 0l0.6-0.1l0.4 0l0.6-0.1l0.4 0l0.6 0l0.4 0l0.6 0l0.4 0.1l0.6 0l0.4 0l0.6 0l0.4-0.2l0.6-0.1l0.4-0.2l0.6-0.1l0.4-0.1l0.6 0l0.4 0l0.6 0.1l0.4 0l0.6-0.1l0.4-0.1l0.6-0.1l0.4-0.1l0.6-0.1l0.4 0l0.6-0.1l0.4 0l0.6 0l0.4-0.1l0.6 0l0.4-0.1l0.6-0.1l0.4 0l0.6-0.1l0.4 0l0.6-0.1l0.4 0l0.6 0l0.4 0l0.6 0l0.4 0.1l0.6 0.1l0.4 0.1l0.6 0l0.4 0l0.6 0l0.4-0.2l0.6-0.1l0.4-0.2l0.6-0.1l0.4-0.2l0.6 0l0.4 0l0.6 0l0.4 0.1l0.6 0l0.4 0.1l0.6 0l0.4-0.1l0.6 0l0.4-0.1l0.6-0.1l0.4 0l0.6-0.1l0.4 0l0.6 0l0.4-0.1l0.6 0l0.4 0l0.6-0.1l0.4-0.1l0.6-0.1l0.4-0.1l0.6-0.1l0.4 0l0.6 0l0.4 0.1l0.6 0.1l0.4 0l0.6 0.1l0.4 0l0.6 0l0.4-0.1l0.6 0l0.4-0.1l0.6-0.1l0.4 0l0.6 0l0.4 0l0.6 0l0.4 0.1l0.6 0l0.4 0l0.5 0l0.5 0l0.6-0.1l0.4-0.1l0.6 0l0.4 0l0.6 0.1l0.4 0.1l0.6 0.1l0.4 0.1l0.6 0l0.4 0l0.6 0l0.4-0.1l0.6-0.1l0.4-0.1l0.6 0l0.4 0l0.6-0.1l0.4 0l0.6 0.1l0.4 0l0.6 0l0.4 0l0.6 0l0.4-0.1l0.6 0l0.4 0l0.6-0.1l0.4 0l0.6 0l0.4-0.1l0.6 0l0.4-0.1l0.6 0l0.4 0l0.6 0l0.4 0l0.6 0l0.4 0l0.6 0l0.4-0.1l0.6-0.1l0.4-0.2l0.6-0.1l0.4-0.2l0.6-0.1l0.4-0.1l0.6-0.1l0.4-0.1l0.6 0l0.4 0.1l0.6 0.1l0.4 0.1l0.6 0.2l0.4 0.2l0.6 0.2l0.4 0.1l0.6 0l0.4 0l0.6-0.2l0.4-0.3l0.6-0.5l0.4-0.6l0.6-1l0.4-1l0.6-0.3l0.4 0.8l0.6 1.1l0.4 0.7l0.6 0.4l0.4 0.3l0.6 0.2l0.4 0.2l0.6 0.1l0.4 0.2l0.6 0.1l0.4 0.1l0.6 0l0.4 0.1l0.6 0.1l0.4 0.1l0.6 0l0.4 0.1l0.6 0.1l0.4 0.1l0.6 0.1l0.4 0.1l0.6 0.1l0.4 0.1l0.6 0l0.4 0l0.6 0l0.4 0l0.6-0.1l0.4 0l0.6 0l0.4 0.1l0.6 0l0.4 0.1l0.6 0l0.4 0.1l0.6 0l0.4 0.1l0.6 0.1l0.4 0.2l0.6 0.1l0.4 0l0.6 0.1l0.4-0.1l0.6 0l0.4 0l0.6 0l0.4 0l0.6 0l0.4 0l0.6 0.1l0.4 0.1l0.6 0.1l0.4 0.1l0.6 0.1l0.4 0.1l0.6 0.1l0.4 0.1l0.6 0.1l0.4 0.1l0.6 0l0.4 0.1l0.6 0l0.4 0.1l0.6 0l0.4 0.1l0.6 0.1l0.4 0.2l0.6 0.2l0.4 0.1l0.6 0.2l0.4 0.2l0.6 0.2l0.4 0.2l0.6 0l0.4 0l0.6-0.1l0.4-0.1l0.6-0.1l0.4-0.2l0.6 0l0.4 0l0.6 0.1l0.4 0.1l0.6 0.1l0.4 0.1l0.6 0.1l0.4 0l0.6-0.1l0.4 0l0.6-0.1l0.4 0l0.6 0l0.4 0.1l0.6 0.1l0.4 0.1l0.6 0.2l0.4 0.1l0.6 0.1l0.4 0.1l0.6 0.1l0.4 0l0.6 0l0.4 0l0.6 0l0.4-0.1l0.6 0l0.4 0l0.6-0.1l0.4 0l0.6 0l0.4 0l0.6 0l0.4 0.1l0.6 0.1l0.4 0l0.6 0.1l0.4 0l0.6 0l0.4-0.1l0.6-0.1l0.4-0.1l0.6 0l0.4 0l0.6 0l0.4 0.1l0.6 0.2l0.4 0.1l0.6 0.1l0.4 0l0.6 0l0.4 0.1l0.6 0l0.4 0l0.6-0.1l0.4 0l0.6-0.1l0.4-0.2l0.6-0.1l0.4-0.2l0.6-0.2l0.4-0.2l0.6-0.1l0.4 0l0.6-0.1l0.4 0.1l0.6 0l0.4 0.1l0.6 0l0.4 0l0.6 0l0.4 0l0.6 0l0.4 0l0.6 0l0.4 0l0.6 0l0.4 0.1l0.6 0l0.4 0l0.6 0.1l0.4 0.1l0.6 0.1l0.4 0l0.6 0.1l0.4 0l0.6 0l0.4 0.1l0.6 0.1l0.4 0l0.6 0.2l0.4 0.1l0.6 0.1l0.4 0.1l0.6 0.1l0.4 0l0.6 0l0.4 0l0.6-0.1l0.4-0.2l0.6-0.1l0.4-0.2l0.6-0.1l0.4-0.1l0.6-0.1l0.4 0l0.6 0l0.4 0l0.6 0l0.4 0l0.6 0.1l0.4 0l0.6 0l0.4 0.1l0.6 0l0.4 0.1l0.6 0l0.4 0l0.6 0l0.4 0l0.6-0.1l0.4 0l0.6 0l0.4 0l0.6-0.1l0.4 0l0.6 0l0.4 0l0.6 0l0.4 0l0.6 0.1l0.4 0.2l0.6 0.1l0.4 0.1l0.6 0.1l0.4 0l0.6 0l0.4 0l0.6-0.1l0.4 0l0.6-0.1l0.4 0l0.6-0.1l0.4 0l0.6 0.1l0.4 0l0.6 0.1l0.4 0l0.6 0M952.1 1795.3l0.5-0.5l0.5-0.5l0.5 0l0.5-0.1l0.5-0.2l0.5 0l0.5 0l0.5-0.1l0.5 0.3l0.5 0.2l0.5-0.1l0.5 0l0.5 0l0.5-0.7l0.5-0.6l0.5-0.2l0.5 0l0.5 0.1l0.5 0.1l0.5-0.6l0.5-1l0.5-0.6l0.5 0l0.5 0.3l0.5 0.2l0.5 0l0.5 0.2l0.5 0.1l0.5-0.1l0.5-0.3l0.5-0.3l0.5-0.1l0.5-0.1l0.5-0.1l0.5-0.3l0.5-0.3l0.5-0.1l0.5 0l0.5-0.1l0.5-0.5l0.5-0.6l0.5-0.3l0.5 0l0.5-0.1l0.5-0.4l0.5-0.3l0.5-0.5l0.5-0.5l0.5 0.2l0.5 0.4l0.5-0.1l0.5 0l0.5 0.1l0.5-0.5l0.5-0.4l0.5-0.2l0.5-0.3l0.5-0.4l0.5-0.1l0.5 0.4l0.5 0.1l0.5-0.5l0.5-0.3l0.5-0.2l0.5-0.7l0.5-0.2l0.5 0l0.5-0.5l0.5-0.7l0.5-0.4l0.5-0.5l0.5-0.4l0.5-0.5l0.5-0.6l0.5-0.7l0.5-0.2l0.5 0.4l0.5 0.1l0.5-0.5l0.5-0.5l0.5-1l0.5-1.5l0.5-1l0.5-0.1l0.5-0.2l0.5-0.8l0.5-0.5l0.5-0.7l0.5-1.4l0.5-0.4l0.5-0.5l0.5-1.6l0.5-1.1l0.5-1.5l0.5-2.8l0.5-1.9l0.5-0.3l0.5-0.7l0.5-2.1l0.5-2.1l0.5-1.8l0.5-1.7l0.5-0.6l0.5 0l0.5-0.8l0.5-0.7l0.5 0.3l0.5-0.9l0.5-1.6l0.5-0.5l0.5-1.9l0.5-2.8l0.5-0.6l0.5 1.7l0.5 0.4l0.5-2.3l0.5-2.4l0.5-1.6l0.5-1.1l0.5 1.1l0.5 1.1l0.5-1.2l0.5-0.7l0.5-1.1l0.5-3.2l0.5-1.1l0.5 1.5l0.5-1.1l0.5-3.9l0.5-2.2l0.5 1.3l0.5 1.3l0.5-2.6l0.5-2.4l0.5 1.2l0.5 0.1l0.5-2.4l0.5-1.6l0.5-1.5l0.5-2l0.5 0.9l0.5 2.1l0.5-1.8l0.5-3.5l0.5-0.6l0.5 0.3l0.5-1.5l0.5-2.4l0.5-2.6l0.5-1.4l0.5 1.2l0.5 1.6l0.5-1.1l0.5-2l0.5 1.3l0.5 1.7l0.5-1.1l0.5-2.4l0.5-3.6l0.5-2.1l0.5 1.1l0.5-0.6l0.5-3l0.5-1.5l0.5-0.3l0.5-1.6l0.5-0.5l0.5 3.9l0.5 4.6l0.5-0.1l0.5-2.6l0.5-4.5l0.5-4.5l0.5 0.7l0.5 3.9l0.5-1.3l0.5-5.3l0.5-2.2l0.5-0.3l0.5-0.9l0.5 0.3l0.5 0.1l0.5-1.9l0.5-0.5l0.5 3l0.5 1.9l0.5 0.1l0.5-0.1l0.5-3.7l0.5-4.1l0.5 1.1l0.5 3.6l0.5 1.6l0.5 1.5l0.5 0l0.5-5.1l0.5-4.9l0.5-0.6l0.5 2.4l0.5 3l0.5 3l0.5 1.6l0.5-3.8l0.5-4.2l0.5 0.1l0.5 0.2l0.5-1.1l0.5 1.6l0.5 4.8l0.5 2.6l0.5 0.5l0.5 0.5l0.5-3l0.5-3.5l0.5-0.5l0.5-0.4l0.5-0.8l0.5 1.3l0.5 1.6l0.5-2l0.5-2.4l0.5 1.7l0.5 1.8l0.5-1.5l0.5-0.6l0.5 0.3l0.5-1.6l0.5-0.4l0.5 2.5l0.5 3.3l0.5 4.5l0.5 4.9l0.5 1.9l0.5 1.4l0.5 2.3l0.5 0.1l0.5-0.8l0.5 0l0.5-1.4l0.5-2.9l0.5-1.2l0.5 1.2l0.5 0.8l0.5 0.5l0.5 2.1l0.5 0.6l0.5-1l0.5 1.2l0.5-1.1l0.5-5.5l0.5-4.1l0.5-0.4l0.5 0.5l0.5 0.1l0.5 2.5l0.5 2.9l0.5-1.7l0.5-2.1l0.5 4.1l0.5 6.2l0.5 1.9l0.5 1.9l0.5 5.2l0.5 2.2l0.5-2.1l0.5-1.2l0.5-2.4l0.5-5.2l0.5-4.2l0.5-2.9l0.5-3.9l0.5-3.9l0.5-3.5l0.5-1.3l0.5 3.3l0.5 2.6l0.5-4.1l0.5-5l0.5 0.6l0.5 5.4l0.5 4.1l0.5 1l0.5 1.5l0.5 1.8l0.5 3.1l0.5 6l0.5 5.8l0.5 2.2l0.5 1l0.5 1.2l0.5-3.2l0.5-7.2l0.5-6.1l0.5-5.5l0.5-5.1l0.5-0.7l0.5 3.5l0.5 2.7l0.5 2.8l0.5 3.7l0.5 4.6l0.5 13.4l0.5 22.2l0.5 21.7l0.5 14.9l0.5 8.3l0.5 4.3l0.5 2.3l0.5 1.2l0.5 0.8l0.5 0.6l0.5 0.5l0.5 0.5l0.5 0.4l0.5 0.3l0.5 0.4l0.5 0.2l0.5 0.2l0.5 0.1l0.5 0.1l0.5 0.1l0.5 0l0.5 0.1l0.5 0.1l0.5 0l0.5 0.1l0.5 0.1l0.5 0.1l0.5 0.1l0.5 0.1l0.5 0l0.5 0.1l0.5 0l0.5 0.1l0.5 0.2l0.5 0.1l0.5 0.2l0.5 0.1l0.5 0.1l0.5 0.1l0.5 0l0.5-0.1l0.5-0.1l0.5-0.1l0.5-0.1l0.5-0.1l0.5 0l0.5 0.1l0.5 0.1l0.5 0.1l0.5 0.1l0.5 0.1l0.5 0.1l0.5 0.1l0.5 0.1l0.5 0.1l0.5 0.2l0.5 0.1l0.5 0.1l0.5 0l0.5-0.1l0.5-0.1l0.5-0.1l0.5-0.1l0.5-0.1l0.5-0.1l0.5 0l0.5 0l0.5 0l0.5 0l0.5 0.1l0.5 0.1l0.5 0l0.5 0.1l0.5 0l0.5-0.1l0.5 0l0.5-0.1l0.5-0.1l0.5 0l0.5-0.1l0.5 0l0.5 0.1l0.5 0.1l0.5 0.1l0.5 0.1l0.5 0l0.5-0.1l0.5-0.1l0.5-0.1l0.5-0.2l0.5-0.1l0.5-0.1l0.5 0l0.5 0l0.5 0l0.5 0.1l0.5-0.1l0.5 0l0.5 0l0.5 0.1l0.5 0l0.5 0.1l0.5 0l0.5 0l0.5 0l0.5 0l0.5-0.1l0.5 0l0.5-0.1l0.5 0l0.5 0l0.5 0.1l0.5 0l0.5 0l0.5 0l0.5-0.1l0.5-0.1l0.5-0.1l0.5-0.1l0.5-0.1l0.5 0l0.5-0.1l0.5 0l0.5-0.1l0.5-0.2l0.5-0.1l0.5-0.1l0.5-0.1l0.5 0l0.5 0l0.5 0l0.5 0.1l0.5 0l0.5 0l0.5 0l0.5 0l0.5-0.1l0.5-0.1l0.5-0.1l0.5-0.1l0.5-0.1l0.5 0l0.5 0.1l0.5 0.1l0.5 0l0.5 0.1l0.5 0.1l0.5 0l0.5 0.1l0.5 0l0.5-0.1l0.5 0l0.5-0.1l0.5-0.1l0.5-0.2l0.5-0.2l0.5-0.1l0.5-0.2l0.5-0.1l0.5-0.2l0.5-0.1l0.5-0.1l0.5-0.1l0.5-0.1l0.5 0l0.5 0l0.5-0.1l0.5 0l0.5-0.1l0.5-0.1l0.5-0.1l0.5 0l0.5 0l0.5 0l0.5 0l0.5 0l0.5-0.1l0.5 0l0.5-0.1l0.5 0l0.5 0l0.5 0.2l0.5 0.2l0.5 0.2l0.5 0.1l0.5 0.1l0.5 0l0.5 0l0.5-0.1l0.5-0.1l0.5-0.1l0.5-0.1l0.5 0l0.5 0l0.5 0.1l0.5 0.1l0.5 0.1l0.5 0.1l0.5 0l0.5 0.1l0.5 0l0.5-0.1l0.5-0.1l0.5-0.1l0.5-0.1l0.5-0.1l0.5-0.1l0.5-0.1l0.5 0l0.5-0.1l0.5 0l0.5-0.1l0.5 0l0.5 0l0.5 0l0.5 0l0.5 0.1l0.5 0l0.5 0.1l0.5 0l0.5 0l0.5-0.1l0.5-0.1l0.5 0l0.5-0.1l0.5 0l0.5 0l0.5 0l0.5 0l0.5 0l0.5 0l0.5-0.1l0.5 0l0.5 0l0.5-0.1l0.5 0l0.5 0.1l0.5 0l0.5 0l0.5 0l0.5 0l0.5-0.1l0.5-0.1l0.5-0.1l0.5-0.1l0.5-0.1l0.5 0l0.5 0l0.5-0.1l0.5 0l0.5-0.1l0.5 0l0.5-0.1l0.5 0l0.5-0.1l0.5 0l0.5-0.1l0.5-0.1l0.5-0.1l0.5-0.1l0.5-0.3l0.5-0.5l0.5-0.7l0.5-1l0.5-0.1l0.5 0.9l0.5 1l0.5 0.7l0.5 0.3l0.5 0.2l0.5 0.1l0.5 0.1l0.5 0.1l0.5 0.1l0.5 0.2l0.5 0.1l0.5 0.2l0.5 0.1l0.5 0l0.5 0l0.5 0l0.5 0l0.5 0l0.5 0l0.5 0.1l0.5 0.1l0.5 0.1l0.5 0.2l0.5 0.1l0.5 0.1l0.5 0.1l0.5 0.1l0.5 0.1l0.5 0.1l0.5 0l0.5 0l0.5 0l0.5 0l0.5 0l0.5-0.1l0.5 0l0.5-0.1l0.5 0l0.5 0l0.5 0l0.5 0.1l0.5 0.1l0.5 0.1l0.5 0.1l0.5 0.1l0.5 0.1l0.5 0.1l0.5 0.2l0.5 0.1l0.5 0.2l0.5 0.1l0.5 0.2l0.5 0.1l0.5 0.1l0.5 0.1l0.5 0.1l0.5 0.1l0.5 0l0.5 0.1l0.5 0l0.5 0.1l0.5 0l0.5 0.1l0.5 0.1l0.5 0.1l0.5 0.1l0.5 0.2l0.5 0l0.5 0l0.5 0l0.5 0l0.5 0l0.5-0.1l0.5 0l0.5 0l0.5 0l0.5 0l0.5 0l0.5 0.1l0.5 0.1l0.5 0.2l0.5 0.2l0.5 0.2l0.5 0.2l0.5 0.2l0.5 0.1l0.5 0.2l0.5 0.1l0.5 0l0.5 0l0.5-0.1l0.5-0.1l0.5-0.2l0.5-0.1l0.5-0.1l0.5-0.2l0.5-0.1l0.5 0l0.5 0.1l0.5 0.1l0.5 0.2l0.5 0.2l0.5 0.1l0.5 0.2l0.5 0.1l0.5 0l0.5-0.1l0.5-0.1l0.5-0.1l0.5-0.2l0.5 0l0.5-0.1l0.5 0.1l0.5 0.1l0.5 0.1l0.5 0l0.5 0.1l0.5 0l0.5 0l0.5 0l0.5 0l0.5 0l0.5 0l0.5 0l0.5 0l0.5 0l0.5 0l0.5 0l0.5 0.1l0.5 0.2l0.5 0.1l0.5 0.1l0.5 0.1l0.5 0l0.5 0l0.5-0.2l0.5-0.2l0.5-0.2l0.5-0.1l0.5-0.1l0.5 0l0.5 0l0.5 0.1l0.5 0.1l0.5 0l0.5 0l0.5-0.1l0.5-0.1l0.5-0.1l0.5-0.1l0.5-0.1l0.5-0.1l0.5 0l0.5-0.1l0.5-0.1l0.5-0.1l0.5 0l0.5 0l0.5 0.1l0.5 0.2l0.5 0.2l0.5 0.2l0.5 0.1l0.5 0.1l0.5 0.1l0.5 0l0.5 0l0.5 0l0.5 0.1l0.5 0.1l0.5 0.1l0.5 0l0.5 0l0.5 0l0.5-0.1l0.5-0.1l0.5 0l0.5 0l0.5 0l0.5 0l0.5 0l0.5 0l0.5 0l0.5-0.1l0.5 0l0.5-0.1l0.5 0l0.5 0l0.5 0.1l0.5 0.1l0.5 0.1l0.5 0l0.5 0l0.5 0l0.5 0l0.5 0l0.5 0l0.5-0.1l0.5 0l0.5 0l0.5-0.1l0.5 0l0.5-0.1l0.5-0.1l0.5-0.1l0.5 0l0.5-0.1l0.5 0l0.5 0.1l0.5 0.1l0.5 0l0.5 0.1l0.5 0.1l0.5 0l0.5 0l0.5-0.1l0.5 0l0.5 0l0.5 0.1l0.5 0.1l0.5 0l0.5 0.1l0.5 0l0.5-0.1l0.5 0l0.5-0.1l0.5 0l0.5 0M939.5 1814.4l0.6-0.1l0.4 0.1l0.6-0.2l0.4-0.7l0.6-0.4l0.4 0.1l0.6 0.2l0.4 0.2l0.6 0.1l0.4-0.1l0.6-0.5l0.4-0.4l0.6-0.2l0.4 0l0.6 0l0.4 0l0.6-0.1l0.4-0.3l0.6-0.2l0.4 0l0.6-0.4l0.4-0.3l0.6 0.1l0.4 0.2l0.6-0.2l0.4-0.3l0.6 0.1l0.4 0l0.6-0.7l0.4-0.6l0.6-0.2l0.4 0.2l0.6 0.1l0.4 0.2l0.6-0.1l0.4-0.4l0.6-0.6l0.4-0.3l0.6-0.1l0.4 0.2l0.6 0.3l0.4 0.1l0.6-0.2l0.4-0.6l0.6-0.3l0.4 0.4l0.6 0.6l0.4 0l0.6-0.7l0.4-0.4l0.6-0.1l0.4-0.4l0.6-0.3l0.4-0.5l0.6-0.4l0.4 0.1l0.6 0.4l0.4 0l0.6-0.6l0.4-0.3l0.6 0.3l0.4-0.1l0.6-0.8l0.4-1.1l0.6-0.6l0.4-0.4l0.6-0.5l0.4-0.6l0.6-0.6l0.4 0l0.6 0.2l0.4-0.5l0.6-0.7l0.4-0.2l0.6 0.1l0.4 0l0.6-0.6l0.4-1.4l0.6-1.1l0.4-0.3l0.6-0.2l0.4-0.4l0.6-0.3l0.4 0.3l0.6 0.1l0.4-0.7l0.6-1.3l0.4-1.1l0.6-0.1l0.4 0.5l0.6-0.2l0.4-1.1l0.6-1.2l0.4-0.6l0.6-0.4l0.4-0.1l0.6 0l0.4-1.3l0.6-1.5l0.4-0.4l0.6-0.2l0.4-0.6l0.6-0.1l0.4-0.2l0.6-1.9l0.4-2.3l0.6-1.2l0.4-0.8l0.6-1.2l0.4-1l0.6-1.3l0.4-2.2l0.6-1.4l0.4 0.2l0.6-0.6l0.4-2.7l0.6-1.6l0.4 1l0.6 0.1l0.4-1.8l0.6-2.4l0.4-3.8l0.6-3.4l0.4-0.2l0.6 1.6l0.4-0.5l0.6-2.5l0.4-2.1l0.6-1.9l0.4-0.5l0.6 2.2l0.4 1.4l0.6-2.8l0.4-3.1l0.6 0.1l0.4-0.6l0.6-1.4l0.4 0.7l0.6 0.2l0.4-1.7l0.6-1.2l0.4-1.9l0.6-1.5l0.4 1.2l0.6-0.6l0.4-3.9l0.6-2.4l0.4 1.5l0.6 1.4l0.4-2.4l0.6-2.2l0.4 0.3l0.6 0.1l0.4 0.4l0.6-0.2l0.4-4.1l0.6-4l0.4-2.2l0.6-2.4l0.4-1.3l0.6 2.1l0.4 3.2l0.6-1.2l0.4-2.4l0.6 1.5l0.4 0.2l0.6-3.5l0.4-4.2l0.6-3.3l0.4-1.2l0.6 2.2l0.4 3.6l0.6 1.3l0.4-1l0.6-3.2l0.4-5.1l0.6-2.8l0.4 0.7l0.6 1.4l0.4 0.3l0.6-0.6l0.4-2.9l0.6-3.4l0.4-0.6l0.6 1l0.4-0.8l0.6-2l0.4-0.2l0.6 1.7l0.4 0.3l0.6-1l0.4 0.9l0.6 2.7l0.4 3.4l0.6 0.2l0.4-5.6l0.6-4.3l0.4 1.9l0.6 4.5l0.4-0.3l0.6-3.7l0.4-0.1l0.6 1.2l0.4-1.7l0.6-1l0.4 1.6l0.6 1.8l0.4 2.3l0.6 2l0.4-1l0.6-1l0.4 0.1l0.6-0.7l0.4 2l0.6 5.3l0.4 1l0.6-4.3l0.4-1.2l0.6 2.1l0.4-2.5l0.6-5.5l0.4-1.6l0.6 1.5l0.4 1.6l0.6 3.1l0.4 1.3l0.6-3.2l0.4-0.7l0.6 5.8l0.4 4.9l0.6-0.5l0.4-0.1l0.6 1.7l0.4 2.1l0.6 3.4l0.4 3.2l0.6 1.6l0.4 1.8l0.6 1.6l0.4-1.9l0.6-1.9l0.4 0l0.6-2.1l0.4-3.1l0.6-1l0.4 1.1l0.6 0.5l0.4-1.3l0.6-0.6l0.4-0.7l0.6-2.9l0.4-2.1l0.6-0.4l0.4-0.1l0.6 0l0.4 0.4l0.6-0.3l0.4 1l0.6 1.8l0.4 0.6l0.6 1.5l0.4 4.7l0.6 7.8l0.4 6.8l0.6 1.9l0.4-3.4l0.6-7.6l0.4-5.9l0.6-2.9l0.4-4.2l0.6-4l0.4 0.3l0.6-0.6l0.4-5.8l0.6-4.5l0.4 2.7l0.6 5.6l0.4 0.8l0.6-3.6l0.4-4.7l0.6-1.9l0.4 3l0.6 8.4l0.4 10.2l0.6 6.8l0.4 3.4l0.6 0l0.4-1.1l0.6 0.8l0.4-0.1l0.6-2.5l0.4-3l0.6-5.4l0.4-8.5l0.6-6l0.4 0.4l0.6 4.2l0.4 1.2l0.6-0.6l0.4 4.1l0.6 8l0.4 14.7l0.6 21.8l0.4 21.2l0.6 14.7l0.4 8.3l0.6 4.4l0.4 2.3l0.6 1.3l0.4 0.9l0.6 0.6l0.4 0.4l0.6 0.3l0.4 0.2l0.6 0.1l0.4 0.2l0.6 0.2l0.4 0.1l0.6 0.2l0.4 0.2l0.6 0.2l0.4 0.1l0.6 0.1l0.4 0.2l0.6 0.1l0.4 0.2l0.6 0.1l0.4 0.1l0.6 0l0.4 0.1l0.6 0.1l0.4 0l0.6 0.2l0.4 0.1l0.6 0.2l0.4 0.2l0.6 0.1l0.4 0.1l0.6 0.1l0.4 0l0.6 0l0.4 0l0.6 0l0.4-0.1l0.6-0.1l0.4-0.1l0.6-0.1l0.4-0.1l0.6-0.1l0.4 0l0.6 0l0.4 0l0.6 0.1l0.4 0.2l0.6 0.1l0.4 0.1l0.6 0l0.4 0l0.6-0.1l0.4 0l0.6 0l0.4 0l0.6 0l0.4 0l0.6 0l0.4 0.1l0.6 0l0.4 0l0.6 0l0.4 0l0.6 0l0.4 0l0.6-0.1l0.4-0.1l0.6 0l0.4-0.1l0.6 0l0.4 0l0.6 0l0.4 0.1l0.6 0.1l0.4 0.1l0.6 0.2l0.4 0.1l0.6 0.2l0.4 0l0.6 0.1l0.4 0l0.6 0l0.4-0.1l0.6-0.1l0.4-0.1l0.6-0.1l0.4-0.1l0.6-0.1l0.4 0l0.6 0l0.4-0.1l0.6 0l0.4 0l0.6-0.1l0.4 0l0.6 0l0.4 0.1l0.6 0l0.4 0.1l0.6 0l0.4 0l0.6 0.1l0.4-0.1l0.6 0l0.4-0.1l0.6-0.1l0.4-0.1l0.6-0.1l0.4-0.2l0.6-0.1l0.4-0.2l0.6-0.1l0.4-0.1l0.6-0.1l0.4 0l0.6 0.1l0.4 0l0.6 0l0.4 0l0.6 0l0.4-0.1l0.6-0.1l0.4-0.1l0.6-0.1l0.4 0l0.6 0l0.4 0l0.6 0l0.4 0l0.6 0l0.4 0l0.6 0l0.4-0.1l0.6-0.1l0.4 0l0.6-0.1l0.4-0.1l0.6 0l0.4 0l0.6 0l0.4 0l0.6 0l0.4 0l0.6 0l0.4 0l0.6-0.1l0.4-0.1l0.6-0.1l0.4-0.1l0.6 0l0.4-0.1l0.6 0l0.4 0l0.6 0l0.4-0.1l0.6 0l0.4-0.1l0.5-0.1l0.5 0l0.6-0.1l0.4 0l0.6-0.1l0.4 0l0.5 0l0.5 0l0.6-0.1l0.4 0l0.6-0.1l0.4 0l0.5 0l0.5 0l0.6 0.1l0.4 0.1l0.6 0.1l0.4 0.1l0.5 0.1l0.5 0l0.6 0l0.4 0l0.6-0.1l0.4 0l0.5-0.1l0.5 0l0.6 0l0.4 0l0.6-0.1l0.4 0l0.6 0l0.4-0.1l0.6-0.1l0.4-0.1l0.6-0.1l0.4 0l0.6-0.1l0.4 0l0.6 0.1l0.4 0l0.6 0.1l0.4 0.1l0.6 0l0.4 0l0.6 0l0.4-0.1l0.6-0.2l0.4-0.1l0.6-0.2l0.4-0.1l0.6-0.1l0.4-0.2l0.6 0l0.4-0.1l0.6 0l0.4 0l0.6 0l0.4 0l0.6 0l0.4 0l0.6 0l0.4 0l0.6 0.1l0.4 0l0.6 0l0.4 0l0.6-0.1l0.4-0.1l0.6-0.2l0.4-0.1l0.5-0.2l0.5-0.1l0.6-0.1l0.4 0l0.6 0l0.4 0l0.5 0l0.5 0l0.6 0.1l0.4 0l0.6 0.1l0.4 0l0.5-0.1l0.5 0l0.6-0.1l0.4 0l0.6 0l0.4 0l0.5 0.1l0.5 0.1l0.6 0.1l0.4 0.1l0.6 0.1l0.4 0.1l0.5-0.1l0.5-0.2l0.6-0.2l0.4-0.4l0.6-0.5l0.4-0.8l0.5-1l0.5-0.2l0.6 0.9l0.4 1.1l0.6 0.7l0.4 0.5l0.6 0.2l0.4 0.2l0.6 0l0.4 0.1l0.6 0.1l0.4 0.1l0.6 0.1l0.4 0.2l0.6 0.1l0.4 0.2l0.6 0.1l0.4 0.1l0.6 0l0.4 0.1l0.6 0l0.4 0l0.6 0l0.4-0.1l0.6 0l0.4-0.1l0.6 0l0.4 0l0.6 0.1l0.4 0l0.6 0.1l0.4 0l0.5 0.1l0.5 0.1l0.6 0.1l0.4 0.1l0.6 0.1l0.4 0.1l0.6 0.1l0.4 0.1l0.5 0l0.5 0l0.6 0l0.4-0.1l0.6 0l0.4 0l0.5 0.1l0.5 0l0.6 0.2l0.4 0.1l0.6 0.1l0.4 0.1l0.5 0.1l0.5 0.1l0.6 0l0.4 0l0.6 0l0.4 0l0.5 0.1l0.5 0l0.6 0l0.5 0l0.5 0.1l0.4 0l0.5 0.1l0.5 0.1l0.6 0.2l0.4 0.1l0.6 0.2l0.4 0.2l0.6 0.2l0.4 0.1l0.6 0.1l0.4 0.1l0.6 0.1l0.4 0.1l0.6 0l0.4 0.1l0.6 0l0.4 0l0.6 0l0.4-0.1l0.6 0l0.4 0l0.6 0l0.4 0.1l0.6 0l0.4 0l0.6 0l0.4 0l0.6 0l0.4-0.1l0.6 0l0.4 0.1l0.6 0.1l0.4 0.2l0.6 0.2l0.4 0.2l0.6 0.1l0.4 0.1l0.6 0l0.4-0.1l0.5 0l0.5-0.1l0.6-0.1l0.4-0.1l0.6-0.1l0.4-0.1l0.5-0.1l0.5-0.1l0.6 0l0.4 0l0.6 0.1l0.4 0.1l0.6 0.1l0.4 0l0.5 0.1l0.5 0.1l0.6 0l0.4 0.1l0.6 0l0.4-0.1l0.5 0l0.5 0l0.6-0.1l0.4 0l0.6 0l0.4 0.1l0.5 0.1l0.5 0.1l0.6 0.1l0.5 0.2l0.5 0l0.4 0.1l0.6 0l0.4 0l0.6-0.1l0.4 0l0.6-0.1l0.4-0.1l0.6-0.2l0.4-0.1l0.6 0l0.4-0.1l0.6 0.1l0.4 0.1l0.6 0.1l0.4 0.2l0.6 0.1l0.4 0l0.6-0.1l0.4-0.1l0.6-0.2l0.4-0.1l0.6-0.2l0.4-0.1l0.6-0.1l0.4 0l0.6 0l0.4 0.2l0.6 0.1l0.4 0.2l0.6 0.1l0.4 0l0.6 0.1l0.4 0l0.6 0l0.4 0l0.6 0l0.4 0l0.6 0l0.4-0.1l0.6 0l0.4-0.1l0.6 0l0.4 0l0.6-0.1l0.4 0.1l0.5 0l0.5 0l0.6 0.1l0.4 0.1l0.6 0l0.4 0l0.5 0l0.5 0l0.5-0.1l0.5-0.1l0.6 0l0.4-0.1l0.6 0l0.4 0.1l0.5 0.1l0.5 0.1l0.6 0.1l0.4 0.1l0.6 0.1l0.4 0.1l0.5 0.2l0.5 0l0.6 0.1l0.5 0l0.5-0.1l0.4 0l0.6-0.1l0.4-0.2l0.6-0.1l0.5-0.1l0.5-0.1l0.4-0.1l0.6 0l0.4 0l0.6 0l0.4-0.1l0.6 0l0.4-0.1l0.6 0l0.4-0.1l0.6 0l0.4 0l0.6 0.1l0.4 0l0.6 0.1l0.4 0l0.6 0l0.4 0.1l0.6 0l0.4 0.1l0.6 0.1l0.4 0M926.8 1834l0.5 0l0.5-0.1l0.5 0l0.5-0.1l0.5-0.3l0.5-0.3l0.5-0.4l0.5-0.2l0.5 0.2l0.5 0.2l0.5-0.1l0.5 0.3l0.5 0.1l0.5-0.4l0.5-0.1l0.5 0l0.5-0.4l0.5-0.3l0.5 0l0.5 0.2l0.5-0.2l0.5-0.4l0.5 0.1l0.5 0.3l0.5 0l0.5-0.2l0.5-0.3l0.5-0.7l0.5-0.6l0.5 0.3l0.5 0.3l0.5-0.1l0.5 0l0.5-0.5l0.5-0.7l0.5 0.1l0.5 0.4l0.5-0.3l0.5-0.6l0.5-0.1l0.5-0.1l0.5-0.4l0.5 0l0.5 0.1l0.5-0.9l0.5-1.1l0.5 0l0.5 0.3l0.5 0.1l0.5-0.4l0.5-0.5l0.5 0.2l0.5 0.2l0.5-0.5l0.5-0.5l0.5-0.2l0.5 0.1l0.5-0.1l0.5-0.3l0.5 0l0.5 0.4l0.5 0l0.5-0.1l0.5-0.3l0.5-1.3l0.5-1.1l0.5-0.1l0.5-0.2l0.5-0.4l0.5 0l0.5 0.2l0.5-0.4l0.5-0.9l0.5-1.3l0.5-1.2l0.5-0.4l0.5 0.4l0.5 0l0.5-0.7l0.6-0.6l0.5-0.6l0.5-0.4l0.5 0.2l0.5-0.5l0.5-1.4l0.5-0.4l0.5 0.5l0.5-0.2l0.5-1l0.5-0.6l0.5-0.6l0.5-0.5l0.5-0.1l0.5-0.5l0.5-1.2l0.5-0.7l0.5-0.4l0.5-1.2l0.5-0.9l0.5 0l0.5 0.1l0.5-0.7l0.5-0.5l0.5 0.8l0.5 0.8l0.5-1.1l0.5-2l0.5-1.8l0.5-1.4l0.5 0.1l0.5 1.6l0.5 0.9l0.5-1l0.5-0.6l0.5-0.2l0.5-1.5l0.5-1.9l0.5-1.7l0.5-1.2l0.5-0.7l0.5-0.8l0.5-0.4l0.5 0.4l0.5-0.6l0.5-2.3l0.5-1.9l0.5 0.2l0.5 1.2l0.5-1.2l0.5-2.3l0.5-1.5l0.5-1.8l0.5-2.1l0.5-1.6l0.5-1.4l0.5-0.2l0.5 1.2l0.5-0.9l0.5-3.2l0.5-1.6l0.5-1.1l0.5-2.8l0.5-2l0.5-0.8l0.5-2.1l0.5-2.7l0.5 0.5l0.5 2.6l0.5-1.3l0.5-4l0.5-2.5l0.5-1.7l0.5-1.8l0.5 0.4l0.5 2.1l0.5-0.3l0.5-1.8l0.5-1.9l0.5-3.5l0.5-2.4l0.5 1.9l0.5 4.2l0.5 0.6l0.5-3.3l0.5-4.5l0.5-3.4l0.5-0.3l0.5 0.7l0.5-1.1l0.5 0.4l0.5 2.3l0.5-2l0.5-5.1l0.5-3l0.5-2.3l0.5-1.5l0.5 1.5l0.5 1.5l0.5-2.1l0.5-1.4l0.5 2.8l0.5 2.7l0.5 0.3l0.5-0.4l0.5-4.5l0.5-5.8l0.5-1.1l0.5 0l0.5-2.7l0.5-2.5l0.5 0.1l0.5 1.9l0.5 1l0.5 0.9l0.5 4.3l0.5 3.1l0.5-2.3l0.5-2.1l0.5-1l0.5-0.1l0.5 1.5l0.5-2l0.5-3.6l0.5 1.6l0.5 4.7l0.5 0.3l0.5-3.5l0.5-0.1l0.5 2.8l0.5 1.8l0.5 3.3l0.5 3.7l0.5-2.1l0.5-4l0.5-0.2l0.5 0.5l0.5-1.3l0.5-0.8l0.5-1.1l0.5-1.7l0.5 0.8l0.5 0.2l0.5-2.2l0.5 1.2l0.5 3.7l0.5-1.7l0.5-4.7l0.5-0.3l0.5 3.4l0.5 3.2l0.5 3.5l0.5 6.8l0.5 7.3l0.5 4l0.5 1.9l0.5-0.7l0.5-0.7l0.6 2.7l0.5 1.4l0.5-3.4l0.5-3l0.5 0.9l0.5 2.1l0.5 1.2l0.5 2.1l0.5 1.2l0.5-2.5l0.5-1.7l0.5-2.2l0.5-5.3l0.5-4.1l0.5-0.2l0.5 1.1l0.5-1.5l0.5-1.7l0.5 2.7l0.5 2.2l0.5-1.3l0.5-1.4l0.5 1.3l0.5 5.9l0.5 6.6l0.5 0.6l0.5-2.7l0.5 0.4l0.5 1.7l0.5-3.3l0.5-7.7l0.5-5.7l0.5-2.5l0.5-0.4l0.5 0.9l0.5-2.8l0.5-7.3l0.5-4l0.5 2.7l0.5 3.9l0.5-1.3l0.5-2l0.5 1.3l0.5 3.3l0.5 2.8l0.5-0.1l0.5 0.9l0.5 4.8l0.5 6.7l0.5 4.9l0.5 1.9l0.5 0.8l0.5-0.9l0.5-4.2l0.5-3.9l0.5-2.5l0.5-5.5l0.5-5.8l0.5-2.5l0.5-2.7l0.5-1.3l0.5 4.7l0.5 10l0.5 11.8l0.5 17.1l0.5 22.1l0.5 19l0.5 12l0.5 6.5l0.5 3.3l0.5 1.8l0.5 1.1l0.5 0.6l0.5 0.5l0.5 0.4l0.5 0.2l0.5 0.2l0.5 0.2l0.5 0.1l0.5 0.1l0.5 0.2l0.5 0.1l0.5 0.2l0.5 0.2l0.5 0.3l0.5 0.3l0.5 0.3l0.5 0.3l0.5 0.3l0.5 0.2l0.5 0.1l0.5 0.1l0.5 0l0.5 0.1l0.5 0l0.5 0l0.5 0l0.5 0l0.5 0l0.5 0l0.5-0.1l0.5 0l0.5 0.1l0.5 0l0.5 0.1l0.5 0.1l0.5 0.1l0.5 0.1l0.5 0l0.5 0l0.5 0l0.5 0l0.5 0l0.5 0l0.5 0.1l0.5 0.2l0.5 0.1l0.5 0.2l0.5 0.1l0.5 0l0.5 0l0.5-0.1l0.5-0.1l0.5-0.2l0.5 0l0.5 0l0.5 0l0.5 0.1l0.5 0l0.5 0l0.5 0l0.5 0l0.5 0l0.5-0.1l0.5 0l0.5-0.1l0.5 0l0.5-0.1l0.5 0l0.5 0l0.5 0l0.5 0.1l0.5 0.1l0.5 0.1l0.5 0l0.5 0.1l0.5-0.1l0.5-0.1l0.5-0.1l0.5 0l0.5 0l0.5 0l0.5 0l0.5 0.1l0.5 0.1l0.5 0l0.5 0.1l0.5 0l0.5-0.1l0.6 0l0.5-0.2l0.5-0.1l0.5-0.1l0.5 0l0.5-0.1l0.5 0.1l0.5 0l0.5 0.1l0.5 0l0.5 0l0.5 0l0.5-0.1l0.5-0.1l0.5-0.1l0.5-0.2l0.5-0.1l0.5-0.1l0.5-0.1l0.5 0l0.5 0.1l0.5 0.1l0.5 0.1l0.5 0l0.5 0.1l0.5 0l0.5-0.1l0.5 0l0.5 0l0.5-0.1l0.5 0l0.5-0.1l0.5-0.1l0.5-0.1l0.5-0.1l0.5-0.1l0.5-0.1l0.5-0.2l0.5-0.1l0.5-0.2l0.5 0l0.5-0.1l0.5 0.1l0.5 0.1l0.5 0.1l0.5 0.1l0.5 0l0.5 0l0.5-0.1l0.5-0.1l0.5-0.1l0.5-0.1l0.5-0.1l0.5-0.1l0.5-0.1l0.5 0l0.5-0.1l0.5-0.1l0.5-0.1l0.5 0l0.5-0.1l0.5-0.1l0.5 0l0.5 0l0.5 0l0.5 0l0.5 0l0.5 0l0.5-0.1l0.5-0.1l0.5-0.1l0.5 0l0.5 0l0.5 0l0.5 0l0.5 0l0.5 0l0.5 0l0.5 0l0.5 0l0.5 0l0.5 0l0.5 0l0.5 0l0.5 0l0.5-0.1l0.5 0l0.5-0.2l0.5-0.1l0.5-0.1l0.5-0.1l0.5-0.1l0.5 0l0.5 0l0.5 0.1l0.5 0.1l0.5 0.2l0.5 0.1l0.5 0.1l0.5 0.1l0.5 0l0.5 0l0.5 0.1l0.5 0l0.5 0l0.5 0.1l0.5 0l0.5 0l0.5 0l0.5-0.1l0.5-0.1l0.5-0.1l0.5-0.1l0.5-0.1l0.5-0.1l0.5 0l0.5-0.1l0.5 0l0.5 0l0.5-0.1l0.5 0l0.5-0.1l0.5-0.1l0.5 0l0.5 0l0.5 0l0.5 0l0.5 0l0.5 0l0.5 0l0.5 0l0.5-0.1l0.5-0.1l0.5-0.1l0.5-0.1l0.5-0.1l0.5-0.1l0.5 0l0.5 0l0.5-0.1l0.5 0l0.5-0.1l0.5 0l0.5 0l0.5 0l0.5 0l0.5 0l0.5 0l0.5 0.1l0.5 0.1l0.5 0.1l0.5 0.1l0.5 0l0.5 0l0.5-0.1l0.5 0l0.5-0.1l0.5-0.1l0.5-0.1l0.6 0l0.5 0l0.5-0.1l0.5-0.1l0.5-0.2l0.5-0.3l0.5-0.5l0.5-0.7l0.5-1.1l0.5-0.5l0.5 0.7l0.5 1.1l0.5 0.9l0.5 0.5l0.5 0.3l0.5 0.2l0.5 0.1l0.5 0.1l0.5 0.1l0.5 0.1l0.5 0.1l0.5 0.1l0.5 0.1l0.5 0.1l0.5 0.1l0.5 0.1l0.5 0.1l0.5 0.1l0.5 0l0.5 0l0.5 0l0.5 0l0.5-0.1l0.5 0l0.5 0l0.5 0l0.5 0.2l0.5 0.1l0.5 0.2l0.5 0.1l0.5 0.1l0.5 0.1l0.5 0l0.5-0.1l0.5 0l0.5-0.1l0.5 0l0.5 0l0.5 0l0.5 0.1l0.5 0.1l0.5 0.1l0.5 0.1l0.5 0l0.5 0.1l0.5 0.1l0.5 0.1l0.5 0.2l0.5 0.1l0.5 0.1l0.5 0.1l0.5 0l0.5 0l0.5 0l0.5 0l0.5-0.1l0.5-0.1l0.5 0l0.5 0l0.5 0.1l0.5 0.2l0.5 0.2l0.5 0.2l0.5 0.2l0.5 0.1l0.5 0l0.5 0l0.5 0l0.5 0l0.5 0l0.5 0l0.5 0.1l0.5 0.1l0.5 0.2l0.5 0.1l0.5 0.1l0.5 0.1l0.5 0.2l0.5 0.1l0.5 0.1l0.5 0.2l0.5 0.1l0.5 0.2l0.5 0.1l0.5 0l0.5 0.1l0.5 0l0.5 0l0.5-0.1l0.5-0.1l0.5-0.1l0.5-0.2l0.5-0.1l0.5 0l0.5 0l0.5 0l0.5 0l0.5 0.1l0.5 0.1l0.5 0.1l0.5 0.2l0.5 0.1l0.5 0l0.5 0.1l0.5 0l0.5 0l0.5-0.1l0.5-0.1l0.5-0.1l0.5-0.2l0.5-0.1l0.5 0l0.5-0.1l0.5 0l0.5 0l0.5 0l0.5-0.1l0.5 0l0.5 0l0.5 0l0.5 0l0.5 0.1l0.5 0.1l0.5 0.2l0.5 0.2l0.5 0.2l0.5 0.2l0.5 0.2l0.5 0l0.5 0.1l0.5-0.1l0.5 0l0.5-0.1l0.5 0l0.5-0.1l0.5-0.1l0.5 0l0.5-0.1l0.5-0.1l0.5 0l0.5 0l0.5 0l0.5 0.1l0.5 0l0.5 0.1l0.5 0.1l0.5 0.1l0.5 0l0.6 0.1l0.5 0l0.5 0l0.5 0l0.5-0.1l0.5 0l0.5-0.1l0.5 0l0.5 0.1l0.5 0l0.5 0l0.5 0.1l0.5-0.1l0.5 0l0.5-0.1l0.5-0.1l0.5-0.1l0.5-0.1l0.5-0.1l0.5 0l0.5-0.1l0.5 0l0.5-0.1l0.5 0l0.5-0.1l0.5 0l0.5 0l0.5 0l0.5 0l0.5 0l0.5 0.1l0.5 0l0.5 0l0.5 0l0.5 0.1l0.5 0.1l0.5 0.1l0.5 0.1l0.5 0.1l0.5 0.1l0.5 0.1l0.5 0l0.5 0l0.5-0.1l0.5 0l0.5-0.1l0.5-0.1l0.5 0l0.5 0l0.5 0l0.5 0l0.5 0l0.5 0l0.5 0l0.5-0.1l0.5-0.1l0.5 0l0.5-0.1l0.5 0l0.5 0l0.5 0l0.5 0.1l0.5 0l0.5 0.1l0.5 0l0.5 0l0.5 0l0.5 0.1l0.5 0l0.5 0l0.5 0.1l0.5 0l0.5 0l0.5 0l0.5 0l0.5 0l0.5 0l0.5 0l0.5 0l0.5 0M914.2 1853.1l0.4-0.4l0.6-0.5l0.4-0.5l0.6 0l0.4 0l0.6 0l0.4 0l0.6 0.2l0.4 0.6l0.6 0.3l0.4-0.4l0.6-0.2l0.4 0l0.6-0.3l0.4-0.1l0.6 0.3l0.4 0l0.6-0.3l0.4 0l0.6-0.3l0.4-0.4l0.6 0l0.4 0.3l0.6 0.1l0.4-0.2l0.6-0.4l0.4-0.4l0.6-0.5l0.4 0l0.6 0.4l0.4 0.2l0.6 0.1l0.4-0.1l0.6-0.3l0.4-0.5l0.6-0.2l0.4 0.1l0.6-0.3l0.4-0.5l0.6-0.3l0.4-0.6l0.6-0.7l0.4 0l0.6 0.4l0.4 0.1l0.6-0.3l0.4-0.7l0.6-0.6l0.4 0.2l0.6 0.3l0.4-0.3l0.6-0.5l0.4 0.2l0.6 0.4l0.4-0.2l0.6-0.6l0.4-0.4l0.6-0.4l0.4-0.6l0.6-0.3l0.4 0l0.6 0l0.4-0.3l0.6-1.2l0.4-0.8l0.6 0.3l0.4 0.5l0.6-0.3l0.4-0.6l0.6-0.6l0.4-0.6l0.6 0.1l0.4 0.3l0.6-0.6l0.4-1l0.6-0.8l0.4-0.7l0.6-0.8l0.4-0.2l0.6 0.3l0.4 0l0.6-0.5l0.4 0.1l0.6-0.2l0.4-1.4l0.6-1.4l0.4 0.2l0.6 0.4l0.4-0.6l0.6-1l0.4-1l0.6-0.8l0.4-0.3l0.6 0.2l0.4-0.6l0.6-0.9l0.4 0.1l0.6 0.8l0.4-0.3l0.6-0.9l0.4-0.1l0.6-0.4l0.4-0.8l0.6-0.8l0.4-1.5l0.6-0.4l0.4 0.3l0.6-0.8l0.4-1.3l0.6-0.2l0.4-0.5l0.6-1.6l0.4-0.8l0.6 0.4l0.4-0.1l0.6 0l0.4 0.7l0.6-1.2l0.4-3l0.6-2.1l0.4 0l0.6 1l0.4-0.9l0.6-1.9l0.4-0.6l0.6-0.6l0.4-0.4l0.6 0.4l0.4-0.4l0.6-1l0.4 0.4l0.6 0.7l0.4-0.1l0.6-1.3l0.4-2.7l0.6-1.8l0.4 0.4l0.6 1l0.4-1l0.6-2.5l0.4-1.1l0.6-0.5l0.4-1.5l0.6-0.4l0.4 0.6l0.6-1.6l0.4-2.2l0.6-1l0.4-1.5l0.6-1l0.4 1.1l0.6 0.8l0.4-1.5l0.6-0.6l0.4-0.4l0.6-3.3l0.4-2.3l0.6 0.6l0.4-1.4l0.6-4.4l0.4-2.6l0.6 0.3l0.4-0.3l0.6-1.7l0.4-2.2l0.6-3.8l0.4-2.9l0.6 0.8l0.4 2.1l0.6-1.1l0.4-1.8l0.6-0.2l0.4-2l0.6-1.1l0.4 0.6l0.6-4l0.4-5.6l0.6-2.1l0.4 0l0.6 0.5l0.4 2l0.6 1.5l0.4-1.5l0.6-1.6l0.4-2.6l0.6-4.7l0.4-2.4l0.6 1.9l0.4 4.7l0.6 1.2l0.4-3.1l0.6-2l0.4-0.6l0.6 0l0.4-2l0.6-4.2l0.4-2.1l0.6 0.5l0.4-0.6l0.6-1.7l0.4 0.5l0.6 4l0.4 2.7l0.6-1l0.4 0.6l0.6 3.1l0.4 2.5l0.6 2.1l0.4-0.2l0.6-2l0.4 1.9l0.6 3.7l0.4 0l0.6-1l0.4 0.2l0.6-1.9l0.4-0.5l0.6 2.9l0.4-1.1l0.6-4.9l0.4-1.6l0.6-0.8l0.4-3.3l0.6-1.2l0.4 3.9l0.6 3.3l0.4-1.6l0.6-0.4l0.4 2.7l0.6 0.9l0.4 2.7l0.6 6l0.4 3.9l0.6 2.3l0.4 3l0.6 1.6l0.4 0.6l0.6 2.1l0.4 2.3l0.6 0.2l0.4 0.1l0.6 3l0.4 3.5l0.6-0.3l0.4-0.7l0.6 1.2l0.4-0.7l0.6-1.6l0.4-1.6l0.6-5.2l0.4-5.5l0.6-1.6l0.4-0.5l0.6-3.8l0.4-4.3l0.6-1.2l0.4-0.1l0.6 1.6l0.4 4.1l0.6 2.7l0.4 1.3l0.6 3.9l0.4 3l0.6 0.7l0.4 1.7l0.6 0.4l0.4-5l0.6-6l0.4-2.4l0.6-2.7l0.4-5.6l0.6-3.6l0.4-1.5l0.6-2l0.4 0.3l0.6-0.6l0.4-4.9l0.6-4l0.4 2.1l0.6 6.5l0.4 3.4l0.6-0.8l0.4 3.9l0.6 7.4l0.4 4.7l0.6 4.7l0.4 3l0.6-0.5l0.4 0.5l0.6-0.5l0.4-5.5l0.6-7.7l0.4-4.6l0.6-2.3l0.4-3.5l0.6-3l0.4-0.9l0.6 1.4l0.4 4.6l0.6 3.5l0.4 5.5l0.6 15.4l0.4 22.7l0.6 21.5l0.4 14.7l0.6 8.3l0.4 4.3l0.6 2.2l0.4 1.3l0.6 0.8l0.4 0.6l0.6 0.4l0.4 0.3l0.6 0.3l0.4 0.2l0.6 0.3l0.4 0.3l0.6 0.3l0.4 0.3l0.6 0.3l0.4 0.3l0.6 0.3l0.4 0.2l0.6 0.2l0.4 0.1l0.6 0.2l0.4 0.1l0.6 0.2l0.4 0.1l0.6 0.2l0.4 0.1l0.6 0.1l0.4 0l0.6 0.1l0.4 0l0.6 0l0.4-0.1l0.6 0l0.4-0.1l0.6 0.1l0.4 0l0.6 0.1l0.4 0.1l0.6 0.2l0.4 0.1l0.6 0.1l0.4 0.1l0.6 0l0.4 0.1l0.6 0l0.4 0l0.6 0l0.4 0l0.6 0l0.4 0l0.6 0l0.4 0l0.6-0.1l0.4-0.1l0.6 0l0.4-0.1l0.6 0l0.4 0l0.6 0.1l0.4 0.1l0.6 0l0.4 0.1l0.6 0l0.4 0l0.6 0l0.4-0.1l0.6-0.1l0.4 0l0.6 0l0.4-0.1l0.6 0l0.4 0l0.6 0l0.4 0l0.6 0l0.4 0l0.6 0l0.4-0.1l0.6 0l0.4-0.1l0.6 0l0.4-0.1l0.6 0l0.4 0l0.6 0l0.4 0l0.6 0l0.4 0l0.6 0l0.4 0l0.6 0l0.4 0l0.6 0l0.4-0.1l0.6 0l0.4 0l0.6 0l0.4 0l0.6-0.1l0.4 0l0.6 0l0.4 0l0.6-0.1l0.4-0.1l0.6 0l0.4-0.2l0.6-0.1l0.4-0.1l0.6-0.1l0.4-0.1l0.6 0l0.4 0l0.6 0l0.4 0l0.6 0l0.4 0.1l0.6 0l0.4 0l0.6 0l0.4 0l0.6-0.1l0.4 0l0.6-0.1l0.4-0.1l0.6-0.1l0.4-0.2l0.6-0.1l0.4-0.1l0.6-0.1l0.4-0.1l0.6-0.1l0.4 0l0.6 0l0.4 0.1l0.6 0l0.4 0.1l0.6 0.1l0.4 0.1l0.6 0l0.4-0.1l0.6 0l0.4-0.1l0.6-0.1l0.4-0.1l0.6-0.1l0.4 0l0.6-0.1l0.4 0l0.6-0.1l0.4 0l0.6-0.1l0.4-0.1l0.6 0l0.4-0.1l0.6 0l0.4-0.1l0.6-0.1l0.4 0l0.6-0.1l0.4 0l0.6 0l0.4 0l0.6 0.1l0.4 0.1l0.6 0l0.4 0.1l0.6 0l0.4 0l0.6 0l0.4-0.1l0.6-0.1l0.4-0.1l0.6-0.1l0.4-0.1l0.6 0l0.4-0.1l0.6 0l0.4-0.1l0.6 0l0.4 0l0.6-0.1l0.4 0l0.6 0l0.4-0.1l0.6 0l0.4-0.1l0.6 0l0.4-0.1l0.6 0l0.4-0.1l0.6 0l0.4-0.1l0.6 0l0.4 0l0.5 0l0.5 0l0.6 0l0.4 0l0.6 0.1l0.4 0l0.6 0.1l0.4 0.1l0.6 0.1l0.4 0l0.6 0.1l0.4 0l0.6 0l0.4 0l0.6 0l0.4 0.1l0.6 0l0.4 0l0.6 0l0.4-0.1l0.6 0l0.4 0l0.6 0.1l0.4 0l0.6 0l0.4 0l0.6-0.1l0.4 0l0.6-0.1l0.4-0.1l0.6-0.1l0.4 0l0.6-0.1l0.4-0.1l0.6-0.1l0.4-0.2l0.6-0.1l0.4-0.1l0.6-0.1l0.4 0l0.6 0l0.4 0l0.6 0.1l0.4 0l0.6 0.1l0.4 0.1l0.6 0l0.4 0l0.6-0.1l0.4-0.1l0.6-0.1l0.4-0.1l0.6-0.2l0.4-0.2l0.6-0.1l0.4-0.2l0.6-0.1l0.4 0l0.6 0l0.4 0l0.6 0l0.4-0.1l0.6-0.2l0.4-0.5l0.6-0.8l0.4-0.9l0.6-0.2l0.4 0.9l0.6 1l0.4 0.7l0.6 0.5l0.4 0.4l0.6 0.3l0.4 0.3l0.6 0.3l0.4 0.2l0.6 0.1l0.4 0l0.6-0.1l0.4-0.1l0.6-0.1l0.4-0.1l0.6-0.1l0.4-0.1l0.6 0l0.4 0.1l0.6 0l0.4 0.1l0.6 0l0.4 0.1l0.6 0.1l0.4 0.1l0.6 0.1l0.4 0.1l0.6 0.1l0.4 0l0.6 0l0.4 0l0.6 0.1l0.4 0l0.6 0.1l0.4 0.1l0.6 0.1l0.4 0.1l0.6 0.1l0.4 0l0.6 0.1l0.4 0l0.6 0l0.4 0l0.6-0.1l0.4-0.1l0.6 0l0.4 0l0.6 0l0.4 0.1l0.6 0.1l0.4 0.1l0.6 0.1l0.4 0.1l0.6 0.2l0.4 0.1l0.6 0.1l0.4 0.2l0.6 0.2l0.4 0.2l0.6 0.2l0.4 0.2l0.6 0.1l0.4 0.1l0.6 0.1l0.4 0l0.6 0l0.4-0.1l0.6 0l0.4 0l0.6 0l0.4 0.1l0.6 0l0.4 0.1l0.6 0l0.4 0.1l0.6 0.1l0.4 0.2l0.6 0.1l0.4 0.1l0.6 0.1l0.4 0.1l0.6 0l0.4 0l0.6 0l0.4 0l0.6 0.1l0.4 0.1l0.6 0.2l0.4 0.2l0.6 0.1l0.4 0.1l0.6 0.1l0.4 0l0.6 0l0.4-0.1l0.6-0.1l0.4-0.1l0.6 0l0.4-0.1l0.6 0l0.4 0l0.6 0l0.4 0l0.6-0.1l0.4 0l0.6 0l0.4 0l0.6 0l0.4 0l0.6 0.1l0.4 0.1l0.6 0.1l0.4 0l0.6 0.1l0.4 0.1l0.6 0l0.4-0.1l0.6 0l0.4-0.1l0.6 0l0.4 0l0.6-0.1l0.4 0l0.6 0l0.4 0l0.6 0.1l0.4 0.1l0.6 0.1l0.4 0.1l0.6 0.1l0.4 0.1l0.6 0l0.4 0.1l0.6 0.1l0.4 0l0.6 0l0.4-0.1l0.6-0.1l0.4-0.1l0.6-0.1l0.4-0.2l0.6-0.1l0.4-0.1l0.6-0.1l0.4-0.2l0.6-0.1l0.4-0.1l0.6-0.1l0.4-0.1l0.6 0l0.4 0l0.6 0.2l0.4 0.1l0.6 0.3l0.4 0.2l0.6 0.2l0.4 0.1l0.6 0.1l0.4 0l0.6 0l0.4-0.1l0.6 0l0.4 0l0.6 0l0.4 0l0.6 0.1l0.4 0l0.6 0l0.4 0l0.6 0l0.4-0.1l0.6 0l0.4-0.1l0.6 0l0.4 0l0.6 0l0.4 0.1l0.6 0.1l0.4 0l0.6 0.1l0.4 0l0.6-0.1l0.4 0l0.6-0.1l0.4-0.1l0.6 0l0.4 0l0.6 0.1l0.4 0l0.6 0l0.4 0l0.6 0l0.4-0.1l0.6-0.1l0.4-0.1l0.6-0.1l0.4-0.1l0.6 0l0.4-0.1l0.6 0.1l0.4 0l0.6 0.1l0.4 0l0.6 0.1l0.4 0.1l0.6 0.1l0.4 0.1l0.6 0.1l0.4 0.1l0.6 0.1l0.4 0l0.6 0l0.4-0.1l0.6 0l0.4-0.1l0.6 0l0.4 0l0.6 0l0.4 0l0.6 0.1l0.4 0.1l0.6 0.1l0.4 0l0.6 0l0.4 0l0.6-0.1l0.4-0.1l0.6-0.1M901.5 1873.9l0.5-0.1l0.5-0.6l0.5-0.4l0.5 0.2l0.5 0l0.5-0.3l0.5-0.2l0.5 0l0.5 0l0.5 0.1l0.5 0.2l0.5-0.1l0.5 0.3l0.5 0.2l0.5-0.2l0.5-0.3l0.5-0.3l0.5-0.5l0.5-0.1l0.5 0l0.5 0l0.5 0.4l0.5 0.5l0.5-0.2l0.5-0.8l0.5-0.7l0.5-0.3l0.5-0.1l0.5-0.3l0.5-0.2l0.5-0.1l0.5-0.2l0.5-0.1l0.5-0.2l0.5-0.5l0.5 0.1l0.5 0.3l0.5-0.3l0.5-0.5l0.5-0.3l0.5-0.2l0.5-0.3l0.5 0l0.5 0.1l0.5-0.4l0.5-0.4l0.5-0.5l0.5-0.6l0.5-0.5l0.5-0.2l0.5-0.2l0.5-0.2l0.5 0.7l0.5 0.8l0.5 0.1l0.5-0.4l0.5-0.5l0.5-0.7l0.5-0.5l0.5-0.2l0.5-0.3l0.5-0.2l0.5 0.1l0.5 0.4l0.5-0.1l0.5-0.5l0.5-0.7l0.5-1.3l0.5-0.7l0.5 0l0.5-0.5l0.5-0.9l0.5-0.7l0.5-0.1l0.5-0.3l0.5-0.7l0.5-0.1l0.5 0.3l0.5-0.3l0.5-0.9l0.5-0.9l0.5-0.6l0.5 0.2l0.5 0.2l0.5-0.5l0.5-0.4l0.5 0.1l0.5-0.4l0.5-1.1l0.5 0.1l0.5 0.6l0.5-1l0.5-1.3l0.5 0.1l0.5 0.6l0.5-0.3l0.5-1.2l0.5-1.7l0.5-1.4l0.5-0.6l0.5 0.1l0.5 0.4l0.5 0.2l0.5 0l0.5-1.6l0.5-2.4l0.5-0.7l0.5 0.4l0.5-0.3l0.5-0.6l0.5-0.4l0.5-0.7l0.5-0.2l0.5-0.6l0.5-1.8l0.5-1.5l0.5 0l0.5 1.3l0.5-0.1l0.5-1.7l0.5-0.3l0.5 0.2l0.5-1.7l0.5-2.1l0.5-0.3l0.5 0.8l0.5-0.3l0.5-1.6l0.5-1.8l0.5-1l0.5 0.7l0.5 1.1l0.5-0.5l0.5-1.1l0.5-1.3l0.5-1.2l0.5 0.1l0.5 1.1l0.5 0.5l0.5-0.5l0.5-0.7l0.5-0.8l0.5-0.3l0.5-0.5l0.5-2.7l0.5-2.8l0.5-0.6l0.5 1l0.5 0.4l0.5-1.6l0.5-1.3l0.5 0.6l0.5-0.7l0.5-2.2l0.5-1.1l0.5 0.1l0.5-0.2l0.5-1.5l0.5-2.2l0.5-1.2l0.5 0l0.5-0.5l0.5-0.8l0.5 1.2l0.5 1.6l0.5-1.8l0.5-3l0.5-0.8l0.5-0.9l0.5-1l0.5 1.1l0.5-0.9l0.5-4l0.5-2.4l0.5-1.5l0.5-2.9l0.5-2.6l0.5-0.3l0.5 0.5l0.5-1.2l0.5-2.2l0.5-0.2l0.5 0l0.5-2.7l0.5-1.7l0.5 0.8l0.5 0.7l0.5-0.4l0.5-2.9l0.5-3.9l0.5-2.2l0.5-3.3l0.5-4.3l0.5-2l0.5 0.7l0.5 0.8l0.5 0.5l0.5 2.1l0.5-0.4l0.5-4.8l0.5-2.7l0.5 3.1l0.5 5.3l0.5 2.1l0.5 0.3l0.5-2.1l0.5-3.1l0.5 0.6l0.5 1.7l0.5 0.1l0.5 1l0.5 4.1l0.5 4.6l0.5-0.4l0.5-3.2l0.5-1.1l0.5 0l0.5 0.4l0.5 0l0.5-3l0.5-1.6l0.5 1.7l0.5-2.4l0.5-5.2l0.5-0.9l0.5 1.6l0.5 0.5l0.5 1l0.5 2.2l0.5 2.5l0.5 4.1l0.5 4.5l0.5 3.5l0.5 4.2l0.5 6.4l0.5 6.4l0.5 3.4l0.5 2.6l0.5 3.7l0.5 1.4l0.5 0.8l0.5 3.4l0.5 1.8l0.5-0.6l0.5 0.2l0.5-1.9l0.5-4.4l0.5-3.2l0.5-1.6l0.5-2.2l0.5-3.4l0.5-3.3l0.5-4.2l0.5-5.3l0.5-3.3l0.5 0.3l0.5 1.2l0.5 0.8l0.5 2.9l0.5 2.7l0.5 0l0.5 2.1l0.5 2.4l0.5-0.9l0.5-1.7l0.5-1l0.5-2.5l0.5-4.5l0.5-3.7l0.5-3.8l0.5-5.2l0.5-4.2l0.5-1.3l0.5-2.2l0.5-3.3l0.5 0.3l0.5 1.8l0.5-1.7l0.5-1.4l0.5 2.3l0.5 1.5l0.5 0.1l0.5 3.6l0.5 6l0.5 5.8l0.5 6l0.5 3.3l0.5-0.7l0.5-1.1l0.5-0.7l0.5-1.7l0.5-4l0.5-5.2l0.5-6.4l0.5-5.6l0.5-1.5l0.5 0.5l0.5-0.7l0.5 1.6l0.5 8.2l0.5 11.8l0.5 14.2l0.5 20.1l0.5 20.8l0.5 14.8l0.5 8.4l0.5 4.3l0.5 2.2l0.5 1.2l0.5 0.9l0.5 0.6l0.5 0.6l0.5 0.4l0.5 0.4l0.5 0.3l0.5 0.3l0.5 0.2l0.5 0.1l0.5 0.1l0.5 0l0.5 0.1l0.5 0.1l0.5 0.1l0.5 0.1l0.5 0.2l0.5 0.2l0.5 0.2l0.5 0.2l0.5 0.2l0.5 0.2l0.5 0.1l0.5 0.1l0.5 0.1l0.5 0l0.5 0l0.5 0l0.5 0l0.5 0l0.5 0l0.5 0l0.5 0.1l0.5 0.2l0.5 0.1l0.5 0.2l0.5 0.1l0.5 0l0.5-0.1l0.5 0l0.5-0.1l0.5 0l0.5 0l0.5 0l0.5 0l0.5 0l0.5 0.1l0.5 0l0.5 0.1l0.5 0l0.5 0l0.5 0l0.5-0.1l0.5-0.1l0.5-0.1l0.5 0l0.5 0l0.5 0.1l0.5 0.1l0.5 0.2l0.5 0.2l0.5 0.1l0.5 0.1l0.5 0l0.5-0.2l0.5-0.1l0.5-0.2l0.5-0.2l0.5-0.2l0.5 0l0.5 0l0.5 0.1l0.5 0.1l0.5 0l0.5 0.1l0.5 0l0.5 0l0.5 0l0.5-0.1l0.5 0l0.5-0.1l0.5-0.1l0.5 0l0.5 0l0.5 0l0.5 0.1l0.5 0.1l0.5 0.1l0.5 0.1l0.5 0l0.5 0l0.5-0.1l0.5-0.2l0.5-0.1l0.5-0.2l0.5-0.1l0.5-0.2l0.5 0l0.5-0.1l0.5 0.1l0.5 0l0.5 0.1l0.5 0l0.5 0l0.5-0.1l0.5 0l0.5-0.1l0.5-0.1l0.5 0l0.5 0l0.5 0l0.5 0l0.5 0l0.5 0l0.5 0l0.5-0.1l0.5 0l0.5-0.1l0.5 0l0.5 0.1l0.5 0l0.5 0.1l0.5 0.1l0.5 0l0.5 0l0.5-0.1l0.5 0l0.5-0.1l0.5-0.1l0.5-0.2l0.5-0.1l0.5-0.2l0.5-0.2l0.5-0.1l0.5-0.2l0.5 0l0.5 0l0.5 0l0.5 0.1l0.5 0l0.5-0.1l0.5-0.1l0.5-0.2l0.5-0.1l0.5-0.1l0.5 0l0.5 0.1l0.5 0.1l0.5 0.1l0.5 0.1l0.5 0l0.5-0.1l0.5-0.1l0.5-0.1l0.5-0.2l0.5-0.2l0.5-0.1l0.5-0.2l0.5 0l0.5 0l0.5 0l0.5 0l0.5 0.1l0.5 0l0.5 0l0.5-0.1l0.5 0l0.5-0.1l0.5 0l0.5 0l0.5 0l0.5 0l0.5 0.1l0.5 0.1l0.5 0l0.5 0l0.5-0.1l0.5-0.1l0.5-0.1l0.5-0.1l0.5-0.1l0.5 0l0.5-0.1l0.5 0l0.5 0l0.5-0.1l0.5 0l0.5 0l0.5 0l0.5 0l0.5 0l0.5 0l0.5 0l0.5 0l0.5 0l0.5 0l0.5 0l0.5 0l0.5 0l0.5 0l0.5 0l0.5 0l0.5-0.1l0.5 0l0.5 0l0.5 0l0.5 0l0.5 0.1l0.5 0l0.5 0.1l0.5 0.1l0.5 0l0.5 0l0.5-0.1l0.5-0.1l0.5 0l0.5-0.1l0.5 0.1l0.5 0l0.5 0.1l0.5 0.1l0.5 0l0.5 0l0.5-0.1l0.5-0.1l0.5 0l0.5-0.1l0.5 0l0.5 0l0.5 0.1l0.5-0.1l0.5 0l0.5-0.1l0.5-0.1l0.5-0.1l0.5 0l0.5 0l0.5 0l0.5 0l0.5 0.1l0.5 0l0.5 0l0.5-0.1l0.5-0.1l0.5-0.1l0.5-0.1l0.5-0.1l0.5-0.1l0.5-0.1l0.5-0.1l0.5-0.1l0.5-0.3l0.5-0.2l0.5-0.5l0.5-0.6l0.5-0.8l0.5-1l0.5-0.1l0.5 1l0.5 1.2l0.5 0.8l0.5 0.5l0.5 0.4l0.5 0.2l0.5 0.1l0.5 0l0.5 0l0.5 0l0.5 0l0.5 0.1l0.5 0.1l0.5 0.1l0.5 0.2l0.5 0.1l0.5 0.1l0.5 0.1l0.5 0.1l0.5 0l0.5 0.1l0.5 0.1l0.5 0.1l0.5 0l0.5 0l0.5 0l0.5-0.1l0.5-0.2l0.5-0.1l0.5-0.1l0.5 0l0.5 0l0.5 0.1l0.5 0.2l0.5 0.1l0.5 0.1l0.5 0.1l0.5 0.1l0.5 0l0.5 0l0.5 0.1l0.5 0.1l0.5 0.2l0.5 0.1l0.5 0.1l0.5 0.1l0.5 0.1l0.5 0l0.5 0.1l0.5 0l0.5 0.1l0.5 0.2l0.5 0.1l0.5 0.1l0.5 0.1l0.5 0.1l0.5 0l0.5 0.1l0.5 0l0.5 0.1l0.5 0.1l0.5 0l0.5 0.1l0.5 0l0.5 0.1l0.5 0.1l0.5 0.1l0.5 0l0.5 0l0.5 0.1l0.5 0l0.5 0l0.5 0.1l0.5 0l0.5 0.1l0.5 0.1l0.5 0l0.5 0.1l0.5 0l0.5 0.1l0.5 0.1l0.5 0.1l0.5 0.2l0.5 0.1l0.5 0.2l0.5 0.2l0.5 0.1l0.5 0.1l0.5 0.1l0.5-0.1l0.5 0l0.5-0.1l0.5 0l0.5-0.1l0.5 0l0.5 0l0.5-0.1l0.5 0.1l0.5 0l0.5 0l0.5 0.1l0.5 0l0.5 0l0.5-0.1l0.5 0l0.5-0.1l0.5 0l0.5-0.1l0.5 0l0.5 0.1l0.5 0l0.5 0.1l0.5 0.1l0.5 0l0.5 0.1l0.5 0l0.5 0l0.5 0.1l0.5 0.1l0.5 0.1l0.5 0.1l0.5 0.1l0.5 0.1l0.5 0.1l0.5 0.1l0.5 0.1l0.5 0l0.5-0.1l0.5-0.2l0.5-0.3l0.5-0.2l0.5-0.2l0.5-0.2l0.5 0l0.5 0.1l0.5 0.1l0.5 0.2l0.5 0.2l0.5 0.2l0.5 0.1l0.5-0.1l0.5 0l0.5-0.1l0.5-0.1l0.5-0.2l0.5 0l0.5-0.1l0.5-0.1l0.5 0l0.5 0l0.5 0l0.5 0l0.5 0.1l0.5 0l0.5 0l0.5 0l0.5 0l0.5 0.1l0.5 0l0.5 0l0.5 0l0.5-0.1l0.5 0l0.5-0.1l0.5-0.1l0.5 0l0.5 0l0.5 0l0.5 0l0.5 0l0.5 0.1l0.5 0.1l0.5 0.1l0.5 0.1l0.5 0l0.5 0.1l0.5 0l0.5-0.1l0.5-0.1l0.5-0.2l0.5-0.2l0.5-0.1l0.5-0.1l0.5 0l0.5 0.1l0.5 0.1l0.5 0.1l0.5 0.1l0.5 0.1l0.5 0.1l0.5 0l0.5 0l0.5-0.1l0.5 0l0.5-0.1l0.5-0.1l0.5 0l0.5 0l0.5 0.1l0.5 0l0.5 0.1l0.5 0l0.5-0.1l0.5-0.1l0.5 0l0.5-0.1l0.5 0.1l0.5 0l0.5 0.2l0.5 0.1l0.5 0.1l0.5 0l0.5 0.1l0.5 0l0.5 0l0.5 0l0.5 0l0.5 0.1l0.5 0l0.5 0l0.5 0l0.5 0l0.5-0.1l0.5-0.1l0.5 0l0.5 0l0.5 0l0.5 0M888.9 1892.9l0.6 0l0.4-0.6l0.6-0.9l0.4-0.6l0.6-0.1l0.4 0.4l0.6 0l0.4-0.3l0.6 0.1l0.4 0.2l0.6 0.2l0.4 0l0.6-0.1l0.4-0.2l0.6 0.1l0.4 0l0.6-0.1l0.4 0.1l0.6 0l0.4-0.4l0.6-0.6l0.4-0.4l0.6-0.2l0.4 0.2l0.6 0.6l0.4 0.3l0.6-0.2l0.4-0.5l0.6-0.4l0.4-0.3l0.6-0.2l0.4-0.2l0.6-0.2l0.4-0.3l0.6-0.1l0.4-0.2l0.6-0.3l0.4-0.3l0.6-0.2l0.4-0.5l0.6-0.6l0.4 0.2l0.6 0.7l0.4-0.2l0.6-0.6l0.4-0.3l0.6 0l0.4-0.1l0.6 0.1l0.4 0.5l0.6 0.5l0.4-0.2l0.6-0.5l0.4-0.7l0.6-0.8l0.4-0.2l0.6-0.1l0.4-0.2l0.6 0.2l0.4 0.1l0.6-0.6l0.4-0.4l0.6-0.3l0.4-0.2l0.6-0.5l0.4-0.5l0.6 0.3l0.4 0.3l0.6-0.4l0.4-0.8l0.6-1.2l0.4-0.9l0.6-0.1l0.4 0l0.6-0.5l0.4-0.7l0.6-0.6l0.4-0.1l0.6 0.3l0.4 0.6l0.6-0.3l0.4-1.2l0.6-0.4l0.4-0.7l0.6-1.3l0.4-0.4l0.6 0.5l0.4-0.2l0.6-0.3l0.4-0.1l0.6-0.6l0.4-1.3l0.6-0.9l0.4 0.3l0.6 0.7l0.4 0.2l0.6-0.4l0.4-1.3l0.6-1.8l0.4-0.7l0.6 0l0.4-0.5l0.6-0.8l0.4-0.9l0.6-1.4l0.4-1.2l0.6-0.6l0.4-0.5l0.6-0.4l0.4-0.1l0.6 0.9l0.4 0.4l0.6-1l0.4-1l0.6-0.5l0.4 0.3l0.6 0.3l0.4-1.6l0.6-1.8l0.4 0l0.6 0.4l0.4-0.6l0.6-0.3l0.4-0.9l0.6-2.1l0.4-1.5l0.6 0.3l0.4 1.1l0.6-0.9l0.4-1.7l0.6 0.6l0.5 1.6l0.5-0.6l0.4-1.1l0.6-1.3l0.4-2.2l0.6-1.5l0.4-0.1l0.6 0.5l0.4 0.6l0.6 0.8l0.5-0.8l0.5-2.1l0.4-1.2l0.6-1.4l0.4-1.9l0.6-0.2l0.4 1.2l0.6 0l0.4-1.7l0.6-0.6l0.4 1.8l0.6 0.7l0.4-1.8l0.6-2.7l0.4-2.2l0.6-0.8l0.5-0.8l0.5-1.8l0.4-1.2l0.6 0.3l0.4 1.7l0.6 0.7l0.5-1l0.5-1.4l0.4-2.1l0.6-1.6l0.4 1l0.6 2.7l0.5 0.2l0.5-1.4l0.4 0.5l0.6 0.4l0.4-0.2l0.6-2.3l0.4-3.8l0.6-1.3l0.4-1.1l0.6-3.7l0.5-3l0.5 0.1l0.4 2.3l0.6 0.8l0.4-2.7l0.6-1.7l0.4 0.1l0.6-1l0.4 0l0.6-0.1l0.4-3.5l0.6-2.4l0.4-0.3l0.6-1.7l0.4-1.7l0.6-0.9l0.5-2.7l0.5-3.3l0.4-1l0.6 1.2l0.4 0.4l0.6-1.6l0.5-2l0.5-0.5l0.4 1.7l0.6 0.5l0.4-1.5l0.6 1l0.5 3.8l0.5 1.1l0.4-1.5l0.6 0.7l0.4 4.1l0.6 5.4l0.4 3.1l0.6 0.1l0.4-3.4l0.6-5.5l0.4-3.6l0.6-3l0.4-3.7l0.6-2.1l0.4 1.8l0.6 2.3l0.4-0.2l0.6 1l0.4-0.3l0.6-1.7l0.5 3.4l0.5 4l0.4 0.5l0.6 3.2l0.4 5.4l0.6 3.2l0.5 3.8l0.5 6.5l0.4 6.5l0.6 5l0.4 5.7l0.6 5.2l0.5 2.7l0.5 2.9l0.4 3l0.6 1l0.4 0.6l0.6 1l0.4-0.3l0.6-2.9l0.4-3.7l0.6-2.9l0.4-3.3l0.6-4.8l0.4-4.5l0.6-3.6l0.4-6.2l0.6-7.5l0.4-4.4l0.6-1.8l0.4-0.3l0.6 1.6l0.5 2l0.5 2.8l0.4 4.1l0.6 1.4l0.4-1.3l0.6-1.2l0.5-0.6l0.5-1.6l0.4-4.9l0.6-5.7l0.4-4.1l0.6-4.9l0.5-4.3l0.5 0.2l0.4-0.5l0.6-2.6l0.5 0.5l0.5-1.7l0.5-3.5l0.5 2.3l0.5 2.5l0.5-2.5l0.5-0.5l0.5 3.7l0.4 3.7l0.6 5.4l0.5 6.4l0.5 2.5l0.4 1.1l0.6 2.4l0.5-0.8l0.5-5.8l0.5-4.5l0.5-0.5l0.4-3l0.6-6.4l0.5-1.9l0.5 1l0.5-2.2l0.5 0.6l0.4 6.9l0.6 8.2l0.5 12.9l0.5 20.7l0.5 20.9l0.5 14.6l0.4 8.3l0.6 4.2l0.5 2.1l0.5 1.1l0.5 0.7l0.5 0.5l0.5 0.3l0.5 0.4l0.5 0.3l0.5 0.3l0.4 0.3l0.6 0.3l0.5 0.3l0.5 0.2l0.4 0.2l0.6 0.2l0.5 0.2l0.5 0.2l0.5 0.2l0.5 0.2l0.4 0.1l0.6 0.1l0.5 0.1l0.5 0.1l0.5 0.2l0.5 0.1l0.4 0.2l0.6 0.1l0.5 0.1l0.5 0.1l0.5-0.1l0.5 0l0.4-0.1l0.6-0.1l0.5 0l0.5 0l0.5 0.1l0.5 0l0.4 0.1l0.6 0l0.5 0l0.5 0l0.5 0l0.5 0l0.5 0l0.5 0.1l0.5 0.1l0.5 0.1l0.5 0.1l0.5 0.1l0.5 0.1l0.5 0l0.4 0.1l0.6 0.1l0.5 0l0.5 0.1l0.5 0l0.5-0.1l0.4 0l0.6 0l0.5-0.1l0.5 0l0.5-0.1l0.5 0l0.4 0l0.6-0.1l0.5 0l0.5 0l0.5 0l0.5 0l0.4 0.1l0.6 0.1l0.5 0.1l0.5 0.1l0.5 0l0.5 0.1l0.5 0l0.5-0.1l0.5 0l0.5-0.1l0.5 0l0.5-0.1l0.5-0.1l0.5-0.1l0.5 0l0.5-0.1l0.5 0l0.5 0.1l0.5 0l0.5 0.1l0.4 0l0.6 0l0.5 0l0.5-0.1l0.5-0.1l0.5-0.1l0.4-0.1l0.6 0l0.5-0.1l0.5 0l0.5-0.1l0.5 0l0.4-0.1l0.6-0.1l0.5-0.1l0.5 0l0.5 0l0.5 0l0.5 0l0.5 0l0.5 0l0.5-0.1l0.5-0.1l0.5 0l0.5 0l0.5 0l0.4 0l0.6-0.1l0.5 0l0.5-0.1l0.5 0l0.5-0.1l0.4-0.1l0.6-0.1l0.4-0.1l0.6-0.1l0.5-0.1l0.5-0.1l0.5-0.1l0.5 0l0.4 0l0.6 0l0.5 0l0.5 0l0.5 0l0.5-0.1l0.4 0l0.6-0.1l0.5 0l0.5-0.1l0.5 0l0.5 0l0.4-0.1l0.6 0l0.5 0l0.5 0l0.5 0.1l0.5 0l0.4 0l0.6-0.1l0.5 0l0.5 0l0.5-0.1l0.5-0.1l0.4-0.1l0.6-0.1l0.5 0l0.5 0l0.5 0l0.5 0l0.4 0l0.6 0l0.5 0l0.5 0l0.5-0.1l0.5-0.1l0.4-0.1l0.6 0l0.5 0l0.5-0.1l0.5 0l0.5 0l0.4-0.1l0.6-0.1l0.5-0.1l0.5-0.1l0.5-0.2l0.5 0l0.5-0.1l0.5 0l0.5 0.1l0.5 0.1l0.5 0.1l0.5 0.2l0.5 0l0.5 0.1l0.4 0l0.6 0l0.5-0.1l0.5 0l0.5 0l0.5 0l0.4 0l0.6 0.1l0.4 0l0.6 0l0.5 0l0.5-0.1l0.5-0.1l0.5-0.1l0.4 0l0.6-0.1l0.5-0.1l0.5 0l0.5 0l0.5 0l0.4 0.1l0.6 0l0.5 0l0.5 0l0.5-0.1l0.5-0.1l0.4-0.2l0.6-0.2l0.5-0.1l0.5-0.2l0.5-0.1l0.5 0l0.4 0l0.6 0.1l0.5 0l0.5 0l0.5 0l0.5 0l0.4-0.1l0.6-0.1l0.5-0.1l0.5-0.1l0.5 0l0.5 0l0.4 0l0.6 0l0.5 0.1l0.5 0.1l0.5 0.1l0.5 0.2l0.4 0.1l0.6 0.1l0.5 0l0.5-0.1l0.5 0l0.5-0.1l0.4 0l0.6-0.1l0.5 0l0.5-0.1l0.5-0.1l0.5-0.1l0.4-0.1l0.6-0.1l0.5-0.1l0.5 0l0.5 0l0.5-0.1l0.5-0.1l0.5-0.3l0.4-0.4l0.6-0.6l0.5-1l0.5-1.1l0.5-0.3l0.5 0.8l0.4 1l0.6 0.8l0.4 0.6l0.6 0.4l0.5 0.3l0.5 0.3l0.5 0.3l0.5 0.2l0.4 0.3l0.6 0.2l0.5 0.1l0.5 0.2l0.5 0.1l0.5 0l0.4 0l0.6-0.1l0.5-0.1l0.5-0.2l0.5-0.2l0.5-0.1l0.4-0.1l0.6 0l0.5 0l0.5 0.2l0.5 0.1l0.5 0.2l0.4 0.2l0.6 0.2l0.5 0.1l0.5 0.1l0.5 0.1l0.5 0l0.4 0.1l0.6 0l0.5 0l0.5 0l0.5 0l0.5 0l0.4 0.1l0.6 0l0.5 0.1l0.5 0.2l0.5 0.2l0.5 0.2l0.4 0.1l0.6 0.2l0.5 0.2l0.5 0.1l0.5 0.1l0.5 0.1l0.4 0l0.6 0l0.5 0l0.5 0l0.5 0.1l0.5 0l0.5 0.1l0.5 0.1l0.5 0l0.5 0.1l0.5 0l0.5 0.1l0.5 0l0.5 0.1l0.4 0.1l0.6 0.1l0.5 0.1l0.5 0l0.5 0.1l0.5 0.1l0.5 0.1l0.5 0l0.4 0.1l0.6 0l0.5 0.1l0.5 0.1l0.5 0l0.5 0l0.4 0l0.6 0l0.5 0l0.5 0.1l0.5 0.1l0.5 0.1l0.4 0.2l0.6 0.1l0.5 0.1l0.5 0.1l0.5-0.1l0.5-0.1l0.4-0.2l0.6-0.2l0.5-0.2l0.5-0.2l0.5 0l0.5 0l0.4 0.1l0.6 0.2l0.5 0.2l0.5 0.2l0.5 0.2l0.5 0.2l0.4 0.1l0.6 0.2l0.5 0.1l0.5 0.1l0.5 0l0.5 0l0.4-0.1l0.6-0.2l0.5-0.1l0.5 0l0.5-0.1l0.5 0l0.4 0.1l0.6-0.1l0.5 0l0.5-0.1l0.5-0.1l0.5-0.1l0.4-0.1l0.6-0.1l0.5 0l0.5 0l0.5 0l0.5 0.1l0.5 0l0.5 0.1l0.5 0l0.5-0.1l0.5 0l0.5 0l0.5 0l0.5 0l0.4 0l0.6 0l0.5 0l0.5 0l0.5 0.2l0.5 0.1l0.5 0.2l0.5 0.2l0.5 0.1l0.5 0.1l0.5 0l0.5-0.1l0.5-0.1l0.5 0l0.4-0.1l0.6 0l0.5-0.1l0.5 0l0.5 0l0.5 0l0.4 0l0.6 0l0.5-0.1l0.5 0l0.5-0.1l0.5 0l0.4-0.1l0.6 0l0.5 0.1l0.5 0.1l0.5 0l0.5 0.1l0.4 0l0.6-0.1l0.5-0.1l0.5-0.1l0.5-0.1l0.5 0l0.4-0.1l0.6 0l0.5 0l0.5 0l0.5 0l0.5 0l0.4 0.1l0.6 0.1l0.5 0.1l0.5 0.1l0.5 0.1l0.5 0.1l0.4-0.1l0.6-0.1l0.5-0.1l0.5 0l0.5-0.1l0.5 0.1l0.5 0l0.5 0.1l0.5 0.1l0.5 0l0.5 0l0.5 0l0.5-0.1l0.5-0.1l0.5 0l0.5 0l0.5 0l0.5 0.1l0.5 0.1l0.5 0l0.5 0l0.5 0l0.5 0l0.5-0.1l0.5 0l0.5 0.1l0.5 0l0.5 0l0.5 0l0.5 0.1l0.5 0l0.5 0.1l0.5 0l0.5 0l0.4 0l0.6-0.1l0.5 0l0.5-0.1l0.5-0.1l0.5 0l0.4 0l0.6 0l0.5 0" stroke="#1a1a1a" stroke-width="1.35" fill="none" stroke-linejoin="round"/>
<polyline points="1273.2,1920.8 876.2,1920.8 876.2,1700.8 1002.7,1500.8 1399.7,1500.8 1399.7,1720.8 1273.2,1920.8" stroke="#3a3a3a" stroke-width="1.7" fill="none" stroke-linejoin="round"/>
<path d="M876.2 1920.8v3M896.1 1920.8v3M915.9 1920.8v3M935.8 1920.8v3M955.6 1920.8v3M975.5 1920.8v3M995.3 1920.8v3M1015.2 1920.8v3M1035 1920.8v3M1054.9 1920.8v3M1074.7 1920.8v3M1094.6 1920.8v3M1114.4 1920.8v3M1134.2 1920.8v3M1154.1 1920.8v3M1174 1920.8v3M1193.8 1920.8v3M1213.7 1920.8v3M1233.5 1920.8v3M1253.3 1920.8v3M1273.2 1920.8v3M1399.7 1720.8l3.5 1M1387 1740.8l3.5 1M1374.4 1760.8l3.5 1M1361.8 1780.8l3.5 1M1349.1 1800.8l3.5 1M1336.5 1820.8l3.5 1M1323.8 1840.8l3.5 1M1311.2 1860.8l3.5 1M1298.5 1880.8l3.5 1M1285.9 1900.8l3.5 1" stroke="#3a3a3a" stroke-width="1.4" fill="none"/>
<text transform="translate(870.9 1927.4) scale(1 1.14)" text-anchor="end" font-size="24" font-weight="bold">0</text>
<text transform="translate(870.9 1872.9) scale(1 1.14)" text-anchor="end" font-size="24" font-weight="bold">5000</text>
<text transform="translate(870.9 1818.3) scale(1 1.14)" text-anchor="end" font-size="24" font-weight="bold">10000</text>
<text transform="translate(870.9 1763.8) scale(1 1.14)" text-anchor="end" font-size="24" font-weight="bold">15000</text>
<text transform="translate(870.9 1709.2) scale(1 1.14)" text-anchor="end" font-size="24" font-weight="bold">20000</text>
<text transform="translate(876.2 1945.6) scale(1 1.14)" text-anchor="middle" font-size="24" font-weight="bold">6000</text>
<text transform="translate(975.5 1945.6) scale(1 1.14)" text-anchor="middle" font-size="24" font-weight="bold">7000</text>
<text transform="translate(1074.7 1945.6) scale(1 1.14)" text-anchor="middle" font-size="24" font-weight="bold">8000</text>
<text transform="translate(1174 1945.6) scale(1 1.14)" text-anchor="middle" font-size="24" font-weight="bold">9000</text>
<text transform="translate(1273.2 1945.6) scale(1 1.14)" text-anchor="middle" font-size="24" font-weight="bold">10000</text>
<text transform="matrix(0.95 0 -0.720 0.947 1412.2 1733.3)" font-size="22" font-weight="bold">3</text>
<text transform="matrix(0.95 0 -0.720 0.947 1399.5 1753.3)" font-size="22" font-weight="bold">6</text>
<text transform="matrix(0.95 0 -0.720 0.947 1386.9 1773.3)" font-size="22" font-weight="bold">9</text>
<text transform="matrix(0.95 0 -0.720 0.947 1374.2 1793.3)" font-size="22" font-weight="bold">12</text>
<text transform="matrix(0.95 0 -0.720 0.947 1361.6 1813.3)" font-size="22" font-weight="bold">15</text>
<text transform="matrix(0.95 0 -0.720 0.947 1349 1833.3)" font-size="22" font-weight="bold">18</text>
<text transform="matrix(0.95 0 -0.720 0.947 1336.3 1853.3)" font-size="22" font-weight="bold">21</text>
<text transform="matrix(0.95 0 -0.720 0.947 1323.7 1873.3)" font-size="22" font-weight="bold">24</text>
<text transform="matrix(0.95 0 -0.720 0.947 1311 1893.3)" font-size="22" font-weight="bold">27</text>
<text transform="matrix(0.95 0 -0.720 0.947 1298.4 1913.3)" font-size="22" font-weight="bold">30</text>
<text x="949" y="2000.5" font-size="30" font-weight="bold">Wavenumber(cm<tspan dy="-13" font-size="25">-1</tspan><tspan dy="13" dx="1" font-size="25">)</tspan></text>
<text transform="translate(790 1972) rotate(-90)" font-size="30" font-weight="bold">Radiation intensity(a.u.)</text>
<text transform="matrix(0.535 -0.845 1 0 1335 1957)" font-size="30" font-weight="bold">Horizontal position(mm)</text>
<text transform="translate(1242 1563.5) scale(1 1.09)" font-size="47.5" font-weight="bold">Case3</text>
<text x="1158" y="1612" font-size="46" fill="#e3141b">H<tspan font-size="32" dy="9">2</tspan><tspan dy="-9">O</tspan></text>
<line x1="1202" y1="1631" x2="1168" y2="1674.7" stroke="#e3141b" stroke-width="3.8"/><polygon points="1160,1685 1162.5,1667.9 1175.9,1678.4" fill="#e3141b"/>
<line x1="1212" y1="1634" x2="1242.3" y2="1675.5" stroke="#e3141b" stroke-width="3.8"/><polygon points="1250,1686 1234.3,1678.9 1248,1668.9" fill="#e3141b"/>
<path d="M1513.4 1749.6L1395.1 1938.7M1511 1751H1534M1499.8 1768.9H1520.9M1486.1 1790.9H1508.5M1471.9 1813.6H1495.5M1458.5 1834.9H1482.5M1446.5 1854.1H1469.4M1432.3 1876.8H1457M1420.3 1896.1H1443.2M1408.2 1915.3H1431.5M1394 1938H1419.9" stroke="#000" stroke-width="6.3" fill="none" stroke-linejoin="miter"/>
<text transform="translate(1551.9 1749.6) scale(1 1.15)" font-size="28.5" font-weight="bold">P1</text>
<text transform="translate(1538.8 1773.7) scale(1 1.15)" font-size="28.5" font-weight="bold">P2</text>
<text transform="translate(1522.3 1795.7) scale(1 1.15)" font-size="28.5" font-weight="bold">P3</text>
<text transform="translate(1507.2 1819) scale(1 1.15)" font-size="28.5" font-weight="bold">P4</text>
<text transform="translate(1494.1 1844.5) scale(1 1.15)" font-size="28.5" font-weight="bold">P5</text>
<text transform="translate(1477.5 1867.9) scale(1 1.15)" font-size="28.5" font-weight="bold">P6</text>
<text transform="translate(1463.9 1893.3) scale(1 1.15)" font-size="28.5" font-weight="bold">P7</text>
<text transform="translate(1450.1 1914.6) scale(1 1.15)" font-size="28.5" font-weight="bold">P8</text>
<text transform="translate(1437.8 1936.6) scale(1 1.15)" font-size="28.5" font-weight="bold">P9</text>
<text transform="translate(1421.2 1955.9) scale(1 1.15)" font-size="28.5" font-weight="bold">P10</text>
</g>
</svg></body></html>
